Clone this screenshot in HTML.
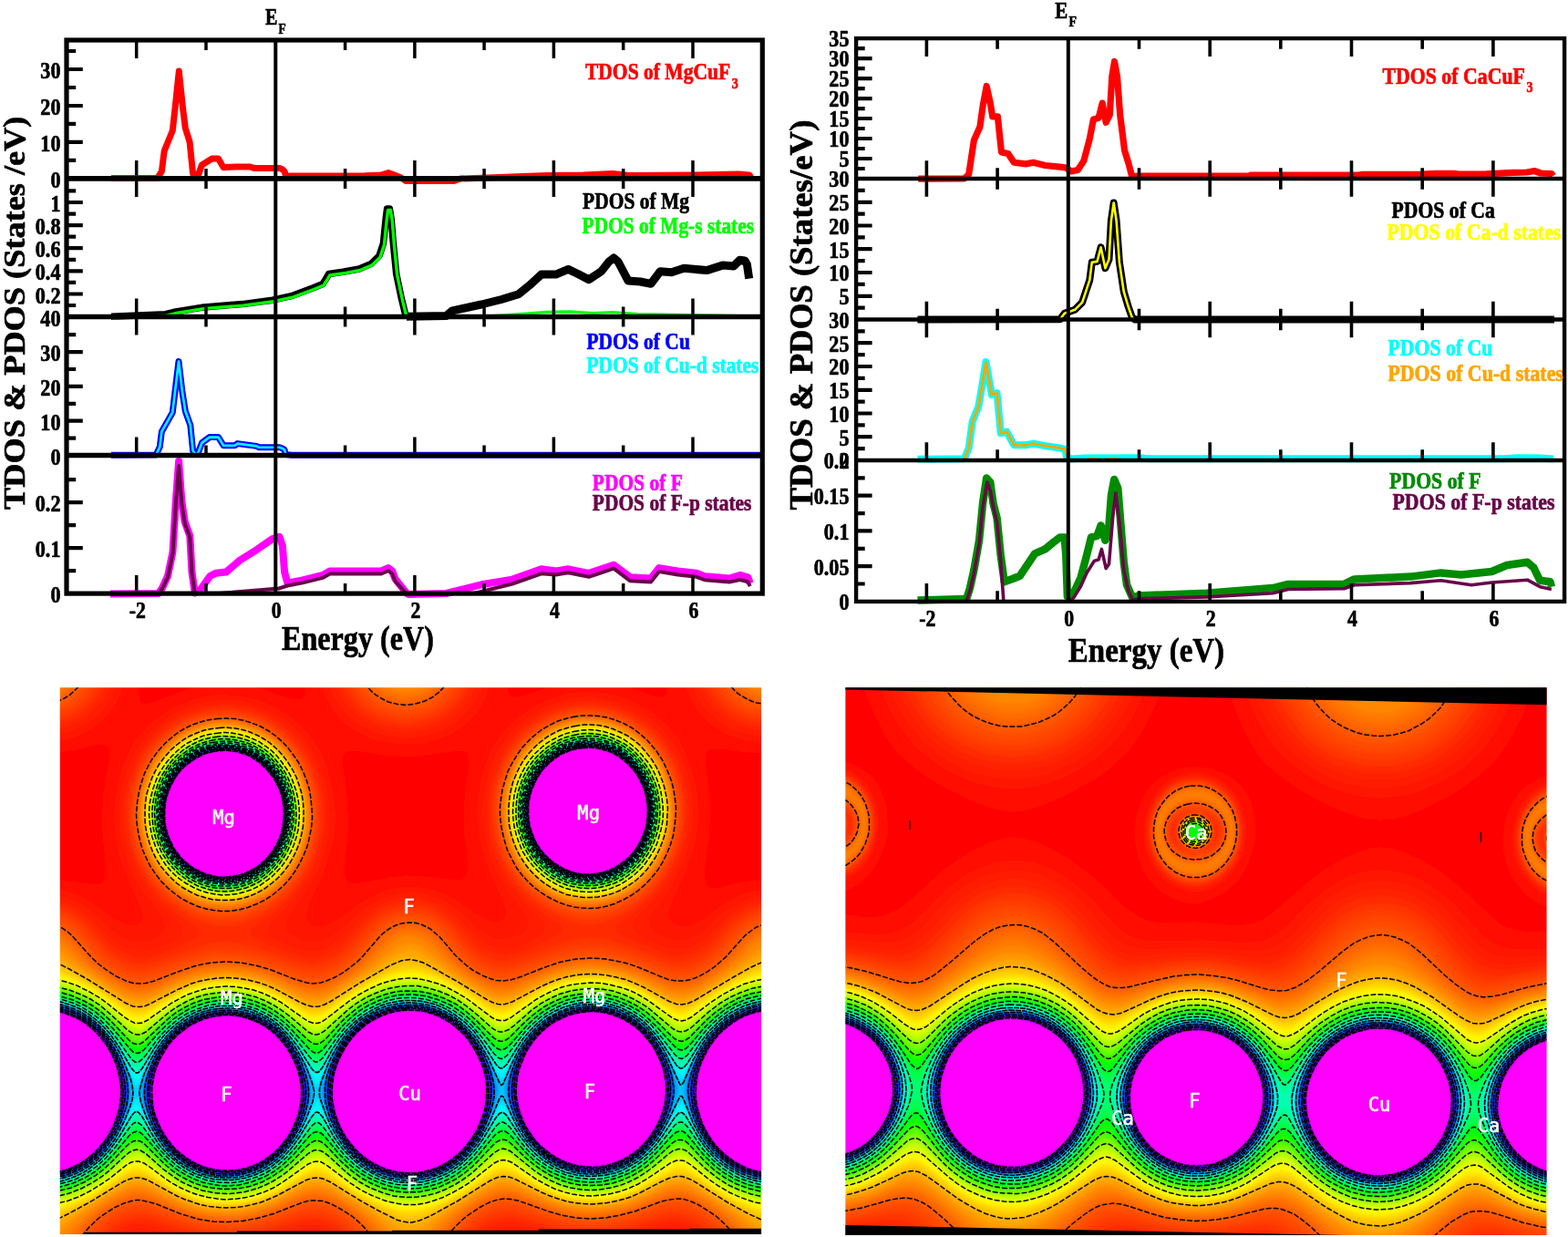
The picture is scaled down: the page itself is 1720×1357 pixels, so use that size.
<!DOCTYPE html>
<html lang="en">
<head>
<meta charset="utf-8">
<title>TDOS and PDOS of MgCuF3 and CaCuF3 with electron charge density maps</title>
<style>
html,body{margin:0;padding:0;background:#fff;}
body{width:1720px;height:1357px;overflow:hidden;}
svg{display:block;font-family:'Liberation Serif',serif;font-weight:bold;}
text{stroke-width:0.7px;stroke-linejoin:round;}
.mono{stroke:#fff;stroke-width:0.6px;}
.mono{font-family:'DejaVu Sans Mono','Liberation Mono',monospace;font-weight:normal;}
</style>
</head>
<body>
<svg width="1720" height="1357" viewBox="0 0 1720 1357">
<defs>
<clipPath id="clipL"><rect x="70" y="40" width="770" height="616"/></clipPath><clipPath id="clipR"><rect x="936" y="38" width="784" height="626"/></clipPath>
<clipPath id="mapL"><rect x="65.8" y="754.3" width="769.3000000000001" height="599.7"/></clipPath><filter id="mapLb" x="-5%" y="-5%" width="110%" height="110%"><feGaussianBlur stdDeviation="1.6"/></filter><clipPath id="mapR"><rect x="927.4" y="754.2" width="769.1999999999999" height="600.8"/></clipPath><filter id="mapRb" x="-5%" y="-5%" width="110%" height="110%"><feGaussianBlur stdDeviation="1.6"/></filter>
</defs>
<rect width="1720" height="1357" fill="#fff"/>
<g id="maps">
<g clip-path="url(#mapL)">
<g>
<g filter="url(#mapLb)">
<rect x="35.8" y="724.3" width="829.3000000000001" height="659.7" fill="#ff0300"/>
<path fill="#ff0800" d="M36 724l116 0 0 34 1 6 1 4 1 2 3 2 2 0 8-2 28-11 16-5 16-3 16-2 16 1 16 3 16 4 26 9 6 1 4 0 3-1 2-2 1-2 1-4 1-34 218 0 2 24 1 8 1 4 2 2 2 2 4 0 10-2 24-8 14-4 16-3 14-1 16 1 14 2 14 4 28 10 6 1 4 0 2-1 2-1 2-4 0-2 2-8 1-24 131 0 0 98-16 3-18 1-14 0-26-4-8 0-4 0-2 1-3 3-1 4 0 6 5 40 0 22-1 20-4 32-1 10 1 6 1 4 3 3 4 1 8-1 26-6 16-2 10 0 8 0 16 3 0 416-107 0-7-3-6-2-6-1-8-1-14 1-32 5-16 1-44 0-46-6-14-1-8 1-6 1-6 2-7 3-182 0-9-3-12-1-14 0-24 4-98 0-24-4-14-1-12 1-6 2-5 2-103 0 0-417 14-2 14 0 10 1 22 3 8 1 6-1 2-1 2-3 2-5 0-6-4-40 0-24 1-20 6-34 1-10 0-4-2-3-2-1-4-1-8 1-22 5-14 2-16 1-16-1zM382 824l-2 1-2 2-2 3 0 4 1 10 4 30 1 18 0 22-4 40 1 8 2 4 3 2 2 1 6 0 36-7 18-2 20 1 32 4 4 0 4 0 3-3 3-4 1-8-4-36 0-14 0-22 5-40-1-8-2-4-3-2-6 0-36 5-12 1-12 0-20-1-32-5z"/>
<path fill="#ff0d00" d="M36 724l110 0-1 16-2 14-5 14-5 12-7 10-8 8-12 8-12 5-14 5-16 3-14 1-14-1zM343 724l205 0-1 8-2 20-4 20-2 6-4 8-5 6-4 4-8 6-10 6-12 5-10 4-10 3-12 2-12 1-12 0-10-1-10-1-12-3-10-3-12-6-8-4-8-5-7-6-5-6-3-6-4-8-3-8-4-20-1-12zM742 724l124 0 0 92-12 3-12 1-14 0-12-2-12-3-14-4-12-6-12-7-7-6-4-6-3-6-3-8-4-12-2-12-1-12zM628 754l16-1 16 1 16 3 18 6 18 9 21 12 10 8 4 4 4 6 4 8 3 10 8 26 4 22 2 20-1 20-2 18-4 16-9 32-2 8 0 4 0 4 3 4 3 2 2 0 4 0 4-1 6-2 28-14 10-4 12-3 10-1 10 0 10 0 10 3 0 410-95 0-9-7-8-4-10-3-10-1-16 1-44 7-24 1-14 0-12-1-46-7-10-1-8 0-10 2-8 3-8 4-8 6-155 0-8-6-8-4-7-2-10-1-16 1-30 6-20 3-16 1-16 0-22-2-42-8-16-1-10 1-8 2-8 4-8 6-90 0 0-412 8-1 8-1 10 0 8 2 10 2 10 3 26 11 6 2 6 1 2-1 2-2 2-4-1-8-10-40-3-20-1-20 1-18 2-14 3-12 6-22 5-12 5-8 5-8 5-6 7-6 8-6 10-7 10-5 10-5 10-4 12-3 10-2 10-2 10 0 10 1 10 1 10 2 10 3 10 4 10 5 14 8 12 8 8 6 7 8 6 10 4 10 6 16 3 14 3 14 2 14 1 14 0 14-2 12-2 14-11 44 0 8 1 4 2 2 2 1 6-1 8-2 22-11 14-6 16-4 10-2 8 0 14 1 16 3 14 4 24 10 6 1 4 0 2 0 2-2 1-4 0-4-1-9-7-29-4-18-2-18 0-18 2-18 4-18 6-22 6-16 4-8 6-8 9-8 14-9 16-8 16-7 14-5z"/>
<path fill="#ff1400" d="M36 724l104 0-1 10-1 8-2 8-3 10-4 8-4 8-5 6-5 6-7 6-8 6-8 4-8 4-10 3-8 2-8 1-10 0-12-1zM349 724l193 0-1 10-2 10-2 10-3 8-3 8-5 8-4 6-6 6-6 6-8 5-8 5-10 4-10 3-8 2-10 1-10 1-10-1-10-1-10-2-10-3-10-5-8-4-8-6-6-5-5-6-5-6-4-8-4-8-3-8-2-10-2-10zM747 724l119 0 0 87-10 2-12 1-12 0-10-1-12-3-10-3-10-5-9-6-7-6-8-8-5-8-4-8-4-10-3-10-2-10zM626 760l8-1 10 0 10 0 10 1 10 2 10 3 10 4 8 4 16 10 8 7 7 6 6 8 5 6 4 8 4 8 7 18 5 20 2 20 0 20-3 20-6 20-6 16-13 28-4 10-1 4 1 4 2 4 2 2 4 3 6 1 6 0 6-2 10-5 20-15 12-7 12-6 10-3 12-2 10-1 10 1 10 2 0 406-86 0-12-11-10-7-6-2-6-2-12-1-14 1-42 8-14 1-14 1-14-1-16-1-48-8-8-1-8 0-10 3-10 4-8 7-10 9-138 0-10-9-10-7-8-3-10-2-8 0-9 1-33 7-16 3-14 1-14 1-14-1-14-1-14-3-34-7-8-1-8 0-10 1-10 5-8 5-11 10-81 0 0-407 8-1 10-1 10 1 10 2 10 3 12 6 11 7 19 14 10 5 6 2 6 0 4-1 2-2 1-2 1-2 1-4-2-6-17-38-5-14-3-10-2-10-2-12-1-12 0-10 1-12 2-14 3-14 4-12 4-10 6-12 5-8 9-10 9-9 10-7 10-7 12-5 12-5 12-3 12-2 12 0 12 1 12 2 12 3 12 5 12 6 10 7 10 8 8 8 6 8 7 10 6 12 4 10 3 12 3 12 2 12 1 12 0 12-1 12-2 12-4 14-7 20-15 32-2 8-1 4 0 4 3 4 3 3 4 1 4 0 4 0 6-2 10-5 26-19 14-8 10-4 8-3 10-2 10 0 10 0 8 1 8 2 10 3 8 4 8 4 24 17 8 4 8 3 6 1 4-2 4-3 1-5 0-4-3-8-13-28-6-16-6-20-3-20-1-16 1-16 3-16 4-16 6-16 8-14 9-12 10-10 14-10 14-9 16-6 10-3z"/>
<path fill="#ff1c00" d="M36 724l98 0-3 16-2 8-3 8-4 8-3 6-5 7-6 7-6 5-6 4-8 5-8 4-8 2-8 2-8 1-8 1-12-1zM355 724l180 0-1 8-2 10-2 8-3 8-4 8-4 6-4 6-6 6-6 6-7 5-8 5-8 3-8 3-8 2-8 1-10 1-10-1-8-1-8-2-8-2-8-4-8-4-8-5-6-6-6-6-5-7-4-6-4-8-3-8-2-8-2-8zM754 724l112 0 0 80-10 3-10 1-10 0-10-1-10-3-10-3-10-5-8-5-8-7-6-6-6-8-4-8-4-8-3-10-2-10zM625 766l9-1 10-1 10 1 8 1 10 2 10 3 10 4 8 4 8 5 8 6 8 7 6 7 7 8 6 10 4 8 4 10 4 10 2 10 2 10 1 10 0 10 0 10-1 10-2 10-2 10-4 12-8 18-8 14-17 24-5 8-1 4 0 4 2 4 2 3 4 3 4 2 10 4 10 2 10-1 7-3 7-4 6-5 16-15 8-6 10-6 10-5 12-4 12-2 12 1 12 2 0 400-78 0-14-15-6-6-6-4-6-3-6-2-6-1-8-1-14 2-28 6-16 3-14 1-14 1-14 0-16-2-50-10-8-1-8 1-6 1-6 2-10 6-10 8-13 14-120 0-13-13-10-9-10-5-6-2-6 0-8 0-10 1-32 8-18 3-14 1-14 1-14-1-14-1-16-3-34-8-8-2-8 0-6 1-6 2-10 5-10 8-14 14-72 0 0-401 12-2 12 1 10 2 12 4 10 5 8 6 24 22 6 4 8 5 6 2 10 1 10-1 8-4 4-3 3-3 1-2 1-4-2-6-3-6-15-20-8-12-7-12-5-12-4-12-3-10-2-12-1-12 0-16 1-14 3-12 4-14 6-14 5-10 7-10 9-10 8-7 10-8 10-6 12-6 12-4 12-2 12-1 12 0 12 1 14 4 12 5 10 5 10 6 10 8 9 9 7 10 7 10 4 10 4 10 4 12 2 10 2 14 1 12-1 12-2 14-2 10-4 14-4 10-6 12-5 8-21 30-4 8 0 4 1 4 3 4 5 3 8 4 10 2 8 0 8-2 6-3 8-5 25-23 7-5 8-5 10-5 10-3 10-2 10-1 8 0 10 2 8 3 8 3 8 4 8 6 9 7 15 14 8 6 4 2 6 3 6 1 6 0 9-2 5-2 4-2 4-3 2-3 1-2 0-4-1-4-3-6-16-22-10-16-8-16-6-18-4-20-2-20 2-20 4-18 5-16 7-14 9-14 11-12 13-10 14-9 14-6z"/>
<path fill="#ff2400" d="M36 724l92 0-1 8-2 8-4 14-5 8-3 6-5 6-6 6-6 6-6 4-6 3-8 4-14 4-8 1-8 0-10-1zM361 724l168 0-2 16-3 8-3 8-7 13-4 5-6 7-6 5-6 4-6 4-8 3-8 3-8 2-8 1-8 1-8-1-8-1-8-1-8-3-6-3-8-4-12-9-6-6-5-6-4-6-4-8-3-8-3-8zM760 724l106 0 0 75-10 2-8 1-10 0-10-1-10-2-8-3-8-4-8-5-8-6-6-6-5-7-5-8-4-8-3-10-2-8zM627 770l11-1 10 0 10 0 10 2 8 2 10 4 10 5 8 5 8 6 8 7 6 6 6 8 7 10 4 8 4 10 4 10 4 18 1 20-1 20-2 10-3 10-3 10-4 10-5 8-6 10-10 14-23 24-4 6-2 4 1 2 2 4 2 2 6 4 7 4 17 7 12 2 6 1 6-1 8-3 10-5 8-7 15-16 7-6 8-6 10-6 12-4 12-2 12 1 12 2 0 395-71 0-17-20-6-5-6-5-7-4-7-3-6-1-8-1-14 2-30 7-16 3-14 2-14 1-16-1-16-2-50-11-8 0-8 0-6 1-6 3-6 3-6 4-10 9-16 18-106 0-16-18-10-9-6-4-6-3-6-1-6-1-8 0-10 1-34 9-16 3-16 2-14 0-14 0-14-2-18-4-34-8-8-2-8 0-6 1-6 2-6 3-6 3-10 9-17 19-65 0 0-396 12-2 10 0 12 3 10 4 8 5 9 6 8 8 15 15 8 7 8 5 8 3 6 1 6 1 6-1 8-2 8-3 9-4 7-4 4-4 2-3 0-3 0-2-3-4-5-6-16-16-8-8-7-10-8-12-6-12-4-10-4-14-3-12-1-16 0-14 2-14 4-16 6-16 6-12 7-10 8-10 8-8 10-7 10-6 12-6 12-4 12-2 14-1 12 0 12 3 10 2 14 6 10 6 10 7 10 10 9 10 6 10 6 10 4 10 4 12 2 12 2 12 0 12 0 12-2 12-3 12-3 12-6 12-6 12-7 10-6 8-8 9-17 17-4 6-1 4 1 4 1 2 6 4 7 4 9 4 13 4 11 2 6-1 6-1 8-4 9-6 7-6 20-20 8-7 8-5 8-4 10-4 10-1 10-1 8 1 8 2 8 3 8 3 8 5 7 6 23 23 8 6 6 4 6 2 6 1 8 1 6-1 8-2 8-4 8-4 7-4 4-4 1-2 0-4-1-4-3-4-22-22-12-14-10-16-7-16-4-10-2-10-2-12-1-10 0-10 0-12 2-12 3-10 5-16 7-14 9-14 12-12 12-10 14-8 16-7z"/>
<path fill="#ff2c00" d="M36 724l87 0-2 14-5 14-7 12-5 6-5 6-11 9-8 4-6 3-14 4-14 1-10 0zM366 724l158 0-1 8-1 8-6 14-7 12-9 11-6 5-6 4-12 6-14 5-8 1-8 1-8-1-8-1-14-4-12-6-6-4-6-5-10-11-5-7-3-6-6-14-1-8zM765 724l101 0 0 70-8 2-10 1-10 0-8-1-8-1-8-3-8-4-8-4-7-6-6-6-5-6-5-8-4-8-3-8-2-8zM638 772l10 0 10 1 10 2 10 3 10 4 8 4 8 5 8 6 8 7 7 8 5 8 5 8 6 12 4 10 2 10 2 10 2 10 0 10 0 10-2 10-1 10-3 10-6 16-6 10-5 8-6 8-6 8-14 13-23 17-6 6-1 2 0 2 1 2 2 2 6 4 9 4 19 8 15 6 8 2 6 1 6 0 6-1 10-3 10-6 8-7 14-16 8-8 10-7 8-4 10-4 12-2 12 0 12 3 0 390-65 0-20-24-5-5-6-5-6-4-9-4-7-2-8 0-8 0-8 1-30 8-16 3-14 2-14 1-16-1-18-2-48-12-10 0-8 0-6 2-7 2-7 4-5 4-9 9-20 23-94 0-19-22-9-9-6-4-6-3-6-2-8-2-8 0-10 1-36 10-18 4-14 1-14 1-16-1-14-2-14-3-36-10-8-1-8-1-7 1-7 2-8 4-6 4-10 10-19 22-59 0 0-392 10-2 12 1 10 2 10 4 8 5 8 6 8 8 16 18 8 7 10 6 6 2 6 2 6 0 8 0 8-2 9-3 20-8 13-6 6-4 2-2 1-2 0-2-3-4-22-15-10-8-10-9-10-12-9-12-6-12-6-14-4-14-2-16-1-16 1-14 3-16 5-14 7-16 8-12 10-11 10-9 10-7 10-6 14-5 12-3 12-2 12 0 12 2 12 3 14 5 10 6 10 7 10 8 7 8 7 10 7 12 6 14 3 12 3 12 1 12 0 12-1 14-3 12-3 12-4 10-6 12-6 10-9 12-8 8-8 8-10 7-18 13-4 4-1 2 0 2 1 2 2 2 8 4 8 4 20 8 12 4 9 2 7 1 6 0 6-1 10-4 10-6 8-7 22-24 6-5 8-6 8-4 10-3 10-2 10 0 8 1 8 2 8 4 8 4 6 5 6 5 23 24 5 5 6 4 6 2 6 2 6 1 6 0 8-1 10-3 24-10 16-8 4-4 0-2 0-2-3-4-27-19-8-7-8-8-7-8-7-10-5-8-5-10-4-10-3-12-3-12-1-12 0-12 1-12 2-10 3-12 6-16 7-14 11-14 11-11 14-10 8-4 8-4 14-4 8-2z"/>
<path fill="#ff3400" d="M36 724l83 0-3 14-4 12-7 12-9 11-10 8-12 6-6 2-8 2-14 2-10-1zM370 724l150 0-3 14-2 8-3 6-7 12-9 10-6 5-6 4-12 6-12 3-14 2-14-1-14-4-12-6-12-9-9-10-7-12-5-14zM769 724l97 0 0 65-8 2-8 1-8 1-10-1-8-2-8-2-8-4-6-3-6-5-6-6-5-6-6-8-4-8-3-8-2-8zM628 776l12-1 10 0 10 1 12 3 10 3 10 5 10 6 8 6 8 7 7 8 5 8 7 12 4 8 4 12 3 12 2 12 0 12 0 10-1 10-3 12-3 12-5 10-5 10-6 10-7 9-8 8-10 9-10 7-12 7-12 5-8 3-10 2-8 0-6-1-12-3-10-5-12-6-8-5-10-8-8-7-8-9-7-10-6-10-4-8-4-10-3-8-3-12-1-10 0-12 0-10 1-10 2-10 4-12 4-10 4-8 6-10 6-8 7-7 8-7 8-6 10-6 10-5 8-2zM238 778l10 0 12 1 10 2 10 3 12 5 8 5 8 6 8 7 7 7 6 8 6 8 6 12 4 12 4 12 2 12 0 10 0 12-1 10-2 12-3 12-4 10-5 10-5 8-7 11-8 9-8 7-10 8-10 6-12 6-10 4-10 3-8 0-10 0-8-2-8-3-12-5-12-7-8-6-8-6-9-9-6-8-6-8-6-10-5-10-3-10-3-12-2-12-1-10 0-12 1-12 2-12 3-8 4-10 4-10 6-10 6-8 8-8 7-6 8-6 10-6 10-5 10-3 10-3zM48 994l8 1 8 1 8 3 8 4 7 5 7 6 20 23 10 9 8 5 6 3 8 3 8 0 8 0 10-2 38-14 18-5 12-3 8 0 10 1 16 3 18 6 26 9 12 4 12 1 10-1 6-2 6-2 6-4 5-4 9-8 19-22 6-6 7-5 8-4 8-3 8-2 10-1 8 1 8 1 8 3 8 5 7 5 7 6 18 21 8 7 6 5 6 3 10 4 10 0 12-1 8-3 30-11 18-6 14-3 12-2 10 1 16 4 18 6 28 11 10 3 10 2 8 0 6-1 6-2 8-4 6-4 9-8 15-17 6-7 10-7 8-5 10-4 12-2 12 1 10 3 0 386-59 0-8-8-16-20-5-5-6-5-8-5-8-4-8-2-8-1-6 1-9 1-31 9-14 3-16 2-14 1-16-1-18-2-14-3-26-8-10-2-10 0-8 1-6 1-7 3-7 4-6 5-10 9-14 18-7 8-84 0-7-8-14-18-10-9-7-5-7-4-6-2-6-1-10 0-10 1-36 11-18 4-14 1-14 1-16-1-14-2-18-4-32-10-10-2-8 0-8 2-6 2-8 4-6 4-10 10-15 18-8 8-53 0 0-388z"/>
<path fill="#ff3c00" d="M36 724l79 0-3 14-5 12-6 10-9 10-10 8-12 6-12 3-12 2-10-1zM374 724l142 0-3 14-5 12-6 11-8 9-10 8-12 6-12 4-14 2-14-2-12-3-12-6-10-7-9-10-7-12-5-12zM773 724l93 0 0 61-8 2-6 1-8 1-8-1-8-1-8-2-8-4-6-3-6-4-6-6-6-6-4-6-4-8-3-8-3-8zM631 778l11-1 10 0 10 2 10 2 10 4 10 4 10 7 8 6 6 6 7 8 6 8 6 10 4 10 4 10 2 10 3 14 0 12 0 12-2 10-3 12-2 8-4 10-6 10-6 10-7 9-8 8-10 9-8 5-10 6-10 4-10 3-10 2-10 0-8-1-8-2-12-4-8-4-10-5-8-6-10-9-7-7-6-8-7-10-5-10-4-10-2-8-3-10-2-12 0-10 0-12 1-10 2-10 4-12 4-10 5-10 6-8 6-8 8-8 8-7 8-5 8-5 10-4 10-3zM227 782l11-1 10-1 10 1 10 2 10 3 10 4 10 5 8 6 8 7 8 8 6 8 6 10 5 10 4 10 3 12 2 12 1 12 0 12-2 12-2 10-3 10-4 10-5 10-6 10-7 9-8 9-8 6-10 8-10 5-10 4-10 4-8 1-10 1-10-1-10-2-8-3-10-4-10-6-8-5-8-7-7-7-7-8-5-8-6-10-5-10-4-10-2-8-2-12-1-10 0-12 1-12 1-8 3-12 3-8 6-12 4-8 6-8 7-8 8-7 8-7 8-5 8-4 10-4zM44 998l8 0 8 1 8 2 8 4 7 5 7 6 22 25 10 9 8 5 8 4 8 3 8 1 8-1 8-2 36-12 14-4 14-3 14-1 14 1 16 3 12 3 31 11 11 3 10 1 10-1 6-1 7-4 7-4 5-4 9-8 20-23 6-6 6-4 8-5 8-3 8-2 8 0 8 1 8 1 8 4 6 3 6 5 6 5 19 22 9 9 6 4 6 4 6 2 6 2 10 1 9-2 13-3 30-11 12-4 16-3 14-1 14 1 14 2 18 6 36 13 10 2 8 0 8-1 6-2 8-4 6-5 10-9 14-17 8-7 8-7 8-5 10-3 10-2 6 0 6 1 10 3 0 382-54 0-8-8-18-23-6-6-6-5-10-6-8-3-8-2-8-1-6 0-8 2-30 9-16 4-16 2-14 1-16-1-16-2-14-3-28-9-10-2-10-1-8 1-8 2-7 3-7 5-8 5-8 9-16 20-9 9-72 0-9-9-16-20-9-9-7-5-8-4-6-3-8-2-8 0-10 1-38 12-16 4-16 2-14 1-14-1-16-2-16-4-34-11-10-2-8 0-8 1-8 3-8 4-6 4-10 10-18 22-8 8-48 0 0-384z"/>
<path fill="#f40" d="M36 724l75 0-3 12-4 12-7 10-7 9-10 8-10 5-12 3-12 2-10-1zM378 724l134 0-2 12-5 12-6 10-9 10-10 8-10 5-12 3-12 2-12-1-12-4-12-5-10-8-8-9-7-11-5-12zM777 724l89 0 0 57-8 2-6 1-8 1-8-1-8-1-6-2-8-3-6-3-6-5-6-5-6-7-4-6-3-6-3-8zM631 780l11-1 10 1 10 1 10 2 10 4 10 5 8 5 8 6 7 7 7 8 7 10 5 8 4 10 3 10 3 12 2 10 0 12 0 12-2 10-3 12-4 12-4 8-4 8-7 10-6 8-8 8-8 7-10 6-8 4-10 5-12 3-8 1-10 0-8-1-10-2-10-3-10-5-8-5-8-5-8-7-7-8-7-8-5-8-6-10-4-10-2-8-3-10-2-12 0-12 0-10 1-10 2-10 3-10 4-10 4-8 7-10 6-8 7-8 8-6 10-7 8-4 8-4 10-3zM227 784l11-1 10-1 10 1 10 2 10 3 10 4 10 6 8 6 8 7 7 7 6 8 6 10 4 8 5 12 3 12 1 10 1 12 0 12-2 12-2 10-3 10-4 10-5 10-5 8-7 8-7 8-8 7-8 6-10 6-10 4-10 4-10 1-8 1-10 0-8-2-10-2-10-4-10-6-8-5-8-6-6-6-7-8-6-8-6-10-5-10-3-10-4-12-1-10-1-10 0-10 1-10 1-10 3-12 3-8 6-12 5-8 6-8 7-8 7-6 8-7 10-6 8-3 8-3zM41 1002l9 0 8 0 8 3 8 3 6 4 7 6 23 26 11 10 9 6 8 4 8 2 8 1 8-1 8-2 32-11 18-5 14-3 14 0 16 1 18 3 14 4 28 10 10 3 10 1 8-1 6-2 8-3 7-5 7-5 10-10 18-21 6-6 6-4 6-4 8-3 8-2 8-1 8 1 6 2 8 3 6 3 6 5 6 5 18 21 10 10 6 5 6 3 8 4 6 1 8 1 10-1 9-3 29-10 16-5 16-3 16-2 14 1 14 3 18 5 37 13 9 2 9 0 7-1 8-3 7-4 6-4 11-9 21-25 7-6 8-4 10-5 10-1 6 0 6 0 10 3 0 379-48 0-11-10-19-24-11-10-9-6-8-4-10-3-8-1-8 1-8 1-30 10-16 4-14 2-16 1-18-1-16-3-16-4-26-8-10-2-10-1-8 1-8 3-8 4-7 4-7 6-10 10-18 22-8 8-62 0-8-8-18-22-10-10-8-6-6-4-8-3-8-2-10-1-10 2-36 11-18 5-14 2-16 1-16-1-16-3-16-4-34-11-8-2-8 0-8 1-8 3-9 4-8 6-11 11-19 23-9 8-42 0 0-381z"/>
<path fill="#ff4c00" d="M36 724l71 0-2 12-4 10-7 10-7 8-9 7-10 6-10 3-12 1-10-1zM381 724l128 0-3 12-4 10-6 10-8 9-10 8-10 5-10 3-12 1-12-1-10-3-10-4-10-8-8-8-7-10-5-12zM781 724l85 0 0 53-6 2-8 1-6 1-8 0-8-1-6-2-6-2-7-4-6-4-5-5-5-5-4-6-4-6-3-8-2-6zM630 782l10-1 10 0 10 1 10 3 8 2 10 5 10 6 8 6 7 6 7 8 7 10 6 10 4 10 3 10 3 10 1 10 1 10-1 10-1 12-2 10-4 12-4 8-5 10-5 8-6 8-8 8-9 8-8 5-10 6-10 4-8 2-10 2-10 0-8 0-10-2-10-3-10-4-8-5-8-5-8-7-7-7-7-8-5-8-5-8-3-8-5-12-2-8-2-12-1-10 0-10 2-12 2-10 2-10 4-10 5-10 5-8 6-8 7-7 8-7 8-6 8-4 10-5 10-3zM242 784l10 0 10 2 10 2 10 3 8 4 10 6 8 7 7 6 7 8 6 8 4 8 5 10 4 10 2 10 2 10 1 12-1 10-1 10-1 10-4 12-4 10-4 8-6 10-6 8-7 8-8 7-8 6-10 5-10 5-8 2-10 3-10 0-10 0-8-1-8-2-10-4-8-4-10-6-8-6-9-9-7-8-5-8-6-10-5-10-3-10-2-10-2-10-1-10 1-10 1-10 1-10 4-12 4-10 4-8 6-10 6-8 7-6 8-7 8-6 10-6 10-4 8-2 10-2zM443 1004l9 0 8 1 8 3 6 3 6 4 6 5 22 26 6 5 6 5 8 5 8 4 8 2 8 1 8-1 8-2 32-12 18-5 16-3 14-1 18 1 18 4 14 5 28 10 10 3 10 1 8 0 6-2 8-4 12-8 11-10 15-17 6-6 7-7 7-4 10-4 10-1 10 1 10 3 0 375-42 0-6-4-6-6-19-24-6-6-7-6-10-7-10-5-10-3-8-1-6 1-8 1-32 11-16 4-16 2-14 1-16 0-18-3-14-4-27-9-11-3-10 0-8 1-8 2-8 4-8 5-7 5-10 10-19 24-6 6-6 4-50 0-6-4-6-6-18-23-11-11-9-6-7-4-7-3-8-2-10-1-10 2-36 13-18 4-16 3-14 0-14-1-16-2-20-6-32-11-10-2-8 0-8 2-8 3-10 5-8 6-10 10-20 25-6 5-5 4-37 0 0-377 8-2 10 0 10 2 8 4 7 5 7 6 19 22 11 11 7 5 7 4 8 4 8 2 8 1 10-1 10-3 26-10 14-4 18-4 16-1 14 1 16 3 18 5 32 11 8 2 8 1 6-1 8-2 8-3 8-5 7-6 7-6 21-24 9-9 6-4 6-3 6-2z"/>
<path fill="#ff5400" d="M36 724l68 0-3 12-4 10-6 8-7 8-8 7-10 5-10 2-12 1-8 0zM385 724l120 0-2 10-4 10-6 10-7 8-8 6-10 6-10 3-12 1-12-1-10-3-10-5-8-6-8-8-6-9-4-10zM784 724l82 0 0 49-12 4-6 0-8 0-8-1-6-1-6-2-6-3-6-4-6-6-8-10-4-6-2-6-2-6zM628 784l10-1 10 0 10 1 10 2 10 3 10 4 8 5 8 6 8 7 6 7 6 8 5 8 4 8 5 12 3 12 1 10 1 10 0 12-2 12-2 10-2 8-4 10-5 10-7 10-7 8-6 7-8 7-8 5-8 5-10 4-10 3-10 2-10 0-8 0-10-2-10-3-10-5-8-4-8-6-6-4-7-7-6-8-6-8-6-10-4-10-4-10-2-10-2-10 0-10 0-10 1-12 3-10 2-8 4-10 4-8 6-10 6-8 7-6 8-7 8-6 8-4 8-4 10-3zM237 786l11 0 10 1 8 1 10 3 10 4 8 4 8 6 8 6 8 9 6 8 7 10 3 8 4 10 3 10 2 10 1 10 0 10-1 12-2 10-2 10-4 10-5 10-4 8-6 8-7 8-7 7-8 6-10 6-8 4-10 4-10 2-8 1-10 0-8-1-10-2-10-3-8-4-8-5-8-5-8-7-6-7-7-8-6-10-4-8-4-10-3-10-3-10-1-10 0-12 1-10 1-12 2-8 5-12 3-8 5-8 6-8 6-8 7-6 8-6 10-7 8-4 10-3 8-2zM48 1008l8 1 6 1 8 4 6 4 9 8 21 24 9 8 9 6 8 5 8 3 8 2 6 0 6 0 8-2 34-12 14-5 16-3 16-1 16 1 18 4 14 4 28 10 10 3 10 1 8-1 8-2 8-4 8-5 8-6 10-10 19-22 5-4 6-5 6-3 6-3 6-1 8-1 8 1 6 2 6 2 6 4 9 8 19 22 10 9 8 6 8 5 8 3 6 2 8 1 10-2 12-4 24-9 16-5 16-3 18-2 16 1 16 3 18 6 34 13 10 2 8 0 7-2 7-2 8-4 8-6 12-10 22-25 6-5 8-5 8-3 10-2 10 1 9 3 1 1 0 371-36 0-8-5-6-5-6-7-16-20-7-7-7-5-10-7-10-5-10-3-8-1-6 1-8 1-30 11-16 4-16 3-16 1-18-1-18-3-16-5-26-9-8-2-10-1-8 1-8 3-8 4-9 5-8 6-11 11-14 18-6 7-8 6-7 4-36 0-1 0-8-5-6-6-20-24-11-11-7-5-8-5-8-4-8-2-8-1-10 1-10 3-28 10-14 4-18 4-18 1-16-1-16-3-16-5-36-12-8-2-8 0-8 2-8 3-9 4-9 7-7 5-6 6-15 20-6 6-6 5-6 4-2 1-30 0 0-374 6-1z"/>
<path fill="#ff5c00" d="M36 724l65 0-3 10-4 10-6 9-7 7-8 6-9 5-10 2-10 1-8-1zM388 724l114 0-3 10-4 10-5 9-7 7-8 6-9 5-10 3-10 1-10-1-10-3-10-4-8-6-8-9-5-8-4-10zM787 724l79 0 0 45-6 3-6 1-6 1-8 0-12-2-6-2-6-3-6-4-5-5-5-5-4-5-3-6-3-6zM641 784l9 0 10 1 10 3 10 3 8 4 8 5 8 6 7 6 5 6 6 8 7 10 4 10 4 10 2 8 2 10 1 12 0 10-1 10-2 10-4 12-4 10-4 8-5 8-6 8-8 9-8 7-8 5-8 5-8 3-10 4-10 1-8 1-10 0-10-2-8-2-10-3-8-5-8-5-8-6-7-6-7-8-5-8-6-10-4-8-4-10-2-10-2-10-1-10 0-10 1-10 2-10 3-12 4-10 4-8 5-8 7-8 7-8 9-7 8-6 8-4 8-3 8-3 10-2zM233 788l9-1 10 0 10 2 10 2 10 4 8 4 8 5 8 6 7 6 7 8 5 8 6 10 4 10 4 10 2 8 1 10 1 10 0 10-2 12-2 10-2 8-4 10-5 10-7 10-7 8-6 7-8 7-8 5-8 4-10 5-8 2-10 2-10 0-10 0-10-2-8-3-8-3-8-4-8-5-8-7-7-6-6-8-6-8-6-10-4-10-3-8-2-10-2-10-1-10 0-10 2-12 2-10 2-8 4-10 4-8 6-10 7-8 6-6 8-7 8-6 8-4 8-4 10-3zM41 1012l7 0 8 0 7 2 7 4 10 7 22 25 6 6 8 6 12 8 9 4 9 3 8 1 6-1 8-2 32-12 16-5 16-3 16-1 18 1 18 4 14 4 26 10 10 3 10 2 8-1 8-3 8-4 10-6 8-6 11-10 19-22 9-8 7-4 6-2 6-1 6 0 6 0 6 2 6 2 5 3 10 8 19 22 11 10 8 6 7 4 8 4 8 2 8 1 8-1 10-3 28-11 14-5 18-4 18-1 16 1 16 3 18 5 34 14 10 2 8 0 8-2 7-3 9-4 8-6 8-6 6-6 20-22 6-5 6-4 8-4 10-1 10 1 8 2 2 1 0 364-6 3-5 1-14 0-5-1-6-3-6-3-6-6-20-24-12-11-8-6-10-6-10-5-8-2-8-1-8 1-10 3-26 9-14 4-18 4-18 1-16-1-16-3-16-5-32-11-8-1-6-1-8 1-9 3-11 6-10 6-8 6-6 7-18 22-8 7-8 6-10 4-18 0-4-1-6-3-6-4-6-5-20-25-6-6-8-6-10-7-10-5-10-3-8-1-6 0-8 2-30 12-18 5-18 4-16 1-16-1-16-3-18-5-36-13-10-2-10 1-8 2-8 4-10 5-8 6-7 6-5 6-19 22-5 5-6 5-6 2-7 2-14 0-5-1 0-369z"/>
<path fill="#ff6400" d="M36 724l61 0-2 10-4 8-5 9-8 7-8 6-8 4-8 2-10 1-8-1zM391 724l108 0-3 10-3 8-6 8-7 8-8 6-8 4-8 2-10 1-10 0-9-3-9-4-8-6-6-6-6-9-4-9zM791 724l75 0 0 42-6 2-6 2-6 1-6 0-6-1-6-1-6-2-6-3-6-4-4-3-8-10-3-5-3-6zM633 786l9 0 10 0 10 1 10 3 10 3 8 5 8 5 8 6 7 7 7 8 5 8 4 8 4 8 4 12 2 10 1 10 1 10-1 10-1 10-2 10-4 10-4 10-6 10-5 8-7 8-7 7-8 6-8 5-10 5-8 3-8 2-10 1-10 0-8 0-10-2-10-3-8-4-8-5-8-5-8-7-6-7-7-8-5-8-5-10-4-10-2-8-2-10-1-10-1-10 1-10 1-8 2-10 3-10 5-10 4-8 5-8 7-8 6-6 7-5 8-6 8-4 8-4 10-3zM229 790l9-1 10 0 10 0 10 2 8 3 10 4 8 4 8 6 8 7 7 7 6 8 6 10 4 8 3 10 3 10 2 10 1 10 0 10-1 10-2 10-3 10-4 10-5 10-5 8-6 8-6 7-8 7-8 6-8 5-10 4-8 3-10 2-10 1-8-1-8-1-10-2-10-4-8-4-8-5-8-6-7-6-7-8-6-8-5-10-4-8-4-10-2-10-2-8-1-10 0-10 1-10 2-10 2-8 4-10 4-10 5-8 6-8 6-6 6-6 8-7 10-6 8-4 8-2zM443 1014l7 0 8 1 6 2 6 3 10 8 20 22 6 6 8 6 10 7 10 5 8 3 8 1 8-1 8-2 30-12 18-6 18-4 16-1 14 1 16 3 20 6 26 11 10 3 10 2 8 0 8-2 8-4 10-6 8-5 12-11 20-22 6-5 6-4 8-3 10-1 10 1 8 4 0 357-8 3-8 2-6-1-4 0-8-3-6-4-6-5-19-23-6-6-7-6-12-8-10-6-8-4-8-2-8-1-10 2-10 3-26 10-18 5-16 2-14 1-16-1-16-3-16-5-32-11-8-2-6-1-8 1-8 3-10 5-10 6-9 6-9 8-7 8-13 16-6 6-6 4-4 3-4 1-6 2-6 0-6-1-6-2-6-3-6-4-4-4-17-20-5-6-12-10-12-7-10-6-10-3-8-1-6 1-8 2-30 11-18 6-18 4-16 1-16-1-16-3-18-5-28-11-10-4-10-1-8 1-8 2-8 4-10 6-10 6-7 6-6 6-18 22-5 5-6 4-6 3-8 1-8 0-8-2 0-362 8-2 8 0 8 2 8 3 6 4 4 4 20 22 6 6 8 6 8 6 11 6 9 4 6 2 8 1 10-2 9-3 27-11 20-5 16-3 14-1 16 1 16 4 16 5 32 12 8 2 6 1 8-1 8-3 10-5 9-6 9-6 9-8 19-22 6-6 10-6 6-2z"/>
<path fill="#ff6c00" d="M36 724l58 0-3 10-3 8-6 8-6 6-8 6-8 3-8 2-8 0-8 0zM395 724l100 0-2 10-4 8-5 8-6 6-6 4-8 4-8 3-10 1-10-1-8-2-8-4-7-5-6-6-6-8-4-8zM794 724l72 0 0 38-6 3-6 1-6 1-6 1-6-1-6-1-10-5-5-3-5-4-7-8-6-10-2-6zM629 788l9-1 10 0 8 0 10 2 8 3 10 4 8 4 8 6 7 6 6 6 7 8 5 8 4 8 4 10 4 12 2 10 0 10 1 10-1 10-2 10-3 10-4 10-3 8-7 10-6 8-6 7-8 7-8 6-10 6-8 3-8 2-10 2-8 1-10 0-8-1-10-3-8-3-8-4-8-4-8-7-7-6-7-8-6-8-5-8-4-10-4-10-2-10-2-8-1-10 0-10 1-10 2-10 3-10 3-8 4-8 6-10 6-8 7-7 6-5 8-6 8-5 8-4 10-3zM237 790l9 0 8 0 8 1 10 3 10 3 8 4 8 6 8 6 6 6 6 7 7 10 5 8 3 8 4 12 2 10 1 10 1 10-1 10-1 10-3 10-3 10-4 8-4 8-7 10-7 8-7 7-8 6-8 5-10 5-8 3-8 2-10 1-10 0-8-1-8-1-10-4-8-3-8-4-8-6-8-7-7-7-6-8-6-10-4-8-4-10-2-8-2-10-1-10-1-10 1-10 1-8 3-12 3-8 5-10 4-8 6-8 6-7 6-6 8-6 8-5 8-4 10-4 8-2zM45 1018l5 0 6 1 6 2 6 3 4 3 6 5 20 22 15 12 13 8 10 5 8 3 8 1 8 0 8-2 28-12 18-6 18-3 16-2 18 2 18 3 14 5 28 11 10 3 8 1 8-1 8-2 8-4 10-6 11-8 11-10 18-20 10-8 4-2 6-3 6-1 6-1 6 1 4 1 6 2 4 3 10 8 18 20 12 10 8 6 11 6 9 4 6 2 10 1 10-3 36-14 18-6 16-3 14-1 16 1 18 4 18 6 32 13 10 3 8 0 8-2 8-3 10-6 9-6 8-6 7-6 20-22 6-4 5-4 7-2 8-2 8 1 8 2 4 2 0 350-8 4-8 1-6 0-4-1-8-3-6-4-4-4-19-22-7-6-7-6-11-7-11-7-9-4-8-3-8 0-10 1-8 3-28 11-18 5-16 2-14 1-16-1-18-4-14-4-32-12-8-2-6 0-8 1-8 3-12 5-12 8-8 6-9 8-19 22-6 6-8 5-4 2-6 1-6 1-6-1-5-2-5-2-5-4-5-4-21-24-6-6-8-6-13-8-10-5-10-4-8-1-6 1-8 2-30 12-18 6-18 4-16 1-16-1-18-3-16-5-30-12-8-3-10-2-8 1-8 3-10 4-10 6-11 8-12 10-19 22-8 7-7 3-7 2-8 0-8-2 0-355z"/>
<path fill="#ff7400" d="M36 724l55 0-2 8-4 8-5 8-6 6-6 4-8 4-8 2-8 0-8-1zM398 724l94 0-2 8-4 8-4 7-6 6-6 5-8 4-8 2-8 1-8-1-8-2-8-3-7-5-6-6-5-7-4-9zM797 724l69 0 0 35-10 4-10 1-6 0-6-1-10-3-6-4-4-3-4-3-4-5-3-5-3-6zM636 788l10 0 10 1 8 1 10 3 10 4 8 4 8 6 6 5 6 6 6 8 7 10 4 8 4 10 2 8 2 10 1 10 1 12-1 10-2 8-3 12-4 10-4 8-4 8-6 8-7 8-8 7-8 6-8 4-8 4-8 3-8 1-10 2-8 0-10-1-10-3-8-2-8-4-10-6-8-6-5-5-6-6-6-8-6-10-4-8-4-10-2-8-2-10-1-10-1-10 1-10 2-12 3-8 6-16 5-8 5-8 7-7 6-6 8-7 8-5 8-4 10-3 8-2zM231 792l9-1 10 0 8 1 10 2 10 3 8 4 8 4 8 6 8 7 5 6 6 8 5 8 5 10 4 10 2 8 2 10 1 10 0 10-1 10-2 10-2 8-4 10-4 8-6 10-6 8-7 8-6 5-8 6-10 6-10 4-8 2-10 2-8 1-10-1-10-1-8-2-10-4-8-5-6-4-8-6-6-6-6-7-5-6-6-10-5-10-3-10-2-8-2-10-1-10 1-10 0-8 2-10 2-8 4-10 4-8 6-10 6-8 7-7 6-6 8-6 8-4 8-4 10-3zM41 1022l7-1 6 1 6 2 6 2 5 4 5 4 21 22 15 12 13 8 11 6 8 3 8 1 6 0 8-2 30-13 18-6 18-4 16-1 14 1 16 3 18 5 30 13 8 2 10 2 8-1 8-3 8-3 10-7 12-8 12-10 19-20 9-7 4-3 6-2 4-1 6 0 6 0 4 1 8 4 10 8 18 20 13 10 8 6 11 6 8 4 8 3 8 0 10-1 9-4 27-11 18-6 16-4 16-1 16 1 18 4 18 6 34 14 8 2 8 0 8-1 8-4 10-5 10-7 15-12 21-21 5-5 5-2 6-3 8-1 8 0 6 2 6 3 0 342-8 4-8 2-8-1-8-3-5-3-5-4-20-22-6-6-8-6-12-8-14-8-10-4-8-2-8 1-8 2-32 12-16 5-16 3-16 1-18-1-18-3-14-5-28-11-10-3-8-1-8 1-8 3-9 4-13 8-11 8-12 10-17 20-8 7-8 4-4 1-6 1-6 0-4-1-8-4-9-8-18-20-12-10-11-8-10-6-10-4-8-3-8-1-10 1-8 3-30 13-18 5-16 3-16 1-16-1-18-4-18-5-32-14-8-2-6 0-8 1-10 4-14 7-12 8-12 10-6 6-14 16-4 4-6 4-6 3-8 2-6-1-7-2-1 0 0-348z"/>
<path fill="#ff7c00" d="M36 724l52 0-3 8-3 8-5 6-5 5-6 4-8 4-6 1-8 1-8-1zM401 724l88 0-2 8-3 6-4 6-6 7-6 4-8 4-6 2-8 1-8-1-6-1-8-4-6-4-6-6-5-6-4-8zM800 724l66 0 0 31-10 4-10 2-10-1-10-3-8-5-5-4-4-4-3-5-3-5zM629 790l9-1 10 0 8 1 10 1 8 3 10 4 8 5 8 5 8 7 6 7 6 8 5 8 4 8 3 10 3 10 2 10 1 10 0 10-2 10-2 10-3 10-3 8-5 10-5 8-6 8-6 6-8 7-8 6-8 4-10 4-8 2-8 2-8 1-10-1-10-1-8-2-10-4-8-4-6-4-8-6-6-6-7-8-6-8-4-8-4-8-4-10-2-8-2-10-1-10 0-10 1-8 2-10 2-8 3-10 5-10 5-8 6-8 6-6 8-7 6-5 8-5 8-3 8-3zM239 792l9 0 10 1 10 2 8 2 8 4 8 4 8 6 6 5 6 6 7 8 6 10 4 8 3 8 3 10 2 10 2 10 0 10-1 10-2 10-2 10-3 8-4 8-6 10-6 8-7 8-6 6-8 6-8 5-10 4-8 3-8 1-10 2-8-1-10-1-8-1-8-3-8-4-10-5-8-6-6-6-7-8-6-8-5-8-4-8-3-8-3-10-2-10-1-10 0-10 1-10 2-10 2-8 3-8 4-8 5-10 6-8 7-8 7-5 6-5 8-5 8-4 10-4 8-2zM444 1024l6 0 6 1 5 1 5 3 9 7 20 20 16 12 12 8 11 6 8 3 8 1 6-1 8-2 32-14 18-6 18-4 16-1 16 1 18 4 18 6 34 15 10 2 8-1 8-2 8-3 10-6 12-8 15-12 19-19 6-5 4-2 8-3 8 0 8 2 8 4 0 334-6 3-8 3-8 0-8-3-4-2-6-5-20-21-15-12-15-9-12-7-10-4-8-2-8 0-8 2-30 13-16 5-18 3-16 2-18-2-10-1-10-3-12-3-28-12-10-3-8-1-8 1-8 3-9 4-13 8-12 8-12 10-18 19-8 7-8 4-8 2-8-1-4-2-6-3-7-6-19-20-12-10-12-8-12-7-8-4-8-2-8-1-10 1-8 3-30 13-18 6-16 3-16 0-18-1-18-4-16-5-32-14-8-2-6-1-8 2-10 3-11 6-15 10-13 10-7 6-14 16-5 4-5 4-6 2-6 1-8-1-6-2 0-340 6-2 8-1 8 1 6 3 8 6 19 19 15 12 12 8 12 7 8 4 8 3 8 1 10-2 8-3 28-12 18-6 16-3 16-1 16 1 18 4 18 6 28 12 8 3 6 0 6 0 8-2 10-5 11-7 12-8 10-8 8-8 13-13 6-5 8-5z"/>
<path fill="#ff8700" d="M36 724l49 0-3 8-3 6-5 6-4 5-6 4-6 2-6 2-8 1-8-1zM404 724l82 0-3 8-3 6-4 6-4 4-6 5-6 3-6 1-8 1-8 0-6-2-6-3-6-3-6-6-4-6-3-6zM803 724l63 0 0 27-8 4-10 3-10-1-10-2-8-5-4-3-4-5-5-8zM636 790l10 0 8 0 8 1 10 3 8 3 8 4 8 5 8 7 7 7 6 8 6 8 4 8 4 10 2 8 2 10 2 10 0 10-1 8-1 10-2 10-4 10-4 8-4 8-6 8-7 8-6 7-8 6-8 5-8 4-10 3-8 2-8 1-8 0-10 0-10-2-8-3-8-3-8-5-8-5-6-5-6-7-7-8-6-10-4-8-4-10-3-8-1-8-2-10 0-10 1-8 1-10 2-10 4-10 3-8 4-8 6-8 6-7 7-7 7-5 8-6 8-4 10-3 8-2zM231 794l9-1 8 0 8 0 10 2 8 3 10 4 8 4 8 6 6 5 7 7 6 8 5 8 4 8 4 10 3 10 2 10 1 10 0 10-1 10-2 10-2 8-4 10-4 8-6 10-7 8-6 7-8 7-8 5-8 4-10 4-8 3-8 1-8 1-10-1-10-2-8-2-10-4-6-3-8-5-6-5-7-6-7-8-9-14-5-10-3-10-2-8-2-10-1-10 0-10 1-8 2-10 2-8 4-10 4-8 6-10 5-6 6-7 6-5 8-6 8-5 8-4 10-3zM442 1028l6-1 6 1 6 2 4 1 8 6 22 21 16 12 13 8 11 6 8 3 8 1 6 0 8-3 32-14 16-6 18-4 18-1 16 1 16 3 18 6 30 13 7 3 9 2 8 0 6-2 9-4 11-6 12-8 16-12 20-19 6-4 4-2 8-2 8 0 8 2 6 4 0 325-6 4-8 3-8 0-8-3-9-6-20-20-16-12-16-10-13-7-8-4-8-1-8 0-8 2-30 13-18 6-16 3-16 1-16-1-16-3-20-6-32-13-10-2-8 0-6 2-8 4-22 12-11 8-11 8-18 19-6 5-8 4-8 2-8-1-8-4-8-6-16-17-13-10-12-8-13-8-10-5-8-3-8-1-10 2-8 3-28 13-20 6-16 3-16 1-18-1-18-4-18-7-30-13-8-2-6-1-8 1-8 4-10 5-16 9-16 12-9 8-13 13-6 5-4 3-6 2-6 0-6 0-6-3 0-333 6-2 6-1 8 1 6 3 8 5 20 19 16 12 12 8 13 8 9 4 6 2 8 1 10-2 36-16 18-5 16-3 16-1 18 1 16 4 18 6 30 13 8 2 6 1 6-1 8-3 9-5 13-8 12-8 10-8 20-19 6-5 6-3z"/>
<path fill="#ff9700" d="M36 724l42 0-2 6-2 4-4 6-4 4-4 2-6 3-6 2-6 0-8-1zM411 724l68 0-2 6-3 6-3 4-5 4-4 3-6 3-4 1-6 1-6-1-6-1-6-3-4-3-5-4-3-4-3-6zM810 724l56 0 0 19-8 5-8 3-8 0-8-1-8-4-7-6-6-8zM634 792l8 0 10 0 10 1 8 2 10 4 6 3 8 5 7 5 6 6 5 6 6 8 5 8 4 8 4 10 2 10 2 10 0 10 0 10-2 12-2 8-2 8-4 10-5 8-5 8-7 8-6 6-6 5-8 6-8 4-8 3-10 3-8 1-8 0-10 0-8-1-10-3-14-6-8-6-8-6-6-6-7-8-4-6-6-10-4-10-2-8-2-8-2-10 0-10 0-10 1-10 2-8 3-8 4-10 4-8 5-8 7-8 6-6 7-5 8-6 8-4 8-3 8-2zM230 796l8-1 10 0 8 0 10 2 8 2 10 5 6 3 8 5 6 5 7 7 6 8 5 8 5 8 4 10 2 8 2 10 1 10 0 8 0 10-2 10-2 8-3 10-4 8-6 10-5 8-8 8-6 6-8 6-6 3-10 5-10 3-8 2-8 0-10 0-10-1-8-2-8-3-8-4-6-3-8-6-6-6-7-8-6-8-4-6-4-8-4-10-2-8-2-10-1-8 0-10 0-10 2-10 5-16 3-8 6-10 6-8 6-6 6-6 8-6 8-5 8-4 8-3zM43 1036l5 0 4 0 4 1 6 2 8 6 13 11 11 8 30 20 8 5 8 4 6 1 6 1 6 0 8-3 32-15 16-5 18-4 16-1 16 1 18 3 18 7 26 12 8 3 8 2 8 0 6-2 8-4 27-17 17-12 20-16 6-4 8-4 8-1 6 1 8 3 6 5 20 16 17 12 25 15 8 4 6 1 8 0 8-2 8-3 24-12 10-4 10-3 18-4 16-1 16 1 18 3 18 7 34 16 8 2 8 0 6-1 8-3 20-12 21-14 23-18 8-5 6-3 4 0 6 0 4 1 4 2 6 4 0 309-8 5-6 2-6 0-4-1-4-1-8-5-14-12-10-8-28-18-12-7-8-4-6-2-6-1-6 0-8 2-32 14-16 5-18 4-16 1-18-1-16-3-18-6-26-12-8-3-8-1-8 0-7 2-9 4-29 18-17 12-18 16-6 4-6 3-6 1-6-1-8-3-6-4-18-16-17-12-29-17-8-4-6-1-8-1-8 2-8 3-26 13-10 4-10 3-18 3-16 1-18-1-18-4-16-6-32-15-8-3-6 0-6 1-6 2-8 4-12 6-28 18-8 6-16 14-6 4-5 2-5 1-6 0-4-1-4-2 0-317z"/>
<path fill="#ffa700" d="M36 724l35 0-4 8-3 4-4 3-4 2-4 2-8 1-8-1zM418 724l54 0-4 8-6 7-4 2-4 2-8 2-4-1-6-1-4-2-4-2-6-7zM817 724l49 0 0 9-5 5-7 4-6 2-8 0-8-3-6-4-5-5zM631 794l9-1 8 0 8 1 10 2 10 3 6 3 8 4 8 6 6 5 7 7 6 8 5 8 3 8 4 10 2 8 2 10 1 10 0 10-1 10-2 10-6 16-4 8-7 10-6 8-6 6-6 5-8 6-14 7-8 2-10 2-8 1-8 0-10-2-8-2-8-2-8-4-8-5-8-6-6-6-7-8-6-8-4-8-4-8-2-8-3-8-1-10-1-8 0-10 1-8 2-10 2-8 4-10 3-8 5-8 6-8 6-6 7-6 6-4 8-5 8-4 10-3zM242 796l8 0 10 1 8 2 8 3 8 3 8 5 8 6 6 5 6 7 6 8 5 8 4 8 3 10 3 8 1 10 1 8 0 10-1 8-2 10-2 10-4 8-3 8-5 8-6 8-6 7-8 7-8 5-6 4-6 2-10 4-10 2-8 1-8 0-8-1-8-2-10-3-10-5-6-3-8-6-6-6-6-6-6-8-6-10-3-8-4-10-2-8-1-10-1-8 0-10 1-10 2-10 3-8 4-10 4-8 6-8 4-6 7-6 6-5 8-6 6-4 8-3 8-3 8-2zM42 1044l4-1 6 1 4 1 6 2 32 21 38 24 10 5 6 2 4 0 6 0 7-3 31-15 16-6 18-4 18-2 18 2 16 3 10 3 10 4 32 16 8 2 8 0 8-3 10-6 38-24 28-19 8-3 8-2 6 1 8 4 28 19 32 20 12 7 10 3 8 0 8-2 32-16 18-7 18-4 18-2 10 1 10 1 18 4 16 6 32 17 8 2 6 1 4-1 6-2 12-6 32-20 26-17 8-5 6-2 4-1 4 0 6 2 10 5 0 294-8 5-6 1-6 1-8-2-6-4-23-15-45-28-10-5-8-1-6 0-8 2-32 15-16 6-18 4-16 1-16-1-18-3-18-7-34-15-8-2-8 0-8 3-10 5-42 26-24 17-8 3-6 1-6 0-8-3-29-20-36-22-11-6-8-2-8-1-8 2-8 4-26 13-10 4-10 3-18 4-16 1-10-1-10-1-18-4-16-7-30-15-8-2-6-1-8 1-12 6-40 24-22 15-8 5-6 2-4 1-4 0-6-2-4-2 0-300z"/>
<path fill="#ffb700" d="M36 724l26 0-2 4-5 4-5 3-6 1-4-1-4-1zM426 724l38 0-4 6-4 3-4 2-6 1-6-1-6-2-4-4zM826 724l36 0-4 6-4 3-4 2-6 1-6-1-4-2-4-3zM628 796l8-1 8-1 10 1 8 1 10 3 6 2 8 4 8 5 7 6 7 7 6 7 5 8 4 8 4 8 2 8 2 10 2 10 0 8-1 10-1 10-2 8-4 10-3 8-5 8-6 8-5 7-8 7-6 4-8 5-8 4-8 3-8 2-10 1-8 0-8-1-8-1-8-2-8-4-8-4-8-6-8-7-6-6-6-8-3-6-5-8-3-8-2-8-2-10-2-10 0-8 1-8 1-10 2-8 3-10 5-10 3-6 4-6 7-8 7-6 6-5 8-5 8-5 8-3zM235 798l9 0 8 0 10 1 8 2 8 3 8 4 8 5 6 4 6 6 6 7 6 8 5 8 3 8 3 8 2 8 2 12 1 8 0 10-1 8-2 10-3 10-4 8-5 10-4 6-7 8-6 6-6 5-8 6-8 4-8 3-10 3-8 1-8 0-10 0-10-2-6-2-8-3-8-4-8-6-6-5-11-12-6-8-4-8-4-8-3-8-2-8-1-12-1-8 1-10 2-16 3-10 3-8 5-8 5-8 6-8 6-6 7-5 8-6 8-4 8-3 8-2zM444 1050l6 0 4 0 10 4 14 7 56 34 8 4 8 1 6 0 6-2 32-17 18-7 18-5 18-1 18 1 18 4 10 4 10 4 32 17 8 2 6 0 6-1 8-4 56-34 16-8 8-2 6 0 8 1 8 4 0 282-8 3-8 2-6 0-8-2-12-6-24-14-40-24-6-3-6-2-6 0-8 2-32 16-10 4-10 3-18 4-16 1-10-1-10-1-18-5-16-6-28-14-6-2-6-1-8 1-8 3-34 21-32 19-12 6-8 2-4 0-6-1-10-4-34-19-34-21-8-4-8-2-6 1-8 3-28 15-10 4-10 4-10 3-10 1-8 1-10 1-10-1-8-1-18-4-18-7-32-17-8-2-8 0-6 2-6 2-38 24-24 13-10 5-8 3-6 0-6 0-6-2 0-288 6-2 6-1 6 1 8 3 10 5 28 16 34 22 8 4 6 2 6 0 8-2 6-3 28-14 18-7 16-4 18-1 10 0 10 1 18 5 18 7 30 15 6 2 6 1 6-1 8-3 34-22 34-20 8-4z"/>
<path fill="#ffc700" d="M635 796l9 0 8 0 10 1 8 3 8 3 8 4 8 5 6 5 11 11 5 8 5 8 4 8 2 8 2 8 2 12 1 8-1 10-1 8-2 10-3 10-4 8-4 8-6 8-5 7-6 6-8 6-8 5-8 4-8 3-8 2-8 1-10 0-8-1-8-1-8-3-8-3-8-5-12-9-6-6-5-6-6-8-4-8-4-8-3-8-2-8-1-12-1-10 1-10 2-10 2-8 2-8 4-8 3-6 6-8 6-7 6-6 8-6 6-4 8-4 8-3 8-2zM231 800l9-1 8 0 8 0 10 2 8 3 8 3 8 5 6 4 6 5 7 7 6 8 4 6 4 8 4 8 2 8 2 10 2 10 0 10-1 8-2 10-2 8-3 10-4 8-5 8-6 8-6 7-8 7-6 4-6 4-8 3-8 3-10 2-8 1-8 0-10-1-8-2-8-3-8-4-12-7-8-7-6-7-5-6-5-8-4-8-3-8-2-8-3-10-1-10 0-8 1-10 1-8 2-8 4-10 4-8 4-8 6-8 6-6 6-6 7-5 6-4 8-4 8-2zM444 1056l6 0 6 1 6 1 8 4 30 15 36 23 8 3 6 1 6-1 6-2 30-17 18-8 10-3 10-2 18-1 10 0 10 1 10 3 8 2 18 7 32 18 8 3 6 0 6-2 6-3 40-24 18-10 14-6 8-2 8-1 8 2 8 3 0 272-10 4-8 0-8 0-8-3-16-7-18-10-40-25-6-2-4-1-6 0-8 2-32 16-18 7-10 3-8 2-8 0-10 1-10-1-8-1-8-1-10-3-18-7-30-16-6-2-6-1-6 1-8 4-32 21-26 14-16 7-6 2-6 1-6 0-6-1-14-6-16-8-14-7-34-21-8-4-6-1-6 1-6 2-30 16-10 5-10 4-18 4-10 1-10 1-10-1-10-1-10-2-8-3-18-8-30-16-8-3-6 0-6 1-6 3-38 24-18 9-14 7-8 2-8 1-6 0-8-2 0-276 8-2 8 0 6 1 10 3 16 8 18 10 36 23 6 3 4 1 6 0 8-2 32-17 18-7 8-3 10-2 18-1 10 0 10 1 10 2 8 3 18 7 30 17 6 2 6 0 6-1 8-3 32-21 28-15 14-7z"/>
<path fill="#ffd700" d="M630 798l8-1 10 0 8 1 8 1 8 2 8 4 8 4 6 4 8 7 6 6 4 6 6 8 3 6 4 10 2 8 3 10 1 10 0 8-1 8-1 10-2 8-4 10-4 8-5 8-6 8-5 6-7 7-6 4-8 5-8 3-8 3-8 2-8 1-8 0-10-1-8-2-8-3-8-4-12-7-6-5-7-7-5-6-5-8-4-8-4-10-3-8-2-10-1-16 1-10 1-8 2-8 3-10 4-8 5-8 6-8 5-6 6-5 8-6 6-4 8-4 10-3zM238 800l8 0 8 0 8 1 8 3 8 3 8 4 8 5 6 4 6 6 5 6 6 8 4 8 4 8 3 10 2 10 1 8 1 10-1 10-2 10-2 8-3 8-3 8-5 8-6 8-6 7-6 6-6 4-8 5-8 4-8 3-8 2-8 1-8 0-8-1-8-1-8-3-8-3-8-4-6-4-8-7-6-6-5-7-6-8-4-8-4-10-2-8-2-16-1-10 1-8 1-10 2-8 3-8 4-8 4-8 6-8 7-7 6-6 8-6 6-3 8-4 8-3 8-2zM38 1062l8-1 8 0 8 2 12 5 16 7 14 8 36 24 6 2 6 1 6-1 6-2 26-16 18-8 10-3 10-2 10-2 10 0 10 0 10 1 10 2 8 3 18 8 32 18 6 2 6 0 6-2 6-3 30-20 14-8 12-6 12-5 8-3 8-2 6 0 6 0 8 2 16 7 12 6 14 7 30 20 6 3 6 1 6 0 8-3 28-17 10-5 10-4 10-3 8-1 10-2 10 0 10 0 10 1 10 3 10 3 18 8 30 17 6 3 6 0 6-1 6-3 38-23 16-9 14-6 10-3 8-1 8 1 8 1 4 2 0 265-10 2-8 1-10-1-10-3-14-6-16-8-16-10-22-15-6-3-6-2-6 0-8 3-28 15-10 5-10 4-10 3-10 2-8 1-10 0-10-1-10-1-10-2-8-3-18-7-28-16-6-2-6-1-6 1-6 3-30 20-22 12-20 9-8 2-6 1-8 0-8-1-8-3-10-4-14-6-14-8-32-21-6-2-6-1-6 0-6 2-30 18-18 8-10 3-10 2-10 2-10 0-10-1-10-1-10-2-8-3-10-4-8-4-26-15-6-3-6-2-6 0-4 0-6 3-36 23-16 8-14 7-10 3-10 2-8 0-8-2 0-268z"/>
<path fill="#ffe700" d="M637 798l9 0 8 0 8 2 8 2 8 3 8 4 6 4 6 5 7 6 5 6 4 6 5 8 4 8 2 8 3 12 1 8 1 8-1 10-1 8-2 10-3 10-4 8-4 8-5 6-6 8-6 6-8 6-6 3-8 4-6 3-8 2-10 1-8 1-8-1-8-1-8-3-10-4-6-3-8-5-6-6-6-6-6-7-5-8-4-8-3-6-3-10-2-16-1-10 1-8 2-16 4-10 2-6 4-8 6-8 5-6 6-6 6-5 8-6 8-4 8-3 8-2zM232 802l8-1 8 0 8 1 10 1 8 3 8 3 6 4 8 5 6 6 6 6 5 6 5 8 4 8 3 8 3 10 2 8 1 8 0 10-1 8-2 10-2 8-3 10-8 14-6 8-5 6-6 6-8 5-8 5-8 4-8 2-8 2-8 1-8 0-10-2-8-1-14-6-8-5-6-4-11-11-7-8-3-6-5-8-3-8-2-8-3-10-1-16 1-8 1-10 2-8 3-10 5-10 3-6 6-8 5-6 7-6 6-4 8-5 8-4 8-3zM36 1066l10-1 8 0 10 2 12 4 14 7 14 7 12 8 24 17 6 2 6 1 4 0 6-2 28-17 8-5 10-4 10-3 10-3 10-1 10-1 10 1 10 1 10 2 8 3 10 4 10 5 30 18 6 2 6 0 4-1 6-3 32-22 10-6 12-6 10-4 10-4 8-1 8-1 8 0 8 2 10 3 12 5 22 12 30 20 6 2 4 1 6 0 6-2 30-18 8-5 10-4 10-3 10-3 10-1 10-1 10 1 10 1 10 2 10 4 8 3 10 5 30 18 6 3 6 1 4-1 6-3 28-18 10-6 16-8 14-6 12-3 8-1 10 1 10 2 0 258-12 3-10 0-10-1-12-4-14-6-12-6-14-9-24-17-6-3-4-1-6 0-6 2-6 3-24 14-10 5-10 4-10 3-10 2-8 1-10 0-10 0-8-1-10-2-10-3-10-5-8-4-28-16-6-2-6-1-6 1-6 3-28 19-10 6-12 7-20 8-8 2-8 1-8 0-10-1-10-3-10-4-12-6-12-6-34-23-6-2-4-1-6 1-6 3-30 18-8 4-10 4-10 3-10 3-10 1-10 0-10 0-8-1-10-2-10-4-10-4-8-4-32-19-6-2-6-1-6 2-6 3-22 15-14 9-12 6-12 5-12 4-10 2-8 0-10-1z"/>
<path fill="#fff700" d="M630 800l8-1 10 0 8 1 8 1 8 3 8 3 8 4 6 5 6 5 7 7 6 8 4 6 4 8 3 10 3 8 1 8 1 8 0 10-1 8-2 10-2 8-3 8-4 8-5 8-4 6-6 7-6 5-8 6-6 3-8 4-8 3-8 2-8 0-8 1-10-2-8-1-8-3-8-4-12-8-6-5-6-6-5-6-5-8-3-6-4-10-5-16-1-10 0-8 0-8 2-10 2-8 3-10 8-14 5-8 6-6 7-6 6-5 6-4 8-4 10-3zM238 802l8 0 8 0 8 2 8 2 8 3 8 4 8 5 6 5 10 11 5 6 5 10 3 6 3 10 3 10 1 8 0 8 0 10-3 16-3 8-3 8-6 10-5 8-6 6-6 6-6 5-8 5-8 4-8 3-8 1-8 2-8 0-8-1-8-1-8-3-8-3-8-5-12-9-6-6-5-6-5-8-5-8-4-10-2-8-3-16 0-10 1-8 1-10 2-8 3-8 4-8 4-8 5-6 6-7 6-5 6-5 8-5 8-4 8-3 8-2zM42 1068l10 0 10 2 12 3 10 4 12 6 12 7 32 23 6 3 6 0 4 0 6-3 28-17 8-5 10-4 10-4 10-2 10-1 10-1 10 0 10 2 10 2 8 2 10 5 10 5 30 19 6 2 6 0 4-1 6-3 28-20 10-6 12-7 10-4 12-4 8-2 10-1 8 0 8 2 12 3 10 4 12 6 10 6 30 21 6 2 4 1 6 0 6-2 30-19 8-5 10-4 10-4 10-2 10-1 10-1 10 0 12 2 10 3 10 3 10 5 8 4 28 18 6 3 6 1 4-1 6-3 34-22 16-9 14-6 12-3 10-2 12 1 10 2 0 253-12 2-12 0-12-2-12-4-14-6-12-7-12-8-22-16-6-3-4-1-6 0-6 2-30 18-8 4-10 5-10 3-10 2-10 1-10 1-10-1-10-1-10-3-10-3-16-7-30-19-6-2-4 0-6 1-6 3-28 20-18 11-12 5-10 4-10 2-8 1-8 0-10-1-12-3-12-5-12-6-10-5-32-23-6-2-4-1-4 1-6 2-30 19-10 5-10 5-10 3-10 2-10 1-10 1-10-1-10-1-10-3-10-3-10-4-10-6-28-18-6-3-6 0-4 1-6 3-22 16-12 8-12 6-12 5-12 4-12 3-10 0-10-1 0-256z"/>
<path fill="#efff00" d="M636 800l8 0 8 0 8 1 8 2 8 3 8 4 8 5 6 5 6 6 5 6 6 8 4 8 3 8 3 8 2 8 1 8 0 16-1 10-2 8-2 8-4 8-4 8-5 8-6 7-6 6-8 6-6 4-8 4-6 3-8 2-10 1-8 1-8-1-8-1-8-3-6-2-8-4-8-5-6-5-6-6-6-7-5-8-4-8-4-8-2-8-3-16 0-10 0-8 3-16 3-10 3-6 4-8 6-8 5-6 6-6 12-9 8-4 8-3 8-2zM231 804l9-1 8 0 8 0 8 2 8 2 8 4 8 4 6 4 6 5 6 6 5 6 5 8 4 8 4 8 3 10 1 8 1 8 0 10 0 8-2 10-2 8-4 10-8 14-5 7-6 7-6 5-6 4-8 5-8 4-8 2-8 2-8 1-8 0-8-1-8-2-8-3-6-2-6-3-8-6-6-5-7-7-4-6-6-8-6-14-3-8-2-10-1-16 0-8 2-10 1-8 3-8 4-8 4-8 6-8 5-6 6-5 6-5 8-5 8-4 8-3zM36 1072l8-1 12 0 12 2 12 4 14 7 14 8 10 7 18 14 6 4 6 2 4 0 4 0 6-3 26-17 10-6 8-4 10-3 10-3 10-2 12 0 10 0 10 1 10 3 10 3 10 4 10 6 28 18 6 3 6 0 4-1 6-3 28-21 10-6 12-7 10-4 12-4 10-2 8-1 10 1 10 2 12 4 10 4 12 6 10 7 26 18 6 3 4 1 6 0 6-2 30-21 8-4 10-5 10-3 10-2 10-2 10 0 12 0 10 2 10 2 10 4 10 4 8 5 30 20 6 2 4 1 4-1 6-3 24-17 14-9 12-6 10-4 12-4 12-2 12 0 12 2 0 249-12 2-12 0-12-2-14-5-12-5-12-7-12-7-22-17-6-4-4-1-6 0-6 2-30 19-8 5-10 4-10 3-10 3-10 1-10 0-10 0-10-2-10-2-10-4-10-4-8-4-28-18-6-3-4 0-4 0-6 3-28 21-8 5-12 7-12 5-8 3-8 2-10 2-10 0-10-1-12-3-12-5-12-6-10-5-10-7-22-16-6-3-4-1-4 1-6 2-28 19-10 6-10 4-10 4-10 2-12 2-10 0-10 0-10-2-10-2-10-4-10-4-10-6-28-19-6-2-6-1-4 1-6 4-22 16-12 8-10 5-10 5-14 5-12 2-12 1-10-1z"/>
<path fill="#cfff00" d="M633 802l7-1 8 0 8 1 8 2 10 3 6 3 6 3 8 6 6 5 6 6 4 6 5 8 4 8 4 10 2 8 1 8 1 8 0 10-3 16-3 10-2 6-5 8-5 8-5 7-6 6-8 7-6 3-8 4-6 3-8 2-8 1-8 1-8 0-14-3-6-2-8-4-8-4-6-5-6-5-6-7-5-6-5-8-6-14-3-10-1-8-1-16 2-16 2-8 4-10 7-14 6-8 6-6 6-5 6-4 6-4 8-4 10-3zM229 806l9-1 8-1 8 1 8 1 10 3 6 2 8 5 6 4 6 4 6 6 5 6 5 8 7 14 4 10 1 8 1 8 1 10-1 8-1 8-2 8-3 10-4 8-5 8-4 7-6 6-6 6-6 4-6 4-8 4-8 3-8 2-14 1-8 0-8-2-8-2-8-3-8-4-6-4-6-5-7-7-5-6-5-8-7-14-3-10-2-8-1-8 0-10 1-8 1-10 5-14 3-8 5-8 9-12 6-5 6-5 6-4 8-4 6-3zM36 1076l8-1 14 0 12 3 16 5 12 6 12 7 10 8 22 18 6 3 4 0 4-1 4-2 28-20 8-5 10-5 10-4 10-2 12-2 10-1 10 1 12 1 10 3 10 4 8 3 10 6 30 21 6 3 4 0 4-1 4-3 28-22 8-6 12-6 12-6 12-4 10-2 10 0 10 0 12 2 12 4 10 5 10 5 10 6 28 21 4 3 4 1 4 0 6-2 6-4 15-12 9-6 10-6 10-5 10-3 10-3 10-1 10-1 10 1 12 1 10 3 10 4 10 4 10 6 28 21 6 3 4 0 4-1 6-3 22-17 12-8 10-6 14-6 14-4 12-2 12 0 12 2 0 241-12 2-14 0-12-3-14-4-12-5-12-7-12-9-22-18-4-2-4-1-6 0-6 2-28 20-10 6-10 4-10 4-10 2-10 1-10 1-10-1-10-1-12-3-10-4-10-5-8-5-26-18-6-3-4-1-4 1-6 3-26 21-10 7-10 5-10 5-10 4-10 2-10 2-12 0-10-1-12-3-12-5-12-6-12-7-30-24-4-1-4-1-4 0-6 3-28 21-10 6-8 3-10 4-12 4-10 1-12 1-12-1-10-2-10-3-10-3-8-4-10-6-10-7-14-11-6-4-6-2-4 0-4 1-6 4-18 14-12 9-10 6-12 6-12 4-14 3-12 1-12-1z"/>
<path fill="#afff00" d="M630 804l8-1 8 0 8 0 8 2 8 2 6 2 8 4 8 6 6 5 6 6 9 12 4 8 4 10 2 8 2 8 0 8 0 10 0 8-2 10-3 8-3 8-4 8-4 6-5 7-6 6-12 10-8 4-6 3-8 2-8 2-8 0-8 0-8-1-8-2-6-2-8-3-8-5-6-5-6-5-6-7-6-8-3-6-6-14-2-8-2-8-1-16 2-16 3-8 2-8 8-14 9-12 6-5 6-5 6-4 8-4 8-4zM238 806l8 0 8 0 8 2 8 2 8 3 8 4 6 4 6 5 6 6 5 6 4 6 4 8 4 8 2 8 2 8 1 10 1 8-1 8-1 8-3 10-3 8-3 8-5 8-5 6-10 11-6 5-8 5-6 2-10 4-14 2-14 0-8-1-8-2-6-3-8-4-8-5-6-5-6-6-5-7-4-6-5-8-3-8-3-8-1-8-1-8-1-8 1-10 1-8 2-8 6-14 4-8 6-8 5-6 6-5 6-5 8-5 8-4 6-2 8-2zM39 1078l13 0 12 1 12 3 12 5 12 6 12 8 9 7 21 18 6 3 4 1 4-1 4-2 28-22 10-6 8-4 10-4 12-3 10-2 10 0 10 0 12 2 12 3 10 4 8 4 10 6 28 22 6 2 4 0 4-1 4-2 26-23 12-8 10-5 10-5 12-4 10-2 12-1 12 0 12 3 12 4 10 4 10 6 10 7 26 21 4 2 4 1 4 1 6-3 30-23 10-6 8-4 10-4 12-3 10-2 10 0 10 0 12 2 12 3 10 4 8 4 10 6 28 22 6 3 4 1 4-1 6-4 20-16 12-9 10-6 12-6 14-4 14-3 12 0 14 2 0 235-14 2-12 0-14-3-14-5-12-5-12-7-12-10-20-17-4-3-4-1-6 0-5 2-27 21-10 6-10 5-10 4-10 2-10 2-12 0-12 0-10-2-10-3-10-4-8-4-10-6-28-21-4-2-4 0-4 0-6 4-26 22-8 6-10 6-12 5-10 4-10 2-10 2-12 0-12-2-12-3-12-5-12-6-10-6-30-25-4-2-4-1-4 1-6 3-26 20-10 7-10 5-12 5-10 2-10 2-12 0-12 0-10-2-10-3-10-4-10-5-10-6-28-23-6-2-4 0-4 1-6 4-18 16-12 9-10 6-10 5-14 5-12 3-14 1-12-1 0-237z"/>
<path fill="#8fff00" d="M639 804l9 0 8 1 8 1 8 3 8 4 6 3 6 4 6 6 6 6 5 6 3 6 5 8 4 14 2 8 1 10 0 8 0 10-4 14-5 14-5 8-5 8-11 11-6 5-8 5-6 2-10 4-14 2-14 0-8-2-8-2-8-4-8-4-6-5-6-5-6-6-5-7-4-6-4-8-5-14-1-8-1-10 0-8 1-10 1-8 2-8 6-14 5-8 5-5 6-7 6-5 12-8 8-4 6-2 8-2zM233 808l7-1 8 0 8 1 8 1 8 3 8 3 12 8 6 5 6 6 9 12 4 8 3 8 3 8 2 10 0 8 0 10-1 8-1 8-2 8-4 8-4 8-4 6-4 6-6 6-5 5-8 6-8 4-6 3-8 2-8 2-8 0-8 0-14-3-6-1-8-4-8-5-6-4-6-6-6-7-5-6-4-8-6-14-2-8-2-8 0-8 0-10 2-16 3-10 3-6 4-8 4-6 5-6 6-6 6-5 6-4 6-4 8-3zM36 1082l0-1 8-1 8 0 8 1 12 3 16 5 10 5 10 7 12 9 20 19 6 4 4 1 4-1 6-3 26-21 10-7 10-5 10-4 12-3 10-2 10 0 10 0 12 2 12 3 10 4 10 6 10 6 26 21 6 3 4 0 4-1 4-2 26-24 10-7 10-6 12-5 12-4 12-3 10-1 12 1 10 2 12 4 12 5 16 9 10 8 20 17 4 3 4 1 4 0 6-2 28-23 10-7 10-5 10-4 12-3 10-2 10 0 10 0 12 2 12 3 10 4 10 6 10 6 26 22 6 3 4 1 4-1 6-4 20-17 12-9 10-6 12-6 14-5 14-2 14 0 12 1 0 231-14 1-14 0-14-3-16-6-12-6-10-6-11-9-19-18-4-2-4-2-4 0-6 2-30 23-10 7-8 3-10 4-10 3-10 2-12 0-12 0-10-2-10-3-10-4-10-5-10-7-26-20-4-2-4-1-4 0-6 4-26 23-8 6-10 6-10 5-10 4-12 3-8 1-12 0-12-1-14-3-12-5-10-5-12-8-8-6-16-15-6-5-4-2-4-1-4 1-6 3-24 20-8 6-8 5-8 4-10 3-16 4-12 1-14 0-14-3-12-4-10-4-10-6-12-9-20-17-6-3-4-1-4 1-4 2-30 25-12 8-12 6-14 6-12 2-14 1-12 0z"/>
<path fill="#70ff00" d="M633 806l7-1 8 0 8 1 8 2 6 2 8 3 8 5 6 4 11 10 4 6 5 8 4 8 3 8 2 8 2 8 0 8 0 10-1 8-1 8-3 8-3 8-5 8-4 6-5 6-5 6-6 5-6 4-8 4-6 3-8 2-8 1-8 1-8 0-14-3-6-2-8-4-6-4-8-6-5-5-6-6-4-6-5-8-5-14-2-8-2-8 0-8 0-8 2-16 2-8 4-8 4-8 4-6 9-10 6-6 6-4 8-5 6-3 8-2zM229 810l7-1 8-1 8 1 8 1 8 2 6 2 8 4 6 3 6 5 6 5 4 5 6 8 5 8 3 8 3 8 2 8 1 16 0 8-1 10-4 14-4 8-4 8-9 12-6 6-6 5-6 4-8 4-8 3-8 2-14 1-8 0-8-2-8-2-8-3-12-8-6-4-6-6-5-6-5-8-3-6-4-8-2-8-2-8-1-16 1-16 4-14 3-8 4-8 5-6 5-6 6-6 6-5 6-4 8-4zM36 1084l0-1 8 0 8 0 8 0 14 3 14 6 12 6 10 7 12 9 18 18 6 4 4 1 4 0 6-3 26-23 10-6 10-6 10-4 12-3 10-2 10 0 10 0 12 2 12 3 10 4 10 6 10 7 26 22 6 3 4 0 4-1 4-3 26-24 10-8 10-6 12-5 12-4 12-3 10 0 12 0 12 3 12 3 12 6 8 5 8 5 10 8 18 17 4 3 4 1 4 0 6-3 28-24 10-6 10-6 10-4 12-3 10-2 10 0 10 0 12 2 12 3 10 4 10 6 10 7 26 23 6 3 4 0 4-1 6-4 18-17 12-9 10-6 12-6 14-5 14-3 14 0 14 1 0 226-14 2-14 0-14-3-16-6-12-6-10-7-12-10-18-17-4-3-4-2-4 0-6 3-28 23-10 6-10 5-10 4-10 3-10 2-12 0-12 0-10-2-10-3-12-5-8-5-10-6-26-22-4-2-4-1-4 1-6 3-24 23-8 6-10 7-10 5-10 4-10 3-12 2-14 0-12-1-12-4-14-5-12-7-10-7-8-7-20-18-4-3-4-1-4 1-6 3-24 21-8 7-8 4-8 4-8 4-8 2-10 2-14 1-14 0-12-3-14-5-10-4-10-7-12-9-18-16-6-4-4-1-4 1-6 4-20 18-12 10-10 6-10 5-12 5-14 3-12 1-14-1z"/>
<path fill="#50ff00" d="M628 808l6-1 8-1 8 0 8 1 8 2 6 2 8 4 8 5 6 5 5 5 6 6 4 6 4 8 4 8 2 8 2 8 2 16-2 16-2 8-3 8-3 8-4 6-4 6-5 7-6 5-6 5-6 4-8 4-8 3-8 2-14 1-14-2-8-2-6-2-8-4-6-4-6-5-6-6-5-6-4-6-5-8-3-8-4-14-1-16 1-16 2-8 2-8 4-8 3-6 9-12 5-5 6-5 6-4 8-5 6-2zM235 810l7 0 8-1 8 1 8 2 8 3 6 3 6 3 8 6 5 5 6 6 8 12 6 14 2 8 2 10 0 16-1 8-1 8-3 8-3 8-4 8-4 6-5 7-6 5-6 5-6 4-8 5-6 2-6 2-10 2-14 0-14-3-6-2-8-4-8-4-6-5-6-6-5-6-8-12-4-8-3-8-2-8-1-8-1-8 1-8 2-16 5-14 4-8 4-6 10-11 6-5 6-5 8-4 8-3zM36 1086l0-1 10 0 8 0 8 1 14 3 14 5 10 6 10 7 11 9 21 21 4 3 4 1 4 0 4-3 27-24 9-6 10-6 10-4 12-4 12-2 10-1 10 1 12 2 12 3 10 4 10 6 10 7 26 23 6 3 4 1 4-2 4-2 18-19 10-9 8-6 10-6 12-5 12-4 12-3 10-1 12 1 12 2 12 4 12 6 8 5 9 6 9 8 18 17 4 3 4 2 4 0 6-3 26-24 10-7 10-6 10-4 12-4 12-2 10-1 10 1 12 2 12 3 10 4 10 6 10 7 28 25 4 2 4 1 4-1 4-3 21-20 11-9 10-6 12-6 14-5 14-3 14 0 14 1 0 223-14 1-14 0-14-3-16-6-12-6-10-7-12-10-18-19-4-3-4-1-4 0-6 2-27 23-9 7-10 6-10 4-10 3-12 2-12 1-12-1-10-2-10-3-12-5-8-5-10-7-26-22-4-3-4-1-4 1-6 4-24 23-8 7-10 7-10 5-10 4-10 3-12 2-14 0-12-1-12-3-14-6-10-6-10-7-11-9-17-17-6-4-4-1-4 0-6 4-19 18-11 9-10 6-12 6-12 4-14 3-14 1-14-2-10-2-10-4-8-3-8-5-15-11-23-21-4-3-4-1-4 1-4 3-20 19-8 7-12 9-12 6-14 6-14 3-14 1-12 0z"/>
<path fill="#30ff00" d="M633 808l7-1 8 0 14 2 8 3 8 3 12 8 6 5 6 6 8 12 4 8 3 8 3 8 1 8 1 16-1 8-2 8-2 8-3 8-3 6-6 8-4 6-6 6-7 6-6 4-12 6-8 2-8 1-8 1-8 0-14-3-8-3-6-3-6-4-6-5-6-5-6-7-8-12-6-14-2-8-1-8-1-8 0-8 1-8 2-8 2-8 4-8 7-12 4-6 6-6 6-5 6-4 6-4 8-3zM230 812l6-1 8-1 8 1 8 1 6 1 8 3 6 3 8 5 6 4 6 6 5 6 4 6 4 6 3 8 3 8 2 8 1 8 1 8-1 8-1 10-4 14-4 8-4 8-5 6-5 6-11 10-6 4-8 3-6 3-8 2-14 1-8 0-8-2-12-4-8-4-6-4-6-4-6-6-6-7-4-6-3-6-4-8-2-8-2-8-2-16 2-16 4-14 3-8 5-8 4-6 5-6 6-5 6-5 12-7 8-3zM46 1086l12 1 14 2 12 5 12 5 10 7 10 8 9 8 17 18 4 3 4 2 4-1 4-2 26-25 8-6 10-6 10-5 10-3 10-3 10-1 14 0 12 2 12 3 12 5 10 6 8 5 9 8 19 18 4 3 4 1 4 0 6-4 22-24 8-6 10-7 10-6 8-4 10-3 10-2 14-2 14 1 14 3 14 6 10 5 10 7 12 10 18 18 6 4 4 1 4-1 4-2 26-25 10-7 12-7 12-5 12-3 14-2 14 0 10 2 10 2 10 4 10 5 8 6 8 6 26 24 4 3 4 0 4-1 4-3 19-19 11-9 10-7 12-7 14-5 14-3 8-1 8 0 14 2 0 219-8 1-8 1-14-1-14-3-14-6-12-6-12-9-11-10-17-18-4-3-4-2-4 0-6 3-26 24-10 7-10 6-10 4-12 4-12 2-10 0-12-1-12-2-10-3-10-5-10-6-10-7-24-22-4-3-4-1-4 1-4 2-26 26-8 7-10 7-10 5-10 4-10 3-10 2-12 1-14-2-14-3-14-6-10-6-10-7-10-9-20-20-4-3-4-1-4 1-4 2-22 21-10 9-10 7-10 5-14 5-14 2-14 1-14-1-10-3-8-2-8-4-10-6-8-5-8-7-22-21-4-3-4-1-4 1-4 2-21 21-11 10-10 7-10 6-12 5-14 3-14 2-14-1 0-221z"/>
<path fill="#10ff00" d="M642 808l8 0 8 1 8 2 6 2 12 7 6 4 6 5 9 11 4 6 4 8 3 8 3 8 1 8 1 8-1 14-1 8-2 8-6 14-4 6-6 8-5 6-6 5-12 8-8 4-8 2-14 2-8 0-8-1-8-2-6-2-12-7-6-4-6-5-5-6-5-6-4-6-4-8-3-8-2-8-2-16 0-8 1-8 2-10 2-6 3-6 4-8 8-12 7-6 6-5 12-8 12-4 8-2zM234 812l8-1 8 0 14 3 6 1 8 4 8 4 6 5 6 5 4 5 9 12 6 14 2 8 2 8 1 8 0 10-1 8-2 8-5 14-3 6-5 8-5 6-5 6-6 5-6 4-12 6-8 3-8 1-8 1-8 0-6-1-8-2-6-2-8-4-12-8-6-5-5-6-8-12-6-14-3-8-1-8-1-8 0-8 1-8 2-8 4-14 4-8 4-6 9-10 6-6 6-4 12-7 10-3zM40 1088l12 0 14 2 14 4 14 6 10 6 10 8 10 10 18 20 4 3 4 1 4-1 4-2 24-24 10-8 8-5 10-5 10-4 10-3 10-1 14-1 12 2 14 4 12 5 8 4 10 7 10 9 18 18 4 3 4 2 4-1 4-2 24-26 8-7 8-6 10-6 10-5 10-4 10-2 14-1 14 1 14 3 14 5 10 6 12 8 10 9 20 21 4 3 4 1 4-1 4-3 20-20 10-9 10-7 8-4 12-6 14-3 12-2 14 1 10 1 10 3 10 4 10 5 9 6 9 7 24 25 4 2 4 1 4-2 4-2 19-21 11-9 10-7 12-7 14-5 14-3 14-1 8 0 8 2 0 215-16 2-14-1-14-3-14-5-12-7-10-7-12-11-20-22-4-2-4-1-4 1-4 2-20 19-10 9-10 7-10 5-14 5-14 3-14 1-14-2-10-2-8-3-8-4-10-5-8-6-7-6-21-20-4-3-4-1-4 0-4 3-24 25-8 8-10 7-12 7-10 4-12 3-10 2-14 0-14-2-12-3-14-7-10-6-9-7-11-10-18-19-4-3-4-1-4 1-4 2-20 20-11 10-11 8-10 5-14 5-14 3-16 1-14-2-8-2-8-3-8-4-10-5-8-6-8-7-22-23-4-2-4-2-4 1-4 3-19 20-11 11-10 7-10 6-14 6-14 4-14 1-14-1 0-217z"/>
<path fill="#00ff10" d="M632 810l8-1 8 0 14 2 12 4 8 4 6 4 6 5 6 6 4 6 4 6 5 8 2 6 2 8 2 8 1 8 0 8-1 8-1 8-1 6-4 10-4 8-4 6-9 11-6 5-6 5-8 4-6 3-6 2-8 1-8 1-8 0-6-1-8-1-6-2-8-4-12-8-6-5-6-7-8-12-5-12-3-8-1-8-1-8 0-8 1-8 1-8 5-14 3-8 4-6 5-6 5-5 6-6 6-4 6-4 8-3zM242 812l8 0 8 1 8 2 6 2 12 6 6 4 6 5 9 10 4 6 4 8 3 8 3 8 1 8 1 8 0 8-1 8-1 8-2 8-7 14-8 12-10 11-6 4-8 5-8 3-6 2-14 2-8 0-6 0-6-2-8-2-8-3-6-4-6-4-6-5-9-11-4-6-4-8-4-8-2-8-2-16 1-14 1-8 2-8 6-14 4-6 6-8 5-5 6-5 12-8 6-3 8-2 6-2zM36 1090l14-1 8 1 8 1 14 4 14 7 10 6 10 8 10 10 18 21 4 3 4 1 4 0 4-3 24-25 10-8 8-6 12-6 10-3 10-3 10-1 12 0 14 2 14 4 12 5 10 7 10 7 7 7 19 20 4 3 4 0 2 0 4-3 24-27 8-7 10-8 12-7 10-4 12-4 10-1 14-1 14 2 14 5 12 5 10 6 9 7 11 10 18 20 4 3 4 1 4-1 4-3 22-23 8-7 8-6 8-5 8-4 10-3 10-3 16-1 14 1 14 3 14 5 10 6 10 7 11 10 19 21 4 2 4 1 4-1 4-3 17-20 13-11 10-8 12-6 14-6 8-2 8-1 14-1 14 2 0 213-14 1-8 0-8 0-8-2-8-2-14-6-10-5-12-9-11-11-19-22-4-3-4-1-4 1-4 3-20 20-10 9-10 7-10 6-14 5-14 3-14 0-14-1-8-2-10-3-10-5-8-5-8-6-7-6-21-21-4-3-4-2-4 1-4 3-24 26-8 8-10 7-10 6-10 4-12 4-10 2-14 1-14-2-14-4-14-6-10-6-10-8-10-10-18-20-4-3-4-2-4 1-4 3-20 21-10 10-10 7-10 6-14 5-14 3-16 1-14-1-10-3-10-3-10-5-8-5-8-6-7-7-21-23-4-3-4-1-4 1-4 3-19 21-11 11-10 8-10 5-14 6-14 4-14 2-14-1z"/>
<path fill="#00ff30" d="M637 810l7 0 8 0 6 1 8 2 6 2 8 4 6 4 6 5 5 4 5 6 4 6 5 8 3 8 3 8 2 14 0 10 0 8-2 8-2 8-6 14-8 12-5 6-6 5-12 8-8 4-6 2-14 2-8 0-6 0-8-2-6-2-6-2-8-4-6-4-6-6-5-5-5-6-7-12-3-8-3-8-2-14 0-8 0-8 1-8 2-8 6-14 8-12 10-10 6-5 6-4 8-4 6-2 6-1zM233 814l7-1 8 0 6 0 8 2 8 2 6 3 12 7 6 5 6 6 5 6 4 6 6 12 2 8 2 8 1 8 0 8-1 16-5 14-3 8-4 6-4 6-6 6-5 6-6 4-6 4-8 4-6 2-8 1-14 1-8 0-8-2-8-3-6-2-6-4-6-4-6-5-5-6-9-12-5-12-3-8-1-8-1-14 0-8 1-8 2-8 3-8 3-6 4-8 5-6 5-6 11-8 12-7 8-3zM36 1092l2-1 10 0 8 0 8 1 8 2 8 3 14 6 10 6 11 9 9 10 18 22 4 3 4 2 4-1 4-3 22-25 8-7 10-7 10-5 10-5 10-3 12-2 14 0 12 2 12 3 14 6 12 7 10 8 9 9 17 19 4 3 4 0 2 0 4-3 22-27 9-8 9-7 10-6 12-6 12-4 10-2 14 0 12 1 14 4 14 5 10 6 10 8 12 11 18 21 4 3 4 1 4-1 4-3 20-23 8-7 8-6 8-5 10-5 10-4 10-2 14-2 8 0 8 1 14 3 14 6 10 6 10 7 11 10 19 22 4 3 4 0 4-1 4-4 17-20 11-10 12-9 10-6 14-6 8-2 8-1 8-1 8 0 14 2 0 209-14 2-8 0-8-1-8-1-8-2-14-6-12-7-10-8-11-11-19-23-4-3-4-1-4 1-4 3-18 19-10 10-10 8-10 5-14 6-14 3-14 1-16-2-10-2-10-4-8-4-8-4-8-6-7-7-23-24-4-2-2-1-4 1-4 3-24 27-8 8-10 8-10 6-10 4-10 3-12 3-14 0-14-2-14-3-14-7-10-6-10-8-12-12-16-19-4-4-4-1-4 1-4 3-18 20-10 10-12 10-10 5-14 6-14 3-8 1-8 0-16-2-8-2-10-4-8-4-10-6-8-6-7-7-21-24-4-3-4-1-4 1-4 3-17 20-12 12-11 9-10 6-14 6-14 4-14 1-14-1z"/>
<path fill="#00ff50" d="M630 812l6-1 8 0 8 0 6 1 6 1 8 3 6 3 8 5 6 5 6 5 5 6 4 6 6 12 3 8 1 8 1 8 1 8-1 8-1 8-4 14-4 8-3 6-4 6-6 6-10 9-6 4-8 4-6 2-8 2-14 2-14-2-12-4-8-4-6-4-6-5-6-6-5-6-4-6-4-8-3-6-4-14-1-14 1-8 1-8 3-14 3-6 4-8 4-6 5-6 6-5 6-5 12-7 8-3zM237 814l7 0 8 0 8 1 6 2 8 3 6 2 6 4 6 5 6 5 5 6 7 12 4 8 3 8 2 14 1 8-1 8-2 14-3 8-3 8-8 12-9 11-6 5-6 4-12 6-8 2-8 1-14 0-14-2-8-3-6-3-6-4-6-5-6-5-5-7-8-12-5-14-3-14-1-8 0-8 3-14 2-8 4-8 7-12 4-6 6-5 6-5 6-4 8-4 6-3 6-1zM42 1092l14 0 14 3 14 5 12 6 10 6 10 9 10 11 16 21 4 4 4 1 4-1 4-3 14-18 8-8 9-8 9-6 10-6 10-4 10-3 12-2 14-1 12 2 14 4 12 5 10 6 9 7 10 10 19 22 4 3 4 1 2-1 4-3 22-28 8-8 10-7 10-7 10-5 12-4 12-2 14-1 14 2 14 4 14 6 10 6 10 8 12 12 16 20 4 3 4 2 4-2 4-3 20-24 8-7 8-7 8-5 10-5 10-4 10-2 8-1 8-1 14 1 14 3 14 6 10 6 11 8 12 12 17 21 4 3 4 1 4-2 4-4 17-21 10-10 11-8 12-7 14-6 8-3 8-1 14-1 8 1 8 1 0 207-16 2-8 0-8-1-8-2-8-2-14-7-12-7-10-9-11-11-17-22-4-3-4-1-4 1-4 4-17 19-11 11-12 8-10 6-14 5-14 3-8 1-8 0-14-2-10-3-10-4-8-4-8-5-8-7-8-7-20-23-4-3-2 0-4 1-4 3-22 26-8 9-10 8-10 6-12 6-10 3-12 2-14 1-14-2-14-4-14-6-12-8-10-9-10-10-16-20-4-4-4-1-4 1-4 3-18 21-10 11-10 8-12 7-14 6-8 2-8 1-8 1-8 0-14-2-10-3-8-3-10-5-8-5-8-7-8-8-22-26-4-2-2-1-4 1-4 4-17 21-11 12-10 8-10 6-14 7-14 4-16 2-14-1 0-209z"/>
<path fill="#00ff70" d="M634 812l6-1 8 0 14 2 6 2 8 4 6 3 6 4 6 5 5 5 8 12 4 8 3 6 2 8 1 8 1 8 0 8-1 8-1 8-5 14-5 8-4 6-9 10-5 5-6 4-8 5-6 2-6 2-8 1-14 1-6-1-8-2-6-2-8-4-6-3-6-5-5-5-6-6-8-12-3-6-2-8-4-14 0-8 0-8 1-8 2-8 4-12 4-8 4-6 9-10 6-6 6-4 6-3 8-4zM230 816l6-1 8-1 8 1 6 0 8 2 6 2 8 4 6 4 11 9 5 6 4 6 7 12 3 8 2 8 1 14 0 8-1 8-4 14-3 8-4 8-4 6-5 6-10 9-6 4-8 4-6 2-8 3-14 1-14-1-8-3-6-2-12-7-6-5-6-5-5-6-4-6-4-8-3-6-4-14-1-8 0-8 1-14 2-10 3-6 5-12 4-6 5-6 11-9 12-8 6-2zM36 1094l6-1 8 0 8 1 8 1 14 4 8 4 8 4 12 9 9 8 11 12 14 20 4 4 4 2 2-1 4-2 4-4 12-17 8-8 8-8 10-7 10-6 10-4 12-4 10-1 14 0 14 1 14 5 12 6 10 6 8 7 11 11 17 21 4 3 2 1 2 0 2 0 4-4 20-27 8-8 10-9 10-6 12-6 12-5 12-2 14-1 14 2 14 4 14 6 10 7 10 8 12 12 16 21 4 4 4 1 2 0 4-3 22-27 8-8 8-6 10-7 8-4 10-4 10-2 8-1 8-1 14 1 14 4 14 5 12 8 10 8 11 11 17 22 4 3 4 1 4-2 4-4 15-20 12-12 11-9 12-7 8-4 8-3 14-3 14-1 8 1 8 1 0 205-8 1-8 1-8-1-8 0-14-4-8-3-8-4-12-8-10-8-11-12-17-23-4-3-4-2-4 2-4 4-15 18-10 10-9 8-8 5-12 6-12 5-12 2-12 1-12-1-12-3-12-4-10-5-10-7-10-9-9-10-15-18-4-3-4 0-2 0-4 4-17 21-8 10-9 8-8 7-12 7-14 6-14 3-12 1-14-1-14-4-12-4-12-7-10-8-8-7-9-11-15-19-4-4-4-2-4 1-4 4-16 20-10 11-8 7-10 7-12 6-8 3-8 3-14 1-14 0-10-1-12-4-12-5-10-6-9-8-9-8-7-8-15-20-4-3-2 0-4 1-4 4-16 20-10 12-10 9-12 8-14 7-14 4-14 2-8 0-8-1z"/>
<path fill="#00ff8f" d="M639 812l7 0 8 1 12 2 6 2 8 4 6 4 6 5 6 6 5 6 7 12 5 14 2 8 0 8 0 14-3 14-5 14-5 8-4 6-5 6-5 5-6 4-6 4-6 3-8 3-6 1-8 1-8 0-6 0-6-1-8-3-12-5-6-4-6-5-10-11-7-12-3-8-3-8-2-14 0-14 2-14 5-14 5-8 4-6 5-6 6-5 6-5 6-3 12-6 8-2zM233 816l7-1 8 0 6 1 8 1 8 2 6 3 6 3 6 4 10 9 5 6 4 6 4 8 3 6 2 8 2 8 1 14-1 8-1 8-5 14-4 8-3 6-9 11-6 6-6 4-12 6-8 3-8 2-14 0-8-1-6-1-12-5-12-7-11-10-4-6-4-6-4-8-3-6-2-6-2-10-1-14 2-14 4-14 4-8 3-6 5-6 5-6 6-5 6-4 6-4 8-3zM36 1096l0-1 10-1 10 1 8 1 14 4 8 3 8 4 12 8 10 9 10 12 18 25 4 4 2 0 2 0 4-3 21-28 9-8 10-8 10-7 10-4 12-4 12-2 14 0 14 2 14 4 12 6 10 6 10 9 11 12 15 20 4 4 2 1 2 0 2-1 4-3 15-23 8-10 7-6 8-7 10-7 12-6 12-4 12-3 8-1 8 1 14 1 14 5 14 7 10 6 11 10 10 12 15 20 4 4 4 1 2 0 4-3 20-26 7-8 9-7 8-6 10-6 10-4 10-3 8-1 8 0 8 0 8 0 8 2 8 2 14 7 12 8 10 8 11 12 15 21 4 3 2 1 2 0 2 0 4-4 17-23 11-11 10-9 12-8 14-6 8-3 8-1 8-1 8-1 8 1 8 1 0 203-8 1-8 1-8-1-8-1-8-1-8-3-14-6-12-8-10-9-11-12-17-24-4-4-2-1-2 0-2 1-4 3-16 19-9 10-8 8-9 7-12 6-12 5-14 3-12 1-12-1-14-4-12-4-10-6-10-7-10-10-9-10-11-14-4-5-4-2-2 0-2 1-4 3-15 21-10 12-8 8-9 7-12 8-12 5-14 3-14 2-14-1-12-3-14-6-12-6-10-8-9-9-9-10-16-23-4-3-2 0-2 0-4 3-18 23-9 10-9 9-10 7-14 7-14 4-14 2-14 0-12-2-12-4-12-6-10-6-8-7-10-10-20-27-4-3-2-1-2 1-2 1-4 4-15 21-11 12-10 10-10 7-14 7-8 3-8 2-8 1-8 1-14-1z"/>
<path fill="#00ffaf" d="M630 814l6-1 8 0 8 0 6 1 12 3 8 4 6 4 6 4 5 5 5 6 5 6 6 12 2 6 3 10 1 8 0 8 0 8-2 8-4 14-6 12-4 6-5 6-10 9-6 4-8 4-6 2-8 2-14 2-8-1-6-1-6-2-8-3-12-7-10-9-9-12-6-12-3-8-2-8-1-14 0-8 1-8 4-14 3-6 4-8 5-6 5-6 11-9 10-6 6-2zM237 816l7 0 8 0 8 1 6 2 12 5 6 3 7 5 9 10 8 12 3 6 3 8 2 8 2 8 0 8 0 8-3 14-2 8-4 8-8 12-9 10-6 5-6 4-6 3-8 3-8 2-6 0-8 1-6-1-8-1-6-2-6-2-8-5-10-7-6-6-5-6-7-12-5-14-3-14 0-8 0-8 3-14 6-14 7-12 5-6 5-4 6-5 6-4 12-6 8-2zM36 1096l8 0 8 0 8 0 8 2 8 2 8 3 14 8 10 7 10 10 11 14 15 23 4 3 2 1 2 0 4-4 15-21 9-11 8-8 8-6 10-6 12-6 12-3 10-2 14 0 14 2 14 4 14 7 10 7 9 8 10 12 17 24 4 2 2 1 2-1 4-4 12-20 9-12 9-9 8-7 10-7 12-6 12-4 12-3 14 0 8 0 8 2 14 4 14 7 12 8 9 9 10 12 17 23 4 3 2 1 2 0 4-4 19-27 8-8 8-8 9-6 10-6 10-4 10-2 8-2 8 0 8 0 8 1 8 1 8 3 14 6 12 8 10 9 11 12 17 24 4 3 2 0 2-1 4-3 16-23 10-12 12-11 12-8 14-6 8-3 8-1 8-1 8-1 8 1 8 1 0 201-8 1-8 0-8 0-8-1-8-1-8-3-14-6-12-8-12-11-11-13-17-25-4-3-2-1-2 1-4 4-15 20-9 10-9 8-9 8-12 6-12 5-12 2-14 1-12 0-12-3-12-5-12-6-10-8-11-10-7-8-12-17-4-5-4-2-2 0-2 0-4 4-15 22-8 10-9 10-10 8-12 7-14 6-14 4-12 0-14-1-14-3-14-6-12-7-10-8-8-8-9-12-15-22-4-4-2 0-2 0-4 3-16 23-10 12-10 10-10 7-12 6-14 5-14 2-8 0-8 0-12-2-12-4-10-5-12-7-9-8-7-8-10-12-12-18-4-4-2-1-2 1-4 3-17 25-10 12-9 9-12 8-14 8-8 3-8 2-8 1-8 0-14 0z"/>
<path fill="#00ffcf" d="M633 814l7-1 8 0 6 1 8 1 12 5 12 7 10 9 5 6 4 6 4 8 4 8 3 14 1 14-1 8-2 8-2 8-3 8-7 12-9 10-11 9-8 5-6 2-6 2-8 1-14 1-6-1-8-2-6-2-8-4-10-7-6-5-4-5-5-6-4-6-3-6-3-8-3-14 0-14 1-14 3-8 3-8 6-12 9-10 6-5 6-5 6-3 8-4zM230 818l6-1 8-1 8 1 6 0 8 2 6 2 8 4 6 4 10 9 5 6 4 6 4 6 3 8 4 14 1 8 1 8-2 14-2 8-3 8-6 12-5 6-5 6-5 5-6 5-12 6-12 4-8 1-6 0-6 0-8-1-12-4-12-7-11-9-5-6-5-6-6-12-5-14-1-14 0-8 0-8 4-14 2-6 4-8 4-6 5-5 10-10 6-4 6-4 6-2zM36 1098l0-1 2 0 12 0 10 0 8 2 14 4 8 4 8 5 12 9 10 11 10 14 14 22 4 4 2 1 2 0 4-4 13-21 9-12 8-8 8-6 10-7 12-6 12-4 12-2 8-1 8 1 14 2 14 5 14 8 10 7 9 9 10 12 15 23 4 3 2 1 2-1 4-5 12-21 9-12 7-8 8-7 10-7 12-7 14-5 12-3 8 0 8 0 8 0 8 2 14 5 14 7 10 8 10 9 11 14 15 22 4 4 2 1 2-1 4-3 13-21 6-8 7-8 8-7 10-8 10-5 10-5 10-2 8-2 8 0 8 0 8 0 8 2 8 3 8 3 8 4 12 9 9 8 10 12 17 25 4 3 2 1 2-1 4-4 15-24 10-12 11-10 12-8 8-5 8-3 8-3 8-1 8-1 8 0 8 0 8 1 0 199-8 1-8 0-8 0-8-1-8-1-8-3-8-3-8-5-12-8-11-11-10-12-17-27-4-3-2 0-2 1-4 4-14 19-8 10-8 9-10 8-12 7-12 5-14 3-14 2-12-1-14-4-12-5-12-7-9-7-8-8-10-12-15-21-4-3-2 0-2 1-4 4-13 21-9 12-8 9-10 8-12 8-14 7-14 3-14 1-14-1-14-3-12-5-14-8-10-9-10-10-9-12-13-21-4-4-2-1-2 0-4 4-15 22-9 12-10 10-10 8-8 5-6 3-14 5-14 2-8 1-8-1-12-2-12-4-12-6-12-8-7-7-8-8-9-12-12-20-4-4-2-1-2 1-4 4-16 24-9 12-10 10-11 9-14 8-8 3-8 2-8 2-8 0-8 0-8 0z"/>
<path fill="#00ffef" d="M637 814l7 0 8 0 6 1 8 2 12 5 11 8 10 10 8 12 4 8 2 6 2 14 1 8 0 8-3 14-2 8-3 6-7 12-9 11-6 5-6 4-12 5-8 3-8 1-8 0-6 0-8-1-6-2-6-2-8-5-10-7-9-10-8-12-6-14-3-14 0-8 0-8 3-14 2-6 3-8 8-12 9-10 5-4 6-4 8-4 6-3 6-1zM233 818l7-1 8 0 6 0 8 2 12 4 12 7 6 5 5 5 5 6 4 6 3 6 4 8 3 14 1 8 0 8-2 14-4 14-7 12-4 6-6 6-10 9-12 6-6 3-8 1-12 1-8 0-6-1-12-4-8-4-6-4-10-9-5-6-4-6-6-12-3-6-2-10-1-14 0-8 2-8 4-14 6-12 4-6 6-6 5-5 6-4 6-4 6-3zM37 1098l7 0 8 0 8 0 8 2 8 2 8 3 8 4 8 6 10 8 11 11 9 14 14 24 4 5 2 1 2-1 4-4 11-19 9-14 8-8 8-8 10-7 12-6 12-4 14-3 14 0 8 0 8 2 14 5 14 8 10 8 9 9 10 12 15 25 4 4 2 0 2-1 4-5 11-21 8-12 7-8 8-8 10-8 12-7 14-6 12-2 8-1 8 0 8 0 8 2 8 2 8 3 14 7 12 10 10 10 11 14 13 22 4 4 2 1 2-1 4-4 11-18 6-10 8-10 9-8 8-6 10-6 10-5 12-4 8-1 8-1 8 1 10 1 8 2 8 2 14 7 12 9 10 10 11 13 15 25 4 4 2 0 2-1 4-5 12-21 12-15 12-12 12-8 8-5 8-3 8-3 8-1 8-1 8-1 8 1 8 1 0 197-8 1-8 0-10 0-8-1-8-2-8-3-8-3-8-5-12-9-11-12-11-14-14-24-2-3-2-1-2 0-2 1-4 4-14 21-7 10-9 10-10 8-12 7-14 6-12 3-14 1-14-2-14-3-12-6-12-7-8-7-10-10-9-12-13-21-4-3-2 0-2 1-4 5-11 18-9 14-10 11-10 9-6 5-8 4-12 5-14 4-14 1-14-1-14-3-14-6-6-3-8-6-10-9-10-11-9-14-11-19-4-5-2-1-2 1-4 4-13 22-10 14-10 10-11 9-14 8-14 5-8 2-8 0-14 0-14-3-12-4-12-6-10-7-8-8-9-10-8-12-11-19-4-5-2-1-2 0-4 5-13 22-12 16-9 10-12 10-14 8-8 3-8 2-8 2-8 0-8 0-8 0 0-199z"/>
<path fill="#00efff" d="M629 816l7-1 8-1 8 1 6 1 8 2 6 2 6 3 6 4 10 8 9 11 6 12 3 8 2 8 2 14-1 8-1 8-4 14-3 8-4 6-4 6-5 6-10 8-12 7-6 3-8 2-8 1-6 0-14-2-12-4-12-7-10-8-9-12-6-12-5-14-2-14 1-14 4-14 2-6 4-8 4-6 4-6 5-4 6-5 12-8 8-3zM236 818l6 0 8 0 8 1 6 1 8 3 6 3 6 3 6 5 5 4 5 6 4 6 4 6 3 6 2 8 3 14 0 14-1 8-1 8-3 8-3 6-7 12-10 10-5 5-6 4-6 3-8 3-12 3-6 0-8 0-6-1-8-2-12-5-6-4-6-5-9-9-8-12-4-8-2-6-3-14 0-14 2-14 1-6 3-8 7-12 9-10 6-6 6-4 6-3 8-4zM36 1100l0-1 2 0 12-1 10 1 8 2 8 2 10 4 8 5 6 4 12 10 11 12 10 16 13 26 2 2 2 1 2-1 2-2 13-24 6-10 8-10 9-9 10-7 12-7 14-6 12-2 8-1 8 0 8 1 8 2 8 2 8 4 8 4 6 4 11 9 10 12 10 14 13 24 2 2 2 1 2-2 2-3 11-22 7-12 8-10 9-10 11-9 12-7 12-5 14-4 8 0 10 0 8 0 8 2 8 2 8 4 14 8 12 10 10 11 9 12 13 24 4 5 2 1 2-1 4-5 11-20 7-12 7-8 7-7 8-7 10-6 10-5 12-4 8-2 8-1 10 0 8 1 8 2 8 3 8 3 8 4 12 9 12 12 5 6 6 10 13 23 2 3 2 1 2 0 2-1 2-2 14-26 10-14 12-12 12-9 8-5 8-3 8-3 8-2 8-1 10-1 8 1 8 1 0 195-8 1-8 1-10-1-8-1-8-2-10-4-14-7-13-10-11-12-11-16-13-24-2-3-2-2-2 0-2 1-2 3-13 21-5 8-7 8-11 12-12 9-8 4-8 3-8 3-8 2-8 1-10 0-8-1-8-2-10-3-10-5-10-6-10-8-8-8-7-9-19-31-2-2-2 0-2 1-2 3-13 23-11 16-10 12-12 10-8 5-8 4-14 5-8 2-10 1-8-1-8 0-14-4-12-5-12-7-10-8-9-10-8-10-8-14-11-20-2-3-2-1-2 1-2 2-14 25-9 14-11 12-10 9-6 4-8 4-8 3-8 3-14 2-8 1-8-1-14-2-14-6-12-7-10-7-8-9-10-12-7-12-11-21-2-3-2-1-2 1-2 2-13 24-10 16-11 13-12 10-6 4-8 5-8 3-8 3-8 1-10 1-8 0-8 0z"/>
<path fill="#00cfff" d="M632 816l6-1 8 0 8 0 6 2 8 2 6 2 6 4 6 4 10 9 5 6 4 6 4 8 2 6 3 14 1 8 0 8-2 14-4 12-4 8-4 6-5 6-4 5-10 8-12 6-6 3-8 1-6 1-8 0-12-1-6-2-8-3-10-6-11-10-5-6-4-6-6-12-4-14-1-14 0-8 1-8 5-14 6-12 4-6 5-6 10-8 12-7 8-3zM240 818l6 0 8 0 6 1 8 3 12 5 6 4 6 5 9 10 4 6 4 8 3 8 2 6 2 14 0 14-3 14-3 6-3 8-4 6-5 6-8 9-6 5-6 3-8 4-6 2-8 2-6 0-12 0-8-2-6-1-12-6-6-4-6-5-10-11-7-12-2-6-3-8-2-14 0-14 3-14 2-6 4-8 8-12 9-9 6-5 6-4 12-5 8-2zM36 1100l8-1 10 1 10 1 8 2 8 3 8 3 8 5 8 6 6 5 7 7 10 14 10 18 11 26 2 2 2-2 9-20 8-16 10-14 9-10 12-9 12-7 12-5 14-3 8-1 10 0 8 2 8 1 8 3 8 4 8 4 6 5 11 10 10 12 10 16 11 24 2 4 2 1 2-3 9-22 7-14 8-12 10-12 12-10 12-8 12-5 14-4 8-1 8-1 8 1 10 1 8 3 8 3 8 4 8 5 12 10 11 12 10 16 13 25 2 3 2 2 2-1 2-3 10-22 7-12 8-10 7-8 10-9 10-6 10-5 12-4 10-2 8-1 10 0 8 2 8 1 8 3 8 4 8 5 6 4 7 6 11 12 10 16 14 27 2 2 2 0 2-1 2-4 11-22 10-16 6-8 6-6 13-11 8-5 8-3 8-4 8-2 10-1 8-1 8 1 10 1 0 193-10 1-8 1-8-1-10-1-8-3-10-3-8-5-6-4-12-9-6-7-6-7-5-8-6-10-13-27-2-2-2 0-2 2-2 3-13 24-9 14-6 6-6 7-8 7-6 4-8 4-8 4-8 2-8 2-10 1-8 0-10-1-8-2-10-4-10-5-10-6-10-9-7-8-6-8-9-14-10-20-2-3-2 0-2 2-2 3-13 26-9 14-10 13-12 11-8 5-8 4-8 4-8 2-8 2-8 1-10 0-8-1-14-4-14-6-12-8-10-9-9-10-9-12-7-14-11-24-2-2-2 1-2 4-10 21-9 16-10 14-6 6-7 6-8 6-6 3-8 4-8 3-8 1-10 2-8 0-8-1-14-3-14-6-12-7-12-10-10-12-8-12-7-14-9-21-2-3-2 2-11 24-10 18-10 14-7 8-6 5-8 6-8 5-8 3-8 3-8 2-10 1-10 1-8-1z"/>
<path fill="#00afff" d="M634 816l8-1 6 0 6 1 8 2 6 1 8 4 6 4 6 4 9 9 8 12 4 8 2 6 3 14 1 14-3 14-1 6-3 8-7 12-9 11-6 5-6 4-12 6-6 2-8 1-6 1-8 0-12-2-12-5-6-3-6-5-10-9-8-12-4-6-3-8-3-14-1-14 2-14 4-12 4-8 3-6 5-6 5-5 10-8 6-4 8-3zM231 820l7-1 6 0 8 0 6 1 8 2 6 2 12 6 10 9 5 5 4 6 4 6 3 8 4 14 2 14-1 14-4 14-4 8-3 6-5 6-5 6-10 9-12 7-6 2-8 2-12 1-6 0-8-2-8-2-6-2-6-4-6-4-10-9-5-6-4-6-6-12-3-14-2-14 2-14 3-12 3-8 4-6 8-11 10-9 6-4 6-3 8-3zM44 1100l8 0 10 1 8 2 8 3 8 3 8 5 8 5 6 5 6 6 6 8 11 16 5 12 5 12 3 12 1 6 0 8-2 8-8 20-4 8-6 10-6 8-7 8-12 11-8 6-8 4-8 3-8 2-8 2-8 1-8 0-8-1 0-193zM444 1100l10 0 8 1 8 2 8 2 8 4 8 4 8 5 7 6 11 12 4 6 7 10 6 12 6 14 4 10 2 8-2 8-4 12-10 22-10 16-5 7-6 7-6 5-8 6-6 4-8 4-8 3-8 3-8 1-8 1-8 0-10-2-8-1-8-3-8-4-8-4-8-6-6-6-7-7-6-8-10-16-6-12-4-12-3-8-1-8 1-8 3-8 4-12 4-10 9-16 6-8 7-8 6-6 7-5 6-4 8-4 8-4 8-2 8-2zM844 1100l12 1 10 1 0 191-14 2-8 0-10-1-8-2-8-3-8-3-8-5-8-6-6-5-6-6-7-8-10-16-5-10-5-12-6-18-1-4 1-4 4-12 10-22 10-16 6-8 5-6 6-6 8-5 8-6 6-3 8-3 8-2 8-2zM642 1102l8 0 10 1 8 1 8 3 8 3 8 4 8 5 6 5 6 6 7 8 5 8 5 8 10 20 4 12 2 8 0 4-2 8-6 14-5 10-9 16-6 8-6 6-11 11-6 4-8 4-8 4-8 2-8 2-8 1-10 0-8-1-8-2-8-2-8-3-8-5-8-5-6-6-6-6-7-8-10-16-6-12-4-10-4-10-1-6 1-6 2-6 4-12 6-12 9-16 4-6 7-8 6-6 7-5 12-8 8-3 8-3 8-2zM242 1106l8 0 10 1 8 1 8 3 8 3 8 4 8 5 6 5 6 6 7 8 6 8 4 8 5 10 5 10 3 12 1 6 0 8-2 8-4 10-4 10-4 8-6 10-6 8-5 6-12 11-6 4-8 4-8 4-8 2-8 2-8 1-10 0-8-1-8-2-8-2-8-4-8-4-8-6-6-5-6-6-7-8-10-16-5-10-4-10-3-12-1-6 0-6 1-6 4-10 4-10 4-8 6-10 5-8 7-8 6-6 7-5 6-4 8-4 14-6 8-2z"/>
<path fill="#008fff" d="M638 816l8 0 6 0 6 1 8 2 12 6 6 4 6 4 5 5 5 6 7 12 4 12 2 8 1 8 0 14-3 14-2 6-4 8-8 12-9 10-6 4-6 4-8 3-6 2-12 2-12 0-8-1-6-2-6-3-8-4-10-8-5-5-5-6-7-12-4-12-3-14 0-14 3-14 2-6 3-8 8-12 9-10 11-7 12-6 8-2zM233 820l7-1 8 0 6 0 8 2 12 4 12 7 6 5 5 5 4 6 4 6 6 12 3 14 1 8 0 8-2 14-2 8-2 6-7 12-8 10-6 5-6 5-12 6-6 2-8 2-8 0-6 0-8-1-6-1-12-5-6-3-6-5-9-9-5-6-4-6-5-12-3-14-1-14 1-14 5-14 6-12 9-10 10-9 6-4 6-3 8-2zM36 1102l6-1 10 0 8 1 10 2 10 3 8 4 8 5 8 6 6 5 6 7 6 8 6 10 6 12 4 10 3 8 2 10 0 8-1 6-1 8-4 10-8 18-6 10-6 8-7 8-6 5-6 5-8 5-8 4-8 3-8 2-8 1-12 1-10-1zM434 1102l10-1 8 0 8 1 10 2 10 3 8 4 8 4 8 6 6 5 7 8 6 8 6 8 6 12 4 10 4 10 2 10 0 6-1 6-2 8-4 12-5 12-4 8-5 8-6 8-8 8-6 6-6 4-8 5-14 7-8 2-8 1-8 1-10 0-8-1-8-2-10-4-8-4-6-3-8-6-6-6-8-8-6-8-5-8-6-12-4-10-3-8-2-10 0-6 0-8 3-10 2-8 4-10 5-10 5-8 6-8 11-12 6-4 8-6 14-7 10-3zM833 1102l9-1 8 0 8 1 8 1 0 189-8 1-8 1-10 0-10-2-8-2-8-3-8-4-8-6-7-5-6-6-7-8-6-8-5-8-5-10-5-12-2-8-3-10 0-8 1-6 2-8 4-10 8-18 5-8 6-8 6-6 6-6 6-5 8-5 14-7 8-3zM633 1104l9-1 8 0 8 0 10 2 8 2 8 4 8 4 8 5 7 6 6 6 6 8 6 8 5 10 5 10 4 10 2 10 1 8-1 6-4 14-8 18-6 10-6 8-5 6-6 7-6 5-8 5-14 7-8 2-8 2-8 1-10 0-8-1-8-1-10-4-8-3-8-5-7-5-7-7-7-7-6-8-5-8-5-10-5-10-3-10-2-8 0-6 1-8 5-16 6-12 4-8 10-14 11-11 12-9 8-5 6-2 8-3zM233 1108l9-1 10 0 8 1 10 2 8 2 8 4 8 4 8 6 7 6 6 6 6 8 5 8 4 8 5 10 3 10 3 10 0 6 0 6-2 8-2 8-4 10-4 8-6 10-6 8-5 7-6 6-6 5-8 5-14 7-8 2-8 2-8 1-10 0-8-1-8-1-10-4-8-3-8-5-6-5-7-6-6-6-6-8-5-8-5-8-4-10-4-10-2-10-1-8 1-6 1-8 3-8 4-10 4-8 5-8 5-8 11-12 6-4 8-6 8-5 6-2 8-3z"/>
<path fill="#0070ff" d="M629 818l13-2 8 1 6 0 8 2 6 2 12 7 10 8 9 10 6 12 3 8 2 8 2 14-1 14-4 14-2 6-5 8-4 6-5 6-5 5-6 5-6 3-6 3-12 4-12 1-6 0-8-1-12-4-12-7-10-8-9-11-7-12-2-8-2-8-2-14 1-14 4-14 6-12 4-6 5-6 10-9 10-6 6-2zM236 820l12-1 6 1 8 1 6 2 8 4 6 3 6 5 6 5 5 6 8 12 5 12 2 14 1 14-3 14-1 6-4 8-7 12-9 10-11 8-6 4-8 3-12 2-6 1-8 0-12-3-6-2-8-4-10-6-9-9-4-6-4-6-4-8-2-6-2-8-1-6-1-14 2-14 2-6 3-8 7-12 9-10 6-5 6-4 12-6zM39 1102l9 0 8 0 8 1 10 3 8 3 8 4 8 5 7 6 7 7 6 7 6 8 5 8 4 10 4 10 2 8 2 10 0 8 0 8-2 8-4 10-4 10-4 8-7 10-6 8-6 7-8 6-6 5-8 4-14 6-8 2-10 1-10 0-8-1 0-189zM440 1102l8 0 8 0 10 1 8 3 10 3 8 5 8 5 6 5 7 6 6 8 6 8 6 10 8 18 2 8 2 10 0 8-1 6-2 8-4 12-5 12-4 8-6 8-6 8-6 6-7 7-6 4-8 5-8 3-8 3-8 2-8 1-8 0-8 0-8-2-10-2-8-4-8-4-8-5-7-6-6-6-7-8-5-8-6-10-5-10-3-10-2-8-1-8 0-8 1-8 4-16 4-10 6-10 5-8 6-8 6-6 6-6 6-4 8-5 8-4 8-3 8-2zM839 1102l13 0 14 2 0 187-12 2-8 0-8 0-8-2-10-3-8-3-8-4-8-6-6-5-6-6-7-8-7-10-4-8-5-12-4-10-2-8-1-8 0-8 1-6 2-8 4-10 4-10 4-8 6-8 6-8 7-7 6-6 6-4 8-5 8-4 8-3 8-2zM638 1104l8 0 8 0 10 1 8 2 8 3 8 4 8 4 7 6 7 6 7 8 6 8 4 8 4 8 4 10 3 10 2 8 0 6-1 8-2 8-2 8-5 10-5 10-10 14-6 6-6 6-13 9-8 4-8 3-8 3-8 1-10 0-8 0-8-1-8-2-8-3-8-4-8-5-6-5-6-6-6-6-6-8-5-8-6-12-4-10-2-8-2-8 0-6 1-8 1-6 3-10 5-10 4-8 5-8 6-8 5-6 7-6 12-9 8-4 8-3 8-2zM238 1108l8 0 8 0 10 1 8 2 8 3 8 3 6 4 8 6 6 5 7 8 6 8 5 8 4 8 5 10 2 8 2 10 0 6 0 8-2 10-3 8-5 12-4 8-10 14-11 11-8 7-6 3-8 4-8 3-8 3-8 1-10 0-8 0-8-1-8-2-8-3-8-4-8-5-6-5-6-6-7-8-6-8-5-8-4-8-4-10-3-10-1-8 0-8 0-6 2-8 3-8 4-10 4-8 5-8 6-8 5-6 7-6 6-5 8-5 8-4 8-3z"/>
<path fill="#0050ff" d="M631 818l13-1 8 0 6 1 6 2 8 3 6 3 6 4 10 9 5 5 4 6 5 12 4 14 1 8 0 8-1 14-3 8-2 6-7 12-8 11-10 8-12 6-6 3-8 1-12 1-8 0-6-1-6-2-8-4-10-6-10-9-5-6-4-6-6-12-2-8-1-6-1-14 1-14 4-14 7-12 4-6 5-5 10-8 6-4 6-3zM239 820l13 0 8 1 6 2 6 2 8 4 10 8 9 9 7 12 5 12 2 8 1 8 0 14-3 14-4 12-8 12-9 11-6 4-6 4-8 4-6 2-12 2-8 0-6 0-8-2-6-1-12-6-10-8-9-10-8-12-4-12-3-14 0-14 2-14 5-12 4-8 4-6 10-10 11-8 12-5 6-2zM36 1104l0-1 4 0 12 0 8 0 10 2 8 3 8 4 8 4 8 6 7 6 7 8 6 8 5 8 4 8 4 10 3 12 2 8 0 8 0 8-2 8-3 10-4 10-4 8-5 8-6 8-6 8-6 5-6 5-8 5-14 7-8 2-10 2-10 0-12 0zM432 1104l8-1 10 0 10 0 8 2 10 3 8 3 8 5 8 5 8 7 5 6 7 8 5 8 4 8 5 12 3 8 2 10 1 8-1 8-2 10-2 8-4 10-4 8-5 8-5 8-11 12-6 6-8 5-8 5-8 3-8 3-8 1-8 1-8 0-10-1-8-1-8-3-8-3-8-5-8-6-6-5-8-8-6-8-5-8-4-8-4-10-4-12-2-8 0-6 0-8 2-10 2-8 4-10 3-8 5-8 5-8 6-7 6-6 12-10 6-3 8-4 8-3zM831 1104l9-1 8 0 10 0 8 2 0 185-6 2-10 0-8 0-8-1-8-2-8-2-8-4-8-5-8-5-6-6-7-7-6-8-5-8-5-10-4-10-3-8-2-10-1-8 1-6 1-8 2-8 3-10 5-10 5-8 5-8 11-12 6-6 8-5 6-4 8-4 8-3zM631 1106l9-1 8-1 10 1 8 1 8 2 8 3 8 4 8 6 7 5 6 6 6 8 6 8 8 16 4 10 2 10 1 8 0 8-1 8-2 8-4 10-4 8-4 8-6 8-11 13-6 5-8 5-8 5-8 3-14 4-8 1-10 0-8-1-8-2-8-3-8-3-6-3-8-6-7-6-6-6-7-8-5-8-4-8-5-10-3-10-2-8 0-6 0-8 1-8 2-8 7-16 4-8 5-8 6-7 6-6 12-10 6-4 8-4 8-3zM231 1110l9-1 8-1 10 1 8 1 8 2 8 3 8 4 8 6 7 5 6 6 7 8 5 8 5 10 5 10 2 8 2 8 1 8 0 6-1 8-2 10-4 10-4 8-4 8-6 8-5 7-6 6-6 5-8 5-8 5-8 3-14 4-8 1-10 0-8-1-8-2-8-3-8-3-6-3-8-6-7-6-6-6-5-6-5-8-6-10-3-8-3-8-3-10-1-8 0-8 1-8 2-8 7-16 4-8 5-8 6-7 6-6 12-10 6-4 8-4 8-3z"/>
<path fill="#0030ff" d="M634 818l6-1 8 0 6 1 8 1 6 2 8 4 10 7 10 9 7 11 6 12 3 14 1 8 0 8-2 14-4 12-4 8-4 6-9 10-6 5-6 4-12 5-12 3-6 1-8 0-12-2-12-5-6-3-6-5-9-9-5-6-4-6-5-12-2-8-1-6-1-14 2-14 4-12 4-8 3-6 5-6 5-4 10-8 12-6zM230 822l8-1 6-1 8 1 6 0 12 4 12 6 6 5 5 4 5 6 4 6 7 12 4 14 1 14-1 14-4 14-6 12-4 6-5 6-10 9-12 7-12 4-8 1-6 0-12-1-8-2-6-3-10-5-10-8-5-6-5-6-3-6-4-8-3-12-2-14 1-14 4-14 5-12 4-6 5-6 5-4 6-5 10-6zM36 1104l8-1 10 0 10 2 8 2 8 3 8 4 6 3 8 6 6 5 7 8 6 8 6 10 4 8 4 10 2 8 2 10 0 8-1 8-1 8-2 8-4 10-4 8-6 10-6 8-7 8-6 6-6 4-8 5-14 7-8 2-8 1-12 1-10-1zM436 1104l10-1 8 0 10 2 8 2 8 2 8 4 8 5 8 6 6 5 6 7 6 8 5 8 4 8 4 10 4 12 1 8 0 8 0 8-2 8-3 10-4 10-4 8-5 8-6 8-6 8-6 5-6 5-8 5-8 4-8 3-8 2-8 1-10 1-8-1-8-1-8-2-8-3-8-4-8-5-6-5-6-6-6-7-6-8-5-8-4-8-4-10-3-8-2-10 0-8 0-8 2-10 2-8 4-10 4-8 5-8 5-8 6-6 6-6 6-5 8-5 14-7 8-3zM835 1104l15-1 8 1 8 1 0 185-8 1-8 1-10-1-8-1-8-2-8-3-8-4-8-5-8-6-6-6-7-8-5-8-5-8-4-8-4-10-2-8-2-10 0-8 0-8 2-8 2-8 4-10 4-8 5-8 5-8 7-7 6-6 8-6 6-4 8-4 8-3zM634 1106l10-1 8 0 8 1 8 1 8 3 8 3 8 5 8 5 8 7 5 6 10 14 8 16 3 10 3 10 0 8 0 8-2 8-2 8-7 16-4 8-6 8-6 8-6 6-8 6-6 4-8 4-8 3-14 3-8 1-8 0-10-1-8-2-8-3-8-4-6-3-8-6-6-6-6-6-6-8-5-8-4-8-4-10-3-8-2-8 0-6 0-8 1-8 2-8 4-10 4-8 4-8 5-8 6-6 6-6 6-6 8-5 8-4 6-3 8-2zM234 1110l10-1 8 0 8 1 8 1 8 3 8 3 8 4 8 6 8 7 5 6 5 6 5 8 6 10 4 10 2 8 1 8 1 8 0 8-2 8-2 8-4 10-4 8-9 14-11 12-5 5-8 6-6 3-8 4-8 2-8 2-10 1-8 0-8-1-8-2-8-2-8-4-8-4-6-5-8-7-6-6-4-6-6-8-5-10-4-10-2-8-2-8-1-6 0-8 2-8 1-8 4-10 4-8 4-8 6-8 5-6 6-6 6-5 8-6 8-4 6-3 8-2z"/>
<path fill="#0010ff" d="M636 818l8 0 6 0 8 1 6 2 12 5 6 3 6 5 4 4 6 6 7 12 3 8 2 6 2 12 1 12-3 14-1 6-4 8-3 6-4 7-5 5-5 5-10 8-12 5-6 2-8 1-8 1-6-1-12-2-12-6-6-3-6-5-5-5-5-6-7-12-5-12-1-6-1-8 0-14 2-14 5-12 7-12 10-10 10-7 12-6zM232 822l6-1 8 0 12 1 12 3 8 4 6 4 10 9 5 6 4 6 6 12 4 14 1 14-2 14-3 12-4 8-4 6-4 6-5 6-10 8-6 3-6 3-12 4-12 1-8-1-6-1-12-4-6-3-6-4-10-9-9-11-4-8-2-6-3-12-2-12 1-14 4-14 6-12 4-6 5-6 10-9 6-4 6-3zM41 1104l9 0 10 1 8 1 8 3 14 6 8 6 6 5 7 6 6 8 6 8 4 8 4 8 3 10 3 10 1 8 0 8-1 8-2 10-3 8-4 10-4 8-5 8-6 8-6 6-7 7-6 4-8 5-8 3-8 3-8 2-8 1-8 0-10-1 0-185zM442 1104l8 0 10 1 8 1 8 3 8 3 8 4 8 6 6 5 6 6 6 7 6 8 4 8 5 10 3 8 2 10 1 8 0 8-1 8-1 8-4 12-8 16-5 8-6 8-6 6-6 6-8 6-6 3-8 4-8 3-8 2-10 1-8 0-10-1-8-2-8-2-14-7-8-6-6-5-6-6-7-8-6-10-4-8-7-16-2-8-1-10 0-8 1-10 5-16 4-10 4-8 10-14 7-7 6-6 6-4 8-5 8-4 8-3 8-2zM841 1104l13 0 12 2 0 183-12 2-8 0-10-1-8-2-8-2-14-7-8-5-7-6-6-6-7-8-5-8-4-8-5-10-3-10-2-8-1-8 0-8 1-8 1-8 3-8 4-10 4-8 5-8 6-8 6-6 8-7 8-6 6-4 8-3 8-3 8-2zM639 1106l9 0 8 0 8 1 8 2 8 3 8 4 8 5 6 5 6 5 6 7 6 8 5 8 3 8 4 10 2 8 2 8 0 8-1 8-1 6-3 10-3 8-4 8-4 8-6 8-6 7-6 5-6 5-8 5-8 4-8 3-8 2-8 1-10 0-8 0-8-2-8-2-6-3-8-4-8-5-6-5-6-6-6-7-6-8-4-8-7-16-2-8-2-10 0-8 1-8 1-6 3-10 3-8 5-8 4-8 6-7 6-6 6-6 8-6 6-3 14-6 8-3zM239 1110l9 0 8 0 8 1 8 2 8 3 8 4 8 5 6 5 6 5 6 7 6 8 5 8 4 8 3 10 2 8 2 8 0 8-1 8-1 8-3 8-3 8-4 8-4 8-6 8-6 7-6 5-6 5-8 5-8 4-8 3-8 2-8 1-10 0-8 0-8-2-8-2-6-3-8-4-8-5-6-5-6-6-6-7-9-14-4-8-4-10-2-10-1-8-1-8 1-8 1-6 3-10 4-8 4-8 5-8 4-6 5-6 7-6 7-5 6-4 8-4 8-3 8-3z"/>
<path fill="#1000ff" d="M640 818l6 0 8 1 12 3 12 5 6 4 6 5 9 10 3 6 4 8 3 6 2 8 1 12 0 14-1 6-3 8-5 12-4 6-5 6-4 5-6 5-6 4-6 3-12 4-12 2-8 0-6-1-12-3-12-6-10-8-9-11-7-12-4-12-1-6-1-8 0-14 3-14 5-12 4-6 4-6 10-9 6-4 6-4 12-5zM234 822l8-1 6 0 6 1 8 1 12 5 6 3 6 4 10 9 7 10 4 8 2 6 4 14 0 14-2 14-4 12-6 12-9 11-10 8-12 7-6 2-8 1-6 1-8 0-12-2-12-4-6-4-6-4-6-5-4-5-7-10-6-12-2-8-1-6-1-14 1-14 4-12 6-12 5-6 5-5 10-9 6-3 6-3zM36 1106l4-1 10 0 8 0 10 2 8 3 8 3 8 4 8 6 6 5 7 8 6 8 5 8 5 10 3 8 3 10 1 8 1 8 0 8-2 10-2 8-4 10-3 8-5 8-6 8-5 7-6 5-6 5-8 6-8 4-8 3-8 2-8 2-10 0-12-1zM433 1106l9-1 8 0 10 0 8 2 8 2 10 5 6 3 8 5 7 6 6 6 6 8 5 8 4 8 5 10 2 8 2 10 1 8 0 8-1 8-2 10-4 10-3 8-5 8-5 8-11 12-7 6-6 5-8 4-8 4-8 3-8 1-8 1-10 0-8-1-8-2-8-2-8-4-8-4-8-6-6-6-7-7-6-8-4-8-4-8-4-10-3-8-1-8-1-8 0-8 1-8 2-8 6-16 4-8 6-10 11-12 6-6 8-6 6-3 8-4 8-3zM832 1106l8-1 10 0 8 0 8 2 0 181-6 1-8 1-10 0-8-1-8-2-8-3-8-3-6-4-8-5-6-6-8-8-9-14-5-8-4-10-3-10-1-8-1-8 0-8 1-10 2-8 7-16 4-8 5-8 6-7 6-6 12-10 6-4 8-4 8-3zM631 1108l9-1 8-1 8 1 8 1 8 2 10 4 8 4 6 4 8 6 6 6 5 6 5 8 5 8 4 10 3 10 2 8 1 6 0 8-1 8-2 8-3 10-3 8-5 8-5 8-11 12-5 5-8 6-8 4-6 3-8 3-8 1-8 1-8 1-8-1-8-2-8-2-8-3-8-5-7-5-7-6-6-6-6-8-5-8-5-8-3-8-2-8-2-8-1-8 0-8 3-14 2-8 3-8 4-8 5-8 11-12 12-11 6-3 8-5 8-3zM231 1112l9-1 8-1 10 1 8 1 8 2 8 4 8 4 8 5 8 7 6 6 4 6 6 8 3 6 4 10 4 10 1 8 1 6 0 8-1 8-2 8-3 10-3 8-5 8-5 8-11 12-5 5-8 6-8 4-6 3-8 3-8 2-8 0-8 1-8-1-8-2-8-2-8-3-8-5-7-5-7-6-6-6-5-6-5-8-4-8-4-8-3-10-2-8-1-14 1-8 2-8 2-8 3-8 4-8 5-8 11-12 12-11 6-3 8-5 8-3z"/>
<path fill="#3000ff" d="M630 820l12-1 8 0 6 0 12 4 6 2 6 4 10 8 5 5 5 6 3 6 4 8 3 12 2 14-1 14-4 14-6 12-4 6-5 6-10 9-6 4-6 3-12 3-12 2-6 0-8-2-12-3-12-7-10-9-5-6-4-6-6-12-4-12-1-14 1-14 2-8 2-6 6-12 8-10 9-8 6-4 6-3zM237 822l7 0 6 0 8 1 6 1 12 5 6 4 6 4 9 9 4 6 4 6 5 12 3 14 0 14-3 14-1 6-4 8-6 10-9 11-6 4-6 4-12 6-12 2-6 1-8 0-12-3-6-2-8-4-10-7-9-10-8-12-5-12-1-6-2-8 0-12 2-14 2-6 3-8 8-12 8-9 10-7 12-6 6-2zM36 1106l8-1 8 0 10 2 8 1 8 3 8 4 8 5 6 4 7 6 5 6 6 8 5 8 4 8 4 10 3 10 2 8 0 10 0 8-2 8-2 8-3 10-4 8-5 8-6 8-6 8-6 5-8 6-6 4-14 6-8 3-8 1-12 1-10-1zM437 1106l9-1 8 0 10 2 8 2 8 2 8 4 6 4 8 6 6 5 7 8 10 14 4 8 4 10 2 8 2 10 0 8 0 8-2 10-2 8-3 8-4 10-5 8-6 8-5 7-6 5-6 5-8 6-8 4-8 3-8 2-8 1-10 1-8-1-8-1-8-2-14-7-8-5-6-4-6-6-7-8-10-14-5-10-3-8-2-10-2-8 0-8 0-8 2-10 2-8 4-10 3-8 9-14 11-12 6-4 8-6 8-5 6-2 8-3zM836 1106l14-1 8 1 8 1 0 181-8 1-8 1-10-1-8-1-8-2-8-3-8-4-8-5-6-5-6-6-6-7-6-8-5-8-7-16-2-8-2-10 0-8 0-8 1-8 2-8 4-10 3-8 5-8 5-8 6-6 6-6 6-5 8-6 8-4 6-3 8-2zM634 1108l10-1 8 0 8 1 8 1 8 3 8 3 8 5 6 4 7 6 6 6 4 6 6 8 4 8 3 8 3 8 2 10 1 8 0 8-1 8-2 8-3 8-3 8-5 8-5 8-5 7-6 6-7 5-7 5-8 5-6 2-8 3-8 1-8 1-8 0-10-1-8-2-14-6-8-5-6-4-6-5-7-8-5-6-5-8-4-8-4-10-2-8-2-8 0-8 0-8 1-8 2-8 3-8 4-8 9-14 10-12 6-5 8-6 8-4 6-3 8-2zM235 1112l9-1 8 0 8 1 8 1 8 3 8 3 8 5 6 4 7 6 6 6 6 8 4 6 4 8 4 8 2 8 2 10 1 8 0 8-1 8-2 8-3 8-3 8-5 8-5 8-5 7-6 6-7 5-7 5-8 5-6 2-8 3-8 1-8 1-8 0-10-1-8-2-14-6-8-5-6-4-6-6-7-7-4-6-5-8-5-8-3-8-3-10-1-6-1-8 0-8 1-8 2-8 3-8 4-10 9-14 10-12 6-5 8-5 8-5 6-3 8-2z"/>
<path fill="#5000ff" d="M632 820l12-1 8 0 6 1 12 4 6 3 6 4 10 8 8 11 7 12 2 6 2 8 1 14-2 14-3 12-4 8-3 6-5 6-5 6-10 8-10 5-6 2-8 2-6 1-8 0-12-2-8-2-6-3-10-6-9-9-8-10-6-12-2-8-2-6-1-14 1-12 4-12 3-8 4-6 8-10 10-9 10-6 8-3zM240 822l6 0 8 0 12 3 12 6 11 7 9 10 7 12 4 8 1 6 2 12 0 14-1 8-1 6-5 12-4 6-4 6-9 10-10 7-6 3-8 3-12 2-8 0-6 0-12-3-12-5-10-8-9-9-4-6-4-6-5-12-1-8-1-8 0-14 1-6 2-8 4-10 7-12 9-10 11-7 12-6 8-2zM41 1106l9 0 8 1 8 1 10 3 6 2 8 5 8 5 6 5 11 12 5 8 5 8 4 10 3 10 2 8 1 8 0 8 0 8-2 10-3 8-3 8-4 8-5 8-6 8-6 7-6 5-6 5-8 5-8 3-8 3-8 2-8 1-8 0-10-1 0-181zM442 1106l8 0 10 1 8 1 8 3 6 2 8 4 8 5 7 6 6 6 6 8 6 8 4 8 3 8 3 8 2 8 1 10 0 8-1 10-4 16-4 10-4 8-4 6-6 8-6 6-7 7-6 4-8 5-14 6-8 2-10 1-8 0-10-1-8-2-8-3-8-3-8-5-12-10-6-6-6-7-5-8-4-8-4-10-3-8-1-8-1-8 0-8 0-8 3-10 2-8 3-8 4-8 5-8 6-8 7-6 6-6 6-4 8-5 14-6 8-2zM841 1106l13 0 12 2 0 179-12 2-8 0-10-1-8-2-8-2-6-3-8-4-8-6-6-5-11-12-6-8-4-8-4-10-3-8-2-8-1-10 0-8 0-8 2-8 2-8 4-10 4-8 5-8 6-7 6-6 6-6 8-6 6-3 8-4 8-3 8-2zM639 1108l9 0 8 0 8 1 8 2 6 2 8 4 8 5 6 4 6 6 6 6 4 6 5 8 4 8 3 8 3 8 2 10 0 8 0 8-2 10-2 8-3 8-4 8-5 8-4 6-5 6-7 6-7 6-6 4-6 3-8 3-8 2-8 2-8 0-8 0-8-1-8-2-14-6-8-5-6-4-7-6-7-8-5-8-4-6-4-8-3-8-2-8-2-8 0-8 0-8 1-8 2-8 4-10 4-8 5-8 4-6 5-6 6-6 7-5 6-4 8-4 8-3 8-3zM239 1112l9 0 8 0 8 1 8 2 6 2 8 4 8 5 6 4 6 6 6 6 4 6 5 8 4 8 4 8 2 8 2 10 0 8 0 8-2 10-2 8-4 10-3 6-5 8-4 6-5 6-7 6-5 5-8 5-6 3-8 3-8 2-8 2-8 0-8 0-8-1-8-2-8-3-8-4-8-5-6-5-6-6-6-6-5-8-4-6-4-8-3-8-2-8-2-10 0-8 0-8 2-8 2-8 3-8 4-8 5-8 4-6 5-6 6-6 7-5 6-4 8-4 8-3 8-3z"/>
<path fill="#7000ff" d="M634 820l12-1 6 1 8 1 12 4 6 3 6 5 10 9 7 10 6 12 2 6 2 8 0 14-2 14-2 8-2 6-6 10-4 6-5 6-10 8-6 3-6 3-6 2-8 1-6 1-8 0-12-2-12-5-10-7-5-4-5-5-8-11-5-12-2-6-2-8 0-14 2-14 4-12 6-12 9-10 10-8 12-6zM231 824l7-1 6-1 8 1 6 0 12 4 6 3 6 3 10 9 8 10 7 12 4 12 1 14-1 14-2 12-4 8-3 6-8 12-10 9-6 3-6 4-12 4-8 1-6 0-12-1-8-2-6-3-10-5-10-9-9-11-6-12-4-12-1-14 1-14 1-8 2-6 5-10 4-6 5-6 10-9 10-6 8-3zM36 1108l2-1 12 0 8 0 10 2 8 3 8 3 8 5 8 6 6 5 6 7 6 8 5 8 4 8 4 10 2 8 1 8 1 8-1 8-1 10-2 8-7 16-4 8-6 8-6 8-6 6-6 5-8 5-6 3-8 3-8 2-8 2-10 0-12-1zM433 1108l9-1 8 0 10 0 8 2 8 2 8 4 8 4 6 4 8 7 6 6 5 6 5 8 5 10 3 8 3 8 2 8 1 8 0 10-1 8-2 8-3 8-4 10-4 8-5 8-5 7-6 6-6 5-8 6-6 3-8 4-8 3-8 1-8 1-8 0-8 0-8-2-8-2-8-4-8-4-6-5-8-6-6-7-5-6-5-8-4-8-4-8-3-10-2-8 0-8-1-8 1-8 2-8 2-8 4-10 8-14 6-8 5-6 6-5 6-5 8-5 8-4 8-3zM646 1108l8 0 8 1 8 2 8 3 8 4 6 3 7 5 6 6 6 6 6 8 8 14 3 10 3 8 1 8 1 8-1 8-1 8-2 8-4 10-4 8-5 8-9 12-7 6-6 5-6 4-8 4-14 5-8 1-8 1-8-1-8-1-8-2-8-3-8-4-6-3-6-5-6-5-6-7-5-7-8-14-4-10-3-8-1-8-1-8 1-8 1-8 2-8 3-8 3-8 5-8 6-8 5-6 6-6 6-4 6-4 8-5 14-4 8-2zM832 1108l8-1 8 0 10 0 8 2 0 177-6 2-8 0-8 0-8-1-8-1-8-3-8-3-8-5-6-4-7-7-6-6-5-6-5-8-4-8-4-8-2-8-3-10-1-8 0-8 1-10 2-8 3-8 4-10 8-14 5-6 6-7 12-10 6-3 8-5 8-3zM246 1112l8 0 8 1 8 2 8 3 8 4 6 3 7 5 6 6 6 6 6 8 8 14 3 10 3 8 1 8 0 8 0 8-1 8-2 8-4 10-4 8-5 8-9 12-7 6-6 5-6 4-8 4-14 5-8 1-8 1-8-1-8-1-8-2-8-3-8-4-6-3-6-5-6-5-6-7-5-7-8-14-4-10-2-8-2-8 0-8 0-8 1-8 2-8 3-8 3-8 5-8 6-8 5-6 6-5 6-5 6-4 8-5 14-4 8-2z"/>
<path fill="#8f00ff" d="M636 820l12 0 12 1 12 5 6 3 6 4 10 9 7 10 4 8 2 6 2 6 1 8 1 14-2 14-5 12-7 12-5 6-4 5-6 5-6 4-12 5-12 2-12 0-12-2-6-2-8-4-10-7-5-4-5-6-7-12-5-10-1-6-2-8 0-12 2-14 4-12 4-8 4-6 9-9 10-8 12-6zM232 824l12-1 8 0 6 1 12 3 12 7 10 8 5 6 4 6 6 12 4 12 1 14-1 14-2 8-2 6-7 12-8 11-10 9-6 3-6 3-12 4-12 1-12-1-12-4-6-3-6-4-10-8-8-11-7-12-2-8-2-6-1-12 1-14 2-8 2-6 6-12 7-10 10-8 6-4 6-4zM36 1108l8-1 8 0 8 1 8 2 8 2 8 4 8 4 8 6 6 6 6 6 6 8 4 8 4 8 3 8 2 8 2 10 1 8 0 8-2 8-1 8-4 10-3 8-5 8-5 8-6 7-6 6-6 5-8 5-8 4-6 2-8 3-8 1-12 1-10-1zM436 1108l8-1 10 0 8 1 8 2 8 3 8 3 8 5 6 4 6 6 7 7 4 6 5 8 4 8 4 10 3 8 1 8 1 8 0 8-1 8-2 8-3 10-3 8-5 8-5 8-10 12-6 5-8 6-8 5-8 3-8 3-8 1-8 1-8 0-8-1-8-2-8-3-8-4-8-4-6-5-6-5-7-8-5-6-5-8-4-8-3-8-3-10-1-8-1-8 0-8 2-10 2-8 2-8 4-8 8-14 5-6 6-7 6-5 8-6 8-5 6-2 8-3zM835 1108l7-1 8 0 8 1 8 1 0 177-8 1-8 1-8 0-8-2-8-1-8-3-8-4-8-5-6-5-6-5-6-7-5-6-5-8-4-8-3-8-2-8-2-10-1-8 0-8 1-8 2-8 2-8 4-10 5-8 5-8 11-12 6-5 8-6 8-4 6-3 8-2zM634 1110l8-1 8 0 8 0 8 2 8 2 8 3 8 5 6 4 6 5 6 6 5 6 6 8 4 8 3 8 3 8 2 8 1 8 0 8-1 8-2 8-2 8-4 10-9 14-4 6-6 6-6 6-8 5-8 5-6 2-14 4-8 1-8 0-8-1-8-1-14-5-8-4-6-4-7-6-6-6-5-6-5-8-5-8-3-8-3-8-2-8-1-14 1-8 1-8 2-8 3-8 4-8 5-8 5-6 6-7 6-5 6-5 6-4 8-4 8-3zM234 1114l8-1 8 0 8 0 8 2 8 2 8 3 6 3 8 6 6 5 6 6 5 6 6 8 4 8 3 8 3 8 2 8 1 8 0 8-1 8-2 8-2 8-4 10-9 14-4 6-6 6-6 6-8 5-8 5-6 2-14 4-8 1-8 0-8-1-8-1-14-5-8-4-6-4-7-6-6-6-5-6-5-8-4-8-4-8-3-8-1-8-1-14 0-8 1-8 2-8 3-8 4-8 5-8 5-6 6-7 6-5 6-5 6-4 8-4 8-3z"/>
<path fill="#af00ff" d="M639 820l7 0 6 0 6 1 8 3 12 5 10 8 9 9 6 10 3 8 2 6 3 14-1 14-1 8-2 6-5 12-7 10-9 10-10 7-8 4-6 2-12 2-12 0-8-2-6-1-12-6-10-8-9-10-4-6-3-6-3-8-2-6-2-12 1-12 1-8 1-6 5-12 4-6 4-6 9-9 6-4 6-4 10-4 6-2zM234 824l12-1 8 1 6 1 12 4 6 3 6 4 9 8 8 10 6 12 2 6 2 8 1 14-1 8-1 6-1 6-3 8-7 12-9 11-10 7-10 6-6 2-8 2-12 0-12-1-12-4-6-4-6-4-10-9-7-10-6-12-2-6-2-8-1-14 2-14 2-8 3-6 5-10 5-6 5-5 10-8 12-6zM39 1108l9 0 8 0 8 1 8 2 8 4 8 4 8 5 5 4 6 6 6 6 5 8 5 8 3 8 3 8 2 8 2 10 0 8 0 8-2 10-2 8-4 10-4 8-4 6-6 8-5 6-6 6-6 5-8 5-8 3-8 3-8 2-8 1-10 0-8-1 0-177zM440 1108l8 0 8 0 8 1 8 2 8 3 8 4 8 5 6 5 6 6 6 6 9 14 4 8 3 10 3 10 1 8 0 8-1 10-1 10-3 8-4 10-3 6-5 8-5 6-10 11-6 5-8 5-8 4-8 3-8 2-8 1-8 0-8 0-8-2-8-2-8-3-8-4-6-4-7-6-6-6-6-8-9-14-4-8-3-10-2-8-1-8 0-10 1-8 1-8 2-8 3-8 4-8 4-6 5-8 6-6 6-6 6-5 8-5 8-4 8-3zM839 1108l13 0 14 2 0 175-12 2-8 0-8 0-8-2-8-2-8-4-6-3-8-5-6-5-11-12-5-8-5-8-4-8-2-8-2-8-2-10 0-8 0-8 2-8 2-8 2-8 4-8 5-8 5-8 6-6 6-6 7-5 6-4 8-4 8-3 8-3zM637 1110l7 0 8-1 8 1 8 2 8 2 8 4 8 5 6 4 6 5 5 6 5 6 5 8 4 8 3 8 3 8 2 10 0 8 0 8-1 8-2 8-3 8-4 8-5 8-4 6-5 6-6 6-7 6-6 4-8 4-8 3-14 3-8 1-8-1-8-1-8-2-6-2-8-4-6-3-8-6-6-6-5-6-6-8-4-6-4-8-3-8-2-8-2-8 0-8 0-8 1-8 2-8 6-14 4-8 6-8 4-6 6-6 7-5 6-4 6-3 8-4 8-2zM237 1114l7 0 8-1 8 1 8 2 8 2 8 4 6 3 8 6 6 5 7 8 6 8 3 6 4 8 3 8 2 8 2 8 0 8 0 8-2 8-2 8-2 8-4 8-5 8-4 6-5 6-6 6-7 6-6 4-8 4-8 3-14 3-8 1-8-1-8-1-8-2-6-2-8-4-6-3-8-6-6-6-5-6-5-6-5-8-4-8-3-8-2-8-1-8-1-8 0-8 2-8 2-8 5-14 4-8 6-8 5-6 6-6 6-5 6-4 6-3 8-4 8-2z"/>
<path fill="#cf00ff" d="M629 822l13-2 8 0 6 1 12 4 6 2 6 4 10 8 5 5 4 6 6 12 4 12 1 14-1 14-3 12-5 12-4 6-5 6-10 9-6 4-6 3-12 4-12 1-6 0-8-1-12-4-10-6-10-8-5-6-4-6-6-12-4-12-1-14 0-12 3-12 6-12 3-6 5-6 9-8 10-6 6-3zM236 824l12-1 6 1 8 1 12 5 10 6 10 9 8 11 5 12 2 6 2 8 0 14-2 14-4 12-7 12-8 10-6 5-6 4-12 6-12 3-6 0-8 0-12-3-10-4-6-3-6-5-9-9-5-6-3-6-5-10-1-6-2-8 0-14 1-12 4-12 7-12 4-6 5-4 10-8 12-7zM36 1110l0-1 2 0 12-1 10 1 8 2 8 2 8 4 8 5 6 4 6 5 6 7 5 6 5 8 4 8 3 8 3 10 2 8 0 8 0 8-1 10-2 8-2 8-4 8-4 8-5 8-6 7-6 6-6 5-8 6-8 4-8 3-14 3-10 1-12-1zM432 1110l8-1 8-1 8 1 8 1 8 2 8 3 8 4 8 5 8 6 6 6 4 6 6 8 4 8 4 10 3 8 2 8 0 8 0 10 0 8-2 8-3 8-3 8-4 8-5 8-4 6-6 7-7 5-7 6-6 3-8 4-8 3-8 2-8 1-8 0-8-1-8-2-8-2-8-4-8-4-6-5-8-7-6-6-6-8-3-6-4-8-3-8-3-8-1-8-1-8 0-8 0-8 2-8 2-8 4-10 8-14 5-7 6-6 6-6 6-4 6-4 8-4zM642 1110l8 0 8 1 14 3 8 3 8 4 6 4 7 5 6 6 5 6 4 6 5 8 3 8 3 8 2 8 1 10 0 8 0 8-2 8-2 8-4 8-4 8-5 8-5 6-6 6-6 6-12 7-8 4-6 2-8 2-8 1-8 0-8-1-8-1-8-3-8-3-6-4-12-9-6-6-6-7-5-8-3-6-4-8-2-8-2-8-1-8 0-14 1-8 3-8 3-8 3-8 5-8 5-6 5-6 6-5 8-6 6-4 8-3 6-3 8-2zM831 1110l9-1 8-1 10 1 8 1 0 175-4 0-8 1-8 1-8-1-8-2-8-2-8-3-6-4-8-5-7-6-6-6-5-6-5-8-4-8-4-8-2-8-2-8-1-8-1-8 1-8 1-8 2-8 3-8 4-8 4-8 6-8 5-6 7-6 6-5 6-4 8-4 6-2zM242 1114l8 0 8 1 14 3 8 3 8 4 6 4 7 5 6 6 5 6 4 6 5 8 3 8 3 8 2 8 1 10 0 8-1 10-2 8-2 8-4 8-4 8-9 12-6 6-6 6-12 7-8 4-6 2-8 2-8 1-8 0-8-1-8-1-8-3-8-3-6-4-12-9-6-6-6-7-5-8-3-6-6-14-2-8-1-10 0-14 2-8 2-8 3-8 4-8 4-8 5-6 5-6 6-5 8-6 6-4 8-3 6-3 8-2z"/>
<path fill="#ef00ff" d="M631 822l7-1 6 0 12 1 12 3 6 3 6 3 10 9 9 10 6 12 2 6 2 8 1 14-1 14-4 12-6 12-4 6-5 6-10 8-10 5-6 3-8 2-12 1-12-2-12-4-6-3-6-4-9-8-8-10-6-12-2-6-2-8-1-14 1-12 3-12 6-12 8-10 10-9 10-6 8-3zM238 824l12 0 12 2 6 2 8 3 10 7 8 8 5 6 4 6 2 6 3 8 3 12 0 14-2 14-2 6-4 8-6 10-9 10-10 7-8 4-6 2-12 2-12 0-12-2-12-5-11-8-9-9-7-11-5-12-2-6-1-8 0-12 2-14 4-12 4-6 4-6 9-10 10-7 6-3 6-3zM36 1110l6-1 10 0 8 1 8 1 8 3 8 4 6 3 8 6 6 5 6 6 4 6 5 8 4 8 4 8 2 8 2 10 1 8 0 10-1 8-2 8-3 8-3 8-5 8-5 8-5 7-6 6-6 5-8 5-8 4-6 3-8 2-8 1-12 1-10-1zM434 1110l10-1 8 0 8 1 8 1 8 3 8 3 8 5 6 4 6 5 7 7 4 6 5 8 5 8 3 10 3 8 1 8 1 8 0 8-1 10-2 8-3 8-4 10-9 14-5 6-6 6-5 5-8 5-6 4-8 3-8 3-8 1-8 1-8 0-8-1-8-2-14-5-8-5-6-4-6-6-7-7-5-6-5-8-4-8-3-8-2-8-2-8-1-8 0-8 1-8 1-8 3-8 3-8 4-8 4-8 5-6 6-6 6-6 6-5 6-3 8-5 8-3zM833 1110l9-1 8 0 8 1 8 1 0 173-6 1-8 1-8 0-8-1-8-2-6-1-8-4-8-4-6-5-8-7-6-6-4-6-6-8-4-8-3-8-2-8-2-8-1-8 0-8 1-8 1-8 3-8 3-10 8-14 6-7 6-6 6-6 6-4 6-4 8-4 8-3zM632 1112l8-1 8 0 8 0 8 1 8 2 8 3 8 4 6 4 6 5 6 6 5 6 6 8 4 8 3 8 3 8 2 8 1 8 0 8-1 8-2 8-4 14-4 8-5 8-5 6-5 6-7 6-7 5-6 4-8 3-8 3-6 1-8 1-8 0-8 0-8-2-6-2-8-3-8-4-6-4-6-6-6-6-9-12-5-8-3-8-3-8-2-8-1-14 1-8 1-8 2-8 3-8 4-8 5-8 10-12 11-9 6-4 8-4 8-3zM232 1116l8-1 8 0 8 0 8 1 8 2 8 3 8 4 6 4 6 5 6 6 5 6 6 8 4 8 3 8 3 8 2 8 1 8 0 8-1 8-2 8-4 14-4 8-5 8-5 6-5 6-7 6-7 5-6 4-8 3-8 3-6 1-8 1-8 0-8 0-8-2-6-2-8-3-8-4-6-5-6-5-6-6-9-12-5-8-3-8-3-8-1-8-2-14 1-8 1-8 2-8 3-8 4-8 5-8 5-6 6-7 6-5 6-4 12-7 8-3z"/>
<path fill="#f0f" d="M632 822l8-1 6 0 6 0 8 2 12 4 10 6 10 9 7 10 6 12 4 12 1 14-1 12-2 8-2 6-6 12-5 6-4 5-10 9-6 3-6 3-12 3-12 1-12-1-12-4-6-3-6-4-10-9-8-11-6-12-3-12-1-14 1-12 4-12 6-12 7-10 10-9 6-4 6-3 6-2zM241 824l7 0 6 1 12 2 12 6 10 7 9 10 4 6 3 6 5 12 2 14-1 14-1 8-2 6-6 12-6 10-9 9-6 4-6 4-12 4-12 2-12 0-8-2-6-2-12-6-9-7-9-10-4-6-3-6-4-12-2-14 1-12 1-6 2-8 4-10 3-6 4-6 10-9 10-7 12-5 6-2zM37 1110l9-1 8 1 8 1 8 2 8 2 8 4 12 9 6 5 6 7 5 6 5 8 3 6 4 10 2 8 2 10 0 8 0 8-1 8-2 8-3 10-4 8-4 8-5 6-6 8-6 6-6 5-8 5-8 4-6 2-8 2-8 1-10 1-10-1 0-175zM438 1110l8-1 8 1 10 1 8 2 6 2 8 4 8 5 6 4 6 6 6 6 4 6 5 8 4 8 4 10 2 8 1 8 0 8 0 8-1 8-2 8-2 8-4 8-4 8-6 8-5 7-6 6-6 5-8 5-8 4-6 2-8 3-8 1-8 1-8-1-8-1-8-2-8-3-6-3-8-5-6-5-6-5-6-7-6-8-3-6-4-8-3-8-2-8-2-8 0-8 0-8 1-8 1-8 3-8 4-10 8-14 5-6 6-6 6-5 8-6 8-4 6-3 8-2zM837 1110l7 0 8 0 14 2 0 171-10 2-8 1-8-1-8-1-8-2-6-3-8-4-6-3-8-7-6-5-6-7-5-7-4-8-4-8-3-8-2-8-1-8 0-8 0-8 1-8 2-8 3-8 3-8 4-8 4-6 5-6 6-6 7-6 6-4 8-5 6-2 8-3zM635 1112l7-1 8 0 8 1 8 1 8 2 8 4 8 4 6 5 6 5 5 5 5 6 5 8 4 8 4 8 2 8 1 8 1 8 0 8-1 8-2 8-2 8-4 8-3 6-5 8-5 6-6 6-7 6-6 4-6 3-8 4-14 3-14 1-8-1-8-1-6-2-8-4-8-4-7-5-7-6-5-6-6-8-4-6-6-14-3-8-1-8-1-8 0-8 1-8 2-8 2-8 4-8 7-12 4-6 6-6 6-5 6-5 8-5 6-2 8-3zM235 1116l9-1 8 0 8 1 8 2 6 1 8 4 8 4 6 4 6 6 5 5 5 6 5 8 4 8 4 8 2 8 1 8 1 8 0 8-1 8-2 8-2 8-4 8-3 6-5 8-5 6-6 6-7 6-6 4-6 3-8 4-14 3-14 1-8-1-8-1-6-2-8-4-8-4-7-5-5-4-6-6-6-8-4-6-4-8-3-8-3-8-1-8-1-8 0-8 2-14 5-14 4-8 5-8 4-6 6-6 6-5 6-5 6-3 8-4 8-3z"/>
</g>
<path fill="none" stroke="#000" stroke-width="1.5" stroke-dasharray="6 2" d="M99 724.5l-1 6-2 6-5 10-3 4.5-4 4.5-7.5 7-8.5 5-10 3.5-10 1.5-6 0-6-0.5M500.5 724.5l-2.5 10-4 9.5-6 8.5-6 6.5-8 6-8 4-10 3-10 1.5-10-1-10-2.5-8-4-8.5-5.5-7.5-8-5.5-8-4.5-10-2.5-10M866 768l-6 2-6 1.5-6 1-6 0-6-0.5-6-1-6-2-6-3-6-3.5-5.5-4-4.5-5.5-4-4.5-3.5-6-2.5-6-2-6-1.5-6M628.5 786.5l9.5-1.5 10 0 8 0.5 10 1.5 8 2.5 10 4 10 5.5 8 6 8 7 5.5 6.5 5 6 6.5 10 5.5 12 4 10 2.5 10 1.5 10 1 10-0.5 10-1 10-1.5 10-3 10-4 10-5 10-5 8-6.5 8-7 7.5-8 7-8 5.5-8 4.5-10 4.5-8 2.5-10 2-10 0.5-8-0.5-8-1-10-2.5-8-3-10-5-8-5-8-6-6-5.5-7-7.5-6-8-5.5-10-5-10-3-10-2.5-10-1.5-8-1-10 0-10 1-8 1.5-10 3.5-12 2.5-8 4-8 6-10 5.5-8 7.5-8 6-5.5 8-6.5 8-4.5 10-5 10-3 6.5-1.5M237.5 788.5l10.5-0.5 10 0.5 10 2 8 2.5 10 4 8 4.5 8 5.5 8 7 6 6.5 6 8 5.5 8 5 10 4 10 3 10 1.5 10 1 10 0.5 10-1 12-2.5 12-2 8-4 10-4 8-4.5 8-5.5 8-7 8-6 5.5-8 6.5-8 5-8 4-10 4-10 2.5-10 1.5-10 0-8-1-8-1.5-10-3-10-4.5-8-4.5-8-6-6-5-7.5-7.5-6-8-5.5-8-4-8-4.5-10-3-10-2-10-1.5-10-0.5-10 1-12 2-12 2-8 4-12 4-8 4.5-8 6-8 7-8 6-5.5 8-6.5 8-5 8-4 10-3.5 10-2.5 7.5-1M36 1015l8-1.5 8-0.5 8 1.5 8 3.5 6 4 5 4.5 21.5 24 7.5 7 8 6 10.5 7 11.5 5.5 8 2.5 8 0.5 6-0.5 8-2 30-11.5 18-6 16-3 16-1 16 1 18 3.5 14 4 28 11 12 3.5 8 1 8-1 6-2 8.5-3.5 10.5-6 8-6 7.5-6 5.5-5.5 18-21 4-4 6-4.5 6-3.5 6-2.5 6-1 6-0.5 6 0.5 6 1.5 5 2.5 5 2.5 4 3.5 6 5 18 21 11 10 8 6 9 5 8 3.5 8 2.5 8 0.5 8-1 10-3 28-11 16-5.5 10-2 8-1.5 16-1 16 1 16 3 10 2.5 10 3.5 24 10 9 3.5 9 1.5 8 0 8-1.5 8-3 9-5 9-6 12-10.5 21-23.5 7-5.5 6-4 8-3 4-0.5 6-0.5 6 0.5 4 1 8 3.5M866 1378.5l-8 3.5-4 1-6 0.5-6-0.5-4-1-8-3-6-4-5.5-4.5-5-6-15-18-6-6-6.5-6-9-6-11-7-8-3.5-8-2.5-8-0.5-10 1.5-8 2-28 10.5-18 4.5-14 2.5-16 1-16-1-16-3-14-4-34-12-8-1.5-6-0.5-8 1-8 2.5-10 5-11 7-8 6-8.5 8-5.5 6-13 16.5-7.5 7.5-4.5 3-6 3.5-4 1.5-6 1-6 0.5-6-1-6-1.5-6.5-3-5.5-4-4.5-4-5.5-6-14.5-18-6-6-7.5-6.5-12-7.5-10-5.5-10-3.5-8-0.5-6 0-8 2-32 12.5-18 5-16 3-16 1-16-0.5-16-2.5-10-3-10-3-26-10.5-9-2.5-9-2-4 0-6 1-8 2.5-10 4.5-9.5 6-8.5 6-10.5 10-19.5 23.5-5 4.5-5 3.5-8 3.5-8 2-8 0-8-2M57 724.5l-4 4-5 2-6 0.5-3-0.5-3-1.5M458.5 724.5l-2.5 3-2 1.5-4 2-4 0.5-4 0-4-1.5-4-3-2.5-2.5M857 724.5l-1.5 2-3.5 2.5-4 1.5-4 0.5-4-0.5-4-1.5-3.5-2.5-1.5-2M630.5 796.5l9.5-1.5 8 0 8 0.5 8 1.5 8 2.5 8 3.5 8 4 8 5.5 6 5 6 7 6.5 8 5 8 3 6 4 10 2.5 8 2.5 12 1 10-0.5 8-0.5 10-2 10-2.5 8-4 10-4 8-4 6-5 7-6 6.5-6 5.5-8 5.5-8 5-8 3.5-8 2.5-10 2-8 0.5-8 0-10-1.5-8-1.5-10-4-6-3-8-5-6-4.5-6-5.5-6.5-7-4.5-6-5-8-4-8-3-8-2.5-8-2-10-0.5-10 0-10 1-10 1.5-8 2-8 4-10 4-8 3.5-6 6-8 6-6.5 6-5.5 8-6 6-3.5 8-4 10-3 6.5-1.5M240.5 798.5l7.5-0.5 10 1 8 1.5 8 2.5 10 4.5 6 3.5 6 4 8 7 6 6.5 6 8 5 8 4 8 3.5 10 2.5 8 1.5 10 0.5 8 0 10-0.5 8-2 10-2 8-4 10-4 8-3.5 6-6 8-7 7.5-6 5-8 6-8 4.5-8 3.5-8 2.5-8 1.5-8 0.5-8 0-8-0.5-8-2-10-3-8-4-8-4.5-6-4.5-6-5.5-6-6.5-5.5-6.5-5-8-4-8-3-8-3-10-2-10-0.5-8 0-10 0.5-8 1-8 3-10 3.5-10 4-8 3.5-6 6-8 7-8 6.5-5.5 8-6 6-3.5 8-3.5 8-3 8-1.5 8.5-1M36 1055.5l8-2 6-0.5 6 1 8 3 12 6 22 12.5 40 25 8 3.5 6 0.5 6-0.5 6-2.5 30-15.5 16-7 8-2.5 10-2 10-1.5 10-0.5 10 0.5 8 1 8 1.5 10 2.5 10 3.5 8 3.5 26 14 8 3.5 8 2 6-0.5 6-2 6-3 34-21.5 32-18.5 12-5 6-1 4-0.5 8 1.5 6 2 6 3 32 18 32 19.5 6 3 6 2 4 0.5 4-0.5 8-2.5 32-17 10-4.5 8-3 10-3 8-1.5 8-1 10-0.5 10 0.5 8 1 10 2 10 2.5 10 4 10 4.5 28 15.5 8 3 6 0.5 6-1 8-3.5 44-26.5 18-10 12-5.5 8-2 6-0.5 8 2 8 3M866 1336l-8 3-8 1.5-8-0.5-8-2.5-14-6.5-22-12-38-24-6-2.5-6-2-6 0-8 2-8 3.5-24 12.5-10 4.5-8 2.5-8 2-10 2-10 1-8 0.5-8-0.5-10-1-10-2-8-2.5-10-3.5-8-3.5-30-15-6-2-6-0.5-6 1-8 3.5-36 22.5-30 16.5-12 5-8 2-4 0-6-1-6-1.5-6-3-16-8-18-10-34-21-8-3.5-6-1-6 0.5-6 2-32 17-8 3.5-10 4-8 2-10 2.5-10 1-10 0.5-8-0.5-10-1-10-2-8-2.5-10-3.5-8-3.5-32-17.5-8-2.5-6 0-6 1.5-6 2.5-38 23-22 12-12 6-8 2.5-6 1-6 0-8-2.5M629.5 802.5l8.5-1.5 8-0.5 8 0.5 8 1.5 8 2.5 8 3 6 3 8 5.5 6 5 6.5 7 6.5 8 4 6 4 8 3 8 2.5 8 1.5 8 1 8 0.5 10-0.5 8-2 10-4 14-3.5 8-5 8-5.5 8-5.5 6-5.5 5-8 6-6 4-8 3.5-8 3-8 1.5-8 1-6 0-8-0.5-8-1.5-8-2-8-3.5-8-4.5-6-4-6-5-6-6-6-7-4-6-3.5-6-4-10-2-6-2.5-10-1-8-0.5-8 0.5-8 1-10 2.5-10 2-6 3.5-8 4.5-8 4-6 6.5-8 7-6.5 6-5 6-3.5 8-4 6-2.5 9.5-2.5M237 804.5l9-1 8 0.5 8 1.5 8 2 6 2.5 8 3.5 8 5.5 6 4.5 6 6 5.5 7 5.5 8 3.5 6 2.5 6 3.5 10 2.5 10 1 8 0.5 8-0.5 8-1 10-2 8-2.5 8-3.5 8-4.5 8-5.5 8-5.5 6-5.5 5.5-6 4.5-8 5.5-8 4-8 2.5-8 2-8 1-8 0.5-8-1-8-1.5-8-2.5-8-3.5-8-4.5-6-4-5.5-4.5-6-6-5-6-5-8-3.5-6-2.5-6-3.5-10-2-10-1-8-0.5-8 0.5-10 1.5-8 2-8 3.5-10 2.5-6 3.5-6 5.5-8 5-6 6-6 6.5-5.5 6-4 8-4 8-3.5 8-2 7-1M36 1074l10-1 12 0.5 14 3.5 12 4 14 7 12 7 8 6 18 14.5 6 4 6 3 4 0 4-0.5 6-3 26-18.5 10-5.5 8-4 10-3.5 10-3 10-1.5 12-1 10 0.5 10 1.5 10 2 10 3.5 10 4.5 10 5.5 8 5.5 16 11.5 6 4 6 2 4 0 4-1 4-2.5 28-21.5 10-6.5 10-5.5 14-6.5 10-3 10-2 10-1 10 0.5 10 2 12 3.5 10 4 12 6.5 10 6 28 21 4 2 4 1 6 0 6-3 28-20 8-4.5 10-5 10-4 10-2.5 10-1.5 12-1 12 0.5 10 2 12 3 10 3.5 8 4 10 6 28 20 6 2.5 4 0.5 4-1 6-3 22-16.5 12-8 12-6.5 12-5.5 14-4 12-2 12-0.5 12 2M866 1319.5l-8 1.5-6 0.5-12-0.5-12-2-16-5.5-12-5.5-12-7-10-7-20-16-6-4-4-1-6 0-6 2.5-26 17.5-10 6-10 4.5-10 3.5-10 2.5-10 1.5-12 1-10-0.5-10-1.5-10-2.5-10-3.5-10-5-10-5.5-26-18-6-2.5-4-0.5-4 0.5-6 3-28 22-8 5-10 5.5-10 5-10 3.5-10 3-10 1.5-12 0-12-2-10-2.5-14-5.5-12-6-10-6.5-28-21-6-3.5-4-0.5-4 0.5-6 2.5-28 20-10 6-10 4.5-10 3.5-10 2.5-10 1.5-12 1-10-1-10-1.5-10-2.5-10-3.5-10-4.5-10-5.5-8-5.5-16-12-6-4-6-2-4 0-4 1-6 3.5-18 14.5-12 8-10 6-12 6-12 4.5-14 3-12 1-12-1M629.5 806.5l6.5-1.5 8-0.5 8 0.5 8 1 8 2 8 3.5 8 4 6 4 6 5 5.5 6 5 6 4 6 4.5 8 3.5 8 2.5 8 1.5 8 1 8 0.5 8-0.5 8-1 8-2 8-3.5 10-3.5 8-4 6-4 6-5.5 6.5-6 5.5-6 4.5-6 4-8 4-8 2.5-8 2-8 1-6 0-8-0.5-8-1.5-6-1.5-8-3-8-4.5-6-4-6-5-6-6-5-6-4-6-4.5-8-3-8-2.5-8-2-8-1-8 0-8 0.5-8 1-8 1.5-6 3.5-10 2.5-6 4.5-8 4-6 5-6 5.5-5.5 6-5 6-4 8-4.5 6-2.5 9.5-2.5M236.5 808.5l7.5-1 8 0.5 8 1 8 2 6 2 8 4 8 5 6 4.5 5.5 6 5 6 4.5 6 4.5 8 3.5 8 2 6 2 8 1.5 10 0.5 10-0.5 8-1 8-2 8-3 8-3.5 8-7.5 12-5 6-6 6-6.5 5-6 4-8 4-6 2.5-8 2-8 1.5-8 0.5-8-0.5-8-1.5-8-2.5-6-2-8-4.5-6-4-6-4.5-6-6-5.5-6-7.5-12-3.5-8-3-8-2-8-1-8-0.5-8 0-8 1.5-10 2-8 2.5-8 3.5-8 7.5-12 4.5-6 5.5-5.5 6-5.5 6-4 8-4.5 8-3.5 8-2 6.5-1M36 1082l12-0.5 14 1 14 3.5 14 5.5 10 5 10 6.5 11 9.5 19 17.5 6 4 4 1 4 0 6-3 26-22 10-6.5 8-4.5 10-4.5 12-3.5 10-1.5 12-1 12 0.5 10 2 10 2.5 10 4 10 5 10 6.5 8 6 20 17 6 3 4 0 4-1.5 4-2.5 26-23.5 10-7.5 10-6 10-4.5 12-4.5 12-2.5 12-1 10 0 12 2.5 12 3.5 12 5 8 4.5 10 7 10 8 18 16 4 2.5 4 1.5 4 0 6-2.5 6-4.5 20-17.5 10-7 10-5.5 10-4.5 12-3.5 10-1.5 12-1 12 0.5 12 2 12 4 10 4.5 10 5.5 8 5.5 26 22 6 3 4 0.5 4-1 6-3.5 20-18 12-9 12-7 10-4.5 14-5 14-2.5 12 0 14 1.5M866 1311.5l-14 2-14-0.5-14-3-14-5-12-5.5-12-8-11.5-9-18.5-17.5-4-3-4-1.5-4 0-6 2-6 4.5-13.5 11.5-8.5 6.5-10 6.5-10 5-10 4-10 2.5-12 2-10 0.5-10-0.5-12-2-12-3.5-10-4.5-10-5.5-8-5.5-26-21-4-2-4-1-4 1-6 3.5-24 22-8 6-10 6.5-12 6-10 4-10 2.5-10 1.5-12 0.5-14-1.5-12-3.5-14-5.5-10-5.5-12-8-8-7-14-13-6-5-4-2-4-1-4 0.5-6 3.5-22 19-8 6-8 5-8 4-8 3.5-8 2.5-10 2.5-14 1.5-14-0.5-8-1.5-8-1.5-12-4.5-10-4.5-10-6.5-11-8-19-17-6-3.5-4-1-4 1-4 2-6 5-16 15-8 6.5-10 6.5-12 6.5-14 5.5-14 3.5-12 1-14-1M635 808.5l7-1 8 0 8 1 8 2 8 3 6 3 6 3.5 6 4.5 6 6 5 6 4.5 6 3.5 6 4 8 2 6 2.5 8 1.5 10 0.5 8-0.5 8-1 8-1.5 8-2 6-3 8-4.5 8-4 6-5 6-5.5 6-6.5 5-6 4-8 4-6 2.5-8 2-8 1.5-8 0-8-0.5-8-1.5-6-1.5-6-2.5-8-4-6-4-6-5-6-6-5-6-4-6-3.5-6-2.5-6-3-8-2-8-1-8-0.5-8 0.5-8 2-14 2.5-8 3.5-8 4.5-8 4-6 5-6 5.5-5.5 6-5 6-4 6-3.5 8-3 6-2 7-1M231 812.5l7-1.5 8-0.5 8 0.5 8 1.5 8 2 6 2.5 8 4.5 6 4 6 5 5.5 6 5 6 4 6 4 8 2.5 6 2.5 8 1.5 8 1 8 0.5 8-0.5 8-1.5 8-2 8-2 6-3.5 8-4.5 8-4.5 6-6 6.5-6 5.5-6 4.5-8 4.5-6 2.5-6 2-8 2-8 0.5-6 0-8-0.5-6-1-8-2.5-8-3.5-6-3-6-4.5-6-5-6-6-5-6-3.5-6-4.5-8-2.5-6-2-8-2-8-1-14 0.5-8 1-8 2-8 2-6 3.5-8 4.5-8 4-6 5.5-6 5.5-5.5 6-4.5 6-4 6-3 6-2.5 9-2.5M36 1087.5l14-1 14 1.5 14 4 14 6 10 5.5 10 7.5 10 9.5 20 21 4 3 4 1 4-0.5 4-2.5 25.5-24 8.5-7 10-6 10-5 10-3.5 10-2 10-1.5 12 0 14 1.5 12 3.5 12 5 10 6 8 5.5 10.5 9.5 17.5 16.5 4 3 4 1.5 4-0.5 4-2.5 4-3.5 13-14.5 8-8 9-7.5 8-6 10-5.5 8-3.5 10-3.5 10-2.5 12-1 14 0.5 14 3 14 5 12 6 10 7 11.5 10 20.5 20.5 4 2.5 4 1 4-1 4-2.5 18.5-18.5 7.5-6.5 12-9 10-5.5 14-6 12-2.5 12-1.5 14 0 10 2 10 2.5 10 4 10 5 10 6.5 8 6.5 20 20 4 3.5 4 2 4 1 4-1.5 4-2.5 19.5-20 10.5-9 12-8 12-6.5 14-5 14-2.5 14-0.5 14 1.5M866 1306.5l-14 1.5-8 0-8-0.5-14-3.5-14-5-12-6.5-12-8.5-10.5-9.5-17.5-19-4-3.5-4-1.5-4 0-2 0.5-4 2.5-18 17-8 7-8 6-10 6-10 4.5-12 4-12 2-12 0.5-12-0.5-10-2-10-3-12-5.5-10-6-8-5.5-9-7.5-17-16.5-4-3-4-1-4 1-4 2-4 4-14.5 15.5-7.5 7.5-8 6.5-10 7-10 5-10 4.5-10 2.5-10 2-14 0.5-12-1-14-3.5-14-6-10-5.5-10-7.5-11.5-10-18.5-19.5-4-2.5-4-1.5-4 1-4 2.5-4 3.5-16 16.5-12 10-10 6.5-10 5.5-14 5-14 2.5-14 0.5-14-1.5-10-2-10-3.5-8-4-8-4.5-8-5.5-8-7-22-22-4-2.5-4-1-4 1-4 2.5-4 3.5-15.5 16.5-8.5 8-10 7.5-12 7-14 6-14 3.5-14 1.5-14-0.5M638.5 810.5l7.5-0.5 8 0.5 6 1 8 2.5 8 3 6 3.5 6 4 6 5 4.5 5 5 6 5 8 3 6 3.5 8 1.5 6 2 8 0.5 8 0.5 8-1 8-1 8-2.5 8-2 6-4 8-4 6-4.5 6-4.5 5-6 5.5-6 4.5-6 3.5-6 3-8 2.5-6 1.5-8 1-8 0-6-0.5-8-1.5-6-1.5-8-3.5-6-3.5-6-4-6-5-5-5-5-6-4-6-3-6-2.5-6-3.5-10-2-14-0.5-8 0.5-8 1.5-8 2-8 2-6 4-8 3.5-6 4-6 5.5-6 4.5-4.5 6-4.5 6-4 8-4 6-2 8-2.5 6.5-0.5M233 814.5l7-1 8-0.5 6 0.5 8 1.5 8 2 6 2.5 6 3.5 6 4 6 4.5 6 6.5 5 6.5 4 6 4 8 2.5 6 2 6 2 10 1 14-0.5 8-1.5 8-2 8-3 8-3 6-5 8-4.5 6-5 5.5-6 5-6 4.5-6 3-6 3-8 2.5-8 1.5-6 0.5-8 0-8-0.5-6-1.5-12-4.5-8-4.5-6-4.5-6-5-5-5-4.5-6-4-6-4-8-2-6-2-6-2-10-0.5-8 0-8 0.5-8 1.5-8 2.5-8 2.5-6 6.5-12 4.5-6 5.5-6 10.5-9 6-3.5 6-3 8-3 7-1.5M36 1092l8-1 8 0 14 2 14 4 14 6.5 10 6 10.5 9 9.5 10 18 21.5 4 4 4 1.5 4-1 4-3 14.5-17 8-8 9-8 8.5-6 10-6 10-4 10-3 12-2 14 0 12 1.5 14 3.5 12 5.5 12 7.5 10 8 8.5 9 17.5 19 4 3 2 0.5 2 0 2-0.5 4-3 22.5-27 8.5-8 9-7.5 10-6 12-5.5 12-4 10-2 14-0.5 14 1.5 14 4 14 6 10 6.5 10 8 11.5 11.5 16.5 19 4 3 4 1.5 4-1.5 4-3 20.5-23 7.5-7 8-6.5 8-5 10-5 10-4 10-2.5 8-1 8-0.5 14 1 14 3.5 14 5.5 10 5.5 10 8 10.5 10 19.5 21.5 4 3 4 1 4-1.5 4-3.5 17.5-20.5 10.5-10 10-8 12-7 14-6 8-2 8-1.5 8-1 8 0 14 2M866 1302l-14 2-8 0-8-1-8-1.5-8-2-14-6-12-7-10.5-8-12-12-17.5-21.5-4-3.5-4-1-4 1.5-4 3-18 19.5-10 9.5-10 7.5-10 5.5-14 5.5-14 3.5-14 1-8-0.5-8-1-10-2.5-10-4-8-3.5-10-6.5-8-6-7-6.5-21-23-4-2.5-2-0.5-4 1-4 2.5-4 4.5-13 16-7 8-9 8-9 7-10 6-10 4.5-10 3-12 2.5-8 0.5-8 0-14-2-14-4.5-12-5.5-10-6-10-8-11.5-11.5-16.5-20-4-3.5-4-1.5-4 1-4 3-18 21-12 11.5-10 7.5-10 5.5-14 5.5-14 3.5-14 1-8-0.5-8-1.5-10-2-10-4-8-4-10-6-8-6.5-8-7.5-20-23-4-3.5-4-1.5-4 1.5-4 3-17.5 21-10.5 10.5-10 8.5-10 6-14 6.5-14 4-14 2-8 0-8-1M639 812.5l7-0.5 8 0.5 12 2.5 6 2.5 8 4 6 4 6 5 5.5 6 5 6 4 6 3 6 3.5 8 2 6 1.5 8 1 8-0.5 14-2.5 14-2 6-3.5 8-4.5 8-4.5 6-5.5 6-4.5 4-6 4.5-6 4-6 3-8 2.5-6 1.5-8 1-8 0-6-0.5-6-1-8-2.5-6-2.5-6-3-6-4-6-5-4.5-4-5-6-4-6-3.5-6-3.5-8-2.5-8-2.5-14 0-14 2.5-14 2-6 3.5-8 4-8 4.5-6 5-6 6-5.5 6-4.5 6-4 6-3 6-2 8-2 7-1M233.5 816.5l6.5-1 8-0.5 6 0.5 8 1.5 8 2.5 6 2.5 6 3 6 4 10 9.5 5 6 4 6 4 8 2.5 6 2.5 8 1.5 8 1 6 0 8-0.5 8-1.5 8-2 8-2 6-4 8-3.5 6-5 6-4 4.5-6 5.5-6 4.5-6 3.5-6 3-8 2.5-8 1.5-6 0.5-8 0-8-1-6-1-12-4.5-6-3.5-6-4-6-5.5-4.5-4-5-6-4-6-4-8-2.5-6-1.5-6-2.5-10-0.5-14 1.5-14 2-8 2-6 4-8 3.5-6 4.5-6 5-6 6-5.5 6-4.5 6-3.5 8-3.5 11.5-3M36 1095.5l8-1 8 0 8 0.5 8 1.5 14 4.5 8 4 6 3.5 12 8.5 9.5 9.5 10 12 16.5 23 4 3.5 2 0.5 2-0.5 4-3 4-4.5 11-15 6.5-8 8.5-8.5 10-8.5 10-6 10-4.5 12-4 12-2 14-0.5 14 2 14 4.5 12 6 10 6.5 10 8.5 11 12.5 15 19.5 4 4 2 1 2 0 2-1 4-3.5 15.5-22 8-10 6.5-6.5 8-7 10-7 12-6 12-4.5 12-2.5 8-0.5 8 0 14 2 14 4.5 6 2.5 8 4 10 7 11 10 10.5 12 14.5 19.5 4 4 2 1 2 0.5 2-0.5 4-3 19.5-25.5 7.5-8 9-8 8-5.5 10-5.5 10-4.5 10-2.5 8-1.5 8-0.5 8 0 8 1 8 1.5 8 2.5 8 3 6 3 12 8 10 8.5 10.5 12.5 15.5 20 4 4 2 0.5 2 0.5 2-1 4-3 17-23 11-12 10-8.5 12-8 6-3 8-3 8-2.5 8-2 8-1 8 0 8 0.5 8 1.5M866 1298.5l-8 1.5-8 0.5-8 0-8-1-8-2-8-2.5-8-3-6-3-12-8-10-8.5-11-12-17-24.5-4-4-2-1-2 0-2 0.5-4 3-15.5 20-9 10-9 8-8.5 6-12 7-12 4.5-14 3-12 0.5-12-1-14-3-12-5-10-5.5-10-7-10.5-9.5-8.5-10-11-15-4-4-4-2.5-2 0-2 1-4 3.5-15 21-10 12-8 8-9 7-12 7-12 5-14 4-14 1-14-1-12-2.5-14-5.5-12-7-10-7.5-9-8.5-8.5-10-16.5-23-4-3.5-2-0.5-2 0.5-4 3-17.5 23.5-9 10-9.5 8.5-10 7-6 3.5-8 3.5-14 4.5-14 2-14-0.5-12-2-12-4-12-5.5-10-6.5-8-7-9.5-9.5-6.5-8-14-19.5-4-3-2-1-2 0.5-2 1-4 4.5-15.5 21.5-10.5 12-10 9-10 7-8 4.5-6 3-8 2.5-8 2-8 1.5-8 0.5-14-1"/>
<path fill="none" stroke="#000" stroke-width="1.7" stroke-dasharray="6 1" d="M636.5 814.5l7.5-1 6 0.5 8 1 6 1.5 12 4.5 6 3.5 6 4.5 6 5.5 5 6 4.5 6 3.5 6 3.5 8 2 6 2 8 1 6 0.5 8 0 6-1 8-1.5 8-2.5 8-3 6-3 6-4 6-5 6-4 4-6 5-6 4.5-6 3-6 2.5-8 2.5-8 1-8 0.5-6-0.5-8-1.5-6-1.5-6-2.5-6-3-6-3.5-6-5-9.5-9.5-4.5-6-3-6-4-8-2-6-2-8-0.5-6-0.5-8 0-8 1-6 1.5-8 2-6 3.5-8 3.5-6 4-6 4.5-5.5 4.5-4.5 5.5-4.5 6-4.5 8-4 6-2.5 6-1.5 6.5-1M232 818.5l8-1.5 8 0 6 0.5 8 1 12 4.5 6 3 6 4 6 4.5 5.5 6 5 6 3.5 6 3.5 6 3 8 2.5 8 1 6 1 8 0 8-0.5 6-1.5 8-2 8-2.5 6-6.5 12-4 6-5.5 6-4.5 4-6 4.5-6 3.5-6 3-6 2-8 2-12 1-8-0.5-6-1-12-3.5-8-4.5-6-3.5-10.5-9-5-6-4-6-6-12-2-6-2.5-10-1-8 0-6 0.5-8 1-8 2-8 2.5-6 6-12 4-6 5.5-6 5.5-5 6-5 6-3.5 6-3 6-2 6-1.5M36 1098.5l8-1 8 0 8 0.5 8 1.5 8 2.5 8 3 8 4 6 4 12 9.5 11 12 9.5 14 13.5 23 4 5 2 0.5 2-0.5 4-4.5 13-21.5 7-10 8-9 8-7 10-7.5 12-6.5 8-3 6-1.5 12-2.5 8 0 8 0 14 2.5 6 1.5 8 3.5 8 4 6 3.5 10 8 9.5 10 9.5 12 15 24 2 2 2 1.5 2 0.5 2-1 4-5 11-20 8-12 7-8.5 8-8 10-8 12-7 8-4 6-2 12-2.5 8-1 8 0 8 0.5 8 1.5 8 2 8 3 6 3 8 5 12 9 10 10 9.5 13 14.5 23 4 4 2 0.5 2-0.5 4-4 10.5-17 6.5-10 8.5-10 8-8 8.5-7 10-6 10-4.5 12-3.5 8-1.5 8-0.5 10 0 8 1 8 2 8 2.5 8 4 6 3 12 8.5 9.5 10 5.5 6 5.5 8 15.5 24 2 2 2 1.5 2 0 2-1 4-4.5 15-24 9.5-12 11.5-11.5 12-8.5 6-3 8-4 8-2.5 8-2 10-1.5 8 0 8 0.5 8 1M866 1295.5l-8 1.5-8 0.5-10-0.5-8-1-8-2-8-2.5-8-4-8-4.5-12-8.5-10-10.5-6-7.5-5.5-8-14.5-24.5-2-2-2-1.5-2 0-2 1-4 4.5-13.5 20.5-7.5 10-9 9.5-10 8-12 7-8 4-6 2-12 2.5-14 1-14-1-14-3.5-12-5.5-12-7.5-8-6.5-8-8-9.5-12-14.5-22.5-2-2-2-1.5-2 0-2 1-4 4.5-13.5 22.5-8.5 12-9 10-9 8-6 4-8 5-12 5-8 2.5-6 1.5-14 1-14-1-14-3.5-6-2-8-4-12-7.5-10-8.5-10-10.5-9-12-13-23-4-4.5-2-1-2 0.5-4 4.5-13 21.5-10 14-9.5 10-11.5 9-6 3.5-8 4-6 2.5-8 2.5-8 1.5-8 1-14-0.5-6-0.5-8-2-12-4-12-6.5-10-7.5-8-7-9-10-8-12-11-19.5-4-4.5-2-1-2 0.5-2 2-2 2.5-13 22-5.5 8-6 8-9.5 10-12 9.5-6 4-8 4-8 3-8 2.5-8 1.5-8 0.5-8 0-8-1M633.5 816.5l6.5-1 8 0 6 0.5 8 1.5 6 2 6 2.5 6 3 6 4.5 6 5 5 6 4.5 6 4 6 3.5 8 2.5 6 1.5 6 1 8 0.5 6 0 8-2 14-4 12-4 8-3.5 6-5 6-4 4-6 5.5-6 4-6 3.5-6 2.5-6 2-8 1.5-6 0.5-8 0-12-2.5-6-2-6-2.5-6-3-6-4.5-6-5-4-4.5-5-5.5-3.5-6-3-6-3.5-8-2-8-1-6-1-8 0.5-6 1.5-14 4-12 3.5-8 4-6 4.5-6 5-5.5 10-8.5 6-3.5 8-3.5 11.5-3M230.5 820.5l5.5-1.5 8-0.5 8 0 6 1 8 2 6 2 6 3 6 3.5 5 4.5 5 4 5 6 4.5 6 3.5 6 3.5 8 2 6 2 8 1 6 0.5 8-0.5 8-1 6-1.5 8-2 6-6 12-4 6-5 6-4 4.5-6 5-6 4-6 3-6 2.5-8 2-8 1.5-6 0-6 0-8-1.5-12-4-6-3-6-3.5-10-8.5-8.5-10-6.5-12-2.5-6-2.5-8-1-8-0.5-6 0-8 0.5-6 1.5-8 2-8 5.5-12 4-6 4.5-6 5.5-5.5 6-5 6-4 6-3.5 8-3 4.5-1M36 1101l10-1 8 0 10 1.5 8 2 10 3.5 8 4 8 5 8 6.5 6 6 7 8 6 8 6 10 5.5 12 6.5 16 2 8 1 8-1 8-2.5 8-5.5 14-6 12-5.5 10-6 8-7 8-6.5 6.5-8 6-8 5-8 4-10 3.5-8 2-10 1.5-10 0-8-1M239.5 1106.5l8.5-0.5 8 0 8 1 10 2.5 10 4 8 4 8 5.5 6 5 6.5 6.5 5 6 6 8 5 8 6.5 12 4 10 3.5 10 2 8 0 4-1.5 8-4.5 12-4 10-5 10-5 8-6 8-5 6-5.5 6-8 6.5-6 4-8 4.5-8 3.5-6 2-8 2-8 1-10 0-8-0.5-8-1.5-8-2-8-3.5-8-4-8-5-6.5-5-6-6-7-8-5.5-8-6-10-6-12-4-10-2.5-8-1.5-8 0-4 2-8 3-10 4.5-10 4-8 6-10 5.5-8 6-7 6-6 6-5 6-4.5 8-4.5 8-4 6-2 8-2 7.5-1M866 1293l-10 1.5-8 0.5-8-0.5-10-1.5-8-2-10-4-10-5.5-7.5-5-6.5-6-6.5-6-6.5-8-5.5-8-9-16-10.5-26.5-2-3.5-2 0-13.5 28-5.5 10-6.5 10-6.5 7.5-6 6-6 5.5-6 4-8 5-8 3.5-8 3-10 2-8 1-10 0-8-0.5-10-2.5-12-4.5-10-5-10-7.5-10.5-9.5-8.5-10-6.5-10-7-14-9.5-21.5-2-1-2 3-11.5 27.5-9 16-5.5 8-5 6-7 7.5-6 5.5-8 5.5-8 4.5-8 3.5-10 3.5-8 1.5-10 1-8 0-10-1.5-8-1.5-6-2-6-2.5-8-4-6-4-8-6-11-11-6.5-8-4-6-8-14-5-12-4.5-12-2.5-8 0-4 0-4 2-8 4.5-12 4-10 4-8 6-10 5.5-8 4.5-6 11-11 6-4.5 8-5 8-4.5 6-2.5 6-2 8-1.5 10-1.5 8 0 10 1 8 1.5 8 2.5 10 4.5 8 4.5 6 4.5 7 6 6 6 5.5 6 5.5 8 9.5 16 12.5 27.5 2 2.5 2-1.5 8.5-20.5 8-16 6.5-10 8-10 9-9 10-7.5 12-6.5 12-4.5 10-2.5 10-0.5 8 0 10 1 10 2.5 8 3 8 4 8 5 8 6.5 6 6 5.5 6.5 6 8 5 8 4 8 13.5 29.5 2 0 2-3 10.5-24.5 4.5-8 6-10 5.5-8 5.5-6 6-6 8-7 8-5 8-4.5 8-3 10-3 8-1.5 10-0.5 10 0.5 8 1.5M630.5 818.5l7.5-1.5 6-0.5 8 0.5 6 1 6 1.5 6 2 8 4 6 4 5.5 5 4.5 4 5 6 4 6 5.5 12 2 6 2 8 1 6 0 8-0.5 8-1 6-3 12-3.5 8-3.5 6-4.5 6-5 6-4.5 4-6 4.5-6 4-6 2.5-12 4-12 1-8-0.5-6-1-8-2-6-2.5-6-3-6-4-6-5-4.5-4-4.5-6-4-6-6-12-2.5-8-1-6-1-8 0-8 0.5-6 1.5-8 3.5-12 3-6 3.5-6 7.5-10 10-9 6-4 6-3 8-3 4.5-1M237.5 820.5l6.5-0.5 8 0 8 1 6 2 6 2 6 3 6 4 5.5 4.5 4.5 4 5 6 4 6 3.5 6 5 12 2 8 1 8 0 8 0 6-1.5 8-2 8-2.5 6-3.5 8-7 10-8 8.5-6 4.5-6 4-8 3.5-6 2-12 2.5-8 0-6-0.5-8-1.5-6-1.5-6-3-6-3-10-7.5-4.5-4-5-6-4-6-3.5-6-4.5-12-2-8-0.5-6-0.5-6 0-8 1-8 2-8 2.5-6 3.5-8 6.5-10 9-9.5 10-7.5 6-3.5 6-2.5 8-2 5.5-1M445.5 1102.5l8.5 0 8 0.5 8 2 8 2.5 8 3.5 8 4.5 8 5.5 6 5.5 6 6 6.5 8 6.5 10 4.5 8 3.5 8 3.5 10 2.5 10 1 8 0 8-1.5 8-2 8-4.5 12-4.5 10-4.5 8-6 8-6.5 8-6 6-6.5 5-8 5.5-8 4-8 3.5-8 2-8 1.5-8 0.5-8 0-8-1-8-1.5-8-2.5-8-3.5-8-4.5-8-6-6.5-5-6-6-6-8-6.5-10-4.5-8-4.5-10-3-10-2-8-0.5-8 0-8 1-6 1.5-8 4.5-12 3.5-8 5.5-10 5-8 6.5-8 6-6 8-7 6-4 8-4.5 8-3.5 8-2.5 8-1.5 9.5-1M36 1103l10-0.5 8 0 8 1 10 2 10 4 8 4 8 5 8 6.5 7 7.5 6.5 8 5 8 6.5 12 4 10 3.5 10 1.5 10 0.5 8-0.5 8-1.5 8-4 12-4 10-5.5 10-5.5 8-6 8-8 8-7.5 6-8 5-8 4-10 4-8 1.5-10 1.5-8 0-10-0.5M641.5 1104.5l8.5-0.5 10 1 8 1.5 8 2 6 2.5 8 4 8 5.5 7 6 7 6.5 6 7.5 5 8 6 10 4 10 3.5 10 1.5 8 1 6 0 8-1.5 8-2 8-3 8-4 8-5.5 10-5.5 8-5.5 6.5-6 6-6 5-8 5.5-6 3.5-8 3.5-8 2.5-8 2-8 1-8 0-8-0.5-8-1.5-8-2.5-8-3-8-4.5-8-5.5-6-5-6-6-6.5-7-5.5-8-4.5-8-5-10-3.5-10-2-8-1-6 0-8 1-8 2-8 3.5-10 3.5-8 4.5-8 5.5-8 6-8 6-6 6-5.5 8-6 6-3.5 8-3.5 8-3 8-1.5 7.5-1M241.5 1108.5l8.5-0.5 8 0.5 8 1.5 8 2 8 3 8 4 6 4 8 6 6 5.5 6.5 8 5.5 8 5 8 4 8 3.5 10 2.5 8 1.5 10 0 8-1 8-2 8-2.5 8-4.5 10-4.5 8-5 8-6.5 8-6 6-6.5 5.5-8 5.5-6 3.5-8 3.5-8 2.5-8 2-8 1-8 0-8-0.5-8-1.5-8-2.5-8-3.5-8-4-8-5.5-6-5-7.5-7-6-8-5.5-8-4.5-8-3.5-8-2.5-8-2.5-8-1.5-10 0-8 1-6 2-8 3.5-10 3.5-8 4-8 5.5-8 6-8 6-6 6-5.5 8-5.5 6-3.5 8-4 8-3 8-1.5 7.5-1M866 1291l-10 1.5-10 0-10-0.5-10-2.5-8-2.5-10-4.5-8-5-8-6.5-7.5-6.5-6.5-8-5.5-8-6-10-5.5-12-3.5-12-2-10-1-8 1-8 3-12 4.5-12 3.5-8 6-10 5.5-8 7-8 8.5-8 8.5-6.5 8-4.5 10-4.5 8-2.5 10-1.5 10-1 10 1 8 1M637.5 818.5l6.5-0.5 6 0 8 1 6 1.5 6 2.5 6 2.5 6 4 6 4.5 4 4.5 5.5 6 4 6 3.5 6 3 8 2 6 1.5 6 1 8 0 8-0.5 6-1.5 8-1.5 6-2 6-4 8-6.5 10-8.5 8.5-6 5-6 3.5-8 3.5-6 2-12 2-12 0-8-1.5-6-2-6-2-6-3.5-10-7-5-4.5-5-6-4-6-3-6-4.5-12-1.5-6-1-8-0.5-6 0.5-8 0.5-6 2-8 4.5-12 3.5-6 4-6 5.5-6 4-4 10-7.5 6-3 6-2.5 8-2.5 5.5-0.5M233 822.5l7-1.5 6 0 8 0.5 6 1 8 2.5 6 2.5 10 5.5 6 5 4 4.5 5 6 4 6 6 12 2 6 1.5 8 1 6 0 8-0.5 8-1 6-1.5 6-3 8-3 6-3.5 6-4.5 6-4.5 5-10 8-6 3.5-6 3-6 2-8 1.5-8 1-6 0-8-1-6-1.5-6-2.5-6-2.5-10-6.5-5-4-5-6-7.5-10-5.5-12-2-6-1.5-8-1-6 0-8 0.5-6 1-8 2.5-8 2.5-6 5-10 8-10 4-4 6-5 6-4 6-3 8-3 5-1M447 1104.5l9 0 8 1 8 2 10 3.5 8 4 6 4 7 5.5 6.5 6 5.5 6 6 8 6 10 3.5 8 4 10 2.5 8 1.5 8 0.5 8-0.5 8-1.5 10-2.5 8-3.5 10-4 8-4.5 8-6 8-5 6-6 6-7.5 6-8 5-6 3.5-10 4-8 2-8 1-8 0.5-10-0.5-8-1-8-2.5-8-3-8-4-6-4-7.5-5-6-6-5.5-6-6-8-6-10-4-8-3-8-2.5-10-1.5-8-0.5-8 0.5-8 1-8 2-8 3.5-10 4-8 4-8 5.5-8 7-8 6-6 7-6 8-5 8-4 8-3 8-2.5 8-1 7-0.5M36 1105l8-0.5 10 0 8 1 10 2.5 10 3.5 8 4.5 8 5 6 5.5 8 7.5 6.5 8.5 6 10 4 8 4 10 2.5 8 2 10 0.5 10-0.5 8-2 10-3 10-4 10-5.5 10-5.5 8-6.5 8-6.5 6.5-6 5-8 5-8 4.5-10 3.5-8 2-10 1.5-8 0-10-0.5M641.5 1106.5l8.5-0.5 10 1 8 1.5 8 2.5 6 2.5 8 4 8 5.5 6 5 6 6 5.5 6.5 5.5 8 4.5 8 3.5 8 3.5 10 2 8 1 8 0 8-1 8-1.5 8-2.5 8-3.5 8-4 8-5 8-6.5 8-5.5 6-6 5-8 6-6 3.5-8 3.5-8 2.5-8 2-8 1-8 0-8-0.5-8-1.5-8-2.5-6-2.5-8-4-8-5.5-6.5-5-6.5-6-6.5-8-5-8-4.5-8-3.5-8-3-8-2-8-1-8 0-8 1-8 1.5-8 2.5-8 4-10 4.5-8 5-8 5-6 5.5-6 7.5-6.5 6-4.5 8-4.5 8-3.5 6-2 8-2 7.5-1M242 1110.5l8-0.5 10 1 8 1.5 8 2.5 6 2 8 4.5 8 5 6 5 6 6 5.5 7 5.5 8 4.5 8 3.5 8 3.5 10 2 8 1 8 0 8-1 8-1.5 8-2.5 8-3.5 8-4 8-5 8-6.5 8-5.5 6-6 5-8 6-6 3.5-8 3.5-8 2.5-8 2-8 1-8 0-8-0.5-8-1.5-8-2.5-6-2.5-8-4-8-5.5-6.5-5-6-6-5-6-6-8-4.5-8-3.5-8-3.5-10-2-8-1-8 0-8 0.5-8 1.5-8 2.5-8 4.5-10 4-8 5.5-8 4.5-6 5.5-6 7.5-6.5 6-4.5 8-4.5 8-3.5 6-2 8-2 8-1M866 1288.5l-10 2-10 0-10-0.5-8-2-10-3-8-4-8-4.5-8-6-8-8-7-8-5.5-8-5.5-10-3.5-8-4-12-1.5-10-1-10 1-10 2-10 3.5-10 4.5-10 6-10 5.5-8 7-8 6.5-6 8-6 8-4.5 10-4.5 8-2.5 10-2 10-0.5 10 0.5 8 1.5M632.5 820.5l7.5-1.5 6 0 6 0.5 6 1 6 1.5 6 2 6 3 6 3.5 6 5 4 4 4 5 4.5 6 4 8 2.5 6 2 6 2 8 0.5 6 0 8-1.5 12-3.5 12-3.5 8-3.5 6-4.5 6-5 5.5-4 3.5-6 4.5-6 3.5-6 2.5-12 3.5-6 0.5-8 0-6-0.5-6-1-6-2-6-2.5-6-3-6-4.5-9-8-7.5-10-6-12-2.5-8-1.5-6-1-8 0-8 0.5-6 1.5-8 4-12 3-6 3.5-6 4.5-6 4.5-5 10-8 6-3.5 6-2.5 10.5-3M241 822.5l7-0.5 6 0.5 6 1 6 1.5 6 2.5 6 3 6 4 6 5 4.5 5 5 6 5.5 10 3.5 8 2 6 1 6 1 8 0 8-0.5 6-1 6-2 8-5.5 12-3.5 6-4 5-4.5 5-5.5 5-10 6.5-6 2.5-6 2.5-8 1.5-6 0.5-12 0-8-2-6-1.5-6-3-6-3-10-8-8.5-9-4-6-3-6-3.5-8-1.5-6-1-6-1-8 0-6 0.5-8 3-12 2-6 4-8 7-10 4-4.5 6-5.5 10-7 6-2.5 6-2 6-2 7-0.5M444 1106.5l8-0.5 10 1 8 2 8 2.5 8 3.5 6 3.5 8 5.5 6 5.5 6 6 5 7 5.5 8 4 8 4.5 10 2.5 8 1.5 8 1 10 0 8-1 8-2 10-3 8-3 8-4.5 8-5 8-6.5 8-6 6-7 6-8 5-6 3.5-8 3-8 2.5-8 1.5-8 1-8-0.5-8-0.5-8-2-8-2.5-8-4-8-4.5-6.5-4.5-6.5-6-5.5-6-6.5-8-4.5-8-4-8-3.5-8-2.5-8-2-10-0.5-8 0-8 1-8 2-8 2.5-8 3-8 4-8 5-8 6.5-8.5 6-6 6-5.5 6-4.5 8-4.5 8-4 8-2.5 8-2 8-0.5M36 1107l10-1 8 0.5 8 1 10 2.5 8 3 8 4 8 5 8 6.5 6 6 6 8 5.5 8 5 10 4 10 2.5 10 1.5 10 0.5 8-0.5 8-1.5 10-2.5 8-4 10-4 8-6 10-6.5 8-6 6-6 5-8 5.5-8 4.5-10 3.5-8 2.5-10 1-8 0.5-10-1M640 1108.5l8-0.5 8 0 8 1.5 8 2 8 3 8 4 8 5 5.5 5 6.5 6 5 6 5.5 8 4.5 8 3.5 8 3 8 2 8 1.5 8 0 8-0.5 8-1.5 8-2 8-4 10-4.5 8-3.5 6-5 6.5-6 7-6 5.5-6 4.5-8 4.5-6 3-8 3-8 2-8 1.5-8 0-8-0.5-8-1-8-2.5-8-3-6-3-8-5-6-5-6-5.5-5.5-6-6-8-4.5-8-3.5-8-3-8-2-8-1-8-0.5-8 0.5-8 1.5-8 2-8 3-8 4-8 3.5-6 5.5-8 6-7 6-5.5 6-5 8-5 6-3 8-3 8-2.5 8-1M240 1112.5l8-0.5 8 0 8 1.5 8 2 8 3 8 4 8 5 5.5 5 6.5 5.5 5 6.5 5.5 8 4.5 8 4 8 2.5 8 2 8 1 8 0.5 8-0.5 8-1.5 8-2.5 8-3.5 10-4.5 8-3.5 6-6 8-5.5 6-5.5 5-6 4.5-8 5-6 2.5-8 3-8 2-8 1.5-8 0-8-0.5-8-1-8-2.5-8-3-6-3-8-5-6-5-6-5.5-5.5-6-5.5-8-4.5-8-6-14-2-8-2-10-0.5-8 0.5-8 1.5-8 2-8 3-8 4-8 3.5-6 5.5-8 6-7 6-5.5 6-5 8-5 8-4 8-3 8-2 6-0.5M866 1287l-10 1.5-10 0.5-10-1-8-2-10-3-8-4-8-5-8-5.5-6-6.5-7-7.5-6.5-10-4.5-8-4-10-3-10-1.5-10-1-10 1-8 1.5-10 3-10 4.5-10 4-8 7-10 7-8 7.5-7 8-6 8-4.5 8-3.5 8-2.5 10-2 10-1 10 1 8 1M639 820.5l7-0.5 8 0.5 6 1.5 6 1.5 6 2.5 6 3.5 10 7.5 8.5 9.5 4 6 3 6 3.5 8 1.5 6 2 12 0 8-0.5 6-1 8-2 6-4 10-3.5 6-4 6-5.5 6-4 3.5-10 7-8 4-6 2-12 2-12 0-8-1.5-6-2-6-2.5-6-3.5-6-4-4-3.5-4-4-5-5.5-4-6-3-6-3-8-2-6-1.5-12 0-12 1.5-8 1.5-6 5-12 3.5-6 4-6 9-9 6-4.5 6-4 10-4 6-1.5 7-1M234 824.5l6-1 8-0.5 12 1.5 12 4 6 3.5 6 4 9 8.5 8 10 3 6 3 6 2 6 1.5 8 1 6 0 8-0.5 8-1 6-1.5 6-3 8-3 6-4 6-4.5 6-4 4-6 5-4 3-10 5-6 2-8 2-12 1-6-0.5-6-1.5-6-1.5-6-2.5-6-3-6-4-6-5-4-4-7.5-10-5.5-12-2-6-2-8-0.5-6 0-8 0.5-8 1-6 2.5-8 2.5-6 5.5-10 4.5-6 5-5.5 10-7.5 6-3.5 6-3 10-2.5M441 1108.5l9-0.5 8 0.5 8 1 8 2.5 8 3 8 4.5 6 4 6 5 6.5 6 5.5 6 5 8 4.5 8 4 8 3.5 10 2 8 1 8 0 8-0.5 10-1.5 8-2.5 8-3 8-3.5 8-5 8-6 8-6 7-6 5-6 4.5-8 5-6 3-8 2.5-8 2-8 1.5-8 0-8-0.5-8-1.5-8-2-8-3.5-8-4-6-4-6.5-5-6-6-5.5-6.5-5.5-7.5-4.5-8-3.5-8-3.5-10-1.5-8-1.5-8 0-8 0.5-8 1.5-10 2.5-8 3-8 4-8 3.5-6 5.5-8 5.5-6.5 6-5.5 6-5 8-5 8-4 8-3 8-2 7-1M36 1109l8-1 8 0 10 1 8 2 8 3 8 3.5 8 5 8 6.5 7 7.5 6.5 8 5 8 4 8 4 10 2 8 2 10 0.5 10-0.5 8-1.5 10-2.5 8-3.5 10-4 8-6.5 10-6.5 7.5-6 6-6 5-8 5.5-8 4-8 3-8 2-10 1.5-10 0-8-1M637.5 1110.5l8.5-1 8 0 8 1 8 2 8 3 6 2.5 8 5 6 4 6 5.5 5 6 6.5 8 3.5 6 4 8 4 10 2 8 1.5 8 0.5 8-0.5 8-1 8-2 8-3 8-3.5 8-5 8-4 6-5 6-6 6-7 5.5-6 3.5-6 3.5-8 3-8 2.5-8 1.5-8 0.5-8-0.5-8-1-8-2-6-2-8-4-6-3.5-8-6-6-5-5.5-6-5.5-8-4-6-4-8-3-8-2-8-1.5-8-0.5-8 0.5-8 1-8 2-8 5.5-14 4-8 5.5-8 5.5-6.5 5.5-5.5 6.5-5.5 6-4 8-4 8-3.5 8-2 5.5-1M237.5 1114.5l8.5-1 8 0 8 1 8 2 8 3 6 2.5 8 4.5 6 4.5 6 5.5 7 8 4.5 6 4.5 8 4 8 3 8 2 8 1.5 8 0.5 8-0.5 8-1 8-2 8-3 8-3.5 8-4.5 8-4.5 6-5 6-6 6-7 5.5-6 4-8 4-8 3-8 2-6 1-8 0.5-8-0.5-8-1-8-2-6-2-8-4-6-3.5-8-6-6-5-5-6-4.5-6-5-8-4-8-3-8-2.5-8-1-8-0.5-8 0-8 2.5-14 2.5-8 3.5-8 4.5-8 5-8 5.5-6.5 5.5-5.5 6.5-5 6-4.5 8-4 8-3.5 8-2 5.5-1M866 1285l-10 1.5-8 0.5-8-0.5-10-1.5-10-3-8-4-8-4.5-8-6-7.5-7-7-8-5-8-5.5-10-3.5-10-3-10-1.5-10 0-8 0.5-8 1.5-10 3-10 4.5-10 4-8 5.5-8 6.5-8 7.5-7 8-6 8-5 8-3.5 10-3 8-1.5 10-0.5 10 0.5 8 1.5"/>
</g>
<path fill="#000" d="M92 1351.8H260V1350.6H430V1349.7H591V1348.5H757V1347.7H836V1355H92z"/>
</g>
<text class="mono" transform="translate(245.5,903.8) scale(1,1.03)" font-size="20.5" fill="#fff" text-anchor="middle">Mg</text>
<text class="mono" transform="translate(645.7,899.3) scale(1,1.03)" font-size="20.5" fill="#fff" text-anchor="middle">Mg</text>
<text class="mono" transform="translate(448.6,1001.6) scale(1,1.03)" font-size="20.5" fill="#fff" text-anchor="middle">F</text>
<text class="mono" transform="translate(254.4,1102.4) scale(1,1.03)" font-size="20.5" fill="#fff" text-anchor="middle">Mg</text>
<text class="mono" transform="translate(652,1100) scale(1,1.03)" font-size="20.5" fill="#fff" text-anchor="middle">Mg</text>
<text class="mono" transform="translate(248.4,1207.8) scale(1,1.03)" font-size="20.5" fill="#fff" text-anchor="middle">F</text>
<text class="mono" transform="translate(449.5,1206.9) scale(1,1.03)" font-size="20.5" fill="#fff" text-anchor="middle">Cu</text>
<text class="mono" transform="translate(647,1204.5) scale(1,1.03)" font-size="20.5" fill="#fff" text-anchor="middle">F</text>
<text class="mono" transform="translate(452,1305.5) scale(1,1.03)" font-size="20.5" fill="#fff" text-anchor="middle">F</text>
<g clip-path="url(#mapR)">
<g>
<g filter="url(#mapRb)">
<rect x="897.4" y="724.2" width="829.1999999999999" height="660.8" fill="#ff0300"/>
<path fill="#ff0800" d="M941 724l340 0-2 14-3 14-6 16-6 14-8 16-9 14-9 12-9 9-12 11-14 10-16 9-18 10-18 8-16 6-12 3-12 1-12-2-12-2-16-6-18-8-18-9-18-11-15-11-11-10-10-10-7-10-7-12-8-16-7-16-6-16-3-14zM1343 724l342 0-1 14-3 16-4 14-6 16-8 16-9 16-10 14-9 10-12 11-14 10-16 11-18 9-18 9-16 6-14 3-14 1-12-1-16-4-16-6-18-8-18-10-18-11-13-10-12-10-9-10-9-14-8-16-7-16-6-16-5-16-2-14zM905 832l6 0 8 1 8 2 6 2 12 6 10 7 4 4 4 6 5 10 5 14 1 16 0 14-2 8-2 8-6 14-7 12-6 6-6 6-12 8-12 5-8 2-6 1-10-1 0-150zM1297 842l12-1 8 0 6 1 6 1 8 3 8 3 6 4 6 5 5 4 7 10 5 12 3 14 0 16 0 8-2 8-2 8-3 8-6 12-5 7-6 6-6 6-6 4-12 6-6 2-8 2-6 1-6-1-8-2-6-2-12-6-10-8-9-11-6-10-4-12-3-14-1-16 2-14 4-14 6-12 8-10 9-8 6-3 6-3zM1700 850l5-1 8-1 14 1 0 148-6 1-6 0-6 0-6-1-6-1-12-6-6-4-6-5-8-9-4-6-4-6-5-12-3-14-1-14 2-14 3-14 6-12 7-10 9-9 6-3 6-4zM1098 920l7-1 6-1 12 1 14 4 10 5 10 5 18 10 18 14 16 13 24 24 8 6 6 4 6 3 6 2 6 2 14 1 32-1 32 3 12 1 12-1 10-2 9-4 9-6 42-37 14-10 12-8 14-7 14-6 12-4 12-1 12 1 14 5 16 7 16 9 14 10 14 11 38 36 8 6 6 3 10 3 12 2 36-1 16 0 0 365-763 0-9-2-12-2-14-1-32 0 0-381 14 1 26 3 14 2 12-1 6-1 6-2 9-4 9-6 36-33 10-8 12-8 12-8 12-6 12-6z"/>
<path fill="#ff0d00" d="M951 724l321 0-2 14-4 14-5 14-6 14-7 14-8 12-10 12-9 10-12 10-14 10-14 8-14 7-16 6-14 4-14 2-12 1-12-1-14-2-14-4-16-6-16-8-14-8-12-9-12-10-10-10-9-12-8-12-7-14-6-14-5-14-3-14zM1352 724l323 0-1 14-3 16-4 14-5 14-7 14-8 14-10 13-10 11-12 11-12 9-14 9-16 8-16 7-16 5-14 2-14 1-14-1-14-3-16-4-16-7-16-8-14-9-13-10-11-10-9-10-9-12-8-14-7-14-6-16-4-14-2-14zM903 836l12 0 6 1 6 2 6 3 6 3 9 7 8 10 7 12 3 12 2 12 0 14-3 14-5 12-7 12-5 6-5 4-10 7-10 5-6 1-6 1-8 0-6-1 0-136zM1298 846l5-1 6 0 12 0 12 4 6 3 6 4 9 8 5 6 4 6 4 10 3 14 1 14-1 12-1 6-3 8-6 12-7 10-10 9-10 6-6 3-8 2-10 1-12-2-10-4-6-3-6-5-7-7-7-10-5-10-4-14-1-14 1-14 3-12 5-12 6-10 9-9 10-6 8-4zM1701 854l6-1 6-1 8 1 6 1 0 135-4 0-12 1-6-1-6-1-10-4-10-7-8-9-7-10-5-12-3-12-1-14 1-14 4-14 5-10 7-10 7-7 10-7zM1100 934l7-1 8 0 14 2 16 4 16 8 16 10 14 11 14 12 22 24 8 7 6 4 6 3 6 3 8 1 14 1 40 0 44 3 12-1 10-2 10-5 8-5 8-7 21-20 11-10 12-9 12-8 14-7 14-5 12-2 14-1 14 1 14 4 14 6 14 8 12 8 12 11 11 10 17 19 8 7 8 6 8 4 10 3 12 2 40-1 16 0 0 354-360 0-10-2-10 0-40-1-40-1-16 0-8 2-5 2-252 0-7-4-7-4-7-2-8-2-16-1-44 0 0-360 18 1 30 2 12 0 12-1 6-1 6-2 8-4 8-6 34-32 10-8 12-9 10-6 12-6 12-4z"/>
<path fill="#ff1400" d="M959 724l304 0-2 14-3 12-4 12-6 14-6 12-9 13-9 11-10 10-11 10-12 8-12 7-14 7-14 5-14 4-14 2-12 0-12 0-14-2-14-4-14-5-14-6-12-7-12-9-12-10-9-10-8-10-8-12-7-12-6-14-4-12-4-14zM1361 724l305 0-1 16-3 14-4 14-6 14-7 14-7 12-9 12-10 10-11 10-13 9-12 8-14 6-14 6-14 4-14 2-14 1-14-1-14-3-14-3-14-6-14-7-12-7-12-9-12-10-9-10-9-12-7-12-7-14-7-16-3-14-3-14zM897 840l2-1 8 0 6 0 6 1 10 3 6 3 6 5 10 9 6 10 4 10 2 6 1 8 0 14-2 14-4 12-5 10-8 10-4 3-6 5-10 5-10 2-10 1-8-1zM1301 848l6-1 6 0 12 2 10 4 10 7 8 8 7 10 5 12 2 12 0 14-1 12-4 12-6 12-8 10-9 8-10 5-6 2-6 1-6 1-6-1-6-1-6-2-10-5-8-6-7-8-6-10-4-10-2-6-1-8-1-12 2-14 4-12 5-10 7-10 9-8 10-5zM1704 856l11-1 6 0 6 1 0 129-6 1-12 0-10-2-10-5-9-7-8-8-6-10-4-10-2-6-1-8-1-12 2-14 4-12 5-10 6-9 8-7 10-6 6-3zM1104 944l7 0 8 0 14 2 16 5 14 7 14 10 12 10 11 10 21 24 9 8 5 4 6 3 6 2 8 2 16 1 46-1 48 3 10-1 10-1 9-4 9-6 10-8 18-19 10-9 10-8 12-8 14-8 14-5 12-2 14-1 14 2 14 3 14 6 12 7 12 9 11 9 33 36 8 7 8 4 10 3 12 1 44-1 18 0 0 345-22 0-46-3-14 1-10 3-244 0-6-3-6-3-8-2-8-1-12-1-44 0-50-2-10 0-10 2-9 4-9 6-219 0-9-7-8-6-8-4-8-2-8-1-8 0-36 1-18 0 0-346 20 1 34 2 12 1 12-1 10-3 8-4 8-5 8-8 26-26 10-8 10-8 12-7 12-5 12-4z"/>
<path fill="#ff1c00" d="M969 724l284 0-2 14-3 12-5 12-5 12-7 12-7 10-8 10-10 10-11 9-10 7-12 7-12 5-12 5-12 3-12 2-14 0-14 0-12-2-12-3-12-4-12-6-12-6-12-9-10-8-9-10-8-10-7-10-7-12-5-12-5-12-3-14zM1371 724l285 0-1 14-2 12-4 14-5 12-5 12-8 12-9 12-9 10-10 9-12 9-12 7-12 6-12 5-14 4-14 2-14 1-14-1-14-3-14-3-12-5-12-6-12-7-12-9-9-9-9-10-9-12-8-12-5-12-5-12-4-14-2-12zM899 842l10-1 12 2 10 4 6 4 4 3 8 8 6 10 4 10 2 6 1 8 0 12-2 12-4 12-4 8-2 4-9 10-8 6-8 3-6 2-6 1-8 1-8-1 0-124zM1306 850l11 0 10 3 10 4 9 7 7 8 6 10 3 10 3 14 0 14-3 12-4 12-6 10-9 9-8 6-10 4-6 2-6 0-10 0-6-2-6-2-10-6-7-7-8-10-4-8-3-12-2-12 1-14 2-12 4-10 7-10 6-7 8-6 10-5zM1708 858l9 0 10 1 0 122-8 2-10 0-6-1-6-2-10-5-7-7-7-8-3-4-4-8-3-12-2-10 0-12 2-12 3-10 4-8 3-4 8-9 8-6 8-4 6-2zM1098 956l15-1 8 0 8 2 8 1 8 3 14 7 12 8 13 10 11 12 19 22 9 9 6 4 6 4 6 2 7 1 15 1 34-2 20 0 56 4 10 0 8-2 10-4 8-5 9-8 27-28 10-9 12-8 12-6 12-4 12-3 14 0 14 1 12 3 14 6 12 7 10 8 10 9 25 28 7 8 8 6 8 5 10 2 12 1 46-2 22 0 0 330-26-1-40-4-14 0-10 1-8 2-8 5-7 5-206 0-9-7-8-5-8-4-10-2-14 0-34 1-18 0-18-1-32-3-10 0-8 0-6 1-10 4-10 6-10 10-189 0-11-11-8-7-9-6-9-3-8-1-10-1-40 2-22 0 0-330 24 1 48 4 12 0 10-3 8-4 9-7 31-32 9-8 9-7 10-6 10-5 10-3z"/>
<path fill="#ff2400" d="M978 724l266 0-2 12-3 12-4 12-4 10-7 12-7 10-9 10-8 8-9 8-10 6-12 7-10 5-12 4-12 3-12 2-12 0-12 0-12-2-12-3-12-4-12-5-10-6-10-7-10-8-8-8-8-10-7-10-7-12-4-10-4-12-3-12zM1380 724l267 0-1 14-2 12-3 12-5 12-6 12-6 10-8 10-9 10-10 9-10 7-12 8-12 5-12 5-12 3-14 2-12 0-12 0-14-2-12-3-12-5-12-5-12-8-10-7-9-9-9-10-8-10-6-10-6-12-5-12-3-12-2-14zM899 844l10-1 6 1 6 1 10 4 8 6 4 4 5 5 6 10 4 12 2 10 0 12-1 12-4 12-6 10-8 9-8 6-10 5-10 2-8 0-8-1 0-118zM1306 852l11 0 10 3 10 5 8 6 7 8 6 10 3 10 2 12 0 14-2 12-4 10-6 10-8 8-4 4-6 3-10 4-10 2-10-1-10-2-8-4-6-5-4-4-7-9-4-8-4-12-1-12 0-10 2-12 3-10 6-10 7-9 8-6 10-4 6-2zM1709 860l8 0 10 1 0 118-8 2-10-1-6-1-6-2-8-4-8-6-7-9-6-10-4-12-1-10 0-12 2-12 3-10 6-10 7-9 8-6 8-4 6-2zM1095 966l14-2 8 0 8 1 8 2 8 2 14 7 12 8 12 10 10 11 20 23 10 10 6 4 6 3 6 2 6 1 14 0 36-3 20 0 20 1 42 5 10 0 10-2 10-3 10-7 8-8 26-27 10-9 10-7 10-5 12-5 12-2 12-1 12 1 14 3 12 5 12 7 10 8 10 9 24 28 8 8 8 7 8 4 10 2 10 1 48-4 14 0 12 0 0 318-14 0-14-1-44-5-14-1-10 1-6 2-4 2-10 7-10 9-181 0-11-11-9-7-9-4-10-3-14-1-38 3-22 0-22-1-34-5-12 0-6 0-6 1-6 3-6 3-11 8-13 14-166 0-14-16-8-8-10-7-10-4-8-1-10 0-42 3-26 1 0-319 14 0 14 1 38 5 12 1 10 0 10-3 8-4 10-7 8-8 22-24 8-7 8-6 8-6 10-5 8-3z"/>
<path fill="#ff2c00" d="M986 724l250 0-2 12-2 10-4 12-5 10-6 10-7 10-7 8-8 8-8 7-10 7-10 6-12 5-12 4-10 2-12 2-10 0-10 0-12-2-10-2-12-4-12-5-10-6-9-6-9-7-8-8-7-9-7-10-6-10-5-10-4-12-2-10zM1388 724l251 0 0 12-3 12-3 12-5 12-5 10-6 10-7 10-9 9-8 7-10 8-12 7-10 5-12 4-12 3-12 2-12 0-12 0-12-2-12-3-12-4-12-6-10-6-10-8-8-7-8-9-7-10-6-10-5-10-5-12-3-12-2-12zM898 846l5-1 6 0 10 1 8 3 10 6 8 7 5 8 5 10 3 12 1 12-1 12-3 12-5 10-7 9-8 7-10 5-10 3-8 1-10-2zM1304 854l5 0 6 0 10 2 10 4 8 6 7 8 6 10 4 12 2 10 0 10-2 12-4 12-6 10-7 8-4 4-6 3-8 4-10 2-10 0-8-2-10-4-8-6-6-7-6-10-4-10-3-12 0-12 2-12 3-10 5-10 7-8 8-7 8-4zM1707 862l10-1 10 2 0 114-8 2-8 0-10-2-10-4-8-6-7-9-5-8-4-10-3-12 0-12 2-12 3-10 5-10 7-9 8-6 8-4zM1097 974l6-1 8 0 14 1 14 3 14 7 12 8 10 9 10 10 18 22 10 10 6 4 6 4 6 2 6 1 8 1 8 0 38-4 22-1 24 1 44 7 10 0 8-2 10-4 10-6 8-8 26-27 8-7 10-8 10-5 12-5 12-2 10-1 12 1 12 3 12 5 10 6 10 8 8 7 8 9 17 20 8 8 9 8 9 4 9 2 10 1 10-1 40-5 14-1 14 1 0 308-16 0-14-1-14-1-34-6-14-1-6 1-6 1-10 5-10 8-12 13-161 0-13-14-10-9-10-5-10-3-8-1-8 0-40 4-24 1-20-2-38-6-14-1-8 1-6 1-6 3-6 3-6 5-6 5-16 18-146 0-18-20-10-10-10-8-10-3-8-2-10 0-46 5-14 1-12 0 0-309 14 0 16 1 50 8 10 0 10-2 10-5 9-6 8-8 23-25 8-7 8-7 8-5 8-4 8-3z"/>
<path fill="#ff3400" d="M993 724l236 0-2 12-3 10-3 10-5 10-6 10-6 8-7 8-8 8-8 7-10 6-8 5-10 4-10 3-10 3-10 1-12 1-12-1-10-1-10-2-10-4-10-4-10-5-9-7-9-7-8-8-7-9-5-8-6-10-5-10-3-10-3-10zM1395 724l237 0 0 10-2 12-4 12-3 10-5 10-7 10-7 10-8 8-9 8-10 7-10 6-10 5-10 3-12 3-10 2-12 0-12 0-10-2-12-3-10-3-10-5-10-6-10-7-8-8-8-8-7-10-7-10-5-10-3-10-4-12-1-10zM897 848l2-1 6 0 6 0 6 0 10 4 8 4 8 8 7 9 5 10 2 10 1 12-1 12-3 10-2 6-4 6-7 9-8 6-8 5-10 3-10 0-8-1zM927 890l-1 0 3 8 0 6 0 6-2 6 0 1 2-1 2-2 2-3 2-7-1-4-1-4-2-3zM1301 856l10-1 10 1 10 4 8 5 8 7 6 8 3 6 2 6 2 10 1 12-1 10-3 12-5 10-7 8-8 7-10 6-10 2-10 1-10-2-8-4-8-5-6-7-7-10-4-10-2-10-1-10 1-12 3-10 4-10 6-8 8-8 8-5zM1329 898l0 2 1 2 2 6 1 4-1 4-1 6-2 2 0 2 2-1 4-4 2-4 1-5-1-4-2-5-2-2zM1289 900l-2 2-2 4-1 4 0 4 1 5 2 3 4 4 1-2-2-6 0-8 0-4 2-6-1-2zM1704 864l5-1 6 0 6 0 6 2 0 111-6 1-10 0-10-2-8-3-8-5-6-7-7-10-4-10-2-10-1-10 1-12 2-10 5-10 6-8 6-6 10-7zM1695 906l-4 4-2 3-1 7 1 7 2 3 2 2 2 1 1-1-2-8 0-6 0-4 3-8zM1107 980l12 0 12 2 12 5 10 5 10 7 10 9 8 9 18 21 10 10 6 5 6 3 6 3 7 1 7 1 8-1 40-5 24-1 14 0 12 2 36 6 10 1 10 1 8-2 10-4 10-7 10-9 24-26 8-6 8-6 10-6 10-4 10-2 12-1 12 1 10 2 12 5 10 6 8 7 9 8 23 27 9 9 9 8 10 4 8 2 10 1 10-1 28-5 14-2 16 0 14 0 0 300-16 0-16-1-16-2-34-7-8-1-8 0-6 1-6 2-10 6-11 9-14 16-144 0-13-16-10-10-6-4-6-3-10-4-8-1-8 0-44 6-14 1-12 0-20-2-44-8-14-1-8 1-6 2-6 3-6 4-11 10-21 22-127 0-23-26-9-10-11-7-10-4-8-1-10 0-46 6-16 1-14 0 0-301 16 0 16 2 14 2 28 5 10 2 10 0 10-2 10-5 8-6 10-10 23-24 7-7 8-6 10-6 10-4 10-3z"/>
<path fill="#ff3c00" d="M1000 724l222 0-1 10-3 10-3 10-4 8-6 9-6 9-7 8-7 7-8 6-8 6-8 4-10 5-10 3-10 2-10 2-10 0-10 0-10-1-10-3-10-3-10-4-8-5-8-5-8-6-7-8-7-7-6-8-5-9-4-10-4-10-3-10zM1401 724l225 0-1 12-2 10-3 10-4 10-5 10-6 9-6 9-8 8-8 7-8 6-10 6-10 4-10 4-10 2-10 2-12 1-12-1-10-2-10-2-10-4-10-4-10-6-8-6-8-7-7-8-7-9-5-9-5-10-4-10-3-10-2-10zM903 848l8 0 10 2 10 4 8 6 7 8 6 10 3 8 2 12 0 12-2 12-4 10-5 8-7 7-8 6-10 5-10 2-8-1-6-1 0-34 1 0-1-2 0-37 2-1-2-1 0-34zM917 883l0 1 4 4 4 4 2 4 1 6 0 4-1 6-4 5-5 5-1 2 2 0 7-2 3-2 4-4 3-6 1-4 0-4-2-7-4-6-3-3-4-2-5-1zM1299 858l4-1 6-1 10 1 10 3 8 5 8 7 7 8 4 10 3 10 1 12-1 12-3 10-4 10-7 9-8 7-10 5-8 3-8 0-10-1-10-3-8-5-7-7-6-8-4-8-3-12-1-10 0-12 3-10 4-10 6-8 6-7 8-5zM1319 892l6 5 4 5 1 4 1 4 0 6-2 6-4 5-4 4-1 1 1 1 2 0 7-3 5-5 2-3 2-5 1-7-1-3-1-5-5-5-4-3-4-2-4-1zM1297 892l-4 1-4 3-4 5-2 5-1 4 0 4 1 6 4 6 6 5 4 1 4 1 1-1-8-8-2-4-1-6 0-4 1-6 4-6 5-5 2-1-2-1zM1702 866l7-1 6-1 6 1 6 1 0 33-2 0-2 1 4 3 0 34-3 3 3 0 0 34-4 1-10 1-8-1-10-3-8-5-7-7-6-8-4-8-3-12-1-10 0-12 3-10 4-10 6-8 6-7 8-5zM1701 900l-6 2-4 4-2 2-2 6-1 4 0 4 2 6 4 6 5 5 4 1 4 1 1-1-7-8-3-4-1-6 0-4 1-6 4-6 5-5 1-1-1-1zM1100 988l13-1 12 1 12 4 12 5 10 7 9 8 9 10 20 22 10 10 6 5 6 3 6 2 6 2 6 0 8 0 42-7 14-1 12-1 12 1 14 1 48 10 10 0 8-1 10-4 6-4 6-4 9-8 25-26 8-7 8-6 8-4 10-4 10-3 10 0 10 1 10 2 10 4 10 6 8 6 8 7 25 28 9 10 10 7 10 5 8 2 10 0 10-2 26-5 16-2 16-1 16 0 0 294-16 0-16-1-18-3-34-8-8-1-8 0-6 1-6 2-6 2-6 4-12 11-18 19-126 0-18-20-10-10-6-4-5-4-5-2-6-2-8-1-10 0-44 7-14 1-14 0-22-2-14-3-28-6-8-1-8 0-8 1-6 1-6 3-6 4-12 10-27 28-109 0-10-10-19-22-8-8-11-8-10-4-8-2-10 0-48 8-16 1-16 0 0-293 16 0 18 1 14 3 29 6 11 2 10 0 8-2 10-4 10-8 9-8 23-24 14-12 6-4 8-4 8-4z"/>
<path fill="#f40" d="M1006 724l210 0-2 10-2 8-3 10-4 8-5 8-6 8-7 8-6 6-8 7-8 5-8 4-8 4-8 3-10 2-10 2-10 0-10 0-10-2-10-2-8-3-8-3-8-5-8-5-8-6-6-7-7-8-6-8-5-8-4-8-3-10-2-8zM1408 724l211 0 0 10-2 10-3 10-4 10-5 10-5 8-6 8-7 7-8 7-8 6-8 5-10 4-10 4-10 2-10 2-10 0-10 0-10-2-10-2-10-4-10-4-8-5-8-6-8-7-6-7-6-8-5-8-5-10-4-10-3-10-2-10zM898 850l9-1 10 1 10 4 8 4 8 8 6 8 4 10 3 10 0 12-1 10-3 10-5 10-6 7-8 7-8 5-10 3-8 0-10-1 0-30 8 1 8 0 8-2 6-3 4-3 5-6 2-6 0-8-2-6-3-5-4-4-4-3-6-2-6-1-8 0-8 1 0-30zM1304 858l9 0 10 1 10 5 8 6 7 6 6 10 3 10 2 10 0 10-1 10-3 10-6 10-8 9-8 6-8 4-10 2-10 0-8-2-10-5-7-6-7-7-5-9-3-10-2-10 0-12 2-10 3-10 5-8 6-7 8-7 8-3zM1303 888l-6 1-6 3-4 4-4 5-2 5 0 6 0 6 2 5 4 6 4 3 5 2 5 2 8 1 8-1 6-1 6-2 4-3 4-4 2-4 2-4 0-4 0-4-1-6-2-4-5-6-4-2-4-2-5-2-5 0zM1707 866l10 0 10 1 0 30-8-2-10 0-8 2-6 3-4 3-4 6-2 5 0 8 1 6 3 6 4 4 6 4 6 2 6 1 10-1 6-1 0 30-8 2-8 0-10-2-10-5-7-6-7-7-5-9-3-10-2-10 0-12 2-10 3-10 5-8 6-8 6-4 8-5zM903 884l2-1 4 0 6 2 4 2 3 3 3 4 2 4 0 4 0 6-2 6-6 6-6 3-4 1-6 0-6-4 0-33 2-2zM1308 892l3 0 4 0 2 1 4 2 4 4 3 3 1 2 2 6-1 6-1 4-4 6-4 3-4 3-6 1-8-2-6-5-3-4-2-4 0-4 0-8 4-6 5-5 4-2zM1711 900l4-1 6 2 6 4 0 31-6 3-2 1-4 0-4 0-2 0-4-2-4-4-3-4-2-6 0-8 2-6 3-4 2-2 4-3zM1104 994l11 0 10 1 12 4 10 5 10 6 8 8 28 30 11 10 5 4 7 4 5 2 8 2 8 1 8-1 32-6 14-2 22-1 14 0 14 2 48 10 10 1 8-1 6-2 6-3 10-7 10-9 24-24 8-7 8-6 8-4 10-4 8-2 10-1 10 1 10 3 10 4 8 5 8 6 8 7 23 26 10 10 11 8 4 3 6 2 8 1 10 0 12-2 26-5 14-2 18-2 16 1 0 286-16 1-18-2-18-3-36-9-8-1-8 0-6 1-6 3-6 3-6 4-12 10-22 23-110 0-22-24-10-10-12-8-6-3-6-1-8-1-8 0-48 8-14 1-14 0-12-1-12-2-14-2-30-8-8-1-8 0-6 1-6 1-7 4-7 4-10 9-24 24-10 9-91 0-11-10-21-24-11-10-10-8-6-3-6-2-8-1-10 0-10 1-28 6-12 2-16 1-16 0 0-287 18 0 18 2 14 3 27 6 11 2 10 1 8-1 10-4 6-4 6-4 11-10 23-24 14-11 7-5 7-3 8-3z"/>
<path fill="#ff4c00" d="M1012 724l198 0-2 10-2 8-3 8-4 8-5 8-5 7-6 7-6 6-8 6-8 5-8 5-8 3-16 4-10 2-8 0-10 0-8-2-10-2-8-3-8-3-8-4-8-6-6-5-6-6-6-6-5-8-5-8-4-8-3-8-2-8zM1413 724l201 0-1 10-2 10-3 10-3 8-4 8-5 8-7 8-6 7-6 5-8 6-8 5-10 5-8 3-10 2-10 2-10 0-10 0-10-2-10-2-8-3-10-5-7-5-8-6-7-6-6-6-6-8-5-8-4-8-3-8-3-10-2-10zM897 852l8-2 10 1 10 3 8 4 8 7 6 8 5 9 3 10 1 12-1 10-3 10-5 10-6 8-8 7-8 5-10 3-10 0-8-1 0-27 8 1 10 0 7-2 7-4 4-4 4-6 2-8 0-6-1-6-3-4-4-5-6-4-6-3-8-1-8 0-6 1zM1301 860l8-1 10 1 10 3 8 5 8 6 6 8 4 10 3 10 1 12-2 10-2 10-6 10-6 8-8 6-8 5-10 2-10 1-8-2-8-3-8-5-6-6-6-8-4-10-3-10-1-10 1-10 3-10 4-10 6-8 6-5 8-5zM1303 886l-6 1-6 3-4 4-4 5-2 5-1 6 0 6 2 6 3 6 4 4 4 3 6 2 6 2 8 0 7-1 7-2 4-3 4-3 4-6 2-4 1-4 0-6-1-5-1-5-3-3-4-4-4-3-4-2-5-2-5-1-6 0zM1704 868l5-1 6 0 6 0 6 1 0 27-8-2-10 0-8 2-6 3-6 6-4 6-1 8 0 6 2 6 3 6 4 4 6 4 8 2 6 1 8-1 6-1 0 27-4 1-10 1-8-2-8-2-8-5-8-7-5-8-5-8-2-10-2-10 1-10 2-10 4-10 6-8 7-8 8-5zM900 886l1-1 4-1 8 1 6 3 6 6 2 6 0 4 0 4-2 4-3 4-3 3-4 3-6 1-4 0-4-1-4-2 0-32zM1304 894l3-1 4 0 4 0 4 2 4 3 3 2 3 6 1 6-2 8-2 4-3 3-4 3-4 1-4 1-4 0-6-3-5-5-2-4-2-4 0-4 0-4 3-6 4-5zM1708 902l3-1 6 0 4 1 6 3 0 30-4 3-4 1-4 1-4-1-6-2-5-5-2-4-2-4 0-4 0-4 3-6 4-5zM1106 1000l9 0 10 1 10 3 10 5 8 6 9 7 28 30 11 10 6 5 6 3 6 3 8 2 8 0 8-1 32-7 14-2 12-1 12-1 14 1 16 2 14 3 26 7 8 1 10 1 8-1 10-4 12-7 11-10 25-24 8-7 6-4 8-4 8-3 8-2 10-1 10 1 8 2 10 4 8 5 7 5 7 7 24 25 11 10 11 8 4 3 6 2 8 2 10-1 12-2 28-6 14-2 18-2 16 0 0 282-18 0-18-2-16-3-38-10-8-1-8 0-6 1-6 2-6 3-8 6-11 10-27 26-94 0-27-28-11-10-12-8-6-3-6-2-8-1-8 1-48 9-16 1-14 0-12-1-12-1-16-4-30-8-8-1-8 0-6 0-6 2-8 4-6 4-12 10-26 25-8 7-6 4-71 0-9-6-8-7-23-25-11-10-6-5-6-4-10-4-8-2-10 1-10 1-26 6-14 3-18 1-16 0 0-281 18 0 18 2 16 3 26 7 12 3 10 0 8-1 10-4 12-8 11-10 23-23 14-11 8-5 8-3 8-3z"/>
<path fill="#ff5400" d="M1018 724l186 0-1 8-2 8-3 8-4 8-5 7-5 7-5 6-6 6-14 10-8 4-8 3-8 3-8 2-16 1-10 0-8-1-8-2-8-3-14-7-8-5-6-5-6-5-5-7-5-6-5-8-4-8-3-8-2-8zM1419 724l189 0-1 10-2 8-2 8-3 8-4 8-5 8-6 8-6 6-6 6-8 6-8 5-8 3-8 3-10 3-8 1-10 0-10 0-8-1-10-3-8-3-8-4-8-4-7-6-7-6-6-6-5-8-5-8-4-8-3-8-2-8-2-8zM900 852l9 0 10 1 8 3 8 5 8 7 5 8 4 10 2 10 1 10-1 10-4 10-5 9-6 8-8 6-8 4-10 3-8 0-8-1 0-24 8 1 10 0 8-3 6-3 6-6 3-6 2-6 0-8-1-6-4-6-4-5-6-4-6-3-8-1-8 0-6 1 0-23zM1308 860l9 1 10 2 8 5 8 6 6 8 5 8 3 10 1 10-1 10-2 10-4 9-6 9-6 6-8 5-8 4-10 1-10 0-8-2-8-4-8-7-6-7-5-10-3-10-1-10 1-10 2-10 4-10 6-8 6-6 8-5 8-3zM1303 884l-6 2-6 3-6 5-3 4-2 6-1 6 0 6 1 6 3 6 4 4 4 3 6 3 7 2 7 1 7-1 7-2 6-3 4-3 4-5 2-4 2-5 1-6-1-4-1-6-3-4-4-5-4-4-4-2-6-2-6-1-6-1zM1710 868l9 0 8 2 0 23-8-2-8 0-8 2-8 4-6 5-4 6-2 6 0 8 1 6 3 8 4 4 6 4 6 3 8 1 8 0 8-1 0 23-10 2-10 0-8-3-8-4-8-6-6-8-4-7-3-10-2-10 0-10 2-10 4-10 5-8 6-7 8-5 8-4zM901 886l2-1 4 0 6 0 6 4 4 3 2 4 1 4 1 4-1 4-1 4-4 5-6 4-8 2-6-2-4-2 0-31zM1306 894l5-1 4 1 4 1 4 3 4 4 2 6 1 4-1 4-2 6-6 6-2 1-6 2-6 0-4-1-4-3-2-3-3-4-1-4-1-6 2-6 3-4 2-2 4-3zM1709 902l4-1 4 0 6 2 4 3 0 28-2 2-4 2-6 1-4 0-4-2-4-2-2-3-3-4 0-2-2-6 1-4 1-4 3-4 2-3zM1107 1006l8 0 10 1 10 4 8 4 8 5 8 7 29 29 12 10 7 6 6 3 6 2 6 1 8 1 8-1 34-8 14-3 14-1 12 0 14 1 16 2 14 4 24 6 10 2 8 1 8-1 10-3 6-3 7-5 13-10 24-23 14-10 8-5 8-3 8-1 8-1 10 1 8 2 8 4 8 4 6 5 8 7 24 24 11 10 11 8 6 3 6 3 8 1 10-1 10-2 28-7 20-3 14-1 16 0 0 276-18 0-18-2-20-4-34-10-10-1-8 0-6 1-6 3-6 3-8 5-9 8-25 23-10 9-78 0-10-8-23-24-11-10-12-8-6-3-6-2-8-1-8 1-10 1-28 7-12 2-16 1-14 1-14-2-12-1-16-4-30-9-8-1-8 0-6 0-6 2-6 3-6 4-14 11-30 27-10 8-10 5-47 0-11-5-10-8-10-9-20-22-12-10-10-7-10-4-8-2-10 1-10 2-28 6-14 3-18 2-16 0 0-277 16 0 16 2 18 3 39 11 9 1 10-1 6-1 5-3 13-8 11-10 25-23 12-10 8-4 6-3 8-2z"/>
<path fill="#ff5c00" d="M1023 724l176 0-2 8-2 8-7 14-3 6-6 7-10 11-8 6-6 4-14 6-14 4-8 1-8 1-8-1-8-1-14-4-14-6-8-5-6-5-6-5-5-7-8-12-7-14-2-8zM1425 724l177 0 0 8-2 8-2 8-3 8-4 8-5 8-5 6-6 7-6 5-8 6-14 7-8 3-8 2-8 1-10 1-10-1-8-1-8-2-8-3-14-7-7-6-7-6-5-6-5-6-5-8-4-8-3-8-2-8-2-8zM897 854l8-1 10 0 10 3 8 5 6 5 7 8 5 10 2 10 1 10-1 10-3 10-5 10-6 7-8 7-8 4-8 2-10 1-8-2 0-21 8 2 10-1 8-2 6-4 6-6 4-7 2-8 0-8-2-6-4-6-4-5-6-4-6-2-8-2-8 0-6 2zM1302 862l9-1 10 2 8 2 8 5 7 6 6 8 4 10 3 10 0 10-2 12-3 10-5 8-6 7-8 6-8 4-8 2-10 0-8-1-8-3-8-6-6-6-6-8-4-10-2-9 0-10 1-10 3-10 4-7 6-8 6-5 8-5zM1305 882l-6 2-6 2-6 4-4 5-3 5-2 6 0 6 1 8 2 7 4 5 4 4 6 3 6 2 6 1 8 0 6-1 6-2 6-4 4-4 4-5 2-6 1-4 0-6-1-6-2-5-3-5-4-4-5-3-6-3-6-2-6 0zM1705 870l6-1 6 0 10 2 0 21-8-2-10 0-8 2-8 4-5 6-4 6-2 8 0 8 1 6 4 8 4 4 6 4 6 3 8 1 8 0 8-2 0 21-6 2-10 0-8-2-8-3-8-5-6-7-6-8-4-9-1-9-1-10 1-10 3-10 4-8 6-7 6-5 8-5zM902 886l3-1 4 0 6 2 5 3 5 6 1 4 0 4 0 4-2 4-5 6-6 3-4 1-4 0-4-1-4-2 0-30zM1307 894l6 0 4 1 4 2 5 5 3 6 0 4 0 4-3 6-5 5-4 3-4 1-4 0-4-1-2-1-4-3-4-6-2-6 0-6 3-6 5-5 2-2zM1711 902l2 0 4 0 6 2 4 3 0 26-4 3-4 2-6 0-4 0-4-2-5-6-3-6 0-6 1-4 2-4 3-4 2-2zM1106 1012l9 0 8 1 8 2 10 5 8 5 8 7 30 28 12 11 8 5 6 3 6 2 6 1 8 0 8-1 30-8 14-3 14-1 14-1 16 1 16 3 12 3 26 7 10 3 10 1 8-1 10-4 12-7 13-10 25-22 14-10 6-3 8-3 8-2 8-1 8 1 8 2 8 3 8 5 12 9 26 25 12 10 11 8 5 3 6 2 10 1 10-1 38-9 18-4 16-1 16 0 0 272-18 0-18-2-18-4-38-12-10-1-8 0-6 2-5 2-13 7-13 11-27 24-8 6-6 4-58 0-8-5-8-6-25-25-12-10-12-8-5-2-6-2-8-1-8 0-10 2-28 7-14 3-14 1-16 0-12-1-14-2-16-4-30-9-8-2-8 0-6 0-6 2-6 3-8 5-13 10-29 25-14 10-8 4-8 3-8 1-8 1-8-1-8-3-8-3-6-3-6-5-8-6-27-27-11-9-12-8-10-4-8-1-8 0-11 2-27 7-16 4-18 1-16 0 0-271 18 0 16 2 20 4 36 11 10 1 9-1 5-1 6-3 12-8 13-10 25-23 12-9 6-3 8-4 6-2z"/>
<path fill="#ff6400" d="M1029 724l164 0-3 14-4 8-3 6-8 12-10 10-12 8-7 4-7 3-14 4-14 1-14-1-14-4-7-3-7-3-12-9-10-10-8-12-4-6-3-8zM1430 724l167 0-1 8-2 8-4 14-4 8-4 6-5 6-6 7-6 5-6 4-6 4-8 4-8 3-8 2-8 1-8 0-8 0-8-1-8-2-8-3-7-4-7-4-6-4-6-5-5-7-5-6-4-6-4-8-4-14-2-8zM904 854l8 0 9 2 8 4 8 6 6 6 5 8 4 10 1 10 0 8-2 10-4 10-5 8-7 7-7 5-9 4-8 1-6 0-8-1 0-18 8 1 8 0 8-2 8-4 6-6 5-7 2-8 0-8-2-8-3-5-4-5-6-5-6-3-8-2-8 0-8 1 0-18zM1299 864l10-1 8 0 10 3 8 4 7 6 6 8 5 10 2 8 1 10-1 10-2 8-4 10-6 7-8 7-8 5-8 2-8 1-10-1-8-3-7-4-7-6-6-8-4-8-2-8-1-10 0-8 2-8 3-10 6-9 6-6 8-6zM1299 882l-6 3-6 4-5 5-3 5-2 7 0 6 0 6 2 7 3 5 5 6 6 4 6 2 6 2 8 0 8-1 6-3 6-3 4-4 4-5 3-6 1-6 0-6-1-6-2-6-3-4-4-5-4-3-6-3-6-2-6-1-8 1zM1703 872l6-1 6-1 6 1 6 1 0 18-8-2-10 0-8 3-8 4-6 6-4 7-2 8 0 6 0 4 2 6 4 6 4 5 6 5 6 2 8 2 8 0 8-2 0 18-4 1-8 1-10-1-7-3-7-4-8-6-5-8-5-8-2-8-1-10 0-8 1-8 4-10 6-9 6-6 7-5zM903 886l6-1 6 2 2 1 3 2 3 4 1 2 2 4 0 6-1 4-3 4-5 5-6 2-4 1-4-1-6-3 0-29 4-2zM1311 894l6 1 6 4 3 3 2 4 1 6-1 6-2 4-3 3-6 4-6 1-6-1-6-3-4-6-1-4-1-4 1-6 4-6 3-3 4-2zM1712 902l3 0 6 1 6 4 0 26-6 4-4 1-6 0-6-3-5-5-2-4-1-4 1-6 2-6 5-5 4-2zM1104 1018l9-1 8 1 10 3 8 4 8 5 8 6 31 28 13 11 12 7 6 2 6 1 8 1 8-2 32-8 14-3 14-2 16-1 16 2 16 2 12 4 27 8 9 2 8 1 8-1 10-3 13-7 13-10 26-22 14-9 8-4 6-2 8-2 6 0 8 1 8 2 8 3 6 4 12 9 27 24 12 10 12 8 5 3 6 2 8 1 10-1 10-2 26-8 20-4 18-2 16 0 0 268-18 0-18-2-10-2-12-3-36-12-10-2-8 1-10 3-13 8-13 10-30 25-8 6-8 4-7 3-32 0-11-5-10-6-10-8-24-23-13-10-11-6-10-4-8-1-8 1-10 2-26 7-12 3-16 2-18 0-12-1-14-2-16-4-32-11-8-1-8-1-6 1-6 2-6 3-7 4-13 10-30 25-14 9-8 4-8 2-6 2-8 0-8-1-6-2-8-3-8-5-14-10-26-25-12-9-12-8-10-4-8-1-10 1-36 10-18 4-16 1-16 0 0-267 18 0 16 2 20 4 28 10 10 2 10 2 8-1 10-4 12-7 14-11 24-21 12-9 12-6 6-2z"/>
<path fill="#ff6c00" d="M1034 724l154 0-4 14-6 12-7 10-10 10-12 8-12 6-12 3-14 2-14-2-12-3-12-5-12-8-10-10-7-11-6-12zM1436 724l155 0-2 14-4 14-4 7-4 6-5 7-5 5-11 9-13 7-14 4-8 1-8 1-8-1-8-1-14-4-12-7-6-4-6-5-6-7-4-5-7-13-4-14zM899 856l10-1 8 1 8 3 8 5 6 5 6 8 4 9 3 10 0 8-1 10-2 7-2 5-4 7-6 7-8 6-8 4-8 2-8 0-8-1 0-16 8 2 10-1 8-2 8-5 7-7 4-8 1-8 0-8-2-8-4-5-4-5-6-5-6-3-8-2-8 0-8 2 0-15zM1306 864l9 0 10 2 8 4 6 5 6 7 5 6 3 10 2 10 0 8-2 11-3 9-5 7-6 7-6 4-8 4-10 3-10-1-8-2-8-3-6-5-6-6-6-10-3-8-1-8 0-10 1-8 3-10 4-7 6-7 8-6 8-4zM1301 880l-6 2-6 3-5 5-4 6-3 6-1 6 0 8 1 6 3 6 4 6 5 5 6 3 6 2 8 2 8-1 6-1 6-3 6-4 4-5 3-4 3-6 1-6 0-8-1-6-3-6-3-4-4-4-6-5-6-2-8-2-8 0zM1709 872l8 0 10 2 0 15-8-2-10 0-8 2-8 4-6 6-4 7-3 8 0 4 0 6 2 8 3 6 6 7 6 4 6 3 8 1 8 0 8-2 0 16-8 1-9 0-9-2-8-4-6-4-6-6-6-10-2-8-2-8 0-10 1-8 3-10 4-7 6-7 8-6 8-4zM905 886l2 0 4 0 6 3 6 5 2 6 1 4-1 4-3 6-5 5-6 2-4 0-4 0-6-3 0-29 4-2zM1304 896l5-1 6 0 6 3 3 2 3 4 2 6 0 4-2 4 0 2-4 5-6 4-6 1-6-1-6-4-3-3-2-4-1-6 1-6 4-6 3-3zM1707 904l4-1 6-1 4 1 6 4 0 25-4 4-6 2-4 0-4-1-6-4-4-5-1-2 0-4 0-4 0-4 4-6zM1102 1024l9-1 8 0 8 2 10 4 8 5 10 8 31 26 13 11 6 4 6 3 6 2 6 1 6 0 8-1 30-9 18-4 14-2 16-1 16 2 16 3 12 3 26 9 10 2 8 1 8 0 10-3 12-7 14-10 28-22 12-7 8-4 6-2 6-2 6 0 8 0 8 2 6 2 8 4 14 10 27 23 13 11 12 7 10 4 8 1 10-1 36-11 20-4 18-2 16 0 0 264-18 0-20-3-20-5-36-12-10-2-8 1-10 3-12 7-14 10-28 22-14 9-8 4-8 3-8 1-6 0-8-1-6-2-6-2-8-5-12-9-26-22-13-10-11-7-10-4-8-1-8 1-8 1-26 8-16 4-16 2-18 0-14-1-16-3-16-5-30-10-8-2-6 0-6 1-6 2-12 6-12 8-32 25-14 10-8 3-6 2-6 2-8 0-8 0-6-2-8-3-8-4-14-10-28-25-12-10-12-7-10-3-8-1-10 1-36 11-18 4-16 1-16 0 0-263 18 0 18 2 18 5 38 12 10 2 8-1 10-3 12-8 11-8 27-22 12-8 12-7z"/>
<path fill="#ff7400" d="M1040 724l142 0-3 12-6 11-7 11-9 8-10 7-12 6-12 3-12 1-12-1-12-3-12-5-10-7-9-9-7-10-6-12zM1441 724l145 0-2 14-5 13-6 11-5 6-5 5-5 5-6 4-12 6-13 4-14 1-14-1-12-4-12-6-6-4-6-5-4-5-5-6-7-12-4-12zM897 858l10-1 8 1 9 2 7 4 6 5 6 7 5 8 2 10 1 10-1 10-3 10-4 7-6 7-7 6-8 4-7 2-10 1-8-2 0-12 10 2 8-1 8-3 8-4 7-7 4-8 2-8 0-6 0-4-2-8-3-6-6-6-6-4-6-3-8-2-8-1-8 2zM1303 866l8-1 8 1 10 4 7 4 5 5 6 8 4 8 3 9 0 10-1 9-2 7-2 4-4 7-6 7-6 5-7 3-9 3-8 0-8-1-10-4-6-4-6-6-6-8-4-10-1-6 0-10 1-10 2-7 4-8 6-7 6-5 8-4zM1301 878l-8 3-6 4-5 5-4 6-2 6-1 6 0 8 1 6 2 6 5 6 4 5 6 4 6 3 8 1 8 0 8-2 6-2 6-5 5-4 3-6 3-6 1-6 0-8-1-6-2-6-4-6-5-4-6-4-6-3-8-2-8 0zM1706 874l5-1 6 0 6 1 4 1 0 12-8-2-10 0-10 3-8 5-6 7-4 8-2 10 0 8 2 6 4 8 6 7 6 4 6 2 8 2 8 0 8-2 0 12-4 1-8 1-8-1-8-2-8-4-6-6-6-7-4-8-2-9-1-10 0-8 1-6 5-10 5-8 6-6 6-4 5-2zM900 888l5-2 4 0 4 1 6 4 5 5 1 6 0 4-1 4-4 6-5 3-6 2-4 0-4-1-4-3 0-27zM1304 896l3-1 4 0 6 1 2 1 4 3 3 4 1 2 1 6 0 4-2 4-5 6-6 3-6 1-6-2-5-4-3-6-1-6 1-6 4-6 2-2zM1708 904l5-1 6 0 4 2 4 3 0 24-4 3-6 2-6 0-6-3-2-2-3-4-2-6 0-4 1-4 3-6 3-2zM1098 1030l9-2 10 0 10 3 10 4 8 4 8 6 36 29 10 8 6 4 6 3 4 1 6 2 8 0 8-2 30-9 18-4 14-2 16-1 14 1 14 3 16 4 34 12 10 1 8 0 10-3 11-6 12-8 31-23 12-7 8-4 6-2 6-1 6-1 8 1 6 1 8 3 8 4 14 9 30 24 12 10 10 6 10 3 8 1 10-1 36-12 18-4 18-2 18 0 0 260-18 0-20-2-20-6-36-13-10-2-8 1-10 3-12 6-11 8-31 23-14 9-8 4-8 2-6 1-8 1-6-1-6-2-6-2-8-4-14-10-26-21-13-10-11-6-10-4-8-1-8 1-10 3-26 7-12 3-16 3-18 0-14-1-16-3-18-5-30-11-8-2-8 0-10 2-12 6-11 8-33 25-14 8-8 4-6 2-8 2-6 0-6 0-8-2-8-3-8-4-14-10-28-24-13-10-11-6-10-3-8-1-8 1-36 11-18 5-18 2-16-1 0-259 18 0 18 2 10 2 12 4 34 12 10 2 8-1 8-2 10-6 12-8 38-28 12-7z"/>
<path fill="#ff7c00" d="M1045 724l132 0-4 12-5 10-7 9-8 7-10 7-10 5-10 2-12 2-12-1-10-3-10-4-10-7-8-7-7-10-5-10zM1447 724l133 0-1 12-4 12-3 6-4 6-9 10-10 7-12 6-12 4-12 1-12-1-12-4-12-6-10-8-8-9-4-6-3-6-4-12zM897 860l10-1 8 1 9 2 7 4 6 5 6 8 4 8 2 8 1 9-1 9-2 7-4 8-6 8-7 6-8 4-7 2-10 1-8-2 0-8 10 2 10-1 6-2 4-2 7-6 4-4 3-4 3-8 2-10-1-10-2-6-4-6-4-4-6-5-6-4-8-2-10-1-8 2zM1303 868l8-1 8 1 7 2 8 4 5 5 6 7 4 8 3 8 1 10-1 10-3 9-3 7-7 8-5 4-7 4-8 2-8 1-10-1-6-2-7-4-7-6-6-7-4-9-2-8 0-8 0-8 2-7 4-9 6-8 5-4 6-4 4-2zM1301 876l-8 3-6 4-5 5-4 6-4 8 0 4-1 8 2 8 3 8 4 6 5 5 6 4 6 3 8 1 8 0 8-2 6-2 6-4 5-5 4-6 3-6 2-8 0-8-2-8-3-6-4-6-5-4-6-5-6-2-8-2-8 0zM1706 876l5-1 6 0 6 1 4 1 0 8-4-2-6 0-10 0-6 2-4 2-4 2-4 3-6 8-2 4-3 6-1 10 1 8 3 8 4 6 6 7 6 4 6 2 8 2 8 0 8-2 0 8-4 1-8 1-9-1-6-2-4-2-6-4-7-6-4-6-4-8-2-8 0-8 0-8 2-8 4-8 4-6 7-6 6-4 4-2zM901 888l2-1 4-1 6 1 6 4 4 5 2 6-1 6-3 6-2 2-4 3-6 2-4 0-4-2-4-2 0-27zM1305 896l2-1 4 0 6 1 2 1 4 3 2 2 2 4 1 6 0 4-2 4-5 6-6 3-6 0-6-1-4-3-2-3-3-6 0-6 2-6 3-4zM1709 904l4-1 6 0 4 2 4 3 0 24-2 2-4 2-6 1-4 0-4-2-4-3-4-6-1-6 1-6 4-6 2-2zM1102 1034l9-1 8 1 8 1 10 5 8 4 10 7 35 27 11 8 10 6 6 2 4 0 6 0 8-1 32-10 16-4 16-3 16 0 14 1 14 2 16 5 35 12 9 2 8 0 10-3 10-5 12-8 30-21 14-8 8-4 6-2 6-1 6-1 6 0 8 2 8 3 8 4 14 9 42 32 10 6 10 3 8 1 8-1 8-3 28-9 20-5 18-2 18 0 0 256-10 1-10-1-18-2-20-6-38-14-8-1-8 0-10 3-10 5-12 8-30 21-16 10-8 4-8 2-8 1-6 1-6-1-6-2-8-3-6-3-14-9-29-23-11-8-11-6-9-3-8 0-10 1-34 11-18 4-14 1-14 1-16-2-14-2-18-6-32-12-8-2-6 0-6 1-4 1-10 5-12 8-32 23-16 10-8 3-6 2-6 2-8 0-8 0-6-2-8-3-8-4-14-9-31-26-11-7-10-6-8-3-8-1-8 1-8 2-30 11-18 4-18 2-16 0 0-257 10 0 10 0 18 3 20 6 28 11 8 2 8 2 8-1 10-3 10-6 38-27 14-9 12-6z"/>
<path fill="#ff8700" d="M1051 724l120 0-3 10-5 9-6 8-8 8-8 5-10 5-10 2-10 1-10-1-10-2-10-5-8-5-7-7-7-8-5-10zM1452 724l123 0-2 12-4 10-6 11-8 9-10 7-10 5-10 3-12 1-12-1-10-3-10-5-10-8-8-9-5-10-4-10zM901 888l2-1 4 0 6 1 6 3 4 5 2 6-1 6-3 6-6 5-4 1-4 1-6-2-4-2 0-26zM1306 896l5-1 6 2 6 3 2 2 2 4 1 6-1 4-1 4-5 5-6 4-6 0-6-2-4-3-1-2-3-6-1-6 2-6 3-4 2-2zM1709 904l4-1 6 1 4 1 4 4 0 22-2 2-4 3-6 1-4 0-4-2-5-5-3-4-1-4 0-4 2-6 3-4 4-3zM1106 1038l7 0 8 1 8 2 10 4 8 5 10 6 34 26 10 8 10 5 4 1 6 1 6 0 8-1 30-11 16-4 16-3 16-1 16 1 14 3 16 5 36 13 10 2 8-1 8-2 10-5 38-25 18-11 8-3 6-2 6-2 6 0 8 0 6 2 8 2 8 4 18 12 40 29 10 6 8 2 8 0 8-1 36-13 18-4 18-3 10 0 10 1 0 253-10 0-10 0-10-1-10-2-20-6-36-14-8-2-8 0-8 2-10 5-44 30-16 9-8 3-8 3-8 1-6 0-6-1-6-1-6-3-8-3-16-10-40-29-10-6-8-2-8-1-8 1-10 3-26 9-16 4-16 2-14 0-16-1-16-3-16-6-32-12-8-2-6-1-4 1-6 1-10 5-11 7-33 23-16 9-6 3-8 3-8 1-6 1-6-1-8-1-8-3-8-4-18-12-38-29-10-6-8-3-8 0-8 1-8 2-30 11-18 4-18 2-16 0 0-253 18 0 10 1 10 2 20 6 28 11 8 3 8 1 8 0 8-2 10-6 38-26 16-10 14-7z"/>
<path fill="#ff9700" d="M1063 724l96 0-3 8-4 6-5 6-6 6-6 4-8 3-8 2-8 1-8 0-8-2-8-4-6-4-6-5-5-7-4-6zM1464 724l99 0-2 10-3 8-5 8-6 7-8 6-8 4-8 2-10 1-10-1-8-2-8-4-8-6-5-7-5-8-3-8zM903 888l2-1 4 0 6 2 5 3 3 4 0 2 1 6-1 6-4 5-2 2-4 2-4 1-4 0-4-1-4-3 0-25zM1308 896l5 0 6 2 5 4 3 6 0 4 0 4-3 6-5 4-6 2-6 0-6-3-4-5-2-6 0-6 3-6 5-4zM1711 904l4 0 4 0 4 2 4 3 0 22-4 3-4 2-6 0-6-1-5-5-3-6 0-6 2-6 4-5zM1107 1046l8 0 8 1 8 2 10 5 10 5 10 7 40 29 10 5 8 2 6 0 8-1 32-12 18-6 16-2 16-1 14 1 16 3 16 6 28 11 8 3 8 2 8-1 8-2 8-4 38-24 18-10 14-5 8-1 6-1 8 1 8 1 8 3 8 4 20 12 38 27 8 4 8 2 8 0 8-2 34-13 20-5 10-2 10-1 18 0 0 248-10 0-10 0-12-2-10-2-20-6-34-15-8-2-8 0-8 2-8 4-40 25-20 11-8 4-8 2-8 1-8 0-6 0-8-2-14-6-20-12-36-25-8-4-8-3-8 0-8 2-34 12-16 4-16 3-16 0-16-1-18-4-16-6-30-13-8-2-6-1-8 1-10 5-9 5-31 21-10 6-10 5-8 3-8 3-8 1-6 0-8 0-8-2-8-3-8-4-18-11-38-28-8-4-8-3-8 0-8 1-32 13-20 5-18 3-10 1-10-1 0-247 10-1 10 1 18 3 12 3 10 4 34 14 8 2 8 0 8-2 8-4 38-26 18-10 14-6 6-2z"/>
<path fill="#ffa700" d="M1078 724l66 0-5 8-4 5-4 3-4 2-6 3-10 1-10-1-6-2-4-3-4-3-4-4-3-5zM1478 724l71 0-1 6-3 7-3 5-5 5-6 5-5 2-7 2-6 1-6-1-6-2-6-2-6-5-4-5-4-6-2-6zM904 888l5 0 6 1 4 3 2 2 3 6 0 6-3 6-4 4-6 3-4 1-4-1-4-2-2-2 0-23 4-3zM1303 898l6-2 6 1 4 2 2 1 2 2 3 4 1 6-1 6-3 4-2 2-4 3-6 1-6-1-4-2-2-2-3-5-1-6 1-6 3-5zM1713 904l4 0 4 1 4 3 2 2 0 20-4 4-6 2-6 0-6-3-4-5-2-6 1-6 2-6 5-4zM1099 1054l10-1 10 0 10 2 10 4 10 5 12 7 42 30 8 4 8 2 6 0 8-2 28-12 18-6 18-3 18-1 16 1 16 4 16 5 34 15 8 2 8 0 6-2 8-3 34-21 20-11 16-6 8-1 6-1 8 0 10 2 8 3 10 4 10 5 10 6 36 25 8 5 8 2 6 0 8-2 34-14 10-4 10-2 10-2 10-1 10 0 10 0 0 242-12 0-10 0-10-1-10-2-12-4-10-4-34-16-8-2-6 0-6 1-8 4-40 25-20 11-10 3-8 2-8 2-8 0-8-1-8-2-8-3-8-4-20-12-32-22-8-4-6-2-8 0-8 1-34 13-18 6-16 2-16 1-18-2-18-5-16-6-28-13-8-3-6 0-8 1-10 4-36 23-10 6-12 6-10 4-8 2-8 1-8 1-8-1-8-2-8-3-8-4-10-6-10-6-36-26-10-5-8-1-6 0-6 2-32 14-18 5-10 2-10 1-10 1-10 0 0-243 10 0 10 1 10 1 10 2 10 3 10 4 36 16 8 2 6 0 7-2 8-4 31-21 18-10 14-7z"/>
<path fill="#ffb700" d="M1107 724l8 0-4 1zM1500 724l27 0-2 4-3 4-5 2-4 1-4-1-4-2-4-4zM906 888l5 0 6 3 5 5 1 6 0 6-2 4-2 2-4 3-6 2-6-1-4-1-2-2 0-23 4-2zM1304 898l5-1 6 0 4 2 2 2 2 2 2 3 2 6-2 6-2 3-2 3-4 2-6 2-6-1-4-3-2-2-2-4-1-6 1-6 2-4zM1708 906l5-1 6 0 4 2 4 4 0 18-2 3-4 2-6 2-6-1-4-3-2-2-2-4-1-6 1-6 2-4zM1096 1060l11-1 12 0 10 2 12 4 12 6 14 9 30 22 8 5 8 3 6 1 6 0 6-2 30-13 18-6 16-4 18-1 18 2 16 3 18 7 32 15 8 2 8 0 6-1 6-3 34-21 18-9 10-4 8-3 8-1 8-1 8 0 10 2 10 3 10 4 10 5 10 6 36 25 8 4 6 1 6 0 8-2 32-15 10-3 10-3 10-2 10-2 10 0 12 0 0 238-12 0-10 0-12-2-10-2-12-4-10-5-32-16-8-2-6 0-6 1-8 4-36 23-12 6-10 5-10 3-10 3-10 1-8 0-8-1-8-2-16-7-18-10-34-23-6-3-6-2-8-1-8 2-32 14-18 6-18 3-16 0-18-1-18-5-18-7-28-15-8-2-6-1-6 1-8 4-38 24-10 6-10 4-10 4-8 2-10 2-8 0-8-1-8-2-8-3-10-4-10-6-10-6-34-25-8-4-8-2-6 1-6 1-32 15-10 4-10 3-10 2-10 1-10 1-10-1 0-237 12-1 10 1 10 2 12 3 18 6 34 17 6 2 6 1 6-1 8-4 34-22 18-11 14-6z"/>
<path fill="#ffc700" d="M901 890l4-1 6 0 6 3 4 4 2 6-1 6-3 6-4 3-6 2-4 0-4-2-4-3 0-21zM1305 898l6-1 6 1 4 3 4 5 1 6-1 6-4 5-2 2-4 2-6 0-6-2-4-3-3-6 0-6 1-4 3-4 2-2zM1709 906l4-1 6 0 4 2 4 4 0 18-2 2-4 3-6 1-6-1-3-2-2-2-3-4-1-6 1-6 2-4 3-2zM1099 1064l12-1 10 1 12 3 12 4 12 6 12 8 36 26 8 4 6 0 6 0 6-2 28-14 18-7 18-3 18-2 18 2 18 4 18 7 26 14 6 3 8 2 6 0 6-2 6-3 30-19 20-10 10-4 10-3 8-2 8-1 10 1 10 2 10 3 10 4 12 6 10 6 32 23 8 4 6 1 6 0 6-1 34-17 10-4 10-3 10-2 10-2 10 0 12 1 0 233-12 0-10 0-12-2-10-3-12-4-10-4-26-14-8-4-6-2-6 0-6 1-6 3-36 23-10 5-12 6-10 4-10 2-10 1-10 0-8-1-8-2-10-3-10-5-18-10-30-21-6-3-6-2-6-1-8 2-6 2-28 13-18 6-18 4-16 0-18-2-18-4-18-8-30-16-6-2-6-1-6 1-8 3-34 23-12 7-12 5-10 4-10 2-8 1-10 0-8-1-8-2-10-4-10-4-10-6-10-6-32-24-8-4-6-1-6 1-6 2-30 15-10 4-10 3-10 2-12 2-10 1-10-1 0-233 12 0 10 0 10 2 12 3 10 3 10 5 32 17 6 2 6 1 6-1 8-4 30-20 18-11 16-7 8-2z"/>
<path fill="#ffd700" d="M902 890l5-1 6 1 4 2 2 2 3 4 1 6-2 6-3 4-5 3-4 1-4 0-4-1-4-3 0-21zM1306 898l5-1 6 2 5 3 1 2 2 4 1 4-2 6-3 5-2 1-4 2-6 1-6-2-4-4-2-5-1-6 3-6 2-3zM1710 906l5-1 4 1 4 2 4 4 0 16-4 4-4 2-6 1-6-2-4-4-2-5-1-6 1-4 2-3 2-2zM1099 1068l10-1 12 1 12 3 12 4 12 6 14 8 34 26 6 3 6 1 6 0 6-2 30-15 18-7 18-5 10-1 8 0 18 2 10 2 8 2 18 8 32 17 8 3 6-1 6-1 6-3 28-19 10-5 10-5 10-4 8-3 8-1 10-2 10 1 12 1 12 4 10 4 12 7 10 6 32 23 6 3 6 1 6 0 6-2 30-16 10-4 12-4 12-3 10-2 10 0 12 0 0 230-12 0-12-1-12-2-10-2-10-4-12-5-32-19-6-2-6 0-6 1-6 3-34 22-10 6-12 6-12 4-10 2-10 1-10 0-8-1-10-2-10-4-8-3-18-11-30-21-6-3-6-2-6-1-8 2-30 15-10 4-10 4-10 2-8 1-8 1-10 0-10 0-10-2-8-2-10-3-18-8-28-17-6-2-6-1-6 1-6 3-36 24-10 5-12 6-10 3-10 3-10 1-10 0-8-1-10-3-8-2-10-5-10-5-10-7-32-24-8-4-6-1-4 1-6 1-32 17-10 5-10 3-10 2-12 2-10 1-10-1 0-229 12-1 12 1 12 3 10 2 10 4 10 5 30 18 6 2 6 1 6-1 8-4 30-21 18-10 8-4 10-4z"/>
<path fill="#ffe700" d="M903 890l4-1 6 1 4 3 2 2 2 3 1 4 0 6-2 4-2 2-5 3-4 1-4 0-4-2-4-3 0-19 2-2zM1308 898l5 0 4 1 2 2 4 3 2 6 0 6-2 4-4 4-6 2-6 0-4-2-4-4-2-6 0-6 2-4 4-4zM1711 906l4 0 4 0 4 2 4 5 0 14-4 5-4 2-4 0-6-1-4-3-2-2-2-4 0-6 2-6 4-4zM1096 1072l13-1 12 0 12 3 14 5 12 6 12 7 10 8 24 19 6 3 6 1 6 0 6-3 28-15 18-8 8-2 10-2 10-2 10 0 8 0 10 2 10 2 8 2 10 4 10 5 30 18 8 2 6 0 4-1 6-3 32-21 10-5 10-5 10-4 10-2 10-2 10 0 10 1 10 2 10 3 10 4 10 6 10 6 32 24 8 4 6 0 4 0 6-3 30-17 10-4 10-4 10-3 12-2 12 0 12 0 0 226-12 0-12 0-12-2-10-3-10-4-12-6-32-19-6-3-4 0-6 1-6 2-34 23-18 10-10 4-8 3-8 2-8 1-10 0-12-1-10-3-12-4-12-6-10-5-34-25-6-3-6-1-6 0-6 2-30 16-10 4-10 4-10 2-12 2-10 1-10-1-16-2-8-2-10-4-16-8-28-17-6-3-6-1-6 1-6 3-34 23-10 6-12 6-12 4-10 2-10 2-10-1-8-1-10-2-10-3-10-5-10-6-10-6-26-21-6-4-6-3-6-1-4 1-6 2-30 17-10 5-10 3-10 3-12 2-10 1-12-1 0-225 12-1 10 1 12 2 12 3 10 4 12 6 30 19 6 2 4 1 6-1 6-3 30-22 16-9 16-7z"/>
<path fill="#fff700" d="M904 890l5 0 6 2 4 3 3 5 0 6-2 4-3 4-3 2-3 1-4 1-4-1-4-2-2-2 0-19 3-2zM1310 898l5 1 6 3 3 4 1 6-1 6-3 4-4 3-6 1-6-1-4-3-3-4-1-6 1-6 3-4 4-3zM1713 906l4 0 4 1 4 3 2 3 0 14-4 4-2 2-4 1-6 0-4-2-4-4-2-6 0-6 2-4 4-4zM1102 1074l11 0 12 1 14 4 12 4 10 6 12 7 32 26 6 3 6 2 4 0 6-3 30-17 8-4 10-4 8-2 10-3 10-1 10 0 10 0 10 2 10 2 8 3 10 4 10 5 24 16 6 3 6 2 6 0 4-1 6-4 30-20 10-6 10-4 10-4 12-3 10-2 10 0 12 1 10 2 10 3 10 5 10 5 10 7 32 24 6 3 6 1 4-1 6-2 30-19 10-4 10-4 12-3 12-2 12-1 10 1 0 222-12 1-14-1-12-3-12-3-10-5-12-6-28-19-6-2-4-1-6 1-6 3-32 23-18 10-10 4-10 3-16 3-12 0-10-1-12-3-12-4-10-5-12-7-34-25-6-3-4-1-6 1-6 2-30 17-10 4-10 4-10 3-10 1-10 1-12 0-16-3-8-2-10-4-8-4-10-5-28-19-6-2-4-1-6 2-6 3-32 23-10 6-12 5-10 4-12 3-10 1-12 0-10-1-10-2-10-4-10-5-10-5-10-7-30-24-6-3-4-1-4 0-6 2-30 18-12 6-10 4-10 2-12 2-10 1-12 0 0-223 12 0 10 1 12 2 12 3 10 4 12 6 30 20 6 3 4 0 6-1 6-3 28-21 10-6 10-6 10-4 10-4 8-1z"/>
<path fill="#efff00" d="M905 890l4 0 6 2 4 4 2 4 0 6-1 4-3 4-6 3-4 0-4 0-4-3-2-2 0-17 4-3zM1304 900l5-1 6 0 5 3 3 4 2 4-1 6-3 5-4 3-4 2-6-1-3-1-2-2-3-4-2-4 1-6 2-4zM1708 908l5-2 6 1 6 3 2 4 0 12-2 3-4 3-4 2-6-1-5-3-3-4-2-4 1-6 2-4zM1093 1078l12-1 14 0 12 2 14 4 12 6 14 8 10 8 20 17 6 5 6 3 4 0 4 0 6-2 28-18 10-5 8-4 10-3 10-2 10-1 10-1 10 1 8 1 10 2 10 3 10 5 10 5 24 16 6 4 6 2 6 0 4-1 4-2 30-21 10-6 10-5 12-5 10-3 10-1 12-1 10 1 10 2 12 4 10 4 10 6 12 8 30 24 6 3 6 0 4-1 4-1 30-20 10-5 10-4 12-3 12-2 12-1 12 1 0 218-14 1-12-1-12-2-12-4-10-4-12-7-28-20-6-3-4 0-6 1-6 3-28 21-10 6-8 4-10 5-10 3-8 2-10 2-12 1-12-2-12-2-12-5-12-6-10-6-10-7-24-19-6-2-4-1-4 0-6 2-32 19-10 5-10 3-10 3-12 2-10 0-12 0-8-1-10-3-10-3-8-3-16-9-26-19-6-2-4-1-4 0-6 3-34 25-10 6-12 6-12 4-10 3-12 1-10 0-10-1-10-3-10-3-12-6-10-6-10-7-28-24-6-3-4-1-4 0-6 3-30 19-12 6-10 4-10 3-12 2-12 1-10-1 0-219 12-1 12 1 12 3 12 4 10 4 10 5 30 21 6 3 4 1 6-1 6-3 26-21 16-10 16-8 8-2z"/>
<path fill="#cfff00" d="M902 892l3-1 6 0 3 1 3 2 3 4 1 4-1 6-3 5-4 2-4 2-4-1-4-1-4-4 0-15zM1306 900l5-1 5 1 3 2 2 2 2 4 1 6-1 4-4 4-4 2-6 1-4-1-4-3-2-5-1-6 1-4 4-4zM1709 908l4-1 6 1 5 2 3 4 0 2 0 8-2 4-4 3-4 2-6 0-4-3-3-4-2-4 1-6 2-5zM1094 1082l13-1 14 0 16 4 12 4 12 6 14 10 10 8 16 15 6 5 6 3 4 1 4-1 6-3 24-17 16-9 10-4 8-2 10-3 10-1 12 0 12 1 12 3 10 4 10 4 10 6 30 22 6 2 4 0 4-1 6-3 24-18 12-8 10-5 10-5 14-4 12-2 12 0 12 1 10 2 10 3 10 4 8 5 8 5 10 7 26 23 6 3 4 1 4-1 6-3 28-20 10-5 10-5 12-4 12-2 14-1 12 0 0 214-12 0-14-1-12-2-12-4-8-4-10-5-12-9-20-16-6-3-4-1-4 1-6 2-28 23-10 7-10 5-10 5-10 3-8 2-10 2-14 0-12-1-12-3-14-6-12-6-10-7-30-24-6-4-4 0-4 0-6 2-28 19-12 7-10 4-12 3-10 2-12 1-12-1-10-2-10-2-10-4-8-4-16-10-24-19-6-3-4 0-4 0-6 3-30 24-10 7-12 6-12 5-12 3-12 2-12 0-10-2-10-2-10-4-12-5-10-6-10-8-28-25-6-3-4-1-4 0-6 3-20 15-10 6-10 6-10 4-12 4-10 2-12 1-12-1 0-213 14-1 12 2 12 2 12 5 12 5 10 7 28 21 4 2 4 1 4 0 6-3 26-22 8-6 10-6 8-4 10-4 10-3z"/>
<path fill="#afff00" d="M903 892l4-1 4 1 5 2 3 4 1 4-1 6-2 4-4 3-4 1-4 0-4-2-4-4 0-13 3-3zM1308 900l5 0 4 2 4 4 2 4 0 4-2 5-4 4-4 1-5 0-4-2-4-4-1-4 0-4 1-4 3-4zM1711 908l2 0 4 0 4 1 4 3 2 4 0 6-1 4-3 3-4 3-6 0-4-1-3-3-3-4 0-6 1-4 3-4zM1105 1084l14 0 12 3 14 4 10 4 12 8 12 9 28 26 6 3 4 1 4-1 4-2 26-20 16-9 8-3 10-4 10-2 10-1 12 0 12 1 10 2 12 4 12 6 10 6 28 23 6 2 4 0 4-1 6-3 20-16 12-9 10-6 12-6 12-4 14-3 12 0 14 1 10 2 8 3 10 4 10 5 10 6 8 7 26 24 6 3 4 1 4-1 4-2 28-21 10-6 12-6 12-4 12-3 12-1 14 1 0 208-14 1-12-1-14-3-12-5-8-4-10-6-10-7-20-17-6-4-4-1-4 0-6 3-28 24-8 6-10 6-10 5-10 3-8 3-10 1-14 1-12-1-14-3-12-5-12-6-12-8-10-8-20-18-6-4-4 0-4 0-6 3-20 15-10 6-10 6-10 4-12 3-12 2-12 1-10-1-8-1-10-2-10-4-10-5-8-4-8-6-24-21-6-3-4-1-4 1-6 3-20 18-10 8-10 6-12 7-12 4-12 4-14 1-12 0-10-1-10-3-10-4-12-6-10-6-10-8-26-25-6-4-4-1-4 1-4 2-30 23-10 6-10 5-12 4-12 2-12 1-12 0 0-209 12 0 14 1 12 3 12 4 10 5 12 8 28 24 4 2 4 1 4-1 6-3 28-25 8-6 10-6 12-5 10-4 12-3z"/>
<path fill="#8fff00" d="M905 892l4 0 4 1 4 3 2 4 1 2-1 4-1 4-3 3-4 2-4 0-4-1-3-2-3-3 1-11 3-4zM1305 902l4-1 4 0 4 1 4 4 1 4 0 4-1 4-4 4-4 2-2 0-4-1-4-2-2-3-2-4 0-4 2-4zM1709 910l4-2 4 1 4 1 4 4 2 4-1 4-1 4-4 4-4 1-4 1-4-2-4-4-1-4-1-4 2-4zM1094 1088l15-1 14 1 8 1 8 2 14 6 10 6 12 8 12 11 18 19 6 4 4 2 4-1 6-3 24-19 10-7 8-4 8-4 10-3 10-3 10-1 12 0 12 1 12 3 12 5 10 5 10 6 28 24 4 2 4 1 4 0 6-3 22-19 10-8 12-7 12-6 14-5 12-2 14 0 14 1 10 2 10 4 8 3 10 6 8 5 10 8 24 24 6 4 4 1 4-1 4-2 28-23 10-7 10-5 12-4 14-3 12-2 14 1 0 204-14 1-12-2-14-3-12-4-10-5-10-7-10-8-18-17-6-4-4-1-4 1-6 3-26 24-8 6-10 6-8 4-10 4-12 4-10 2-14 0-14-1-12-3-14-6-12-6-10-7-10-9-20-19-6-3-4-1-4 1-4 2-30 22-10 6-10 5-12 4-12 2-12 1-12-1-10-1-10-3-8-3-10-5-8-5-9-7-25-22-4-3-4 0-4 0-4 2-6 5-16 16-10 8-10 7-12 6-12 5-12 3-14 2-12-1-10-1-12-3-10-4-12-7-10-7-9-8-25-25-6-4-4 0-4 0-4 2-28 24-10 6-12 6-12 4-12 3-12 1-12 0 0-205 12 0 14 1 12 3 12 5 8 4 10 6 12 9 18 17 6 4 4 1 4 0 6-4 24-22 8-7 10-7 10-5 8-4 8-2z"/>
<path fill="#70ff00" d="M902 894l5-1 4 0 4 3 3 2 1 4 0 4-2 4-4 3-4 2-4-1-4-2-2-2-2-3 0-6 2-4zM1306 902l5-1 4 1 3 2 3 4 1 4-1 4-3 4-3 2-4 1-4 0-4-3-2-4-1-4 1-4 2-4zM1710 910l5-1 4 1 4 2 2 4 1 4-1 4-3 4-3 2-4 1-4-1-4-2-2-4-1-4 1-4 2-4zM1097 1090l14-1 14 1 14 4 14 6 12 7 10 7 11 10 21 23 4 3 4 1 4 0 4-2 27-23 9-7 8-4 8-4 10-3 10-3 10-1 12 0 12 1 12 3 12 5 8 4 10 6 11 9 17 16 6 4 4 1 4 0 6-4 20-18 10-8 12-8 12-6 14-5 14-3 14 0 14 1 12 3 10 4 8 4 10 6 8 6 9 7 23 25 6 4 4 0 4-1 4-2 20-18 10-8 10-7 8-4 12-4 14-3 12-2 14 1 0 200-14 1-14-2-12-3-14-5-8-5-10-6-10-9-20-19-4-3-4-1-4 0-6 4-24 23-8 7-10 7-10 5-10 4-10 3-10 2-14 1-14-1-14-3-14-6-12-7-12-8-8-8-16-16-6-5-4-2-4-1-4 1-4 2-28 22-10 7-12 6-12 4-12 2-12 1-12-1-10-2-10-2-10-4-8-4-10-7-8-6-24-24-4-2-4-1-4 1-4 2-6 5-15 16-9 7-10 8-12 7-14 5-12 4-12 1-14 0-12-2-10-3-10-4-12-6-10-7-10-9-8-9-14-15-4-4-4-2-4-1-4 1-4 2-20 19-10 8-8 5-10 5-12 5-12 3-14 1-12 0 0-201 12 0 14 1 14 4 12 5 10 6 8 5 11 9 19 19 4 3 4 1 4-1 6-3 24-25 8-6 10-7 10-6 10-4 10-3z"/>
<path fill="#50ff00" d="M904 894l3-1 4 1 4 2 2 4 1 2 0 4-2 4-3 2-4 2-4-1-4-2-2-3-1-4 0-4 3-4zM1309 902l4 0 4 2 2 2 2 4 0 4-2 4-2 2-4 2-4 0-4-1-2-3-2-4 0-4 2-4 2-2zM1712 910l5 0 4 2 2 2 2 4 0 4-2 4-2 2-4 2-4 0-4-1-2-3-2-4 0-4 2-4 2-3zM1097 1092l14-1 8 1 8 1 14 4 14 6 10 6 12 9 12 12 18 21 4 3 4 2 4-1 4-2 25-23 9-7 8-5 10-5 10-3 10-3 10-1 12 0 14 1 12 4 12 5 10 6 8 5 11 9 17 18 4 2 4 1 4 0 4-2 6-5 16-16 10-9 12-8 12-6 14-5 14-2 16-1 14 2 10 2 10 4 8 4 10 6 10 7 8 8 24 26 4 3 4 1 4-1 4-3 18-18 10-8 10-7 10-6 12-4 14-4 12-1 14 1 0 196-14 1-14-2-12-3-14-5-10-6-10-7-9-9-19-20-4-2-4-2-4 1-4 2-26 27-10 8-8 5-10 6-10 4-10 3-10 2-14 1-14-1-14-4-14-5-10-6-12-8-11-11-19-19-6-4-4-1-4 1-4 2-19 17-7 6-12 8-10 5-12 4-12 3-14 1-12-1-10-1-10-3-10-4-10-6-8-5-8-7-24-25-4-2-4-1-4 0-6 5-18 19-12 11-10 7-10 5-14 6-12 3-12 2-14 0-12-2-10-3-12-5-12-7-10-8-8-7-26-29-4-3-4-1-4 2-4 2-18 18-10 9-8 5-10 6-14 6-12 3-12 1-14 0 0-197 14 0 14 2 14 4 12 5 10 6 8 6 10 9 18 19 4 3 4 2 4-1 4-3 25-26 9-8 10-7 10-5 10-5 10-3z"/>
<path fill="#30ff00" d="M902 896l3-1 4-1 4 2 3 2 1 4 0 2-1 4-3 3-2 1-4 1-3-1-3-2-2-4 0-4 0-2zM1306 904l3-1 4 0 4 2 2 3 1 4-1 4-3 4-3 1-4 0-3-1-3-2-1-4 0-4 1-3zM1710 912l3-1 4 0 3 1 3 4 1 4-1 4-1 2-2 2-3 1-4 0-2-1-4-3-1-3 0-4 1-3zM1097 1094l14-1 8 1 8 1 14 4 14 6 12 8 10 8 12 11 18 23 4 4 4 1 4-1 4-2 23-23 9-8 8-5 10-5 10-4 10-3 12-1 12-1 14 2 12 4 12 5 10 6 8 5 10 9 18 19 4 3 4 1 4 0 6-4 20-21 12-10 10-7 12-6 14-5 14-3 16 0 14 2 10 2 10 4 10 5 10 7 10 7 8 8 22 27 4 2 4 1 4-1 4-3 17-18 11-10 10-7 10-6 12-5 14-3 14-1 12 1 0 192-14 1-14-1-14-4-12-5-10-6-10-8-10-10-18-20-4-3-4-1-4 1-4 2-24 26-8 8-10 7-8 5-10 5-10 3-12 3-16 1-14-1-14-4-14-5-12-7-10-8-11-10-19-21-6-5-4 0-4 1-4 2-17 17-11 9-10 7-10 5-12 4-12 3-12 1-14 0-10-2-12-4-10-4-10-6-8-6-8-7-22-25-4-3-4-1-4 1-4 3-19 21-11 11-10 7-10 6-12 6-14 4-14 2-14 0-12-2-10-3-12-5-12-7-10-8-9-9-7-8-18-21-4-3-4-1-4 1-4 3-15 17-11 10-10 7-10 6-12 5-12 4-14 1-14 0 0-193 14 0 14 1 14 4 12 6 10 6 9 7 11 10 16 20 4 3 4 1 4-1 4-2 24-27 8-8 10-7 10-6 10-5 10-3z"/>
<path fill="#10ff00" d="M905 896l2 0 4 0 2 2 2 2 1 4 0 2-3 4-2 1-4 1-2-1-2-1-2-2-1-4 0-2 1-3zM1309 904l4 0 2 1 2 2 2 3 0 2-1 4-2 2-3 2-4 0-2-1-2-1-2-4 0-4 1-2 1-2zM1713 912l4 0 2 1 2 2 2 3 0 2-1 4-2 2-3 2-2 0-4-1-2-1-2-4 0-4 1-2 1-2zM1095 1096l8-1 8 0 8 0 8 2 14 4 14 6 12 8 12 9 11 12 17 24 4 3 4 2 4-1 4-3 15-17 8-8 9-8 8-5 10-5 10-4 10-3 10-2 14 0 14 2 12 3 12 6 10 6 9 6 11 10 16 19 4 3 4 2 4-1 4-3 21-22 11-10 10-7 12-7 14-5 16-4 16 0 14 1 10 3 12 5 10 5 10 7 8 7 9 9 21 27 4 3 2 1 4-1 4-3 18-19 8-9 10-8 12-7 12-5 14-4 14-1 14 0 0 190-14 0-14-1-14-4-14-6-10-6-10-9-9-10-17-20-4-3-4-2-4 1-4 3-23 27-8 8-9 7-10 6-10 5-10 3-12 3-8 1-8 0-8 0-8-1-14-4-14-6-12-8-10-8-10-10-20-23-4-3-4 0-4 1-4 3-18 18-10 9-8 6-10 5-12 5-14 4-12 1-14-1-10-2-12-3-10-5-10-6-8-7-9-8-21-25-4-3-4-2-4 2-4 3-17 21-12 12-11 8-10 6-14 7-14 4-14 1-14 0-12-2-12-4-12-6-10-7-8-7-9-8-8-10-15-20-4-4-4-2-4 1-4 3-16 18-10 10-10 8-12 7-14 6-12 3-12 2-14-1 0-190 14 0 14 2 14 4 12 6 10 6 10 8 11 11 15 20 4 3 4 2 4-1 4-3 22-27 8-8 10-8 10-6 10-5 10-4z"/>
<path fill="#00ff10" d="M905 898l2-1 2 1 2 0 2 2 1 4 0 2-3 3-4 1-4-2-1-4 0-2 1-2zM1309 906l4 0 3 2 1 2 0 2 0 2-1 2-3 2-4 0-3-2-1-2 0-2 0-3zM1713 914l2 0 3 0 2 2 1 2 0 2 0 2-1 2-3 2-4 0-3-2-1-2 0-2 0-3zM1093 1098l8-1 8 0 8 0 8 1 8 2 10 3 14 7 12 8 12 10 11 14 15 22 4 4 2 1 2 1 2-1 4-2 23-27 9-8 8-6 10-6 10-4 10-3 12-2 14-1 12 2 12 3 14 6 10 6 10 8 11 11 15 19 4 3 4 2 4-1 4-3 19-22 13-12 10-8 12-6 8-4 8-2 14-3 16-1 8 1 8 1 10 3 12 6 10 5 10 8 8 7 9 9 19 27 4 4 2 1 2 0 2-1 4-3 18-22 10-10 10-8 10-6 14-6 12-3 14-2 14 1 0 186-14 1-14-2-14-3-14-7-12-8-10-9-9-10-17-22-4-3-2-1-2 1-4 2-4 4-11 15-8 10-9 9-10 8-10 6-10 5-10 4-12 2-8 1-8 1-14-2-14-3-8-3-8-4-12-7-10-9-11-12-19-23-4-3-4-1-4 2-4 3-16 18-10 9-10 8-10 6-12 5-14 3-14 1-14-1-10-2-12-4-10-5-10-6-8-8-8-8-22-27-4-3-2 0-4 1-4 4-16 21-11 12-11 9-10 7-14 6-14 5-14 2-14-1-12-2-12-3-12-6-12-8-10-8-8-8-8-11-16-22-4-4-2-1-2 0-2 1-4 3-16 21-10 10-10 8-10 7-14 6-12 3-14 2-14 0 0-187 8 0 8 0 14 2 14 5 12 6 10 6 10 9 10 11 16 22 4 3 2 1 2 0 4-3 4-4 19-25 9-10 8-7 10-6 10-6 10-4z"/>
<path fill="#00ff30" d="M1107 1098l14 1 14 3 14 5 14 8 10 8 10 10 10 13 16 25 4 3 2 1 2-1 4-3 15-19 8-10 7-6 8-7 10-6 12-6 12-3 10-2 14 0 14 2 12 3 14 7 10 7 9 7 10 10 17 23 4 3 2 0 4-1 4-3 18-22 12-13 12-9 12-7 8-3 8-3 14-3 8 0 8 0 8 0 8 2 12 4 10 4 10 6 10 8 7 6 8 8 9 12 12 20 4 4 2 1 2 0 4-3 17-22 11-12 10-9 10-7 14-6 14-4 14-2 14 1 0 184-8 1-8-1-14-1-14-5-14-7-11-8-11-10-9-12-15-21-4-3-2-1-2 0-4 3-15 22-7 8-8 9-10 8-10 7-10 6-10 4-12 3-8 1-8 0-8 0-8-1-8-2-8-2-8-3-8-5-12-8-10-9-11-12-17-23-4-3-2-1-4 1-4 3-18 21-11 10-9 7-10 6-14 6-12 3-14 1-14-1-12-3-10-3-10-5-10-7-8-8-8-8-6-8-16-22-4-3-2-1-2 1-4 3-17 24-10 12-11 10-10 7-14 7-8 3-8 2-8 2-8 0-14 0-14-3-12-5-12-6-12-9-8-7-7-9-9-12-14-21-4-5-2 0-2 0-4 3-17 23-9 10-10 9-10 7-14 7-14 4-14 2-14 0 0-185 14 0 8 1 8 1 14 5 14 7 11 8 10 10 8 10 15 23 4 4 2 0 2 0 4-3 17-24 10-12 8-8 9-8 12-7 12-5 14-4z"/>
<path fill="#00ff50" d="M1099 1100l8 0 8 0 10 1 8 2 8 2 8 4 14 8 12 9 9 10 10 14 15 26 2 3 2 1 2 1 2-1 4-4 14-20 8-10 7-8 8-6 9-7 12-5 12-4 12-3 14 0 14 2 14 4 14 8 10 7 10 8 10 12 14 21 4 3 2 1 2-1 2-1 4-3 16-22 12-13 12-10 12-7 8-4 8-3 8-2 8-1 8-1 8 0 8 1 8 1 12 4 12 6 10 6 10 8 8 8 8 9 8 12 10 19 4 5 2 1 2 0 4-4 16-23 10-12 10-10 10-7 14-7 14-4 8-2 8 0 14 0 0 182-8 0-8 0-8-1-8-1-14-5-14-7-12-10-9-10-9-12-14-22-4-4-2-1-2 0-4 4-13 21-9 12-7 8-9 8-10 8-10 5-12 5-12 3-16 2-8 0-8-1-8-2-8-3-8-3-8-4-12-8-12-12-10-12-16-23-4-4-2-1-2 0-2 1-4 4-15 19-11 12-10 8-10 6-14 7-14 3-14 2-14-1-12-3-12-5-10-5-10-7-7-7-7-8-9-12-13-21-4-4-2 0-2 0-4 4-14 23-11 14-11 10-12 9-14 7-14 5-8 2-8 1-8 0-8-1-14-3-14-5-12-7-10-8-10-9-8-11-8-12-12-21-4-5-2-1-2 0-4 4-14 23-10 12-10 9-10 8-14 8-14 4-14 3-8 0-8-1 0-181 8-1 8 0 14 3 8 2 8 3 8 5 6 3 11 9 10 10 8 12 15 25 2 2 2 1 2 0 4-5 13-21 10-14 7-8 9-8 11-8 12-7 12-4z"/>
<path fill="#00ff70" d="M1095 1102l8-1 8 0 8 0 10 2 8 2 10 4 8 4 8 6 12 10 12 13 9 14 15 30 2 2 2 0 2-1 2-3 11-18 8-12 8-10 9-8 10-8 12-6 12-5 12-2 8-1 8 0 14 2 14 5 14 7 11 8 10 10 10 12 13 21 4 4 2 1 2 0 4-4 17-24 12-14 11-10 14-9 8-4 8-3 8-2 8-1 8-1 10 1 8 0 8 2 12 4 12 6 12 9 10 8 7 8 8 12 8 14 9 19 2 3 2 1 2-1 2-2 16-26 8-12 9-10 11-9 6-4 8-4 8-3 8-3 8-1 8-1 8 0 8 1 0 178-8 1-8 0-8-1-8-1-8-3-8-3-8-4-6-4-12-10-10-13-11-16-11-21-2-3-2-1-2 1-2 2-13 24-8 12-7 9-8 8-10 8-12 8-12 5-12 4-10 1-8 1-10-1-8-1-8-2-8-3-8-3-8-5-12-9-12-12-10-14-14-21-4-5-2-1-2 0-4 3-15 22-11 12-10 9-12 8-14 6-14 4-8 1-8 0-14-1-12-3-12-5-10-6-11-9-7-8-8-10-9-14-11-20-2-3-2 0-2 1-2 3-13 23-9 14-12 13-12 10-14 8-10 4-8 3-8 1-10 1-8 0-8 0-14-4-14-5-12-8-12-10-10-11-8-12-9-16-9-19-2-4-2-2-2 1-2 3-11 21-10 16-11 12-10 9-6 4-8 4-8 4-8 3-8 1-8 1-8 1-8-1 0-179 8-1 8 1 8 1 8 2 8 2 8 4 6 3 8 5 12 11 11 13 9 14 10 23 2 3 2 2 2-1 2-3 11-22 9-14 7-10 9-10 12-10 12-7 12-5z"/>
<path fill="#00ff8f" d="M1106 1102l9 0 8 1 10 2 8 3 8 3 8 5 8 6 8 6 6 7 6 7 6 8 6 10 5 12 4 10 4 12 1 6-1 6-1 6-6 14-6 12-11 16-6 8-6 6-13 11-8 5-8 4-8 3-8 2-8 2-8 0-10 0-8-1-10-2-8-3-8-4-8-4-8-6-6-5-7-8-6-8-10-16-6-12-4-10-2-8-2-10 1-6 2-8 3-10 6-12 4-8 7-10 6-8 6-6 12-11 8-5 8-4 8-3 8-2 8-2zM897 1106l8 0 8 0 10 1 8 2 8 3 8 4 8 5 7 5 7 7 7 7 6 8 5 8 5 10 4 10 3 8 1 8 0 6-1 8-6 16-4 8-7 10-5 8-6 6-12 11-6 4-8 5-14 6-8 2-8 1-10 0-8 0zM1501 1114l8 0 10 0 10 1 8 2 8 3 8 3 8 5 8 6 8 6 6 6 6 8 6 8 9 18 5 10 3 12 1 4 0 6-1 6-1 6-8 18-5 8-6 10-10 12-11 11-12 8-14 7-10 3-8 2-10 1-10 0-10-1-10-2-10-4-8-4-8-4-8-6-7-7-5-6-7-8-5-8-16-27-2-3-2-1-2 0-4 4-13 21-11 14-12 11-12 9-8 4-8 3-14 3-8 1-8 0-8-1-8-1-12-4-10-4-10-7-10-8-8-10-7-10-7-12-6-14-5-14 0-6 0-4 2-8 3-6 8-16 10-16 6-7 6-6 12-9 8-5 8-4 8-2 10-3 8 0 10 0 10 1 8 2 8 2 10 5 8 5 6 4 6 6 8 7 10 14 14 25 2 2 2 1 2 0 4-5 13-21 9-12 8-10 8-7 10-7 12-6 12-5zM1712 1124l7 0 8 1 0 176-8 1-8 0-8-1-8-2-8-2-8-3-8-5-7-5-7-5-6-7-7-8-5-8-5-8-6-12-3-10-3-8-1-6 1-6 2-8 8-18 10-16 7-8 5-6 7-6 6-5 6-3 8-5 14-4 8-2z"/>
<path fill="#00ffaf" d="M1098 1104l9-1 10 1 10 1 8 2 8 3 8 4 8 5 8 6 7 5 7 8 6 8 5 8 6 12 4 10 3 8 2 10 0 8 0 6-2 8-4 10-5 10-6 10-5 8-6 7-6 7-7 6-7 5-8 5-14 6-8 2-10 2-8 0-10 0-8-2-10-2-8-3-8-4-8-5-7-6-7-6-7-8-6-8-4-8-6-10-4-10-2-8-2-10-1-8 1-6 2-8 2-8 5-10 5-10 5-8 6-8 6-7 6-5 6-5 8-5 8-5 8-3 8-2zM897 1108l0-1 14 0 8 1 10 2 10 3 8 4 6 4 8 6 6 5 7 8 10 14 4 8 5 10 3 10 1 8 0 8 0 6-5 14-4 10-4 8-6 8-6 8-6 6-7 6-8 5-6 4-14 6-8 2-8 1-8 0-10 0zM1496 1116l9-1 8 0 10 0 8 2 8 2 8 3 8 4 8 5 8 5 6 6 6 6 6 8 6 8 5 10 4 10 3 8 2 6 1 8 0 10-1 6-3 8-4 10-5 10-5 8-6 8-11 12-12 9-14 8-10 4-10 3-12 1-10 0-10-1-10-2-10-4-10-5-8-5-9-8-8-8-6-8-6-8-5-10-14-29-2-2-2 1-2 3-8 17-8 14-8 10-10 10-12 10-12 7-12 4-14 3-14 0-14-2-14-5-12-6-11-9-10-10-10-14-7-14-4-10-2-8-2-12 1-6 1-6 5-14 4-8 6-10 6-8 6-6 6-6 7-6 8-5 8-4 10-3 8-2 10-1 10 0 10 1 10 2 8 3 10 5 8 6 8 6 6 6 7 8 9 14 5 10 9 21 2 1 2-1 12-23 8-14 7-10 9-10 10-9 12-7 14-6zM1703 1126l12-1 12 1 0 174-8 1-8 0-10-1-8-2-8-3-8-4-8-4-6-5-7-6-5-6-7-8-5-8-4-8-5-10-3-10-2-8 0-6 0-6 1-6 3-8 3-8 5-10 5-8 6-8 6-6 6-6 7-5 6-4 8-4 8-3z"/>
<path fill="#00ffcf" d="M1093 1106l8-1 10-1 10 1 8 2 10 3 8 3 8 4 8 6 8 7 7 6 6 8 5 8 5 8 4 10 4 12 2 8 1 8 0 8-2 8-2 8-4 10-4 8-5 8-6 8-11 12-6 5-8 6-8 4-8 4-8 3-8 2-10 1-8 0-8-1-8-1-8-2-10-4-8-4-8-6-8-7-6-6-6-8-6-8-4-8-5-10-3-10-3-10 0-8 0-8 1-6 2-8 3-10 4-8 4-8 6-8 5-7 6-6 6-6 8-6 8-4 8-4 8-3zM898 1108l9 0 8 0 8 1 8 3 8 3 8 3 8 6 6 4 7 6 5 6 6 8 5 8 5 10 3 8 2 8 1 8 0 8 0 6-2 8-3 8-4 8-4 8-5 8-7 8-6 6-7 6-8 5-6 4-14 5-8 2-8 1-8 0-8 0 0-173zM1504 1116l9 0 8 0 8 1 10 3 8 3 8 4 8 5 8 6 7 6 5 6 6 8 5 8 5 8 4 10 3 10 2 10 0 8-1 8-2 8-3 8-3 8-6 10-5 8-7 8-6 6-8 7-6 4-8 5-8 4-8 2-8 2-8 2-10 0-8 0-10-2-8-2-8-3-8-4-8-5-8-6-6-6-7-8-6-8-6-10-6-12-3-10-3-8-1-8 0-6 1-8 6-16 4-8 6-10 6-8 7-8 12-11 8-6 6-3 8-4 8-3 8-2zM1302 1118l9 0 8 0 8 1 8 2 8 3 8 3 8 5 6 4 7 6 7 8 6 8 5 8 4 8 5 10 3 10 2 8 0 6-1 6-3 8-3 8-9 16-5 8-7 8-6 6-7 6-12 7-14 6-8 2-8 2-8 0-8 0-8-1-8-2-8-3-8-4-8-5-6-4-6-6-6-6-6-8-5-8-4-8-4-10-3-10-1-6-1-8 1-6 2-8 2-8 8-16 10-14 5-6 6-6 6-4 8-6 8-4 8-3 8-2zM1698 1128l7-1 8-1 14 1 0 172-8 1-8 0-8-1-8-2-8-2-8-4-8-4-6-5-7-6-6-6-5-6-5-8-6-10-3-8-3-8-2-8-1-8 0-6 1-6 2-8 3-8 4-8 4-8 6-8 10-12 12-9 6-4 8-4 8-3z"/>
<path fill="#00ffef" d="M1099 1106l8 0 8 0 10 1 8 2 8 3 8 3 8 5 8 6 8 6 7 8 6 8 4 8 4 8 4 10 3 8 2 10 0 8 0 8-2 8-3 8-4 10-4 8-5 8-6 8-7 8-7 6-8 6-6 3-8 4-8 3-8 2-8 1-8 1-10-1-10-1-8-2-8-3-8-5-8-5-6-4-6-6-6-7-6-8-5-8-4-8-4-10-3-10-1-8-1-8 1-8 1-8 3-10 4-10 5-8 9-14 7-8 6-5 6-5 8-5 8-4 8-3 8-2zM897 1110l0-1 2 0 12 0 8 1 10 2 8 3 8 4 8 4 6 5 7 6 6 6 6 8 5 8 3 8 4 10 3 14 1 8-1 8-2 8-2 8-4 8-4 8-4 6-6 8-12 11-6 5-8 4-8 4-8 3-14 3-8 0-10 0zM1497 1118l8-1 10 0 8 0 10 2 8 3 8 3 8 4 8 6 7 5 7 7 6 7 6 8 5 10 4 8 3 8 2 10 1 8 0 8-1 8-2 8-3 8-4 8-5 10-6 8-5 6-7 7-6 5-8 5-8 5-8 3-8 3-8 2-10 1-8 0-8-1-8-1-8-2-10-4-8-4-8-6-8-6-6-7-6-8-6-8-4-8-5-10-4-10-2-10-1-8 1-6 1-6 2-8 4-10 5-10 5-8 6-8 5-6 7-7 6-4 8-6 14-6 8-3zM1296 1120l9-1 8 0 10 0 8 2 8 2 8 3 8 5 6 4 7 5 6 6 7 8 6 8 8 16 3 10 2 8 1 8 0 6-3 12-4 10-3 8-5 8-6 8-11 12-8 6-6 4-6 3-8 4-14 4-8 1-10 0-8-1-8-1-8-3-8-3-6-3-8-5-6-6-6-6-7-8-4-6-6-10-3-8-3-8-2-8-1-8 0-6 1-8 2-8 3-8 4-8 9-14 11-12 6-6 6-4 8-5 6-2 8-3zM1704 1128l11-1 12 1 0 170-8 1-8 0-10-2-8-1-8-3-8-4-6-3-7-6-7-6-5-6-6-8-5-8-5-8-3-10-3-8-1-6 0-8 0-6 1-6 2-8 3-8 4-8 5-8 6-8 5-6 6-6 12-9 8-4 6-3 8-2z"/>
<path fill="#00efff" d="M1093 1108l8-1 10 0 10 0 8 2 8 2 10 4 8 5 6 4 8 6 6 6 7 8 5 8 5 10 4 8 2 8 3 10 0 8 0 8-1 8-2 8-3 10-4 8-4 8-6 8-6 7-6 6-6 5-8 6-8 4-8 4-8 2-8 2-10 1-8 0-8-1-8-2-8-2-8-3-8-5-8-5-7-7-6-6-6-8-5-8-5-8-3-8-3-8-2-10-1-14 0-8 2-8 6-16 4-8 6-10 6-8 6-6 12-10 8-5 8-4 8-3zM898 1110l7 0 8 0 8 1 8 2 8 3 8 4 8 5 6 4 6 6 7 7 4 6 5 8 4 8 3 8 2 8 2 8 0 8 0 6-2 8-2 8-3 8-4 8-5 8-5 6-5 6-7 6-6 4-8 5-14 6-8 3-8 1-10 0-8 0zM1504 1118l9 0 8 0 8 1 8 2 10 4 8 4 6 4 8 6 6 5 7 8 6 8 5 8 4 8 4 10 2 8 1 10 1 8-1 8-2 8-3 10-4 8-4 8-4 6-7 8-5 6-8 7-6 4-8 5-8 3-10 4-8 2-8 1-10 0-8-1-10-2-8-2-8-3-8-5-7-5-7-5-6-6-6-7-5-8-5-8-5-10-4-10-2-8-1-8 0-6 1-8 2-8 3-8 3-8 6-10 5-8 7-8 6-6 7-6 6-4 8-5 8-3 8-3zM1302 1120l9-1 8 1 8 1 8 2 14 5 8 5 6 4 8 7 6 6 6 8 4 6 4 8 3 8 3 8 2 10 0 8 0 6-2 8-2 8-4 8-4 8-10 14-12 12-8 6-6 3-14 6-8 2-8 2-8 0-8 0-8-1-8-2-8-3-8-4-6-4-8-6-6-5-6-8-5-6-4-8-4-8-3-8-3-8-1-8 0-8 0-6 2-8 2-8 3-8 4-8 4-6 6-8 11-11 6-4 8-5 14-7 8-2zM1698 1130l7-1 8-1 14 1 0 168-8 1-8 0-8-1-8-2-8-2-8-4-8-5-6-4-6-6-6-6-5-6-5-8-4-8-4-8-2-8-2-8-1-6 0-8 3-14 5-14 4-8 6-8 10-12 11-9 6-4 8-4 8-3z"/>
<path fill="#00cfff" d="M1099 1108l8-1 8 1 10 1 8 2 8 3 8 3 8 5 8 6 7 6 5 6 6 8 5 8 4 8 4 10 3 10 1 8 0 8 0 8-2 8-2 8-3 8-4 8-5 8-6 8-7 8-6 5-6 5-8 5-8 4-8 3-8 2-8 1-8 1-10 0-8-2-8-2-8-3-8-4-8-5-6-4-6-6-7-8-10-14-4-8-4-10-2-8-2-10 0-8 0-8 2-8 2-8 3-8 4-8 4-8 6-8 6-7 6-6 8-6 6-4 8-4 8-3 8-2zM897 1112l0-1 12 0 8 0 10 2 8 3 8 4 6 3 8 6 7 5 7 8 6 8 3 6 4 8 3 8 2 8 1 8 1 8-1 6-1 8-2 8-3 8-4 8-6 8-4 6-11 11-6 4-8 5-8 4-8 3-14 3-8 0-10 0zM1497 1120l8-1 8 0 8 0 10 2 8 2 10 4 8 4 6 4 8 7 6 6 6 6 5 8 5 8 4 8 3 10 2 10 1 8 0 8-1 8-2 8-3 10-3 6-5 8-5 8-11 12-6 5-8 6-8 5-8 3-8 3-8 2-10 1-8 0-8-1-8-1-8-2-8-3-8-5-8-5-7-6-6-6-5-6-6-8-5-8-4-8-4-10-2-10-1-8 0-8 1-8 2-8 3-8 3-8 5-8 5-8 11-12 7-6 7-5 8-5 8-3 8-3zM1296 1122l7-1 10-1 8 1 8 1 8 2 8 4 8 4 6 4 6 4 7 6 5 6 6 8 7 14 4 10 2 8 2 8 0 6-1 8-1 6-3 8-3 8-4 8-6 8-10 12-7 6-6 4-8 5-6 3-8 3-8 2-8 1-8 0-8 0-8-2-8-2-8-3-8-4-6-4-6-5-6-6-5-6-6-8-4-8-4-8-3-8-2-8-1-6 0-8 1-8 1-8 3-8 3-8 9-14 10-12 6-5 6-5 6-3 8-4 8-3zM1703 1130l12-1 12 1 0 166-8 1-8 0-10-1-8-2-14-6-8-5-6-4-11-11-6-8-4-6-4-8-4-8-2-8-2-8 0-8 0-8 3-14 5-14 5-8 5-8 6-6 5-6 12-9 8-4 6-3 8-2z"/>
<path fill="#00afff" d="M1093 1110l8-1 8-1 10 1 8 1 8 2 8 3 8 4 8 6 7 5 7 7 6 7 6 8 4 8 4 8 3 10 2 8 1 8 0 8-1 8-1 8-3 8-3 8-4 8-5 8-7 8-5 6-7 6-8 5-6 4-8 4-8 3-8 2-10 1-8 0-8-1-8-1-8-2-8-4-8-4-7-5-7-5-6-7-5-6-6-8-5-8-3-8-4-10-2-8-1-14 1-8 1-8 3-10 3-8 4-8 5-8 6-8 5-6 7-6 7-5 6-4 8-4 8-3zM897 1112l8 0 8 0 8 1 8 2 6 2 8 4 8 4 6 5 11 10 5 6 5 8 4 8 3 8 3 8 1 8 1 8-1 8-3 14-3 10-3 6-5 8-5 6-5 6-6 6-8 6-6 3-8 4-6 3-8 2-8 1-10 0-8 0zM1503 1120l8 0 8 0 10 1 8 2 8 3 8 4 8 5 6 5 6 5 7 7 6 8 5 8 4 8 3 10 3 8 1 8 0 8 0 8-2 8-2 8-3 8-4 8-5 8-6 8-6 6-7 6-6 5-8 5-8 4-8 2-8 2-8 2-10 0-8 0-8-2-8-2-8-3-8-3-8-5-6-5-6-6-6-6-6-8-5-8-4-8-4-10-2-8-2-10 0-8 1-6 1-8 2-8 5-10 4-8 5-8 5-6 5-6 7-6 6-5 8-5 8-4 8-3 8-2zM1301 1122l6-1 8 0 8 1 8 2 8 2 8 3 8 5 6 4 7 6 6 6 5 6 5 8 4 8 4 8 2 8 2 8 0 6 0 8-1 8-2 8-3 8-4 8-5 8-5 6-5 6-7 6-7 5-6 4-8 4-6 2-14 4-8 0-8 0-8-1-8-2-14-5-8-4-6-5-6-5-6-6-9-13-4-8-4-8-2-8-2-8-1-8 1-8 0-6 2-8 3-8 4-8 3-6 6-8 5-6 6-6 6-5 6-4 6-3 8-4 8-2zM1711 1130l8 0 8 1 0 164-6 1-8 0-8-1-8-1-8-3-6-2-8-4-8-6-6-5-6-6-5-6-4-6-4-8-4-8-2-8-2-8-1-8 0-8 1-8 4-14 4-8 4-8 9-12 6-6 6-5 12-8 8-4 8-2 8-2z"/>
<path fill="#008fff" d="M1098 1110l9-1 8 0 10 2 8 2 8 3 8 3 6 4 8 5 6 6 6 7 6 7 5 8 4 8 3 8 3 10 1 8 1 8 0 8-2 8-2 8-3 10-3 6-5 8-6 8-6 7-6 6-6 5-8 5-8 4-8 3-8 2-8 2-8 0-8 0-8-1-8-2-8-3-8-4-8-4-6-5-6-5-7-8-6-8-3-6-4-8-4-10-3-8-1-8-1-8 1-8 1-10 2-8 3-8 4-8 9-14 5-6 6-6 6-5 8-6 8-4 8-3 8-3zM897 1114l0-1 12-1 8 1 10 2 8 3 8 4 6 3 8 6 6 5 6 6 5 8 4 6 4 8 3 8 2 8 1 8 0 14-1 8-2 8-6 14-5 8-5 6-5 6-7 6-12 8-6 3-8 4-8 2-8 1-8 1-10-1zM1310 1122l7 0 8 1 8 2 8 3 8 3 6 4 6 4 6 5 6 6 5 6 5 8 4 8 4 8 2 8 2 8 0 8 0 8-1 6-2 8-3 8-8 14-6 8-5 6-7 6-6 4-8 5-6 3-14 5-8 1-8 0-8 0-8-1-14-4-8-4-6-3-7-6-6-6-6-6-6-8-7-14-5-14-1-8-1-8 1-8 1-8 5-14 7-14 6-8 5-6 6-5 6-5 6-3 8-4 14-5 8-1zM1496 1122l7-1 10-1 10 1 8 2 8 2 8 3 6 3 8 5 8 6 6 6 6 6 5 8 5 8 4 8 3 10 2 8 1 8 0 8-1 8-1 8-3 8-3 8-4 8-6 8-10 12-7 6-7 5-8 5-8 3-8 3-8 2-8 1-10 0-8 0-8-2-8-2-8-3-8-5-8-5-7-6-6-6-5-6-5-8-6-10-3-8-3-8-2-8-1-8 0-8 1-8 2-8 3-8 4-8 8-14 10-12 7-6 7-5 6-4 8-4 8-3zM1702 1132l13-1 12 1 0 162-8 1-8 0-8-1-8-2-8-2-6-3-8-4-6-5-6-5-6-6-9-13-4-8-3-8-4-14-1-8 0-8 2-14 6-14 3-6 5-8 4-6 6-6 7-6 6-5 8-4 6-3 8-2z"/>
<path fill="#0070ff" d="M1107 1110l8 0 8 1 8 2 8 3 8 3 8 5 6 4 7 6 6 6 6 8 5 8 4 8 3 8 2 8 2 10 1 8-1 8-1 8-2 8-3 8-3 8-5 8-6 8-5 6-6 6-8 6-8 5-6 3-8 3-8 2-8 2-8 0-8 0-8-1-8-2-8-3-8-3-6-4-8-6-6-5-6-7-6-8-5-8-3-8-3-8-3-8-1-8-1-8 1-8 1-8 2-8 2-8 4-8 4-8 6-8 5-6 6-6 7-6 8-5 6-3 8-3 8-3 8-1zM897 1114l4-1 10 0 8 1 8 2 8 3 6 2 8 5 6 4 7 6 5 6 5 6 5 8 4 8 3 8 3 14 0 8 0 8-3 14-3 8-4 8-4 8-5 6-11 11-12 8-8 4-6 3-8 2-8 1-10 1-8-1zM1501 1122l8-1 8 0 8 1 8 2 8 3 8 3 6 3 8 6 7 5 6 6 5 6 6 8 4 8 3 8 3 8 2 10 1 8 0 8-1 8-2 8-3 8-3 8-5 8-5 8-6 6-6 6-6 5-8 6-8 4-8 3-8 2-8 2-10 0-8 0-8-1-8-2-8-3-8-3-6-4-8-5-8-8-5-6-6-8-4-6-4-8-4-10-2-8-1-8-1-8 1-8 1-8 3-8 3-8 4-8 5-8 4-6 6-6 6-6 12-9 8-4 8-3 8-2zM1299 1124l8-1 8 0 8 1 8 1 8 3 8 3 12 8 7 5 6 6 5 6 5 8 7 14 2 8 2 8 1 8 0 6-1 8-2 8-3 8-3 8-5 8-4 6-6 6-6 6-7 5-6 4-8 4-6 3-14 3-8 1-8-1-14-2-8-2-8-4-12-7-6-5-6-6-9-13-4-8-4-8-2-8-2-8 0-8 0-8 2-14 6-14 4-8 4-6 5-6 6-6 6-5 6-4 6-4 8-3zM1707 1132l10 0 10 1 0 160-2 1-8 0-8 0-8-1-8-2-6-2-8-4-6-3-7-6-6-6-6-6-4-6-5-8-4-8-3-8-3-14 0-8 1-8 3-14 6-14 3-6 6-8 5-6 6-6 12-8 6-3 8-3 8-3z"/>
<path fill="#0050ff" d="M1096 1112l9-1 8 0 8 1 8 1 8 3 8 3 8 5 6 4 8 6 6 6 5 6 5 8 4 8 4 8 2 8 2 10 1 8 0 8-1 8-2 8-3 8-3 8-5 8-5 8-6 7-6 6-6 5-8 5-8 4-6 3-8 2-8 2-8 0-8 0-8-1-8-1-8-3-8-3-8-5-6-4-7-7-6-6-4-6-5-8-5-8-3-8-2-8-2-8-1-8 0-8 1-8 2-8 2-8 4-8 4-8 5-8 5-6 6-6 6-5 8-6 8-4 6-3 8-2zM901 1114l8 0 8 1 14 3 8 3 6 4 6 3 8 6 6 6 5 6 4 6 4 8 4 8 2 8 2 14 0 14-2 8-2 8-3 8-5 8-9 12-6 6-6 5-12 8-8 3-8 3-14 2-14-1 0-159zM1510 1122l7 0 8 1 8 2 8 2 8 4 8 4 8 6 6 5 6 7 6 7 8 14 3 8 3 8 1 8 1 8 0 8-1 8-2 8-3 10-4 8-5 8-9 12-7 6-7 6-6 4-8 4-8 3-8 2-8 2-8 1-8 0-8-1-8-2-8-3-8-3-6-3-8-6-7-6-5-6-7-8-8-14-3-8-3-8-2-10 0-8 0-8 1-8 2-8 3-8 4-8 4-8 6-8 5-5 7-7 7-5 6-4 8-4 8-3 8-2zM1304 1124l7 0 8 0 8 1 8 2 6 2 8 4 6 4 8 5 10 11 6 7 3 6 4 8 3 8 2 8 2 8 0 8 0 6-2 8-2 8-6 14-5 8-5 6-6 6-6 5-12 8-8 4-6 2-8 2-8 2-14 0-8-2-8-2-6-2-8-4-6-3-8-7-5-5-5-6-5-6-4-8-6-14-2-8-1-8 0-14 1-8 2-8 7-14 5-8 4-6 5-5 6-6 12-8 8-4 6-2 8-2zM1700 1134l13-1 14 0 0 160-8 0-8 0-14-2-8-2-8-4-12-7-6-5-6-6-5-7-4-6-4-8-3-8-4-14-1-14 2-14 5-14 4-8 3-6 5-6 5-6 11-9 6-4 8-4 8-3z"/>
<path fill="#0030ff" d="M1102 1112l7 0 8 0 8 1 8 2 8 3 8 4 8 5 6 5 6 6 6 6 6 8 3 6 4 8 3 8 2 8 2 10 0 8-1 8-1 8-2 8-3 8-4 8-5 8-5 6-11 11-8 7-6 3-8 4-8 3-8 2-8 1-8 1-8-1-8-1-8-2-14-6-8-5-6-5-6-5-5-7-5-6-5-8-4-8-3-10-2-8-1-8-1-8 1-8 1-8 2-8 3-8 4-8 4-8 5-6 6-7 6-6 6-4 8-5 8-4 8-3zM897 1116l0-1 12 0 8 0 10 3 6 2 8 3 8 5 6 4 6 6 6 6 8 12 4 8 3 8 3 14 1 8-1 8-3 14-5 14-5 8-4 6-6 6-6 6-7 5-6 4-6 3-8 3-14 3-8 0-10 0zM1498 1124l9-1 8 0 8 1 8 1 8 2 8 4 8 4 6 4 7 5 6 6 5 6 6 8 4 8 4 8 2 8 2 8 1 8 0 8-1 8-1 8-3 8-3 8-4 8-6 8-5 6-6 6-6 5-8 6-8 4-6 3-8 2-8 2-8 1-8 0-8-1-8-1-8-3-8-3-8-4-6-5-7-6-6-6-5-6-6-8-4-8-3-8-3-8-2-8 0-14 0-8 2-8 2-8 4-8 4-8 5-8 5-6 6-6 7-6 7-5 8-4 6-3 8-2zM1297 1126l6-1 8 0 8 0 8 1 8 2 8 3 8 4 6 4 6 5 6 6 6 6 4 6 3 6 4 8 3 8 2 8 1 14-2 14-2 8-3 8-5 8-3 6-5 6-6 6-7 6-6 4-6 4-8 3-14 4-8 1-8 0-14-2-8-2-6-3-8-4-6-4-6-5-6-5-5-7-4-6-3-6-4-8-3-8-2-8 0-8 0-8 0-8 2-6 5-14 4-8 4-6 8-10 6-6 6-4 12-7 8-3zM1704 1134l11-1 12 1 0 158-14 1-8-1-8-2-6-1-8-4-8-4-6-4-6-5-5-6-9-12-7-14-2-8-2-8-1-14 2-14 2-8 3-8 5-8 4-6 5-6 5-6 6-5 6-4 6-3 8-4 8-2z"/>
<path fill="#0010ff" d="M1094 1114l7-1 8 0 8 0 8 1 8 2 8 3 8 4 6 4 8 5 6 6 5 6 6 8 4 8 4 8 3 8 2 8 1 8 0 8-1 8-1 8-2 8-3 8-4 8-5 8-5 6-6 7-6 5-8 6-6 3-8 4-8 3-8 2-8 1-8 0-8-1-8-1-8-3-8-3-8-5-6-4-7-6-6-6-6-8-4-6-6-14-3-8-2-8-1-8 0-8 1-8 1-8 2-8 4-8 3-6 4-8 5-6 5-6 6-6 6-4 6-4 8-4 8-4zM897 1116l6 0 8 0 8 1 8 1 8 3 6 3 6 3 7 5 5 5 6 6 6 7 3 6 7 14 2 8 1 8 1 8-1 8-2 14-3 8-3 6-4 6-5 8-6 6-6 6-12 8-6 3-8 3-14 3-10 1-8-1zM1503 1124l8 0 8 0 8 1 8 2 8 3 8 4 8 5 6 4 12 11 6 8 3 6 4 8 3 8 2 8 2 8 0 8 0 8-1 8-2 8-3 8-4 8-5 8-4 6-6 6-6 6-13 9-14 7-8 2-10 2-8 0-8 0-8-1-8-2-8-3-8-4-8-5-6-4-6-6-6-7-4-6-5-8-4-8-3-8-2-8-1-8-1-8 1-8 3-14 3-8 4-8 4-8 5-7 6-6 6-6 6-4 8-5 14-6 8-3zM1301 1126l6-1 8 0 8 1 8 2 6 2 8 3 8 4 6 5 6 5 6 5 6 8 4 6 6 14 3 14 1 8 0 8-3 14-5 14-5 8-4 6-5 6-6 6-12 9-6 3-8 3-14 4-8 0-8 0-14-2-6-2-8-3-8-5-6-4-6-5-5-6-4-6-5-8-7-14-3-14-1-8 0-8 3-14 5-14 5-8 4-6 5-6 5-5 12-9 6-3 8-3zM1710 1134l9 0 8 1 0 156-6 1-8 0-8-1-14-3-6-2-8-5-6-4-6-4-6-6-5-7-7-12-4-8-3-8-2-14 0-8 1-8 3-14 2-6 4-8 4-6 5-7 6-6 6-5 12-8 6-2 8-3 8-2z"/>
<path fill="#1000ff" d="M1098 1114l7-1 8 0 8 1 8 2 8 2 8 4 6 3 8 6 7 5 6 6 4 6 5 8 5 8 3 8 2 8 1 8 1 8 0 8-1 8-2 8-2 8-4 8-4 8-6 8-5 6-6 6-8 6-6 4-6 3-8 3-8 2-8 2-8 0-8 0-8-1-8-2-14-6-6-3-8-6-6-6-5-6-5-6-5-8-4-8-3-8-2-8-2-8 0-8 0-8 1-8 2-8 3-8 3-8 5-8 4-6 5-6 6-6 7-6 6-3 6-4 8-3 8-2zM905 1116l14 1 14 4 8 4 6 3 6 5 7 5 5 6 5 6 5 8 2 6 5 14 1 8 1 8-1 14-4 14-4 8-3 6-5 6-6 7-6 6-6 4-6 4-8 4-6 2-8 2-14 2-10-1 0-155zM1307 1126l8 0 8 1 14 3 8 4 6 3 6 4 6 5 6 6 5 6 8 12 3 8 3 8 2 14 0 8 0 6-2 6-2 8-6 14-5 8-5 6-6 6-7 6-12 7-6 3-8 2-14 2-8 1-8-1-14-4-8-3-6-3-6-5-6-5-6-6-5-6-3-6-5-8-5-14-2-14 0-8 1-8 4-14 2-6 5-8 8-12 6-6 6-5 12-7 6-3 8-3zM1496 1126l7-1 8-1 8 1 8 1 8 2 8 3 6 2 8 5 6 4 7 6 10 12 4 6 4 8 4 10 3 8 1 8 0 8 0 8-1 8-2 8-3 8-7 14-6 8-6 6-6 6-6 4-8 5-6 3-8 3-8 3-8 1-8 0-8 0-8-1-8-2-8-3-8-4-6-3-6-5-6-5-6-6-5-8-5-8-4-8-3-8-2-8-1-8-1-8 1-8 1-8 5-14 3-8 5-8 5-6 5-6 6-6 6-5 6-3 8-4 8-4zM1701 1136l12-1 14 1 0 154-8 1-8 0-14-2-6-2-8-3-12-7-6-5-5-6-9-12-5-8-2-6-4-14-1-14 0-8 2-8 2-8 3-8 7-12 5-6 5-6 6-5 6-4 12-7z"/>
<path fill="#3000ff" d="M1104 1114l7 0 8 1 8 1 8 2 8 3 6 4 8 5 6 5 11 11 5 8 5 8 3 8 3 8 1 8 1 8 0 14-1 8-3 8-3 8-4 8-5 8-5 6-6 7-6 5-8 6-6 3-8 3-8 3-14 2-8 0-8 0-8-2-8-2-8-4-6-3-6-4-7-6-6-6-5-6-4-6-4-8-4-8-2-8-2-8-1-8 0-8 0-8 2-8 2-8 6-14 5-8 5-6 5-6 6-6 6-4 8-5 8-4 8-2 8-2zM897 1118l0-1 2 0 10 0 8 1 8 1 6 2 8 4 8 4 6 5 6 5 5 5 9 12 4 8 2 6 2 8 2 8 0 14-2 14-6 14-4 8-5 6-5 6-6 6-6 5-6 3-6 3-8 4-14 3-10 0-8 0zM1499 1126l8-1 8 0 8 1 8 1 8 3 8 3 8 5 6 4 6 5 6 6 5 5 5 8 7 14 3 8 2 8 0 8 1 8-1 8-2 8-5 14-4 8-5 8-5 6-6 6-7 6-6 4-6 4-8 3-8 3-8 2-8 1-8 0-8-1-8-2-8-2-8-3-6-4-8-5-6-5-6-6-5-7-4-6-4-8-4-8-2-8-2-8-1-8 0-8 1-8 2-8 5-14 3-6 5-8 5-6 6-6 5-5 8-5 8-5 6-2 8-3zM1298 1128l7-1 8 0 14 1 6 2 8 3 8 4 6 3 6 5 6 5 5 6 4 6 4 6 4 8 2 8 2 8 1 14 0 8-1 6-2 6-3 8-3 6-5 8-4 6-6 6-6 5-6 5-6 3-8 4-6 2-8 2-8 1-8 0-14-2-8-2-6-3-12-7-6-5-5-5-5-6-4-6-5-8-3-8-4-14-1-8 0-8 2-14 3-8 2-6 7-12 9-11 6-5 6-5 12-6 8-3zM1705 1136l10-1 12 1 0 154-14 1-14-2-6-2-8-3-8-4-6-4-6-5-6-6-5-7-4-6-4-8-2-6-4-14-1-8 1-8 2-14 2-8 3-6 7-12 9-11 6-5 6-5 8-4 6-3 8-2z"/>
<path fill="#5000ff" d="M1095 1116l8-1 8 0 8 0 8 2 14 4 8 4 6 4 7 5 6 6 5 6 6 8 4 8 3 8 3 8 2 8 1 8 0 8-1 8-2 8-2 8-3 8-3 6-6 8-4 6-6 6-6 5-8 6-8 4-6 3-14 4-14 1-8-1-8-1-8-2-8-3-8-5-6-4-6-5-6-6-5-6-5-8-7-14-3-8-1-8-1-8-1-8 1-8 2-8 2-8 3-8 4-8 4-6 5-6 5-6 7-6 6-5 12-6 8-3zM897 1118l6 0 8 0 8 1 8 2 8 2 6 3 12 8 6 6 6 6 8 12 3 6 3 8 3 14 0 14-1 8-2 8-3 8-3 6-7 12-6 6-5 5-6 5-6 4-6 3-8 3-14 3-10 0-8 0zM1505 1126l8 0 8 0 8 2 8 2 8 3 8 4 12 9 6 6 6 6 6 8 3 6 3 8 3 8 3 14 0 8-1 8-1 8-2 8-6 14-5 8-5 6-5 6-7 6-8 5-6 4-14 6-8 2-8 1-8 0-8 0-8-2-8-2-8-3-6-3-8-5-5-5-6-6-6-6-8-12-4-8-2-8-3-8-1-8 0-8 0-8 2-8 2-8 6-14 5-8 4-6 6-6 6-6 6-4 8-5 14-6 8-2zM1301 1128l14-1 8 1 8 2 6 2 8 3 12 8 7 5 5 6 9 12 4 8 2 6 3 8 1 8 0 14-2 14-6 14-4 8-5 6-10 11-6 4-6 4-8 4-6 3-14 3-8 0-8 0-14-3-8-3-6-3-6-3-6-5-6-5-5-7-8-12-4-8-2-6-3-14 0-14 2-14 3-8 3-6 7-12 9-10 6-5 6-4 6-4 8-3 8-3zM1711 1136l8 0 8 1 0 152-6 1-14-1-14-3-8-3-6-3-6-4-6-4-5-6-5-6-8-12-4-8-2-8-3-14 1-14 1-8 2-8 3-6 4-8 9-12 5-6 6-5 12-7 6-3 8-3z"/>
<path fill="#7000ff" d="M1099 1116l6-1 8 0 8 1 8 2 14 5 8 4 7 5 7 6 6 6 6 8 3 6 6 14 3 8 1 8 1 8 0 8-1 8-2 8-3 8-3 8-3 6-6 8-5 6-6 6-7 5-6 4-8 4-6 3-8 2-8 1-8 1-8 0-14-3-8-2-8-4-6-4-6-5-6-4-6-7-5-7-4-6-4-8-3-8-2-8-1-8-1-8 0-8 1-8 2-8 6-14 4-8 4-6 5-6 6-6 6-5 6-4 6-3 8-4 8-2zM907 1118l12 1 8 2 6 2 8 4 6 4 6 4 6 5 5 6 5 6 3 6 4 8 4 14 2 14-2 14-4 14-3 8-4 6-4 6-6 6-10 9-6 4-8 4-6 2-8 2-14 2-10-1 0-151zM1307 1128l6 0 8 1 6 1 8 2 8 3 6 3 6 4 6 5 6 5 5 6 4 6 4 8 5 14 3 14-1 14-1 6-2 8-3 8-4 6-8 12-6 6-6 5-12 8-6 2-8 3-6 1-8 1-14 0-6-1-8-2-8-3-6-4-11-8-6-6-5-5-7-13-3-6-3-8-2-14 0-14 3-14 2-6 4-8 5-8 4-6 5-5 6-5 12-8 6-3 8-2zM1496 1128l7-1 8-1 8 1 8 1 8 2 8 3 8 4 6 3 6 5 6 5 6 6 6 8 3 6 4 8 3 8 2 8 1 8 0 8-1 14-2 8-3 8-4 8-4 6-5 7-6 6-6 6-6 4-6 4-8 4-8 3-8 2-8 1-8 0-8 0-8-2-14-4-8-4-6-4-6-4-6-6-6-7-4-6-5-8-4-8-4-14-1-8 0-8 1-14 2-8 3-8 4-8 3-6 6-8 5-5 6-6 6-4 6-4 8-4 8-3zM1701 1138l12-1 14 1 0 150-14 1-14-2-8-2-6-2-12-7-10-10-6-6-4-6-3-6-4-8-4-14-1-14 1-14 5-14 4-8 3-6 5-6 5-6 11-9 12-6 8-3z"/>
<path fill="#8f00ff" d="M1105 1116l6 0 8 1 8 1 8 2 8 4 6 3 6 4 7 5 6 6 5 6 5 8 4 6 3 8 3 8 1 8 1 8 0 14-2 8-2 8-3 8-4 8-5 8-5 6-6 6-6 5-12 8-8 3-8 3-14 2-14 0-8-1-8-3-6-2-8-4-8-5-6-5-6-6-5-7-4-6-4-8-5-14-2-8-1-8 0-8 0-8 2-8 2-8 6-14 4-6 6-8 5-5 6-6 6-4 8-5 6-2 8-3 8-2zM897 1120l0-1 2 0 10 0 8 1 8 1 6 2 8 4 12 7 11 10 4 6 4 6 4 8 3 6 2 8 2 8 0 14-3 14-2 6-3 8-5 8-4 6-5 6-6 5-6 5-6 3-12 5-8 3-6 1-10 0-8 0zM1499 1128l8-1 8 0 8 1 8 1 8 3 8 3 12 8 6 4 6 6 6 7 4 6 3 6 4 8 3 8 1 8 1 8 0 8 0 8-2 8-5 14-4 8-4 6-5 6-5 6-7 6-6 4-6 3-8 4-8 3-8 2-14 1-8-1-8-1-8-2-8-4-8-4-6-4-6-5-6-6-5-6-5-8-7-14-2-8-2-8-1-8 0-8 1-8 2-8 3-8 3-8 8-12 5-6 6-6 6-5 6-4 6-4 8-3zM1298 1130l13-1 14 1 6 1 8 3 8 4 6 3 11 9 6 6 4 6 5 8 3 8 4 14 1 8 0 8 0 6-2 8-3 8-2 6-7 12-10 11-6 5-6 5-12 6-6 2-8 2-8 1-8 0-8-1-6-1-8-3-6-2-12-7-10-10-5-6-4-6-4-6-3-8-4-14-1-14 2-14 2-8 2-6 7-12 4-6 6-6 10-9 12-6 8-3zM1705 1138l10-1 12 1 0 150-14 1-14-2-6-2-8-3-6-3-6-5-6-4-5-6-5-6-4-6-4-8-3-6-4-14 0-8 0-8 2-14 3-8 2-6 7-12 9-10 6-5 6-4 6-4 8-3z"/>
<path fill="#af00ff" d="M1095 1118l8-1 8 0 8 0 8 2 8 2 6 2 8 5 6 4 6 5 6 5 9 12 5 8 3 8 4 14 1 8 1 8-1 8-1 8-3 8-3 8-4 8-4 6-4 6-6 6-7 6-6 4-8 5-6 3-14 4-14 1-8-1-8-1-8-2-8-4-8-4-6-4-6-5-5-6-9-12-7-14-3-8-1-8-2-14 1-8 1-8 2-8 3-8 3-6 5-8 4-6 6-6 6-6 6-4 12-7 8-3zM897 1120l6-1 8 1 14 2 8 3 6 2 12 8 6 6 6 5 8 12 4 8 2 6 3 14 0 14-2 14-3 8-3 6-7 12-10 10-6 5-6 4-8 4-6 3-6 2-8 1-10 1-8-1zM1504 1128l7 0 8 0 14 3 8 2 6 3 8 5 6 4 6 5 6 6 5 6 5 8 6 14 2 8 1 8 1 8-1 8-1 8-2 8-3 8-4 8-8 12-5 6-6 5-12 9-6 3-8 3-8 2-8 2-8 0-8 0-14-3-8-3-8-3-6-4-6-5-6-5-6-6-5-7-3-6-4-8-3-8-2-8-2-8 0-8 0-8 3-14 3-8 3-6 5-8 4-6 6-6 5-5 6-5 8-5 8-4 6-2 8-2zM1301 1130l6-1 8 0 14 2 8 3 6 2 12 8 6 4 6 6 5 6 4 6 3 6 3 8 4 14 0 14-2 14-2 6-3 8-7 12-5 6-6 6-6 5-6 4-12 6-8 2-6 2-14 0-14-2-8-2-6-3-12-7-10-9-4-6-5-6-6-12-2-8-2-8-1-14 1-14 3-8 2-6 3-6 5-8 9-10 5-5 6-4 6-4 8-3zM1710 1138l9 0 8 1 0 148-6 1-14 0-6-1-8-3-12-5-6-4-6-5-10-10-4-6-5-8-3-8-2-6-3-14 1-14 3-14 2-6 4-8 8-12 5-5 6-5 12-8 12-5 8-2z"/>
<path fill="#cf00ff" d="M1098 1118l7-1 8 0 8 1 8 2 6 2 8 3 8 5 6 4 11 10 5 6 5 8 6 14 3 8 1 8 1 8 0 8-1 8-2 8-5 14-5 8-4 6-5 6-6 6-6 5-6 4-8 4-6 3-8 2-8 2-8 0-8 0-14-3-6-2-8-3-12-8-6-5-6-6-5-7-3-6-7-14-2-8-2-8-1-8 0-8 1-8 2-8 5-14 4-8 4-6 5-6 5-6 6-5 6-4 6-3 8-4 8-2zM902 1120l13 1 6 1 8 2 12 5 6 4 7 5 6 6 5 6 7 12 3 6 2 8 2 6 1 8-1 14-3 14-3 8-4 6-4 6-4 6-10 9-6 4-6 4-6 3-8 2-6 2-8 1-8 0-6-1 0-147zM1305 1130l6 0 8 0 6 1 8 2 6 2 8 4 6 4 6 4 5 5 6 6 7 12 3 6 3 8 1 6 2 8 0 8-1 6-1 6-2 8-2 6-4 8-8 12-5 5-6 6-6 4-6 4-12 5-6 1-8 1-8 1-6-1-8-1-6-1-6-3-8-4-10-7-10-10-8-12-3-6-3-8-3-14 0-14 2-14 2-6 4-8 7-12 6-6 4-4 6-5 6-4 8-4 6-2 8-2zM1496 1130l13-2 8 0 8 1 8 2 8 3 8 4 6 3 6 5 6 5 6 7 5 6 4 6 4 8 4 14 2 8 0 8 0 8-1 8-5 14-3 8-4 6-4 6-6 7-6 5-6 5-6 4-8 4-14 5-8 1-8 1-8-1-8-1-14-4-6-3-8-5-6-4-6-5-5-7-5-6-5-8-4-8-4-14-1-8 0-8 1-14 2-8 3-8 4-8 4-6 4-6 5-6 11-9 6-4 8-4 8-3zM1701 1140l12-1 14 0 0 148-14 0-14-2-8-2-6-3-12-7-10-9-5-6-4-6-6-12-4-14-1-14 1-14 3-8 2-6 6-12 4-6 6-6 10-9 12-6z"/>
<path fill="#ef00ff" d="M1103 1118l8 0 8 0 14 4 8 3 6 3 12 8 6 6 6 6 8 12 3 8 3 8 2 8 1 8 0 14-1 8-2 8-3 8-4 8-4 6-5 7-6 6-5 5-7 5-6 4-8 3-8 3-14 2-8 1-8-1-14-4-6-2-8-4-6-4-6-5-5-6-5-6-5-6-4-8-5-14-2-8-1-8 0-8 0-8 2-8 2-8 7-14 8-12 10-10 12-9 8-3 6-3 8-2zM897 1122l0-1 12 0 8 0 8 2 6 2 8 4 12 7 10 10 5 6 3 6 3 6 4 8 3 14 0 14-3 14-2 6-3 8-8 12-10 11-6 4-6 4-12 6-8 2-6 1-8 0-10 0zM1498 1130l7-1 8 0 8 0 8 2 14 4 8 4 6 4 6 5 6 6 6 6 4 6 3 6 4 8 3 8 1 8 1 8 0 8 0 8-2 8-5 14-4 8-4 6-5 6-6 6-6 5-6 4-8 4-6 3-14 4-14 1-8-1-8-1-8-2-8-4-12-7-6-4-5-6-5-6-5-6-3-6-4-8-3-8-2-8-1-14 1-8 1-8 2-8 4-8 4-8 4-6 4-6 6-6 6-5 6-4 6-4 8-3zM1297 1132l6-1 8-1 8 1 6 1 8 2 6 2 12 6 6 5 6 5 9 10 7 12 3 8 2 8 1 6 0 8 0 8-1 6-2 6-2 8-3 6-5 8-9 11-6 5-6 4-12 7-6 2-8 2-14 1-8 0-6-1-6-2-8-3-12-7-10-9-5-6-4-6-6-12-3-8-2-6-1-6 0-8 0-8 1-6 2-6 3-8 6-12 4-6 5-6 10-8 12-7 8-3zM1704 1140l11-1 12 1 0 146-14 1-14-2-6-2-8-3-12-7-10-10-8-11-4-8-3-6-4-14 0-14 0-8 1-6 3-8 2-6 7-12 9-10 5-5 6-4 6-4 8-3z"/>
<path fill="#f0f" d="M1094 1120l7-1 8-1 8 1 8 1 6 2 8 3 8 4 6 3 6 5 6 5 5 6 4 6 4 6 4 8 2 8 2 8 1 8 1 8-2 14-2 8-3 8-3 6-4 8-5 6-6 7-6 5-6 4-8 5-6 3-14 4-14 1-8-1-8-1-8-2-6-3-12-6-11-10-5-6-5-6-3-6-4-8-3-8-2-8-1-8-1-8 1-8 1-8 4-14 4-8 4-6 4-6 5-6 6-6 6-4 12-7 8-3zM897 1122l4-1 8 0 14 2 8 3 6 2 6 4 7 4 5 5 5 5 5 6 4 6 4 8 2 6 3 14 0 14-2 14-3 8-3 6-7 12-10 10-6 5-6 4-12 5-6 2-8 1-10 1-8-1zM1502 1130l7 0 8 0 14 2 6 2 8 3 8 4 6 5 6 5 6 5 5 6 5 8 4 8 2 6 3 14 1 8 0 8-3 14-2 8-4 8-7 12-5 6-6 6-7 6-6 4-6 3-8 3-14 4-8 0-8 0-14-2-8-3-6-2-6-3-8-6-6-5-6-6-5-7-3-6-4-8-3-6-2-8-1-8-1-8 0-8 3-14 5-14 5-8 4-6 5-6 5-5 12-9 6-3 8-3 8-3zM1300 1132l5-1 8 0 6 0 8 2 8 2 6 2 12 7 6 5 6 5 5 6 4 6 3 6 3 8 2 6 2 8 0 14-2 14-2 6-3 8-7 12-9 10-6 5-6 4-12 6-6 2-8 2-6 0-8 1-6-1-8-2-12-4-12-7-10-8-9-12-6-12-3-8-1-8-1-14 1-14 3-8 2-6 7-12 8-10 5-5 6-4 12-7 8-2zM1708 1140l9 0 10 1 0 144-4 1-14 0-6-1-8-2-6-2-8-4-10-7-10-10-4-6-4-6-3-6-3-8-3-14 0-14 3-14 3-8 3-6 4-6 4-6 10-10 10-7 12-6 8-2z"/>
</g>
<path fill="none" stroke="#000" stroke-width="1.5" stroke-dasharray="6 2" d="M1196.5 724l-3.5 14-3 8-3 6-8 12-5.5 6.5-6 5.5-6 5-6 4-6 3-8 3.5-6 2-8 2-8 1.5-8 0-8 0-8-1-8-2-6-2-8-3.5-6-3-6-4-6-4.5-5-5-5.5-6-5-6-4.5-7.5-3.5-6.5-3-8-3.5-14M1600 724l-1 8-1.5 8-2 8-3 8-4 8-4 6-5 7-6 6-6 5.5-8 5.5-7.5 4-6.5 3.5-8 2.5-8 2-8 1-8 0.5-8-0.5-8-1-8-2-8-3-8-3.5-6-3.5-8-5.5-6-5.5-6-6.5-5-6.5-4-6-4-8-3-8-2-8-1.5-8-1-8M897.5 854.5l10-1 10 1 6 1.5 4 2 4 2 5 4 4 4 3.5 4 3.5 6 2 4 3 10 1 6 0 6 0 6-1 6-3.5 10-5.5 10-4 4.5-4 3.5-8 5.5-6 2.5-4 1-10 1-10-1M1305.5 862l10 0 8 1.5 8 3.5 8 5.5 6 6.5 6 9 3 8 2 10 0 10-1.5 10-3.5 10-5 8-5 6-8 6.5-8 4-10 2-10 0-8-2-8-3.5-8-6-6-7-5-8-3-8.5-2-9.5 0-10 1.5-10 3.5-10 5-7.5 6-7 8-6 8-3.5 8-2M1303.5 882l-6 1.5-6 3-6 5-4 5.5-2.5 5-2 8 0.5 6 1.5 6 2.5 5.5 4 5.5 4 3.5 6 3.5 6 2 8 1 8-0.5 6-1.5 6-2.5 4-3 4-3.5 4-6 2.5-6 1-6-0.5-6-1.5-6-3-6-2.5-3.5-4-4-6-3.5-6-2.5-6-1-6-0.5-6 1M897.5 889l4-2.5 4-1 4-0.5 6 2 4 2.5 4 4.5 1.5 4 1 6-1 6-1 2-3 4-3.5 3-4 2-6 1-4-0.5-4-2-2-1M1727.5 891l-8-2-8 0-8 1.5-8 4-6 5-5 6.5-2.5 6-1 8 1.5 8 2 6 5 6.5 6 5 8 3.5 8 1.5 8 0 8-1.5M1308.5 894l3 0 4 0.5 2 0.5 4 2.5 4.5 4.5 2 4 1 4 0 4-1 4-2 4-1.5 2-3 3-4 2.5-6 1-6-1-4-2-2-1.5-3.5-4-1.5-2-1.5-6 0-4 1-4 2-4 5.5-5.5 4-1.5 3-1M897.5 933l8 1.5 8-0.5 8-2 6-3 6-4.5 4.5-6.5 2.5-6 1.5-8-1-8-2.5-6-4-6-5-5-6-3.5-8-2.5-4-0.5-6 0-8 1.5M1727.5 933l-4 3-4 2-4 0.5-6-1-4-2-5.5-5.5-2-4-1-6 1-6 2-4 3.5-4 4-2.5 6-2 4 0.5 4 1 4 2 2 2M1727.5 968.5l-10 2-10-0.5-6-1.5-4-2-5-2.5-5-3.5-4-4-4-4.5-5.5-10-3.5-10-1-6 0-6 0-6 1-6 3-10 3.5-6 2.5-4 4-4.5 4-4 5-3.5 5-2.5 4-1.5 6-1.5 10-1 4.5 0.5 5.5 1.5M897.5 1059.5l16 0 18 2 18 4 38 11.5 10 1.5 8-0.5 6-1.5 5-2.5 7-3.5 6-4.5 12.5-10 25.5-22 8-6 6-4 8-4.5 8-3 8-1.5 8-0.5 8 0.5 8 2 6 2.5 8 4 6 4.5 8 6.5 29.5 27.5 12 10 6.5 4.5 6 3.5 6 2.5 6 1 8 0 8-1 30-7.5 18-4 14-1.5 14-0.5 16 1.5 16 2.5 10 2.5 27.5 8.5 8.5 2 10 1 8-0.5 10-3.5 12-7 13-10 27-23 12-8.5 8-4 8-3 8-1.5 6-0.5 8 1 8 2 6 2.5 8 4 6 4.5 8 6.5 25.5 24 12 10 11.5 8 5 2.5 6 2 8 1.5 10-1 10-2 28-8 20-4 16-1 16 0.5M1727.5 1348l-18 0-18-2-20-4.5-28.5-9.5-9.5-2.5-10-1-8 0.5-4 1-6 2.5-6 3.5-7 4-12.5 10-28.5 25-8 5.5-9.5 5.5M1486 1386l-8.5-5-8-5.5-31.5-29.5-12.5-10-6-4-8-3.5-6-2-6-1-6 0-8 1-34 8.5-14 2.5-14 1.5-14 0.5-16-1.5-16-2.5-14-4-26-8.5-8-2-8-1-8 1-5.5 1-5 2-7 4-6 4-13 10-25.5 22.5-8 6-6 4-8 4-8 2.5-8 2-6 0-8-0.5-8-2-8-3-8-4.5-6-4.5-8-6.5-25-24-13-11-6-4.5-6-3.5-6-2.5-4-1.5-8-1-10 1-8 1.5-30 8.5-16 3-16 1.5-16 0M897.5 892.5l4-3 4-1 4 0 4 0.5 4 2.5 2.5 2.5 2.5 4 1 6-1 4-2 4-3 3.5-4 2.5-4 1-4 0-4-1.5-4-3M1304.5 898l5-1 6 0.5 4 2 2 1.5 2.5 3 1 2 1.5 6-1.5 6-1 2-2.5 3.5-4 2.5-2 1-4 0.5-6-1-4-2.5-2-2-2.5-4-1.5-6 1.5-6 2.5-4 2-2 3-2M1727.5 929l-4 4-4 2-4 0.5-4-0.5-4-1.5-4-3.5-2.5-4-1.5-6 0.5-4 2-4 3.5-4 4-2.5 4-1 6 0.5 4 2 4 4M897.5 1076.5l12 0 10 0.5 12 2 10 2.5 10 3.5 10 4 32 17 6 2 6 0.5 6-1 8-3.5 38-25 10-6 12-5.5 10-3.5 10-2.5 8-1 10 0.5 10 1.5 8 2.5 10 4 8 4 10 5.5 10 7 30 22 6 3 6 2 6 0.5 8-1.5 8-3.5 24-11 10-4 8-2.5 8-2 10-1.5 8-0.5 10-0.5 10 1 8 1 8 1.5 10 3 16 6.5 30 15 6 2 6 0.5 4-0.5 4-1 7-3 37-22.5 12-6 8-3.5 8-3 10-2.5 10-1.5 8 0 8 1 8 1.5 10 3.5 8 3.5 10 5.5 10 6 28 20 8 5 8 3.5 6 0.5 6-0.5 6-2 32-15 10-4 10-3 10-2 10-1 12-0.5 10 0.5M1727.5 1330.5l-12 0.5-10-0.5-12-1.5-10-2.5-10-3-10-4-34-18-8-2.5-6 0-6 1-8 4-34 22-10 5.5-12 5.5-10 4-10 2.5-10 1.5-10-0.5-8-1-8-2-8-2.5-8-4-18-10-34-23-6-3-6-2-4-0.5-4 0-8 2-32 14-8 3-10 3-16 3-10 1-8 0-10-1-8-1-8-1.5-10-3-16-6.5-32-16.5-6-2-6-0.5-6 1-8 3.5-38 24.5-10 5.5-10 4.5-10 3.5-8 2.5-10 1-8 0.5-8-1-8-2-8-2.5-10-4.5-10-5.5-10-6-28-20.5-8-5.5-8-4-6-1-6 0.5-6 2-32 15-10 3.5-10 3-10 2.5-10 1-10 0.5-10 0M897.5 895.5l4-3.5 4-1.5 4 0 4 1 4 2.5 1.5 2 2 4 0.5 4-1 4-2.5 4-2.5 2.5-4 2-4 0.5-4-1-3.5-2-2.5-2.5M1305 900l4.5-1 4 0 2 0.5 4.5 2.5 3 4 1 4 0 4-0.5 2-2 4.5-4 3.5-4 1.5-4 0-2-0.5-2.5-1-3-2-3-4-1-4 0-4 0.5-2 1-2.5 2-2.5 3.5-3M1727.5 925l-2 3.5-4 3-4 1.5-4 0-4-1-4-3-2-2.5-1-2.5-1-4 0.5-4 1-2 2.5-3 4-3 4-1 4 0 4 1.5 4 3 2 3.5M897.5 1086.5l12-0.5 12 1 12 2.5 12 4 12 5.5 10 6 10 7 14 11 6 4 4 2 4 0.5 4-0.5 6-2.5 6-4.5 18-15 8-6 10-6.5 10-5.5 10-4 12-3.5 12-2 10-0.5 12 1 12 2.5 12 4 10 5 10 6 10 7 30 26 4 2 4 1.5 4 0 6-2 6-3.5 22-15.5 10-5.5 10-4 10-3.5 10-2.5 10-1 10-0.5 12 0.5 10 2 10 2.5 10 4 8 3.5 10 6 26 18.5 6 3 4 1 4-0.5 6-2.5 6-3.5 16-12.5 10-7 10-6 12-6 12-4 10-2.5 12-1.5 12 0 12 1.5 10 3 10 3.5 10 4.5 10 6 10 7 28 24 6 3 4 0.5 4-0.5 6-2.5 28-19 12-7 10-4 12-3.5 12-2 12-1 12 0.5M1727.5 1321l-12 0.5-12-1-14-2.5-12-4-10-4.5-12-7-30-22-4-2-4-0.5-6 1-6 3-26 20.5-10 7-10 5.5-10 4.5-10 3.5-10 2.5-8 1-12 0.5-14-1.5-12-3-12-4.5-10-5-12-7.5-10-7.5-22-18-6-3-4-1-4 0.5-6 2-30 19.5-10 5-10 4-10 3-12 2-12 0.5-12-0.5-8-1-10-2.5-10-3.5-8-3.5-8-4-10-6.5-24-18-6-3-4-1-4 1-6 2.5-6 4.5-18 14.5-8 6-10 6-12 6-12 4.5-12 3-12 1.5-12-0.5-10-1.5-10-2.5-8-3-12-5.5-10-6-10-7.5-28-24.5-6-3.5-4-0.5-4 0.5-6 2.5-22 15.5-8 5-10 5-10 4.5-10 3-12 2.5-12 1-12-0.5M897.5 899.5l2-3.5 2-2 4-1.5 4 0 4 1 3 2.5 2.5 4 0.5 4-1 4-3 4-3.5 2-2.5 1-4-0.5-4-1.5-3-3-1-2M1305.5 902l4-1 4 0 4 2 3 3 1.5 4 0 4-0.5 2-2 4-3 2-5 1.5-4-0.5-4-2.5-2-2.5-1.5-4 0-4 1.5-4 2-2.5 2-1.5M1709 910l4.5-1.5 4 0.5 4 1.5 2 1.5 1.5 2 1 4 0 4-0.5 2-2 3.5-3.5 2.5-4.5 1.5-4-0.5-4-2.5-2-2.5-1.5-4 0-4 1.5-4 3.5-4M897.5 1093l14 0 14 1.5 12 3.5 12 4.5 8 4.5 10 6.5 10 8.5 20 19 4 2.5 4 1 4-0.5 6-4 18-18 9-8 9-6.5 12-7.5 12-5.5 12-4 12-2 12-0.5 12 1 12 2.5 12 4 12 6 12 8 10 8.5 26 26.5 4 3 4 1 4-0.5 6-3 26-21.5 10-6.5 10-5.5 10-4 10-2.5 10-2 12-0.5 10 0.5 12 2.5 12 3.5 10 4.5 10 6 8 5.5 26 22.5 4 2 4 1.5 4-0.5 6-3.5 20-17.5 10-8 10-6.5 12-6.5 12-4.5 12-3 14-1.5 12 0.5 10 1.5 12 3 12 5 10 5.5 10 6.5 10 8.5 24 24 6 4 4 0.5 4-0.5 6-4 18-16 12-9 10-6 8-4 12-4 12-2.5 14-1 12 0.5M1727.5 1314l-12 0.5-14-1-12-2.5-14-5-10-5.5-10-6.5-9.5-8-20.5-19-4-2.5-4-1-4 0.5-6 3.5-24.5 22.5-9.5 7.5-8 5.5-10 5-10 4.5-10 3-10 2-14 1-14-1.5-14-3-12-5-10-5-10-6.5-12-9.5-22-21-6-4-4-0.5-4 0.5-4 2-28 22-10 6-12 6-12 4-12 2-12 1-12-0.5-10-2-10-2.5-10-4-8-4-8-5-8-6-26-24-4-2.5-4-1-4 1-4 2-6 5-16 15.5-8 7-12 8.5-10 5.5-14 5.5-12 3.5-12 1.5-14-0.5-12-1.5-10-3-12-5-10-5.5-10-7-10-8.5-24-25-6-4-4-1-4 1-4 2-20 17.5-8 6.5-10 6.5-10 5.5-12 4.5-12 2.5-12 1.5-14-0.5M903 896l2.5-1 4-0.5 3.5 1.5 2.5 2 1.5 4 0 2-1 4-2.5 3-3 1-3 0.5-2.5-0.5-3.5-2.5-2-3.5-0.5-4 2-4 2-2M1307 904l2.5-0.5 4 0 2 1 2 1.5 1.5 2 1 4-0.5 3.5-2 2.5-2 2-4 1-4-0.5-3-2.5-1.5-2-1-4 0.5-2 1-2.5 3.5-3.5M1710.5 912l3-1 4 0.5 2 0.5 2 1.5 1.5 2.5 1 4-0.5 3.5-2 2.5-2 2-4 1-4-0.5-3-2.5-1.5-2-1-4 0-2 1.5-3 3-3M897.5 1098.5l14-0.5 14 2 12 3 14 6.5 10 6 10 8.5 10 10 16 18.5 4 3.5 4 1.5 4-1 4-3 18.5-21.5 12-12 11.5-9 10-6 14-6 8-2.5 8-1.5 8-1 8-0.5 8 0.5 8 1.5 12 3 10 4 10 5.5 10 6.5 9 7.5 7.5 8 21.5 26.5 4 3.5 4 1.5 4-1 4-2.5 22-22.5 8-7 8-5.5 8-4.5 8-4 10-3.5 8-1.5 8-1.5 8-0.5 14 1 14 3 14 5.5 10 6 10 7 11 10 17 18.5 4 3 4 1 4-0.5 4-2.5 6-5.5 12.5-14 9.5-8.5 12-9 12-7 12-5 14-3.5 14-1.5 12 0 12 2 12 3.5 10 4.5 12 7 10 7.5 9 8 7 8 14 17.5 4 4.5 4 3 4 0.5 4-1.5 4-3 15-17 11-10 10-7.5 10-5.5 12-5.5 14-3.5 14-1.5 14 0.5M1727.5 1309l-14 0.5-14-1.5-12-3-14-6-10-5.5-10-8-12-11.5-16-18.5-4-3.5-4-1.5-4 1-4 2.5-23.5 26-9 8-9.5 7.5-10 5.5-10 5-10 3-10 2.5-8 1-8 0-14-1-8-2-8-2-14-6.5-10-5.5-10-7.5-12-12-16-18-4-4-4-2.5-4-1-4 1-4 3-18.5 17.5-11.5 10-8 5-10 5.5-12 4.5-14 3-12 1-14-1-10-2-10-3.5-10-4.5-10-6-8-6-9-8-21-24-4-3-4-1.5-4 1.5-4 3-20 22-10 10-10 7.5-10 6.5-12 5.5-14 4-14 2-14 0-12-2-12-4-10-4-12-7.5-10-7.5-10-9.5-7.5-9-12.5-16-4-4.5-4-3-2-1-2 0-4 1.5-4 3.5-16.5 17.5-9.5 9-10 7.5-10 6-12 5.5-14 3.5-14 1.5-12-0.5M897.5 1102.5l8-0.5 8 0.5 14 2 8 2.5 6 2 8 4 6 3.5 10 7.5 10 10 9.5 12 14.5 21.5 4 4 2 1 2-0.5 4-3.5 15-22.5 9.5-12 7.5-8 10-8 12-8 12-5.5 12-3.5 14-2.5 8 0 8 0.5 14 2.5 8 2.5 8 3.5 8 4 6 4 10.5 8.5 9.5 10 11 14 15 24 2 2 2 1 2 0.5 2-0.5 4-3.5 14.5-19.5 8.5-10 7-6 8-6.5 10-6.5 12-5.5 10-3 12-2 14-0.5 14 2 12 3.5 8 3.5 6 3 10 7 10 8.5 9.5 10.5 16.5 21 4 3 2 0.5 2 0 2-1 4-3.5 17.5-22 12.5-12.5 12-9 12-7 8-3.5 8-2.5 14-3 8-0.5 8 0 8 0.5 8 1.5 10 3 12 5.5 10 6 10.5 7.5 8 8 7 8 7.5 10 13 20.5 4 4.5 2 0.5 2 0 4-2.5 17-23 10.5-12 10.5-9 10-6.5 12-5.5 14-4.5 14-2 8 0 8 1M1727.5 1304.5l-8 1-8 0-8-1-8-1.5-6-1.5-8-3-6-3-8-4.5-10-7.5-10-9.5-9.5-12-14.5-21.5-4-3.5-2-0.5-2 0-4 3-20.5 28.5-9.5 10-9 8-9 7-12 6.5-10 4-12 3-8 1-8 0.5-8 0-8-1-8-2-8-2.5-8-3-8-4.5-12-8-10-9-11-12-17-23.5-4-3.5-2-0.5-2 0-2 0.5-4 3-17 20-11 11-10 8-10 5.5-12 5.5-14 3.5-14 1-14-1-12-2.5-10-3.5-10-5-10-7-8.5-7.5-9.5-10-7.5-10-12.5-18.5-4-3.5-2-0.5-2 0.5-4 3.5-16 22.5-10 12-11 10-11 8.5-8 4.5-6 2.5-8 3-8 2.5-8 1.5-8 0.5-14-0.5-14-3-12-4-12-6.5-12-9-8.5-8-9-10-8-12-12.5-20-4-4.5-2-0.5-2 0-4 3-16.5 22-10.5 12-9 8.5-10 7-6 3.5-8 3.5-14 4.5-14 2-14-0.5M1106.5 1102l9 0.5 8 0.5 10 2.5 8 2.5 8 3.5 8 4.5 8 5.5 7.5 6.5 6.5 7 6 7 5.5 8 5.5 10 6 12 3.5 10 4 12 1 6-0.5 6-2 6-6 14-6 12-4.5 8-5.5 8-6.5 8-6 6-6.5 6-6 5-8 5-8 3.5-8 3.5-8 2-8 1.5-8 0.5-10 0-8-1-10-2.5-8-2.5-8-3.5-8-5-8-5.5-6-5.5-7.5-7.5-6-8-5.5-8-4.5-8-5.5-12-4-10-2.5-8-1.5-10 0.5-6 2-8 3.5-10 5.5-12 4.5-8 6.5-10 6-8 6-6 6.5-6 6-4.5 8-5 8-4.5 8-3 8-2.5 8-1.5 9-1M897.5 1106l8-0.5 8 0.5 10 1.5 8 2 10 3.5 8 4 6 4 8 6 6 6 6.5 7 6 8 6 10 4.5 10 4 10 3.5 12 0.5 6-1.5 8-2 8-4.5 10-4 8-6 10-6 8-7 8-6.5 6-7.5 6-8 5-8 4-8 2.5-8 2-8 1.5-10 0.5-8-0.5M1501.5 1114l8-0.5 10 0 10 1.5 8 2 8 2.5 8 4 8 4.5 8 5.5 7.5 6.5 6 6 6.5 8 5.5 8 5.5 10 4 8 4 10 4 12 0.5 4 0.5 6-1 6-2 6-8 18-4 8-6.5 10-9.5 12-11 10.5-12 8.5-8 4.5-6 2.5-10 3.5-8 1.5-10 1-10 0-10-1-10-2.5-10-3.5-8-3.5-8-5-8-6-7-6.5-5.5-6-6.5-8-5.5-8-15.5-27.5-2-2.5-2-1-2 0.5-2 1.5-2 2.5-13.5 20.5-5.5 8-5.5 6-5.5 6-6 5.5-12 8-8 4-8 3.5-8 2-6 1-8 1-8 0-8-0.5-8-1.5-12-3.5-10-5-10-6.5-10-8.5-8.5-9.5-7.5-10-6.5-12-6.5-14-4.5-14-0.5-6 0.5-4 2-8 2.5-6 8-16 6-10 4.5-6 6.5-7 6-6 6-5 6-4.5 8-4.5 8-3.5 8-3 10-2 8-1 10 0 10 1 8 2 8 2.5 10 5 8 5 6 4.5 6 5 7 7.5 10.5 14 14.5 25 2 2.5 2 0.5 2-0.5 4-4.5 12.5-21 8.5-12 9-9.5 8-7.5 10-7 12-6.5 12-4.5 14-3M1727.5 1301l-8 1-10-0.5-8-1-10-2.5-8-2.5-8-4-8-5-8-6-7-6.5-5-6-4.5-6-6.5-10-6.5-12-4-10-3.5-10-1-8 0.5-6 2.5-8 4-10 6-12 6.5-10 6-8 6.5-7 7.5-7 8.5-6 8-4.5 8-3.5 8-3 8-1.5 8-1 8-0.5 10 1"/>
<path fill="none" stroke="#000" stroke-width="1.7" stroke-dasharray="6 1" d="M1098 1106l9.5-0.5 8 0 10 1 8 2 8 3 8 3.5 8 4.5 8 6 7.5 6.5 6.5 7.5 6.5 8.5 4.5 8 4 8 4 10 2.5 8 2 10 0.5 8-0.5 8-2 8-2.5 8-4 10-4 8-5 8-6.5 8-7 8-6.5 6-6 4.5-8 5-8 3.5-6 2.5-8 2.5-10 1.5-8 0.5-10-0.5-8-1-8-2-8-3-8-3.5-8-5-8-6-6-5.5-6.5-7.5-6-8-5-8-4-8-4-10-3-10-1.5-8-0.5-8 0.5-8 1.5-8 2-8 3.5-8 4.5-10 5-8 6-8 7-8 6.5-5.5 6-4.5 8-5 8-4.5 8-3 8-2 6.5-1.5M897.5 1109l8-0.5 10 0.5 8 1.5 8 2 8 3 8 4 8 5 6 5 7 6.5 6.5 8 5.5 8 4.5 8 3.5 8 2.5 8 2 8 1 10-0.5 8-1.5 8-2 6-3.5 10-5.5 10-5.5 8-6 8-6.5 6-7.5 6.5-8 5-8 4-8 3-8 2-8 1.5-8 0.5-10-0.5M1496 1118l9.5-1 8-0.5 10 1 8 1 10 3 8 3.5 8 4 8 5.5 8 6.5 7 7 6.5 8 5 8 4.5 8 4.5 10 3 10 1.5 8 1 8-0.5 8-1.5 8-2 8-4 10-4 8-3.5 6-6 8-5.5 7-6 6-6.5 5-7.5 5.5-8 4.5-8 3.5-8 2.5-8 2-8 1-10 0-8-0.5-10-2-8-2.5-8-3-8-4.5-8-5-8-7-6.5-6.5-6.5-8-5.5-8-4.5-8-5.5-12-3-8-2.5-10-0.5-6 0-6 1.5-8 2-8 4-10 4.5-8 6-10 6-8 5-6 6.5-6 7-5.5 6-4 6-3.5 8-4 8-2.5 8.5-2.5M1295.5 1120l8-1 10-0.5 8 0.5 8 1 8 2.5 8 3 8 4 8 5 7 5.5 6 6 7 8 5 8 6 10 3.5 8 2.5 8 2 8 1 6 0 6-0.5 6-2.5 8-4 10-4 8-4.5 8-6 8-5 6-5.5 5.5-6 5-6 4.5-8 4.5-8 3.5-6 2-8 2-8 1-10 0-8-0.5-8-1.5-8-2.5-8-3-6-3.5-8-5-7-6-6-6-5-6-6-8-5.5-10-3.5-8-2.5-8-2-8-1-8 0-6 1-8 2-8 3-8 4-8 3-6 5.5-8 5-6 6-6 7-6 6-4 8-4.5 6-3 8-3 6-1.5M1727.5 1298l-8 1-10-0.5-10-1.5-8-2-8-3-8-4-8-5-6-5-6.5-6-7-8-5.5-8-4.5-8-4-10-3.5-10-1.5-8-0.5-8 0.5-8 2-8 3-10 4-8 4.5-8 5.5-8 6.5-8 7-6.5 6-4.5 8-5 8-4 8-3 8-2 10-1.5 10-0.5 8 1M1107 1108l8.5 0.5 8 0.5 8 2 8 2.5 8 3.5 8 4.5 8 6 6 5 6 6.5 5.5 7 5 8 4.5 8 4 10 2.5 8 1.5 10 1 8-0.5 8-1 8-3 10-3 8-4 8-5 8-5.5 8-5.5 6-6.5 6-6 5-6 4-8 4.5-8 3-8 2.5-10 1.5-8 1-8-0.5-8-1-8-2-8-2.5-8-4-8-4.5-6.5-5-7-6-5.5-6-6-8-5-8-4.5-8-3-8-3-10-1.5-8-0.5-8 0-8 1-8 2-8 3.5-10 4-8 4.5-8 6-8 5-6 6.5-6 6-5 8-5 8-4.5 8-3 8-2 8-1.5 7.5-1M897.5 1112l8-0.5 8 0 10 1.5 8 2 8 3.5 8 4 6 4 7 5.5 6 6 6.5 8 5.5 8 4 8 3 8 2.5 8 1.5 8 0.5 8-0.5 8-1.5 8-2 8-3 8-4 8-5.5 8-6 8-6.5 6-5.5 5-8 5.5-8 4-8 3.5-8 2-8 1.5-10 0-8-0.5M1501 1120l8.5-0.5 8 0 10 1 8 2 8 2.5 8 4 8 4.5 6.5 4.5 7 6 5.5 6 6.5 8 5 8 4 8 4 10 2.5 8 1.5 8 0.5 8-0.5 8-1 8-2 8-3 8-4 8-4.5 8-6 8-6 7-6 6-6 4.5-8 5.5-8 4-8 3-8 2.5-8 1-10 1-8-0.5-8-1-8-2-8-2.5-8-3.5-8-4.5-8-6-7-6.5-5.5-6-6-8-5-8-4-8-3.5-8-2.5-8-2-10-0.5-8 0.5-8 1.5-8 2.5-8 4.5-10 4-8 5.5-8 4.5-6 5.5-6 5.5-5 8-6 6-4 8-4 8-3 8-2.5 7.5-1.5M1299 1122l8.5-1 8 0 8 1 8 1.5 8 2.5 8 3 8 4.5 6 4.5 7.5 6 5.5 6 6 8 4 6 4 8 3.5 8 2.5 8 1.5 8 0.5 6 0 8-1 8-2.5 8-3 8-4 8-5 8-4.5 6-5.5 6-6.5 6-7 5.5-6 4-8 4-6 2-6 2-8 1.5-8 0.5-8 0-8-1-8-2-6-1.5-8-3.5-8-4.5-6-4.5-6-5-5.5-5.5-5-6-5-8-4.5-8-3.5-8-2.5-8-1.5-8-1-8 0-6 1-8 2-8 2.5-8 4-8 4.5-8 4-6 5-6 6.5-6 7-5.5 6-4 6-3.5 8-3 8-2.5 5.5-1.5M1727.5 1295.5l-10 0.5-8 0-8-1-8-2-8-3-8-4-8-5-6.5-5-6-6-7-8-5-8-4.5-8-4-10-2-8-1.5-8-0.5-8 0.5-8 1.5-8 2.5-8 4-10 4.5-8 6-8 6-7 6-5.5 6-4.5 8-5 8-4 8-3 8-2 10-1 8 0 8 0.5M1094 1112l9.5-1 8-0.5 8 0.5 10 2 8 2.5 8 3.5 8 4 6 4.5 6 5 6 5.5 5 6 5.5 8 4.5 8 3.5 8 3 8 2 10 1 8 0 8-0.5 8-1.5 8-2.5 8-3.5 8-4 8-5 8-5 6-5.5 6-6.5 6-6.5 5-8 4.5-8 3.5-8 3-8 1.5-10 1-8 0-8-0.5-8-2-8-2.5-8-3.5-8-4.5-6-4.5-8-7-5.5-6-4.5-6-5.5-8-4-8-3-8-2.5-8-1.5-8-1-8 0-8 1-8 1.5-8 2.5-8 3.5-8 4-8 4-6 5-6 6-7 6-5 6-4.5 6-4 8-4 8-3 8.5-2.5M897.5 1114l8-0.5 8 0.5 8 1 8 2 8 3 8 4 8 5.5 5.5 4.5 6 6 5 6 5.5 8 4 8 3 8 2.5 8 1.5 8 0.5 8-0.5 8-1.5 8-2 8-3 8-4 8-5.5 8-5 6.5-6 6-6 5-8 5.5-8 4-6 2.5-8 2-8 1.5-10 0.5-8-0.5M1504.5 1122l9 0 8 0.5 8 1 8 2 8 3 8 4 8 5 6 5 6 5.5 5.5 6 5.5 8 4 6 4 8 3.5 10 2 8 1 8 0.5 10-1 8-1.5 8-2.5 8-3.5 8-4 8-4 6-5.5 7.5-6 6.5-6 5-6 4.5-8 5-8 3.5-8 3-8 1.5-8 1-10 0.5-8-0.5-8-1.5-8-2.5-6-2.5-8-4-6-3.5-8-6-6-6-6.5-7.5-4.5-6-4.5-8-4-8-3.5-10-2-8-1-8-0.5-8 1-8 1.5-8 2.5-8 3.5-8 4-8 5.5-8 4.5-6 6-6 6-5 8-6 6-3.5 8-3.5 8-3 8-2 7-1M1301.5 1124l8-0.5 8 0 8 1 8 2 8 2.5 6 3 6 3 8 6 6 5 5.5 6 4.5 6 5 8 4 8 2.5 6 2.5 8 1.5 8 0.5 8-0.5 8-1 6-2 8-3 8-3 6-3.5 6-5.5 8-5.5 6-6 6-6 5-6 3.5-6 3.5-8 3-8 2.5-8 1-8 0.5-8 0-8-1.5-8-2-6-2-8-4-6-3.5-6-4.5-6-5.5-5.5-6-6-8-3.5-6-4-8-2.5-6-2-8-1.5-8-0.5-8 0.5-8 1.5-8 1.5-6 3-8 4-8 8-12 5-6 6-5.5 6-4.5 6-4 6-3 8-3.5 8-2 6-1.5M1727.5 1293l-8 1-10-0.5-8-1-8-2-8-3-8-4-6-4-7-5.5-6-6-7-8-5-8-4-8-3-8-2-8-1.5-8-0.5-8 1-10 1.5-8 2.5-8 3.5-8 4.5-8 4.5-6 6.5-7.5 6-5.5 8-6 6-3.5 8-4 8-2.5 8-2 8-0.5 8-0.5 8 1M1095.5 1114l8-1 8 0 8 0.5 8 1.5 8 2 8 3.5 6 3 8 5 7 5.5 6 6 5 6.5 5.5 7.5 4 8 3.5 8 2.5 8 1.5 8 1 8 0 8-0.5 8-1.5 8-2.5 8-3.5 8-3 6-5 8-4.5 6-5.5 6.5-6.5 5.5-7.5 5.5-6 3.5-8 4-8 2.5-8 2-8 1-8 0-8-0.5-8-1.5-8-2.5-8-3.5-6-3-8-5.5-6-5-6-6-5.5-7-4-6-4.5-8-3.5-8-2.5-8-2-8-1-8 0-8 0.5-8 1.5-8 2.5-8 3-8 4-8 4-6 5.5-7 6-6.5 6-5.5 6-4.5 6-3.5 8-4 8-3 8-2M897.5 1116.5l8-0.5 8 0 8 1 8 2.5 6 2 8 4 8 5 6 5 6 6 5.5 6.5 4 6 4 8 3.5 8 2 8 1.5 8 0.5 8-0.5 8-1.5 8-2 8-3 8-3 6-5 8-6 7.5-6 6-6 5-8 5-8 4-6 2-8 2.5-8 1-8 0-8-0.5M1507 1124l8.5 0 8 0.5 8 1.5 8 2.5 6 2.5 8 4 7.5 5 6.5 5 6 6 6 7 5 8 3.5 6 3.5 8 2.5 8 2 8 0.5 8 0.5 8-1 8-1.5 8-2.5 8-3.5 8-4 8-5.5 8-5 6-6 6-6.5 5.5-6 4-8 4.5-8 3-6 2-8 2-8 0.5-8 0.5-8-1-8-1.5-8-2.5-8-3-6-3.5-8-5-6-5-6-6-5.5-6.5-4-6-4.5-8-4-8-2.5-8-2-8-1-8 0-8 0.5-8 1.5-8 2.5-8 3.5-8 4-8 4-6 5.5-6.5 6-6.5 6-5 6-4.5 8-4.5 8-3.5 8-2.5 8-2 7.5-1M1303 1126l6.5-0.5 8 0 8 1 8 2 8 3 6 2.5 6 3.5 6 4.5 6 5 4.5 5 5 6 5 8 4 8 2.5 6 2.5 8 1 8 0.5 8 0 8-1.5 8-1.5 6-3 8-4 8-4 6-4.5 6-5.5 6-5 5-6 4.5-6 4-8 3.5-6 2.5-6 1.5-8 1.5-8 0.5-8-0.5-8-1-6-1.5-8-3-6-2.5-6-3.5-6.5-5-5.5-5-5-5-4.5-6-5-8-3-6-3.5-8-2-8-1.5-8-0.5-6 0.5-8 1-8 2-8 2-6 4-8 3.5-6 4-6 5-6 6.5-6 6.5-5 6-3.5 8-4 6-2.5 6-1.5 7.5-1.5M1727.5 1291l-8 0.5-8 0-8-1-8-1.5-8-3-8-4-8-5-6-5-6-6-5-6-5.5-8-4-8-3-8-2-8-1.5-8-0.5-8 0.5-8 1.5-8 2.5-8 3-8 4.5-8 4-6 5.5-6.5 6-5.5 6-5 8-5 8-4 8-3 8-1.5 8-1 8 0 8 0.5M1096 1116l7.5-1 8 0 8 0.5 8 1.5 8 2 8 3.5 8 4.5 6 4 6 5 6 6 5 6 4 6 4.5 8 3 8 3 8 1.5 8 1 8 0 8-1 8-1.5 8-2.5 8-2 6-4 8-5.5 8-4.5 6-6 6-7 6-6 4.5-8 4.5-6 2.5-8 2.5-8 1.5-8 1-6 0-8-0.5-8-2-8-2-6-2.5-8-4.5-6-4-6-5-6-6-5-6-5.5-8-4.5-8-2.5-6-2.5-8-1.5-8-1-8-0.5-8 1-8 1-8 2.5-8 3-8 4.5-8 3.5-6 5-6 5.5-6 6.5-6 6.5-4.5 8-4.5 6-2.5 8-3 6.5-1.5M897.5 1118.5l8-1 6 0.5 8 1 8 2 8 2.5 6 3 8 5 6 5 6 5.5 5 6 4 6 4.5 8 3 8 2.5 8 1 8 0.5 8 0 8-1.5 8-2 8-3.5 8-4 8-4 6-5 6-6 6-6.5 5.5-6 4-8 4-6 2-8 2.5-8 1-8 0.5-8-1M1506.5 1126l9 0 8 0.5 6 1.5 8 2 8 3 8 4.5 6 4 6 4.5 6.5 6 5 6 5.5 8 3 6 3.5 8 3 8 1.5 8 1 8 0 8-0.5 8-1.5 8-2.5 8-3.5 8-4.5 8-4 6-5 6-5.5 6-6 5-6 4-8 4.5-8 3.5-6 2-8 2-8 0.5-8 0.5-8-1-8-1.5-6-2-6-2-8-4-8-5-6-5-6-5.5-6-7.5-4.5-6.5-4.5-8-3.5-8-2.5-8-1.5-8-0.5-6-0.5-8 1-8 1.5-8 2.5-8 3-8 4.5-8 4-6 5-6 5.5-6 6.5-5 6-4.5 6-3.5 8-3.5 8-2.5 8-2 7-1M1302.5 1128l7-0.5 8 0 8 1 8 2 8 3 6 3 6 3.5 5.5 4 6.5 6 5.5 6 4.5 6 3.5 6 3.5 8 2.5 6 1.5 6 1.5 8 0.5 6-0.5 8-1 8-2 8-3 8-3 6-3.5 6-4.5 6-5 6-4.5 4.5-6 4.5-6 4-8 4-6 2.5-6 1.5-8 1.5-8 0.5-8-0.5-8-1-6-1.5-8-3-6-3-6-3.5-6-4.5-6-5.5-5.5-6.5-4.5-6-3.5-6-3.5-8-2.5-6-2-8-0.5-6-0.5-6 0-8 1-8 2-8 2.5-6 3.5-8 3.5-6 4.5-6 9.5-10 6-4.5 6-4 8-4 6-2 6-2 7-1.5M1727.5 1289l-8 0.5-8 0-8-1-8-1.5-6-2.5-8-3.5-8-5-6-4.5-6-6-6-7.5-5-8-3-6-3.5-8-2-8-1.5-8 0-8 0.5-8 1.5-8 2-8 3.5-8 4.5-8 4-6 5-6 6-5.5 6-4.5 8-5 8-4 6-2 8-1.5 8-1 8 0 8 0.5M1095 1118l8.5-1 8-0.5 8 1 8 1 8 2.5 6 2.5 8 4.5 6 4 6 4.5 5.5 5.5 5 6 4.5 6 4.5 8 3 8 2 6 2 8 1 8 0.5 8-0.5 8-1.5 8-2 8-3 8-4.5 8-3.5 6-5 6-5.5 6-6.5 6-6 4.5-6 3.5-8 3.5-6 2-8 2-8 1-6 0-8-0.5-8-1-8-2.5-8-3-8-4.5-6-4.5-6-5-5.5-5.5-5-6-4-6-3.5-6-3.5-8-2.5-8-2-8-1-8 0-6 0.5-8 1-8 2.5-8 2-6 3.5-8 5-8 4.5-6 6-6.5 6-5 6-4.5 8-5 6-2.5 8-3 5.5-1.5M897.5 1120l6-0.5 8 0 8 1 8 2 8 3 6 3 8 5.5 5.5 4 6 6 4.5 6 5 8 3 6 2.5 6 2.5 8 1 8 0.5 8 0 8-1.5 8-2 8-2.5 6-4 8-4 6-4.5 6-6 6.5-6 5-6 4-8 4-6 2-8 2.5-8 1-8 0.5-8-0.5M1504.5 1128l7 0 8 0 8 1 8 2 6 2.5 8 3.5 8 5 6 4.5 6 5.5 5 6 4.5 6 4.5 8 3.5 8 3 8 2.5 14 0 8-0.5 8-1 8-2.5 8-2.5 6-3.5 8-4 6-5 7-6 6.5-5.5 4.5-6.5 5-6 3.5-6 3-8 3-8 2-8 1-8 0.5-8-0.5-6-1-8-2-8-3-6-3-8-5-6-4.5-5-5-5.5-6-4.5-6-5-8-3-6-2.5-8-2.5-8-1-8-0.5-8 0.5-8 1.5-8 1.5-6 3-8 4-8 3.5-6 4.5-6 5-6 6-5 8-6 6-4 8-3.5 6-2 8-2 7-1.5M1301.5 1130l8-0.5 8 0 8 1 6 1.5 8 2.5 6 3 6 3.5 6 4 6 5.5 5 5.5 4.5 6 4 6 3.5 8 2.5 6 1.5 6 1.5 8 0.5 6-0.5 8-1 8-1.5 6-2.5 8-3 6-3.5 6-4 6-9.5 10-5.5 5-6 4-8 4-6 2.5-6 2-8 1-6 0.5-8 0-8-1-6-1.5-6-2-8-3.5-6-3.5-6-4-6-5.5-5.5-6-4-6-4-6-5-12-2.5-8-1-6-0.5-8 0-6 1-8 1-6 2-6 3-8 3.5-6 4-6 4.5-6 5.5-5 6-5 6-4.5 6-3 6-2.5 8-2.5 6-1.5M1727.5 1287l-8 1-8 0-8-1-8-2-6-2-8-4-6-3.5-6.5-5.5-6.5-6-5-6-5-8-3-6-3.5-8-2-8-1.5-8 0-8 0.5-8 1.5-8 2-8 3.5-8 4.5-8 4.5-6 5-6 5.5-5 6-4.5 8-4.5 6-3 8-2.5 8-1.5 8-1 6 0 8 1"/>
</g>
<path fill="#000" d="M927 754H1697V773.2L927 756.4z"/><path fill="#000" d="M927 1344L1485 1355.2H927z"/><path stroke="#000" stroke-width="1.2" d="M998 900v10M1624.3 913v10.7"/>
</g>
<text class="mono" transform="translate(1312,920.5) scale(1,1.03)" font-size="20.5" fill="#fff" text-anchor="middle">Ca</text>
<text class="mono" transform="translate(1471.5,1082.7) scale(1,1.03)" font-size="20.5" fill="#fff" text-anchor="middle">F</text>
<text class="mono" transform="translate(1310.4,1214.6) scale(1,1.03)" font-size="20.5" fill="#fff" text-anchor="middle">F</text>
<text class="mono" transform="translate(1513.1,1218.8) scale(1,1.03)" font-size="20.5" fill="#fff" text-anchor="middle">Cu</text>
<text class="mono" transform="translate(1231.6,1234.1) scale(1,1.03)" font-size="20.5" fill="#fff" text-anchor="middle">Ca</text>
<text class="mono" transform="translate(1633,1242.2) scale(1,1.03)" font-size="20.5" fill="#fff" text-anchor="middle">Ca</text>
</g>
<g id="charts">
<g clip-path="url(#clipL)">
<polyline points="122,195.6 172.6,195.6 177.4,187.9 180.2,165.6 189.3,143.3 192.1,118.1 196.3,78 200.5,118.1 203.3,140.5 208.1,155.8 211.6,190.7 214.5,194 217.5,192 221.4,181 227,177.5 232.6,174 239.5,174 245.1,183.7 257.7,183 274.4,183 278.6,184.4 306.5,184.4 310,186 312.1,188 313.5,192.8 330,193 400,192.8 418,192 426,189.5 434,192.5 440,195 445,198.5 498,198.5 505,196 560,194 600,192.5 640,192 672,190.5 690,192.5 760,192 810,191 822,192 824,194.5" fill="none" stroke="#ff0000" stroke-width="7.0" stroke-linejoin="round" stroke-linecap="butt" />
<polyline points="122,347.3 181.7,344.7 192.8,342 223.7,336.9 265.7,333.6 298.9,329.2 320.9,324.3 343,316 354.1,311.5 357.5,306 360.7,300.5 376.2,298.3 393.9,295 407.1,289.4 416,280.6 420.4,267.3 423.2,240 424.6,229 427.4,229 429.2,240 431.4,267.3 434.7,300.5 440.3,327 444.7,345 446,347.3" fill="none" stroke="#000000" stroke-width="7.5" stroke-linejoin="round" stroke-linecap="butt" />
<polyline points="446,347.3 489.5,346.5 496.3,340.8 528,334 550,328.5 568.8,322.7 582,312 593.8,301.1 609.7,301.1 623.3,295.4 634,300.5 645.9,306.8 659.5,297.7 668,287 673.2,283 678,287 689,307.9 702.6,309 714,311.3 724.2,297.7 736.6,298.8 750.2,294.3 775.2,296.6 793.3,290.9 804.7,292 811.5,285.2 817,286 819.4,289.8 821.7,305.6" fill="none" stroke="#000000" stroke-width="9.0" stroke-linejoin="round" stroke-linecap="butt" />
<polyline points="123,348.8 182.7,346.2 193.8,343.5 224.7,338.4 266.7,335.1 299.9,330.7 321.9,325.8 344,317.5 355.1,313 358.5,307.5 361.7,302 377.2,299.8 394.9,296.5 408.1,290.9 417,282.1 421.4,268.8 424.2,241.5 425.6,230.5 428.4,230.5 430.2,241.5 432.4,268.8 435.7,302 441.3,328.5 445.7,346.5 447,348.8" fill="none" stroke="#00ff00" stroke-width="3.4" stroke-linejoin="round" stroke-linecap="butt" />
<polyline points="446,347.5 540,346.5 570,344.5 600,342.3 625,341.8 650,343.5 672,342.5 700,344.5 760,345.5 825,346.8" fill="none" stroke="#00ff00" stroke-width="3.2" stroke-linejoin="round" stroke-linecap="butt" />
<polyline points="122,499.2 171.2,499 175.3,490.1 177.4,473.4 189.3,452.4 192.1,428.7 196,396.5 199.8,428.7 203.3,451 208.8,466.4 211.6,494.3 214,498 217,497.5 221.4,485.9 229.8,479.6 239.5,479.6 245.1,488.7 257.7,488.7 260.5,486.6 281.4,489.4 284.2,490.8 306.5,490.8 310,492 312.1,493.6 313.5,498.5 320,499.2 836,499.2" fill="none" stroke="#0000ff" stroke-width="7.0" stroke-linejoin="round" stroke-linecap="butt" />
<polyline points="122,499.2 171.2,499 175.3,490.1 177.4,473.4 189.3,452.4 192.1,428.7 196,396.5 199.8,428.7 203.3,451 208.8,466.4 211.6,494.3 214,498 217,497.5 221.4,485.9 229.8,479.6 239.5,479.6 245.1,488.7 257.7,488.7 260.5,486.6 281.4,489.4 284.2,490.8 306.5,490.8 310,492 312.1,493.6 313.5,498.5 320,499.2 836,499.2" fill="none" stroke="#00ffff" stroke-width="2.6" stroke-linejoin="round" stroke-linecap="butt" />
<polyline points="121,651.4 174,651 178,645 184,632 189.5,605.5 192.8,550.2 196.1,506 199.4,550.2 202.7,572.3 208.3,587.8 210.5,627.6 213.8,650.5 219.3,647.5 230.4,632 237,628.7 248,627.6 263.5,614.3 281.2,603.3 298.9,591.1 306.6,588.9 309.9,598.8 312.1,627.6 315.4,639.7 332,636.4 354.1,630.9 361.8,626.5 418.2,626.5 425.9,623.1 430.3,626.5 433.6,635.3 445.8,650.5 448,652 489.5,651 528,641.3 562,635.6 593.8,624.3 609.7,626.5 623.3,624.3 645.9,628.8 659.5,624.3 673.2,619.7 691.3,633.3 714,634.5 723,623.1 743.4,626.5 763.9,628.8 772.9,632.2 800.1,634.5 811.5,631 820.5,633.3 822.8,640.1" fill="none" stroke="#ff00ff" stroke-width="8.0" stroke-linejoin="round" stroke-linecap="butt" />
<polyline points="174,651 178,645.5 184,633 189.5,607 192.8,553 196.1,511 199.4,553 202.7,574 208.3,589.5 210.5,628.5 213.8,651 240,651 270,648.5 306,645.5 315.4,642.5 332,639.4 354.1,633.9 361.8,629.5 418.2,629.5 425.9,626.1 430.3,629.5 433.6,637.8 445.8,651 520,651 540,646 562,640.5 593.8,629.3 609.7,630.5 623.3,628.3 645.9,632.8 659.5,628.3 673.2,623.7 691.3,637.3 714,638.5 723,627.1 743.4,630.5 763.9,632.8 772.9,636.2 800.1,638.5 811.5,636 820.5,638.3 822.8,643.1" fill="none" stroke="#670748" stroke-width="4.0" stroke-linejoin="round" stroke-linecap="butt" />
</g>
<line x1="302.3" y1="44" x2="302.3" y2="651.1" stroke="#000" stroke-width="4.0"/>
<rect x="73" y="44" width="763.3" height="607.1" fill="none" stroke="#000" stroke-width="5.2"/>
<line x1="73" y1="195.9" x2="836.3" y2="195.9" stroke="#000" stroke-width="5.6"/>
<line x1="73" y1="347.5" x2="836.3" y2="347.5" stroke="#000" stroke-width="5.6"/>
<line x1="73" y1="499.5" x2="836.3" y2="499.5" stroke="#000" stroke-width="5.6"/>
<path d="M149.7 44V64M149.7 175.9V215.9M149.7 327.5V367.5M149.7 479.5V499.5M149.7 631.1V651.1M226 44V55M226 184.9V206.9M226 336.5V358.5M226 488.5V499.5M226 640.1V651.1M378.6 44V55M378.6 184.9V206.9M378.6 336.5V358.5M378.6 488.5V499.5M378.6 640.1V651.1M454.9 44V64M454.9 175.9V215.9M454.9 327.5V367.5M454.9 479.5V499.5M454.9 631.1V651.1M531.1 44V55M531.1 184.9V206.9M531.1 336.5V358.5M531.1 488.5V499.5M531.1 640.1V651.1M607.4 44V64M607.4 175.9V215.9M607.4 327.5V367.5M607.4 479.5V499.5M607.4 631.1V651.1M683.7 44V55M683.7 184.9V206.9M683.7 336.5V358.5M683.7 488.5V499.5M683.7 640.1V651.1M760 44V64M760 175.9V215.9M760 327.5V367.5M760 479.5V499.5M760 631.1V651.1" stroke="#000" stroke-width="3.5" fill="none"/>
<path d="M73 175.9H83.2M73 155.9H90.8M73 135.9H83.2M73 116H90.8M73 96H83.2M73 76H90.8M73 56H83.2M73 335H83.2M73 322.5H90.8M73 309.9H83.2M73 297.4H90.8M73 284.8H83.2M73 272.2H90.8M73 259.7H83.2M73 247.1H90.8M73 234.6H83.2M73 222H90.8M73 209.4H83.2M73 480.6H83.2M73 461.7H90.8M73 442.8H83.2M73 423.9H90.8M73 405H83.2M73 386.1H90.8M73 367.2H83.2M73 626.1H83.2M73 601.1H90.8M73 576.1H83.2M73 551.1H90.8M73 526.1H83.2" stroke="#000" stroke-width="4.2" fill="none"/>
<text transform="translate(66.5,205.9) scale(0.87,1.0)" font-size="25.5" fill="#000" stroke="#000" text-anchor="end" >0</text>
<text transform="translate(66.5,165.9) scale(0.87,1.0)" font-size="25.5" fill="#000" stroke="#000" text-anchor="end" >10</text>
<text transform="translate(66.5,126) scale(0.87,1.0)" font-size="25.5" fill="#000" stroke="#000" text-anchor="end" >20</text>
<text transform="translate(66.5,86) scale(0.87,1.0)" font-size="25.5" fill="#000" stroke="#000" text-anchor="end" >30</text>
<text transform="translate(66.5,332.5) scale(0.87,1.0)" font-size="25.5" fill="#000" stroke="#000" text-anchor="end" >0.2</text>
<text transform="translate(66.5,307.4) scale(0.87,1.0)" font-size="25.5" fill="#000" stroke="#000" text-anchor="end" >0.4</text>
<text transform="translate(66.5,282.2) scale(0.87,1.0)" font-size="25.5" fill="#000" stroke="#000" text-anchor="end" >0.6</text>
<text transform="translate(66.5,257.1) scale(0.87,1.0)" font-size="25.5" fill="#000" stroke="#000" text-anchor="end" >0.8</text>
<text transform="translate(66.5,232) scale(0.87,1.0)" font-size="25.5" fill="#000" stroke="#000" text-anchor="end" >1</text>
<text transform="translate(66.5,357.5) scale(0.87,1.0)" font-size="25.5" fill="#000" stroke="#000" text-anchor="end" >40</text>
<text transform="translate(66.5,396) scale(0.87,1.0)" font-size="25.5" fill="#000" stroke="#000" text-anchor="end" >30</text>
<text transform="translate(66.5,433.9) scale(0.87,1.0)" font-size="25.5" fill="#000" stroke="#000" text-anchor="end" >20</text>
<text transform="translate(66.5,471.7) scale(0.87,1.0)" font-size="25.5" fill="#000" stroke="#000" text-anchor="end" >10</text>
<text transform="translate(66.5,509.5) scale(0.87,1.0)" font-size="25.5" fill="#000" stroke="#000" text-anchor="end" >0</text>
<text transform="translate(66.5,561.1) scale(0.87,1.0)" font-size="25.5" fill="#000" stroke="#000" text-anchor="end" >0.2</text>
<text transform="translate(66.5,611.1) scale(0.87,1.0)" font-size="25.5" fill="#000" stroke="#000" text-anchor="end" >0.1</text>
<text transform="translate(66.5,661.1) scale(0.87,1.0)" font-size="25.5" fill="#000" stroke="#000" text-anchor="end" >0</text>
<text transform="translate(150.7,678.3) scale(0.87,1.0)" font-size="25" fill="#000" stroke="#000" text-anchor="middle" >-2</text>
<text transform="translate(303.3,678.3) scale(0.87,1.0)" font-size="25" fill="#000" stroke="#000" text-anchor="middle" >0</text>
<text transform="translate(455.9,678.3) scale(0.87,1.0)" font-size="25" fill="#000" stroke="#000" text-anchor="middle" >2</text>
<text transform="translate(608.4,678.3) scale(0.87,1.0)" font-size="25" fill="#000" stroke="#000" text-anchor="middle" >4</text>
<text transform="translate(761,678.3) scale(0.87,1.0)" font-size="25" fill="#000" stroke="#000" text-anchor="middle" >6</text>
<text transform="translate(309,712.7) scale(0.846,1.0)" font-size="38" fill="#000" stroke="#000" text-anchor="start" >Energy (eV)</text>
<text transform="translate(26.5,559) rotate(-90) scale(0.992,0.92)" font-size="36.6" stroke="#000">TDOS &amp; PDOS (States /eV)</text>
<text transform="translate(291,26.7) scale(0.8,1.0)" font-size="25" fill="#000" stroke="#000" text-anchor="start" >E</text>
<text transform="translate(305.6,36.8) scale(0.8,1.0)" font-size="16.5" fill="#000" stroke="#000" text-anchor="start" >F</text>
<text transform="translate(641.9,87.2) scale(0.846,1.0)" font-size="25.5" fill="#ff0000" stroke="#ff0000" text-anchor="start" >TDOS of MgCuF</text><text transform="translate(802.8,96.7) scale(0.85,1.0)" font-size="16.5" fill="#ff0000" stroke="#ff0000" text-anchor="start" >3</text>
<text transform="translate(639.1,228.5) scale(0.843,1.0)" font-size="25.5" fill="#000000" stroke="#000000" text-anchor="start" >PDOS of Mg</text>
<text transform="translate(638.6,256.3) scale(0.84,1.0)" font-size="25.5" fill="#00ff00" stroke="#00ff00" text-anchor="start" >PDOS of Mg-s states</text>
<text transform="translate(643.4,383.4) scale(0.843,1.0)" font-size="25.5" fill="#0000ff" stroke="#0000ff" text-anchor="start" >PDOS of Cu</text>
<text transform="translate(643.4,408.6) scale(0.842,1.0)" font-size="25.5" fill="#00ffff" stroke="#00ffff" text-anchor="start" >PDOS of Cu-d states</text>
<text transform="translate(649.8,537.6) scale(0.842,1.0)" font-size="25.5" fill="#ff00ff" stroke="#ff00ff" text-anchor="start" >PDOS of F</text>
<text transform="translate(649.8,560) scale(0.842,1.0)" font-size="25.5" fill="#670748" stroke="#670748" text-anchor="start" >PDOS of F-p states</text>
<g clip-path="url(#clipR)">
<polyline points="1007.3,196.2 1057.8,195.8 1062.7,191.3 1068.4,153.8 1074.9,139.2 1078.1,116.4 1082.2,94.5 1086.3,113.1 1088.7,127.8 1094.4,127.8 1098.5,166.9 1105.8,168.5 1112.3,178.3 1125.3,179.9 1133.5,178.3 1146.5,181.5 1162.8,183.1 1169.3,184 1175,188 1182.3,186.4 1188.8,176.6 1195.3,152.2 1199.4,131 1205.1,129.4 1209.2,113.1 1213.2,134.3 1217.3,126.2 1219.8,83.8 1222.5,67.5 1225.5,83.8 1228.7,126.2 1233.6,165.2 1237.7,178.3 1241.7,193.7 1250,193.2 1370,193 1372,192.2 1490,192 1495,191.3 1560,191.2 1575,190.3 1595,190.3 1600,191 1630,190.8 1660,189.3 1675,189 1683,187.5 1690,190 1702,190.5 1703.7,193" fill="none" stroke="#ff0000" stroke-width="7.2" stroke-linejoin="round" stroke-linecap="butt" />
<polyline points="1006.5,350.5 1162.8,350.3 1167.7,343.8 1179.1,339.8 1187.2,331.6 1195.3,307.2 1197.8,287.7 1203.5,286.9 1207.6,271.4 1212.4,294.2 1216.5,284.4 1218.9,242.1 1221.7,222.5 1224.6,242.1 1227.9,287.7 1232.8,320.2 1237.7,336.5 1241.7,347.9 1245,350.5 1705,350.5" fill="none" stroke="#000000" stroke-width="8.0" stroke-linejoin="round" stroke-linecap="butt" />
<polyline points="1163.5,349.5 1167.7,343.8 1179.1,339.8 1187.2,331.6 1195.3,307.2 1197.8,287.7 1203.5,286.9 1207.6,271.4 1212.4,294.2 1216.5,284.4 1218.9,242.1 1221.7,222.5 1224.6,242.1 1227.9,287.7 1232.8,320.2 1237.7,336.5 1241.7,347.9 1243.5,350" fill="none" stroke="#ffff00" stroke-width="2.6" stroke-linejoin="round" stroke-linecap="butt" />
<polyline points="1006.5,503.7 1057.8,503.3 1062.7,491.5 1066.7,462.2 1073.3,445.9 1077.3,423.1 1081.4,397 1085.5,419.9 1087.9,432.9 1093.6,431.3 1097.7,475.2 1104.2,473.6 1112.3,488.2 1125.3,488.2 1133.5,486.6 1146.5,489.1 1162.8,491.5 1168.5,493.1 1170.1,501.3 1175,503.5 1190,502.5 1250,502.3 1260,503.3 1650,503.3 1665,502.3 1690,502.5 1704,503.5" fill="none" stroke="#00ffff" stroke-width="8.0" stroke-linejoin="round" stroke-linecap="butt" />
<polyline points="1057.8,503.5 1062.7,491.5 1066.7,462.2 1073.3,445.9 1077.3,423.1 1081.4,397.5 1085.5,419.9 1087.9,432.9 1093.6,431.3 1097.7,475.2 1104.2,473.6 1112.3,488.2 1125.3,488.2 1133.5,486.6 1146.5,489.1 1162.8,491.5 1168.5,493.1 1170.1,501.3" fill="none" stroke="#ffa500" stroke-width="3.0" stroke-linejoin="round" stroke-linecap="butt" />
<polyline points="1193,502.6 1205,502.6" fill="none" stroke="#ffa500" stroke-width="2.0" stroke-linejoin="round" stroke-linecap="butt" />
<polyline points="1213,502.6 1227,502.6" fill="none" stroke="#ffa500" stroke-width="2.0" stroke-linejoin="round" stroke-linecap="butt" />
<polyline points="1006.5,658.5 1060.2,657 1064,645 1068.4,625.2 1074.1,592.7 1078.1,552 1082.2,524.5 1086.3,529 1089.5,552 1093.6,568.3 1097.7,609 1101.7,638.3 1110.7,635 1118.8,631.7 1128.6,617.1 1135.1,607.3 1146.5,602.4 1156.3,594.3 1162.8,589.4 1167.7,589.4 1169.3,609 1170.9,654.5 1177.4,651.3 1185.6,633.4 1192.1,609 1197,589.4 1203.5,587.8 1207.6,576.4 1212.4,592.7 1216.5,576.4 1218.9,543.8 1222.2,526 1226.3,535.7 1229.5,576.4 1232.8,617.1 1236,641.5 1242.5,656.2 1248.4,653.5 1323.7,650.7 1396.3,645.1 1413,640.9 1474.4,640.9 1485.6,635.4 1547,632.6 1580.5,628.4 1602.8,630.6 1636.3,627 1653,620 1675.4,616.7 1682.4,622.8 1689.3,636.8 1700.5,638.2 1701.9,643.7" fill="none" stroke="#008b00" stroke-width="8.5" stroke-linejoin="round" stroke-linecap="butt" />
<polyline points="1060.2,659 1064,648 1068.4,629 1074.1,596 1078.1,556 1083,529 1086.8,540 1089.5,556 1093.6,573 1097.7,615 1100.9,659.5" fill="none" stroke="#670748" stroke-width="3.6" stroke-linejoin="round" stroke-linecap="butt" />
<polyline points="1172,659 1177.6,656 1185.6,643 1192.1,628.5 1200.2,615.5 1205.1,613.9 1208.4,602.4 1213.2,623.6 1216.5,618.7 1220.6,568.3 1223.8,541 1227.9,573.1 1232.8,625.2 1237.7,648 1242.5,658 1248.4,656.9 1323.7,654.9 1396.3,650.7 1413,646.5 1474.4,645.7 1485.6,641.8 1547,639.6 1580.5,636.8 1614,641.8 1636.3,639 1675.4,636.2 1689.3,643.7 1701.9,646.5" fill="none" stroke="#670748" stroke-width="3.6" stroke-linejoin="round" stroke-linecap="butt" />
</g>
<line x1="1171.8" y1="42.1" x2="1171.8" y2="659.9" stroke="#000" stroke-width="4.0"/>
<rect x="939.1" y="42.1" width="777" height="617.8" fill="none" stroke="#000" stroke-width="4.4"/>
<line x1="939.1" y1="196" x2="1716.1" y2="196" stroke="#000" stroke-width="4.6"/>
<line x1="939.1" y1="350.5" x2="1716.1" y2="350.5" stroke="#000" stroke-width="4.6"/>
<line x1="939.1" y1="505" x2="1716.1" y2="505" stroke="#000" stroke-width="4.6"/>
<path d="M1016.4 42.1V61.9M1016.4 176.2V215.8M1016.4 330.7V370.3M1016.4 485.2V505M1016.4 640.1V659.9M1094.1 42.1V53.8M1094.1 184.3V207.7M1094.1 338.8V362.2M1094.1 493.3V505M1094.1 648.2V659.9M1249.5 42.1V53.8M1249.5 184.3V207.7M1249.5 338.8V362.2M1249.5 493.3V505M1249.5 648.2V659.9M1327.2 42.1V61.9M1327.2 176.2V215.8M1327.2 330.7V370.3M1327.2 485.2V505M1327.2 640.1V659.9M1404.8 42.1V53.8M1404.8 184.3V207.7M1404.8 338.8V362.2M1404.8 493.3V505M1404.8 648.2V659.9M1482.5 42.1V61.9M1482.5 176.2V215.8M1482.5 330.7V370.3M1482.5 485.2V505M1482.5 640.1V659.9M1560.2 42.1V53.8M1560.2 184.3V207.7M1560.2 338.8V362.2M1560.2 493.3V505M1560.2 648.2V659.9M1637.9 42.1V61.9M1637.9 176.2V215.8M1637.9 330.7V370.3M1637.9 485.2V505M1637.9 640.1V659.9" stroke="#000" stroke-width="3.6" fill="none"/>
<path d="M939.1 185H948.7M939.1 174H956.6M939.1 163H948.7M939.1 152H956.6M939.1 141H948.7M939.1 130H956.6M939.1 119.1H948.7M939.1 108.1H956.6M939.1 97.1H948.7M939.1 86.1H956.6M939.1 75.1H948.7M939.1 64.1H956.6M939.1 53.1H948.7M939.1 337.6H948.7M939.1 324.8H956.6M939.1 311.9H948.7M939.1 299H956.6M939.1 286.1H948.7M939.1 273.2H956.6M939.1 260.4H948.7M939.1 247.5H956.6M939.1 234.6H948.7M939.1 221.8H956.6M939.1 208.9H948.7M939.1 492.1H948.7M939.1 479.2H956.6M939.1 466.4H948.7M939.1 453.5H956.6M939.1 440.6H948.7M939.1 427.8H956.6M939.1 414.9H948.7M939.1 402H956.6M939.1 389.1H948.7M939.1 376.2H956.6M939.1 363.4H948.7M939.1 640.5H948.7M939.1 621.2H956.6M939.1 601.8H948.7M939.1 582.4H956.6M939.1 563.1H948.7M939.1 543.7H956.6M939.1 524.4H948.7" stroke="#000" stroke-width="4.2" fill="none"/>
<text transform="translate(931.5,51.4) scale(0.87,1.0)" font-size="25.5" fill="#000" stroke="#000" text-anchor="end" >35</text>
<text transform="translate(931.5,183.3) scale(0.87,1.0)" font-size="25.5" fill="#000" stroke="#000" text-anchor="end" >5</text>
<text transform="translate(931.5,161.3) scale(0.87,1.0)" font-size="25.5" fill="#000" stroke="#000" text-anchor="end" >10</text>
<text transform="translate(931.5,139.3) scale(0.87,1.0)" font-size="25.5" fill="#000" stroke="#000" text-anchor="end" >15</text>
<text transform="translate(931.5,117.4) scale(0.87,1.0)" font-size="25.5" fill="#000" stroke="#000" text-anchor="end" >20</text>
<text transform="translate(931.5,95.4) scale(0.87,1.0)" font-size="25.5" fill="#000" stroke="#000" text-anchor="end" >25</text>
<text transform="translate(931.5,73.4) scale(0.87,1.0)" font-size="25.5" fill="#000" stroke="#000" text-anchor="end" >30</text>
<text transform="translate(931.5,205.3) scale(0.87,1.0)" font-size="25.5" fill="#000" stroke="#000" text-anchor="end" >30</text>
<text transform="translate(931.5,334.1) scale(0.87,1.0)" font-size="25.5" fill="#000" stroke="#000" text-anchor="end" >5</text>
<text transform="translate(931.5,308.3) scale(0.87,1.0)" font-size="25.5" fill="#000" stroke="#000" text-anchor="end" >10</text>
<text transform="translate(931.5,282.6) scale(0.87,1.0)" font-size="25.5" fill="#000" stroke="#000" text-anchor="end" >15</text>
<text transform="translate(931.5,256.8) scale(0.87,1.0)" font-size="25.5" fill="#000" stroke="#000" text-anchor="end" >20</text>
<text transform="translate(931.5,231.1) scale(0.87,1.0)" font-size="25.5" fill="#000" stroke="#000" text-anchor="end" >25</text>
<text transform="translate(931.5,359.8) scale(0.87,1.0)" font-size="25.5" fill="#000" stroke="#000" text-anchor="end" >30</text>
<text transform="translate(931.5,488.6) scale(0.87,1.0)" font-size="25.5" fill="#000" stroke="#000" text-anchor="end" >5</text>
<text transform="translate(931.5,462.8) scale(0.87,1.0)" font-size="25.5" fill="#000" stroke="#000" text-anchor="end" >10</text>
<text transform="translate(931.5,437.1) scale(0.87,1.0)" font-size="25.5" fill="#000" stroke="#000" text-anchor="end" >15</text>
<text transform="translate(931.5,411.3) scale(0.87,1.0)" font-size="25.5" fill="#000" stroke="#000" text-anchor="end" >20</text>
<text transform="translate(931.5,385.6) scale(0.87,1.0)" font-size="25.5" fill="#000" stroke="#000" text-anchor="end" >25</text>
<text transform="translate(931.5,514.3) scale(0.87,1.0)" font-size="25.5" fill="#000" stroke="#000" text-anchor="end" >0.2</text>
<text transform="translate(931.5,514.3) scale(0.87,1.0)" font-size="25.5" fill="#000" stroke="#000" text-anchor="end" >0</text>
<text transform="translate(931.5,630.5) scale(0.87,1.0)" font-size="25.5" fill="#000" stroke="#000" text-anchor="end" >0.05</text>
<text transform="translate(931.5,591.7) scale(0.87,1.0)" font-size="25.5" fill="#000" stroke="#000" text-anchor="end" >0.1</text>
<text transform="translate(931.5,553) scale(0.87,1.0)" font-size="25.5" fill="#000" stroke="#000" text-anchor="end" >0.15</text>
<text transform="translate(931.5,669.2) scale(0.87,1.0)" font-size="25.5" fill="#000" stroke="#000" text-anchor="end" >0</text>
<text transform="translate(1017.4,686.8) scale(0.87,1.0)" font-size="25" fill="#000" stroke="#000" text-anchor="middle" >-2</text>
<text transform="translate(1172.8,686.8) scale(0.87,1.0)" font-size="25" fill="#000" stroke="#000" text-anchor="middle" >0</text>
<text transform="translate(1328.2,686.8) scale(0.87,1.0)" font-size="25" fill="#000" stroke="#000" text-anchor="middle" >2</text>
<text transform="translate(1483.5,686.8) scale(0.87,1.0)" font-size="25" fill="#000" stroke="#000" text-anchor="middle" >4</text>
<text transform="translate(1638.9,686.8) scale(0.87,1.0)" font-size="25" fill="#000" stroke="#000" text-anchor="middle" >6</text>
<text transform="translate(1171.8,725.8) scale(0.857,1.0)" font-size="38.5" fill="#000" stroke="#000" text-anchor="start" >Energy (eV)</text>
<text transform="translate(891,559.5) rotate(-90) scale(1.0,0.95)" font-size="36.77" stroke="#000">TDOS &amp; PDOS (States/eV)</text>
<text transform="translate(1157.2,19.8) scale(0.84,1.0)" font-size="25" fill="#000" stroke="#000" text-anchor="start" >E</text>
<text transform="translate(1172.6,29.4) scale(0.84,1.0)" font-size="16.5" fill="#000" stroke="#000" text-anchor="start" >F</text>
<text transform="translate(1516.5,91.5) scale(0.856,1.0)" font-size="25.5" fill="#ff0000" stroke="#ff0000" text-anchor="start" >TDOS of CaCuF</text><text transform="translate(1674.5,101) scale(0.85,1.0)" font-size="16.5" fill="#ff0000" stroke="#ff0000" text-anchor="start" >3</text>
<text transform="translate(1526.5,238.5) scale(0.852,1.0)" font-size="25.5" fill="#000000" stroke="#000000" text-anchor="start" >PDOS of Ca</text>
<text transform="translate(1521.5,262.5) scale(0.856,1.0)" font-size="25.5" fill="#ffff00" stroke="#ffff00" text-anchor="start" >PDOS of Ca-d states</text>
<text transform="translate(1522.5,390) scale(0.854,1.0)" font-size="25.5" fill="#00ffff" stroke="#00ffff" text-anchor="start" >PDOS of Cu</text>
<text transform="translate(1522.5,417.5) scale(0.857,1.0)" font-size="25.5" fill="#ffa500" stroke="#ffa500" text-anchor="start" >PDOS of Cu-d states</text>
<text transform="translate(1524.1,535.7) scale(0.855,1.0)" font-size="25.5" fill="#008b00" stroke="#008b00" text-anchor="start" >PDOS of F</text>
<text transform="translate(1527.5,558.6) scale(0.858,1.0)" font-size="25.5" fill="#670748" stroke="#670748" text-anchor="start" >PDOS of F-p states</text>
</g>
</svg>
</body>
</html>
